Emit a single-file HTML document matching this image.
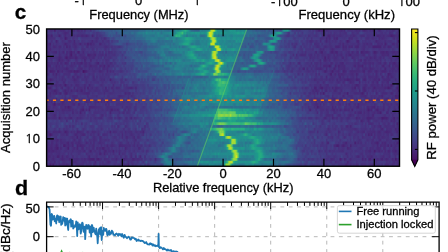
<!DOCTYPE html>
<html><head><meta charset="utf-8"><style>
html,body{margin:0;padding:0;background:#fff;width:448px;height:252px;overflow:hidden}
svg{display:block}
text{font-family:"Liberation Sans",Arial,Helvetica,sans-serif;fill:#000;stroke:#000;stroke-width:0.28px}
</style></head><body>
<svg width="448" height="252" viewBox="0 0 448 252">
<defs><linearGradient id="g0" x1="0" x2="1" y1="0" y2="0"><stop offset=".0021" stop-color="#482475"/><stop offset=".0064" stop-color="#46307e"/><stop offset=".0106" stop-color="#481c6e"/><stop offset=".0149" stop-color="#472c7a"/><stop offset=".0191" stop-color="#481c6e"/><stop offset=".0234" stop-color="#463480"/><stop offset=".0277" stop-color="#472e7c"/><stop offset=".0319" stop-color="#453781"/><stop offset=".0362" stop-color="#482979"/><stop offset=".0404" stop-color="#472f7d"/><stop offset=".0489" stop-color="#482878"/><stop offset=".0532" stop-color="#472e7c"/><stop offset=".0574" stop-color="#482475"/><stop offset=".0660" stop-color="#46337f"/><stop offset=".0745" stop-color="#472a7a"/><stop offset=".0787" stop-color="#433d84"/><stop offset=".0830" stop-color="#472e7c"/><stop offset=".0872" stop-color="#472a7a"/><stop offset=".0915" stop-color="#472f7d"/><stop offset=".1043" stop-color="#472c7a"/><stop offset=".1085" stop-color="#433d84"/><stop offset=".1128" stop-color="#472f7d"/><stop offset=".1213" stop-color="#46337f"/><stop offset=".1255" stop-color="#472d7b"/><stop offset=".1298" stop-color="#424086"/><stop offset=".1340" stop-color="#482576"/><stop offset=".1468" stop-color="#423f85"/><stop offset=".1511" stop-color="#482979"/><stop offset=".1553" stop-color="#463480"/><stop offset=".1596" stop-color="#472c7a"/><stop offset=".1723" stop-color="#46307e"/><stop offset=".1851" stop-color="#443a83"/><stop offset=".1936" stop-color="#472d7b"/><stop offset=".1979" stop-color="#453581"/><stop offset=".2064" stop-color="#472d7b"/><stop offset=".2106" stop-color="#453882"/><stop offset=".2191" stop-color="#472e7c"/><stop offset=".2277" stop-color="#46307e"/><stop offset=".2319" stop-color="#482374"/><stop offset=".2362" stop-color="#433d84"/><stop offset=".2447" stop-color="#472c7a"/><stop offset=".2489" stop-color="#453882"/><stop offset=".2532" stop-color="#46337f"/><stop offset=".2617" stop-color="#424186"/><stop offset=".2660" stop-color="#453882"/><stop offset=".2745" stop-color="#404588"/><stop offset=".2787" stop-color="#46327e"/><stop offset=".2830" stop-color="#423f85"/><stop offset=".2872" stop-color="#472f7d"/><stop offset=".2957" stop-color="#404688"/><stop offset=".3043" stop-color="#414487"/><stop offset=".3085" stop-color="#3c4f8a"/><stop offset=".3128" stop-color="#404588"/><stop offset=".3213" stop-color="#3f4889"/><stop offset=".3255" stop-color="#433e85"/><stop offset=".3298" stop-color="#3f4788"/><stop offset=".3340" stop-color="#30698e"/><stop offset=".3383" stop-color="#31688e"/><stop offset=".3426" stop-color="#2a788e"/><stop offset=".3511" stop-color="#287d8e"/><stop offset=".3553" stop-color="#2c728e"/><stop offset=".3638" stop-color="#3e4a89"/><stop offset=".3681" stop-color="#375b8d"/><stop offset=".3723" stop-color="#375b8d"/><stop offset=".3766" stop-color="#33628d"/><stop offset=".3809" stop-color="#375b8d"/><stop offset=".3851" stop-color="#365d8d"/><stop offset=".3894" stop-color="#3b528b"/><stop offset=".3979" stop-color="#38598c"/><stop offset=".4064" stop-color="#2e6d8e"/><stop offset=".4234" stop-color="#306a8e"/><stop offset=".4277" stop-color="#2c718e"/><stop offset=".4362" stop-color="#2e6d8e"/><stop offset=".4404" stop-color="#2a788e"/><stop offset=".4532" stop-color="#287d8e"/><stop offset=".4574" stop-color="#2c728e"/><stop offset=".4617" stop-color="#228b8d"/><stop offset=".4660" stop-color="#26818e"/><stop offset=".4702" stop-color="#24868e"/><stop offset=".4787" stop-color="#2a788e"/><stop offset=".4830" stop-color="#26828e"/><stop offset=".4872" stop-color="#29798e"/><stop offset=".4915" stop-color="#2a778e"/><stop offset=".4957" stop-color="#277e8e"/><stop offset=".5000" stop-color="#2b758e"/><stop offset=".5043" stop-color="#1f9f88"/><stop offset=".5085" stop-color="#8ed645"/><stop offset=".5170" stop-color="#a5db36"/><stop offset=".5213" stop-color="#48c16e"/><stop offset=".5255" stop-color="#228b8d"/><stop offset=".5298" stop-color="#25848e"/><stop offset=".5340" stop-color="#2b748e"/><stop offset=".5383" stop-color="#26818e"/><stop offset=".5468" stop-color="#2d718e"/><stop offset=".5511" stop-color="#2b748e"/><stop offset=".5596" stop-color="#2c738e"/><stop offset=".5638" stop-color="#25848e"/><stop offset=".5681" stop-color="#228c8d"/><stop offset=".5766" stop-color="#277f8e"/><stop offset=".5809" stop-color="#26828e"/><stop offset=".5851" stop-color="#20928c"/><stop offset=".5894" stop-color="#2b748e"/><stop offset=".5936" stop-color="#27808e"/><stop offset=".6021" stop-color="#2a788e"/><stop offset=".6064" stop-color="#277f8e"/><stop offset=".6106" stop-color="#2e6d8e"/><stop offset=".6149" stop-color="#2a768e"/><stop offset=".6234" stop-color="#2a768e"/><stop offset=".6277" stop-color="#26818e"/><stop offset=".6362" stop-color="#2e6e8e"/><stop offset=".6404" stop-color="#2b758e"/><stop offset=".6447" stop-color="#2d718e"/><stop offset=".6489" stop-color="#33628d"/><stop offset=".6532" stop-color="#2c738e"/><stop offset=".6574" stop-color="#34618d"/><stop offset=".6617" stop-color="#375a8c"/><stop offset=".6660" stop-color="#31678e"/><stop offset=".6702" stop-color="#31688e"/><stop offset=".6787" stop-color="#39568c"/><stop offset=".6872" stop-color="#3e4a89"/><stop offset=".6957" stop-color="#3c508b"/><stop offset=".7000" stop-color="#414487"/><stop offset=".7043" stop-color="#3f4788"/><stop offset=".7213" stop-color="#453882"/><stop offset=".7255" stop-color="#414287"/><stop offset=".7340" stop-color="#463480"/><stop offset=".7426" stop-color="#3f4889"/><stop offset=".7468" stop-color="#433d84"/><stop offset=".7553" stop-color="#453882"/><stop offset=".7638" stop-color="#433e85"/><stop offset=".7681" stop-color="#453882"/><stop offset=".7723" stop-color="#433d84"/><stop offset=".7809" stop-color="#443983"/><stop offset=".7851" stop-color="#46307e"/><stop offset=".7894" stop-color="#453882"/><stop offset=".7936" stop-color="#472f7d"/><stop offset=".8021" stop-color="#414287"/><stop offset=".8106" stop-color="#46337f"/><stop offset=".8149" stop-color="#46327e"/><stop offset=".8191" stop-color="#433d84"/><stop offset=".8234" stop-color="#443b84"/><stop offset=".8277" stop-color="#46327e"/><stop offset=".8447" stop-color="#46307e"/><stop offset=".8489" stop-color="#482374"/><stop offset=".8574" stop-color="#463480"/><stop offset=".8617" stop-color="#472a7a"/><stop offset=".8660" stop-color="#453581"/><stop offset=".8702" stop-color="#472e7c"/><stop offset=".8745" stop-color="#463480"/><stop offset=".8787" stop-color="#482979"/><stop offset=".8830" stop-color="#472c7a"/><stop offset=".8872" stop-color="#424186"/><stop offset=".8915" stop-color="#472c7a"/><stop offset=".9043" stop-color="#472f7d"/><stop offset=".9085" stop-color="#453781"/><stop offset=".9170" stop-color="#472d7b"/><stop offset=".9255" stop-color="#482475"/><stop offset=".9340" stop-color="#463480"/><stop offset=".9383" stop-color="#472f7d"/><stop offset=".9468" stop-color="#453581"/><stop offset=".9511" stop-color="#472d7b"/><stop offset=".9553" stop-color="#433d84"/><stop offset=".9596" stop-color="#472a7a"/><stop offset=".9681" stop-color="#472a7a"/><stop offset=".9723" stop-color="#453581"/><stop offset=".9809" stop-color="#482878"/><stop offset=".9894" stop-color="#463480"/><stop offset=".9936" stop-color="#472c7a"/><stop offset=".9979" stop-color="#472a7a"/></linearGradient>
<linearGradient id="g1" x1="0" x2="1" y1="0" y2="0"><stop offset=".0021" stop-color="#453882"/><stop offset=".0064" stop-color="#453781"/><stop offset=".0106" stop-color="#472c7a"/><stop offset=".0191" stop-color="#46337f"/><stop offset=".0234" stop-color="#482475"/><stop offset=".0277" stop-color="#443983"/><stop offset=".0362" stop-color="#472e7c"/><stop offset=".0404" stop-color="#424186"/><stop offset=".0447" stop-color="#46327e"/><stop offset=".0489" stop-color="#472d7b"/><stop offset=".0617" stop-color="#453882"/><stop offset=".0702" stop-color="#472c7a"/><stop offset=".0830" stop-color="#472a7a"/><stop offset=".0872" stop-color="#46327e"/><stop offset=".0957" stop-color="#46337f"/><stop offset=".1043" stop-color="#472d7b"/><stop offset=".1128" stop-color="#46307e"/><stop offset=".1170" stop-color="#443a83"/><stop offset=".1213" stop-color="#472d7b"/><stop offset=".1298" stop-color="#453882"/><stop offset=".1340" stop-color="#463480"/><stop offset=".1383" stop-color="#482475"/><stop offset=".1426" stop-color="#453882"/><stop offset=".1468" stop-color="#443a83"/><stop offset=".1511" stop-color="#472e7c"/><stop offset=".1553" stop-color="#463480"/><stop offset=".1596" stop-color="#472c7a"/><stop offset=".1638" stop-color="#453882"/><stop offset=".1766" stop-color="#482576"/><stop offset=".1851" stop-color="#443983"/><stop offset=".1979" stop-color="#46307e"/><stop offset=".2021" stop-color="#424186"/><stop offset=".2149" stop-color="#472e7c"/><stop offset=".2191" stop-color="#46337f"/><stop offset=".2234" stop-color="#424186"/><stop offset=".2319" stop-color="#472d7b"/><stop offset=".2362" stop-color="#453781"/><stop offset=".2404" stop-color="#472f7d"/><stop offset=".2532" stop-color="#433d84"/><stop offset=".2574" stop-color="#46337f"/><stop offset=".2617" stop-color="#443983"/><stop offset=".2660" stop-color="#404588"/><stop offset=".2745" stop-color="#46337f"/><stop offset=".2830" stop-color="#39568c"/><stop offset=".2872" stop-color="#433e85"/><stop offset=".3000" stop-color="#3e4989"/><stop offset=".3085" stop-color="#443a83"/><stop offset=".3128" stop-color="#3f4889"/><stop offset=".3213" stop-color="#3e4c8a"/><stop offset=".3255" stop-color="#33638d"/><stop offset=".3340" stop-color="#2d708e"/><stop offset=".3383" stop-color="#27808e"/><stop offset=".3468" stop-color="#27808e"/><stop offset=".3511" stop-color="#287c8e"/><stop offset=".3638" stop-color="#375a8c"/><stop offset=".3723" stop-color="#32658e"/><stop offset=".3851" stop-color="#33638d"/><stop offset=".3894" stop-color="#31668e"/><stop offset=".3936" stop-color="#2d708e"/><stop offset=".3979" stop-color="#2f6b8e"/><stop offset=".4021" stop-color="#2a768e"/><stop offset=".4064" stop-color="#2c728e"/><stop offset=".4106" stop-color="#29798e"/><stop offset=".4149" stop-color="#30698e"/><stop offset=".4191" stop-color="#2a768e"/><stop offset=".4234" stop-color="#2d718e"/><stop offset=".4277" stop-color="#2a778e"/><stop offset=".4362" stop-color="#21908d"/><stop offset=".4404" stop-color="#1f988b"/><stop offset=".4447" stop-color="#228d8d"/><stop offset=".4574" stop-color="#1f968b"/><stop offset=".4617" stop-color="#24878e"/><stop offset=".4660" stop-color="#23898e"/><stop offset=".4702" stop-color="#25838e"/><stop offset=".4745" stop-color="#20928c"/><stop offset=".4872" stop-color="#238a8d"/><stop offset=".4957" stop-color="#20928c"/><stop offset=".5000" stop-color="#228b8d"/><stop offset=".5043" stop-color="#218e8d"/><stop offset=".5085" stop-color="#1f9e89"/><stop offset=".5128" stop-color="#3aba76"/><stop offset=".5170" stop-color="#addc30"/><stop offset=".5255" stop-color="#b8de29"/><stop offset=".5298" stop-color="#2db27d"/><stop offset=".5340" stop-color="#1e9c89"/><stop offset=".5383" stop-color="#1e9c89"/><stop offset=".5426" stop-color="#20928c"/><stop offset=".5468" stop-color="#20938c"/><stop offset=".5596" stop-color="#218f8d"/><stop offset=".5638" stop-color="#1f958b"/><stop offset=".5681" stop-color="#218e8d"/><stop offset=".5766" stop-color="#1f978b"/><stop offset=".5851" stop-color="#27ad81"/><stop offset=".5894" stop-color="#28ae80"/><stop offset=".5936" stop-color="#1fa187"/><stop offset=".5979" stop-color="#1f9f88"/><stop offset=".6021" stop-color="#228b8d"/><stop offset=".6064" stop-color="#26828e"/><stop offset=".6149" stop-color="#25848e"/><stop offset=".6191" stop-color="#238a8d"/><stop offset=".6362" stop-color="#23888e"/><stop offset=".6404" stop-color="#277e8e"/><stop offset=".6447" stop-color="#297a8e"/><stop offset=".6489" stop-color="#2e6d8e"/><stop offset=".6532" stop-color="#2a778e"/><stop offset=".6574" stop-color="#2e6e8e"/><stop offset=".6617" stop-color="#2e6d8e"/><stop offset=".6745" stop-color="#2b758e"/><stop offset=".6787" stop-color="#2d708e"/><stop offset=".6830" stop-color="#2b758e"/><stop offset=".6915" stop-color="#31668e"/><stop offset=".7085" stop-color="#3c508b"/><stop offset=".7170" stop-color="#3c508b"/><stop offset=".7213" stop-color="#424186"/><stop offset=".7255" stop-color="#39558c"/><stop offset=".7298" stop-color="#404688"/><stop offset=".7383" stop-color="#453882"/><stop offset=".7426" stop-color="#3e4c8a"/><stop offset=".7468" stop-color="#3e4a89"/><stop offset=".7511" stop-color="#424186"/><stop offset=".7553" stop-color="#3e4c8a"/><stop offset=".7638" stop-color="#433d84"/><stop offset=".7766" stop-color="#424086"/><stop offset=".7809" stop-color="#472e7c"/><stop offset=".7851" stop-color="#3f4788"/><stop offset=".7894" stop-color="#453882"/><stop offset=".7936" stop-color="#453581"/><stop offset=".7979" stop-color="#443b84"/><stop offset=".8064" stop-color="#472e7c"/><stop offset=".8106" stop-color="#443b84"/><stop offset=".8149" stop-color="#433d84"/><stop offset=".8191" stop-color="#482979"/><stop offset=".8234" stop-color="#46337f"/><stop offset=".8277" stop-color="#46327e"/><stop offset=".8362" stop-color="#453781"/><stop offset=".8404" stop-color="#424186"/><stop offset=".8447" stop-color="#453581"/><stop offset=".8489" stop-color="#453882"/><stop offset=".8532" stop-color="#482374"/><stop offset=".8574" stop-color="#46307e"/><stop offset=".8745" stop-color="#433d84"/><stop offset=".8787" stop-color="#46307e"/><stop offset=".8830" stop-color="#453882"/><stop offset=".9043" stop-color="#463480"/><stop offset=".9085" stop-color="#443b84"/><stop offset=".9128" stop-color="#46337f"/><stop offset=".9298" stop-color="#443a83"/><stop offset=".9340" stop-color="#472c7a"/><stop offset=".9383" stop-color="#453882"/><stop offset=".9596" stop-color="#443a83"/><stop offset=".9638" stop-color="#472d7b"/><stop offset=".9681" stop-color="#463480"/><stop offset=".9723" stop-color="#472e7c"/><stop offset=".9766" stop-color="#443a83"/><stop offset=".9851" stop-color="#482878"/><stop offset=".9894" stop-color="#46327e"/><stop offset=".9936" stop-color="#482979"/><stop offset=".9979" stop-color="#453781"/></linearGradient>
<linearGradient id="g2" x1="0" x2="1" y1="0" y2="0"><stop offset=".0021" stop-color="#482878"/><stop offset=".0064" stop-color="#482878"/><stop offset=".0106" stop-color="#46327e"/><stop offset=".0191" stop-color="#482677"/><stop offset=".0234" stop-color="#472f7d"/><stop offset=".0319" stop-color="#453581"/><stop offset=".0447" stop-color="#482576"/><stop offset=".0532" stop-color="#472e7c"/><stop offset=".0617" stop-color="#472e7c"/><stop offset=".0660" stop-color="#482374"/><stop offset=".0702" stop-color="#472f7d"/><stop offset=".0872" stop-color="#472a7a"/><stop offset=".0957" stop-color="#46327e"/><stop offset=".1000" stop-color="#472a7a"/><stop offset=".1043" stop-color="#472f7d"/><stop offset=".1085" stop-color="#482677"/><stop offset=".1128" stop-color="#472f7d"/><stop offset=".1213" stop-color="#482475"/><stop offset=".1340" stop-color="#482071"/><stop offset=".1383" stop-color="#46327e"/><stop offset=".1426" stop-color="#482374"/><stop offset=".1468" stop-color="#481f70"/><stop offset=".1511" stop-color="#472c7a"/><stop offset=".1553" stop-color="#472c7a"/><stop offset=".1596" stop-color="#443a83"/><stop offset=".1638" stop-color="#472a7a"/><stop offset=".1766" stop-color="#472f7d"/><stop offset=".1809" stop-color="#453882"/><stop offset=".1851" stop-color="#472d7b"/><stop offset=".1936" stop-color="#472f7d"/><stop offset=".1979" stop-color="#482576"/><stop offset=".2021" stop-color="#46307e"/><stop offset=".2149" stop-color="#443983"/><stop offset=".2191" stop-color="#482173"/><stop offset=".2234" stop-color="#472a7a"/><stop offset=".2319" stop-color="#46327e"/><stop offset=".2404" stop-color="#472f7d"/><stop offset=".2447" stop-color="#482374"/><stop offset=".2532" stop-color="#472e7c"/><stop offset=".2574" stop-color="#472a7a"/><stop offset=".2660" stop-color="#472f7d"/><stop offset=".2702" stop-color="#472c7a"/><stop offset=".2745" stop-color="#423f85"/><stop offset=".2787" stop-color="#46307e"/><stop offset=".2872" stop-color="#423f85"/><stop offset=".2915" stop-color="#453781"/><stop offset=".2957" stop-color="#463480"/><stop offset=".3000" stop-color="#424086"/><stop offset=".3043" stop-color="#424086"/><stop offset=".3085" stop-color="#482979"/><stop offset=".3128" stop-color="#443a83"/><stop offset=".3213" stop-color="#404688"/><stop offset=".3255" stop-color="#39568c"/><stop offset=".3298" stop-color="#355f8d"/><stop offset=".3340" stop-color="#297b8e"/><stop offset=".3383" stop-color="#25848e"/><stop offset=".3426" stop-color="#287d8e"/><stop offset=".3468" stop-color="#31678e"/><stop offset=".3511" stop-color="#31688e"/><stop offset=".3553" stop-color="#375b8d"/><stop offset=".3596" stop-color="#3a538b"/><stop offset=".3638" stop-color="#39558c"/><stop offset=".3681" stop-color="#3d4d8a"/><stop offset=".3766" stop-color="#3a548c"/><stop offset=".3809" stop-color="#3b518b"/><stop offset=".3894" stop-color="#34618d"/><stop offset=".3936" stop-color="#39558c"/><stop offset=".3979" stop-color="#365d8d"/><stop offset=".4021" stop-color="#3b528b"/><stop offset=".4106" stop-color="#33628d"/><stop offset=".4149" stop-color="#375a8c"/><stop offset=".4191" stop-color="#32658e"/><stop offset=".4234" stop-color="#33638d"/><stop offset=".4277" stop-color="#2f6b8e"/><stop offset=".4404" stop-color="#2a768e"/><stop offset=".4447" stop-color="#2d718e"/><stop offset=".4532" stop-color="#2f6c8e"/><stop offset=".4574" stop-color="#2e6f8e"/><stop offset=".4660" stop-color="#2e6d8e"/><stop offset=".4702" stop-color="#31668e"/><stop offset=".4830" stop-color="#2c728e"/><stop offset=".4915" stop-color="#2c718e"/><stop offset=".4957" stop-color="#29798e"/><stop offset=".5000" stop-color="#2f6c8e"/><stop offset=".5043" stop-color="#2a768e"/><stop offset=".5085" stop-color="#306a8e"/><stop offset=".5128" stop-color="#24868e"/><stop offset=".5170" stop-color="#29798e"/><stop offset=".5213" stop-color="#23898e"/><stop offset=".5255" stop-color="#3fbc73"/><stop offset=".5298" stop-color="#8bd646"/><stop offset=".5340" stop-color="#a0da39"/><stop offset=".5383" stop-color="#7ad151"/><stop offset=".5426" stop-color="#23898e"/><stop offset=".5468" stop-color="#2b758e"/><stop offset=".5596" stop-color="#2a778e"/><stop offset=".5638" stop-color="#2c728e"/><stop offset=".5723" stop-color="#29798e"/><stop offset=".5766" stop-color="#2a768e"/><stop offset=".5809" stop-color="#27808e"/><stop offset=".5851" stop-color="#277f8e"/><stop offset=".5894" stop-color="#24868e"/><stop offset=".5936" stop-color="#1f978b"/><stop offset=".5979" stop-color="#1e9c89"/><stop offset=".6021" stop-color="#29af7f"/><stop offset=".6064" stop-color="#1f968b"/><stop offset=".6191" stop-color="#32658e"/><stop offset=".6277" stop-color="#2e6f8e"/><stop offset=".6362" stop-color="#33638d"/><stop offset=".6404" stop-color="#2d718e"/><stop offset=".6532" stop-color="#31678e"/><stop offset=".6574" stop-color="#30698e"/><stop offset=".6617" stop-color="#365d8d"/><stop offset=".6660" stop-color="#355e8d"/><stop offset=".6702" stop-color="#3b528b"/><stop offset=".6830" stop-color="#355f8d"/><stop offset=".6957" stop-color="#31688e"/><stop offset=".7043" stop-color="#3b528b"/><stop offset=".7085" stop-color="#3c508b"/><stop offset=".7128" stop-color="#443a83"/><stop offset=".7213" stop-color="#404588"/><stop offset=".7298" stop-color="#453581"/><stop offset=".7340" stop-color="#414287"/><stop offset=".7383" stop-color="#433d84"/><stop offset=".7426" stop-color="#472f7d"/><stop offset=".7468" stop-color="#443a83"/><stop offset=".7553" stop-color="#46327e"/><stop offset=".7596" stop-color="#433d84"/><stop offset=".7638" stop-color="#433d84"/><stop offset=".7681" stop-color="#463480"/><stop offset=".7723" stop-color="#423f85"/><stop offset=".7809" stop-color="#463480"/><stop offset=".7894" stop-color="#463480"/><stop offset=".7936" stop-color="#472e7c"/><stop offset=".8021" stop-color="#453581"/><stop offset=".8064" stop-color="#482878"/><stop offset=".8149" stop-color="#472d7b"/><stop offset=".8191" stop-color="#453882"/><stop offset=".8234" stop-color="#46337f"/><stop offset=".8277" stop-color="#443983"/><stop offset=".8319" stop-color="#482071"/><stop offset=".8362" stop-color="#472a7a"/><stop offset=".8404" stop-color="#443b84"/><stop offset=".8447" stop-color="#482374"/><stop offset=".8532" stop-color="#443a83"/><stop offset=".8617" stop-color="#482878"/><stop offset=".8660" stop-color="#46337f"/><stop offset=".8915" stop-color="#453581"/><stop offset=".8957" stop-color="#482173"/><stop offset=".9000" stop-color="#46327e"/><stop offset=".9043" stop-color="#482475"/><stop offset=".9085" stop-color="#433d84"/><stop offset=".9128" stop-color="#482576"/><stop offset=".9170" stop-color="#482071"/><stop offset=".9213" stop-color="#472f7d"/><stop offset=".9340" stop-color="#472f7d"/><stop offset=".9383" stop-color="#482878"/><stop offset=".9426" stop-color="#46327e"/><stop offset=".9511" stop-color="#482173"/><stop offset=".9553" stop-color="#46327e"/><stop offset=".9638" stop-color="#482576"/><stop offset=".9723" stop-color="#46337f"/><stop offset=".9766" stop-color="#46327e"/><stop offset=".9809" stop-color="#482475"/><stop offset=".9851" stop-color="#46337f"/><stop offset=".9894" stop-color="#48186a"/><stop offset=".9936" stop-color="#472c7a"/><stop offset=".9979" stop-color="#472d7b"/></linearGradient>
<linearGradient id="g3" x1="0" x2="1" y1="0" y2="0"><stop offset=".0021" stop-color="#472e7c"/><stop offset=".0064" stop-color="#482475"/><stop offset=".0149" stop-color="#46327e"/><stop offset=".0191" stop-color="#482979"/><stop offset=".0234" stop-color="#46307e"/><stop offset=".0277" stop-color="#472e7c"/><stop offset=".0319" stop-color="#481f70"/><stop offset=".0404" stop-color="#46337f"/><stop offset=".0447" stop-color="#482475"/><stop offset=".0489" stop-color="#472f7d"/><stop offset=".0532" stop-color="#46327e"/><stop offset=".0574" stop-color="#482677"/><stop offset=".0660" stop-color="#453581"/><stop offset=".0702" stop-color="#453581"/><stop offset=".0745" stop-color="#482979"/><stop offset=".0787" stop-color="#453781"/><stop offset=".0872" stop-color="#46327e"/><stop offset=".0915" stop-color="#443a83"/><stop offset=".1000" stop-color="#46337f"/><stop offset=".1128" stop-color="#443983"/><stop offset=".1213" stop-color="#482576"/><stop offset=".1255" stop-color="#453781"/><stop offset=".1383" stop-color="#46327e"/><stop offset=".1426" stop-color="#472c7a"/><stop offset=".1468" stop-color="#453781"/><stop offset=".1638" stop-color="#46327e"/><stop offset=".1681" stop-color="#453581"/><stop offset=".1723" stop-color="#414487"/><stop offset=".1766" stop-color="#472a7a"/><stop offset=".1809" stop-color="#453781"/><stop offset=".1851" stop-color="#453581"/><stop offset=".1894" stop-color="#433d84"/><stop offset=".1936" stop-color="#472f7d"/><stop offset=".2021" stop-color="#46337f"/><stop offset=".2064" stop-color="#443a83"/><stop offset=".2106" stop-color="#472a7a"/><stop offset=".2149" stop-color="#453781"/><stop offset=".2191" stop-color="#443b84"/><stop offset=".2234" stop-color="#472d7b"/><stop offset=".2277" stop-color="#46327e"/><stop offset=".2319" stop-color="#423f85"/><stop offset=".2404" stop-color="#482878"/><stop offset=".2447" stop-color="#443b84"/><stop offset=".2489" stop-color="#443a83"/><stop offset=".2532" stop-color="#482677"/><stop offset=".2574" stop-color="#404588"/><stop offset=".2660" stop-color="#482677"/><stop offset=".2702" stop-color="#433e85"/><stop offset=".2745" stop-color="#424186"/><stop offset=".2787" stop-color="#482979"/><stop offset=".2830" stop-color="#414287"/><stop offset=".2915" stop-color="#433d84"/><stop offset=".2957" stop-color="#404688"/><stop offset=".3000" stop-color="#424086"/><stop offset=".3043" stop-color="#3f4889"/><stop offset=".3085" stop-color="#404688"/><stop offset=".3255" stop-color="#2a788e"/><stop offset=".3298" stop-color="#23888e"/><stop offset=".3426" stop-color="#2d708e"/><stop offset=".3468" stop-color="#3b518b"/><stop offset=".3553" stop-color="#3a538b"/><stop offset=".3596" stop-color="#31668e"/><stop offset=".3638" stop-color="#365c8d"/><stop offset=".3723" stop-color="#34608d"/><stop offset=".3766" stop-color="#32648e"/><stop offset=".3851" stop-color="#355f8d"/><stop offset=".3894" stop-color="#2e6f8e"/><stop offset=".3979" stop-color="#2d718e"/><stop offset=".4021" stop-color="#2b748e"/><stop offset=".4064" stop-color="#2e6d8e"/><stop offset=".4234" stop-color="#2f6b8e"/><stop offset=".4277" stop-color="#2b758e"/><stop offset=".4319" stop-color="#31668e"/><stop offset=".4404" stop-color="#26828e"/><stop offset=".4447" stop-color="#287c8e"/><stop offset=".4489" stop-color="#25838e"/><stop offset=".4574" stop-color="#297a8e"/><stop offset=".4660" stop-color="#25858e"/><stop offset=".4745" stop-color="#2a768e"/><stop offset=".4787" stop-color="#27808e"/><stop offset=".4830" stop-color="#2b758e"/><stop offset=".4872" stop-color="#25858e"/><stop offset=".4915" stop-color="#26828e"/><stop offset=".4957" stop-color="#25848e"/><stop offset=".5043" stop-color="#27808e"/><stop offset=".5085" stop-color="#26828e"/><stop offset=".5128" stop-color="#228b8d"/><stop offset=".5170" stop-color="#26818e"/><stop offset=".5213" stop-color="#26818e"/><stop offset=".5255" stop-color="#218e8d"/><stop offset=".5298" stop-color="#60ca60"/><stop offset=".5340" stop-color="#a5db36"/><stop offset=".5383" stop-color="#dae319"/><stop offset=".5426" stop-color="#69cd5b"/><stop offset=".5468" stop-color="#20928c"/><stop offset=".5511" stop-color="#24878e"/><stop offset=".5596" stop-color="#287d8e"/><stop offset=".5638" stop-color="#25838e"/><stop offset=".5681" stop-color="#287c8e"/><stop offset=".5766" stop-color="#25858e"/><stop offset=".5851" stop-color="#2a788e"/><stop offset=".5894" stop-color="#218e8d"/><stop offset=".5936" stop-color="#1f968b"/><stop offset=".5979" stop-color="#1f988b"/><stop offset=".6021" stop-color="#23a983"/><stop offset=".6064" stop-color="#25ab82"/><stop offset=".6106" stop-color="#21a685"/><stop offset=".6191" stop-color="#238a8d"/><stop offset=".6277" stop-color="#24878e"/><stop offset=".6362" stop-color="#277e8e"/><stop offset=".6404" stop-color="#26828e"/><stop offset=".6447" stop-color="#297b8e"/><stop offset=".6489" stop-color="#27808e"/><stop offset=".6532" stop-color="#2c728e"/><stop offset=".6574" stop-color="#2d708e"/><stop offset=".6617" stop-color="#2a778e"/><stop offset=".6660" stop-color="#2e6e8e"/><stop offset=".6702" stop-color="#2f6b8e"/><stop offset=".6745" stop-color="#34618d"/><stop offset=".6787" stop-color="#31688e"/><stop offset=".6830" stop-color="#32648e"/><stop offset=".6915" stop-color="#2e6d8e"/><stop offset=".6957" stop-color="#31678e"/><stop offset=".7000" stop-color="#2f6c8e"/><stop offset=".7085" stop-color="#365d8d"/><stop offset=".7128" stop-color="#3e4a89"/><stop offset=".7298" stop-color="#414287"/><stop offset=".7340" stop-color="#443a83"/><stop offset=".7426" stop-color="#404588"/><stop offset=".7468" stop-color="#423f85"/><stop offset=".7511" stop-color="#3e4989"/><stop offset=".7681" stop-color="#423f85"/><stop offset=".7723" stop-color="#414487"/><stop offset=".7766" stop-color="#463480"/><stop offset=".7809" stop-color="#414287"/><stop offset=".7979" stop-color="#46327e"/><stop offset=".8106" stop-color="#453781"/><stop offset=".8149" stop-color="#472e7c"/><stop offset=".8277" stop-color="#443a83"/><stop offset=".8319" stop-color="#463480"/><stop offset=".8362" stop-color="#404688"/><stop offset=".8404" stop-color="#453781"/><stop offset=".8489" stop-color="#453781"/><stop offset=".8532" stop-color="#472c7a"/><stop offset=".8574" stop-color="#443983"/><stop offset=".8660" stop-color="#46307e"/><stop offset=".8702" stop-color="#443a83"/><stop offset=".8830" stop-color="#482576"/><stop offset=".8915" stop-color="#453781"/><stop offset=".8957" stop-color="#472a7a"/><stop offset=".9043" stop-color="#443a83"/><stop offset=".9085" stop-color="#472d7b"/><stop offset=".9170" stop-color="#472c7a"/><stop offset=".9213" stop-color="#482576"/><stop offset=".9255" stop-color="#46307e"/><stop offset=".9298" stop-color="#463480"/><stop offset=".9340" stop-color="#46307e"/><stop offset=".9383" stop-color="#453882"/><stop offset=".9553" stop-color="#482979"/><stop offset=".9596" stop-color="#463480"/><stop offset=".9681" stop-color="#46307e"/><stop offset=".9723" stop-color="#482979"/><stop offset=".9766" stop-color="#453882"/><stop offset=".9851" stop-color="#463480"/><stop offset=".9894" stop-color="#482878"/><stop offset=".9936" stop-color="#424086"/><stop offset=".9979" stop-color="#463480"/></linearGradient>
<linearGradient id="g4" x1="0" x2="1" y1="0" y2="0"><stop offset=".0021" stop-color="#482979"/><stop offset=".0064" stop-color="#472f7d"/><stop offset=".0149" stop-color="#472c7a"/><stop offset=".0191" stop-color="#463480"/><stop offset=".0362" stop-color="#472a7a"/><stop offset=".0404" stop-color="#46337f"/><stop offset=".0489" stop-color="#472f7d"/><stop offset=".0574" stop-color="#433d84"/><stop offset=".0617" stop-color="#472d7b"/><stop offset=".0660" stop-color="#453882"/><stop offset=".0702" stop-color="#472d7b"/><stop offset=".0745" stop-color="#453882"/><stop offset=".0872" stop-color="#463480"/><stop offset=".0915" stop-color="#472d7b"/><stop offset=".1000" stop-color="#443983"/><stop offset=".1043" stop-color="#453882"/><stop offset=".1085" stop-color="#424186"/><stop offset=".1128" stop-color="#472c7a"/><stop offset=".1213" stop-color="#46337f"/><stop offset=".1298" stop-color="#46327e"/><stop offset=".1340" stop-color="#443b84"/><stop offset=".1426" stop-color="#472e7c"/><stop offset=".1468" stop-color="#453581"/><stop offset=".1511" stop-color="#482173"/><stop offset=".1596" stop-color="#453581"/><stop offset=".1638" stop-color="#482475"/><stop offset=".1681" stop-color="#46327e"/><stop offset=".1723" stop-color="#472d7b"/><stop offset=".1766" stop-color="#443a83"/><stop offset=".1809" stop-color="#46307e"/><stop offset=".1851" stop-color="#453882"/><stop offset=".1894" stop-color="#472d7b"/><stop offset=".1936" stop-color="#453581"/><stop offset=".2021" stop-color="#443b84"/><stop offset=".2064" stop-color="#482576"/><stop offset=".2106" stop-color="#443a83"/><stop offset=".2149" stop-color="#472e7c"/><stop offset=".2234" stop-color="#46337f"/><stop offset=".2277" stop-color="#424086"/><stop offset=".2404" stop-color="#472c7a"/><stop offset=".2447" stop-color="#443983"/><stop offset=".2489" stop-color="#443983"/><stop offset=".2532" stop-color="#46327e"/><stop offset=".2574" stop-color="#3f4889"/><stop offset=".2660" stop-color="#443a83"/><stop offset=".2787" stop-color="#424086"/><stop offset=".2830" stop-color="#453581"/><stop offset=".2872" stop-color="#404588"/><stop offset=".3000" stop-color="#3e4989"/><stop offset=".3043" stop-color="#404688"/><stop offset=".3085" stop-color="#3a548c"/><stop offset=".3128" stop-color="#3c508b"/><stop offset=".3213" stop-color="#365c8d"/><stop offset=".3255" stop-color="#375a8c"/><stop offset=".3298" stop-color="#2d708e"/><stop offset=".3340" stop-color="#2c718e"/><stop offset=".3383" stop-color="#23888e"/><stop offset=".3426" stop-color="#297a8e"/><stop offset=".3468" stop-color="#297b8e"/><stop offset=".3511" stop-color="#2b758e"/><stop offset=".3596" stop-color="#365c8d"/><stop offset=".3681" stop-color="#34618d"/><stop offset=".3809" stop-color="#375a8c"/><stop offset=".3894" stop-color="#2f6b8e"/><stop offset=".3936" stop-color="#31668e"/><stop offset=".3979" stop-color="#2e6e8e"/><stop offset=".4021" stop-color="#32648e"/><stop offset=".4064" stop-color="#33638d"/><stop offset=".4106" stop-color="#2e6f8e"/><stop offset=".4191" stop-color="#2c738e"/><stop offset=".4234" stop-color="#2e6f8e"/><stop offset=".4277" stop-color="#2b758e"/><stop offset=".4319" stop-color="#2c718e"/><stop offset=".4362" stop-color="#2c738e"/><stop offset=".4404" stop-color="#26828e"/><stop offset=".4489" stop-color="#228c8d"/><stop offset=".4532" stop-color="#26828e"/><stop offset=".4574" stop-color="#228b8d"/><stop offset=".4617" stop-color="#26828e"/><stop offset=".4702" stop-color="#228b8d"/><stop offset=".4745" stop-color="#228c8d"/><stop offset=".4787" stop-color="#20938c"/><stop offset=".4830" stop-color="#23888e"/><stop offset=".4872" stop-color="#1f968b"/><stop offset=".4915" stop-color="#23898e"/><stop offset=".5085" stop-color="#228d8d"/><stop offset=".5170" stop-color="#238a8d"/><stop offset=".5213" stop-color="#20928c"/><stop offset=".5255" stop-color="#20928c"/><stop offset=".5298" stop-color="#54c568"/><stop offset=".5340" stop-color="#b5de2b"/><stop offset=".5383" stop-color="#a5db36"/><stop offset=".5426" stop-color="#6ccd5a"/><stop offset=".5468" stop-color="#1f9a8a"/><stop offset=".5511" stop-color="#228c8d"/><stop offset=".5553" stop-color="#20938c"/><stop offset=".5681" stop-color="#218f8d"/><stop offset=".5809" stop-color="#20928c"/><stop offset=".5894" stop-color="#21908d"/><stop offset=".5979" stop-color="#1e9b8a"/><stop offset=".6021" stop-color="#23a983"/><stop offset=".6064" stop-color="#25ab82"/><stop offset=".6106" stop-color="#21a585"/><stop offset=".6149" stop-color="#228d8d"/><stop offset=".6234" stop-color="#287c8e"/><stop offset=".6277" stop-color="#297a8e"/><stop offset=".6319" stop-color="#26828e"/><stop offset=".6362" stop-color="#2a768e"/><stop offset=".6404" stop-color="#228b8d"/><stop offset=".6447" stop-color="#238a8d"/><stop offset=".6489" stop-color="#26828e"/><stop offset=".6532" stop-color="#25838e"/><stop offset=".6617" stop-color="#287c8e"/><stop offset=".6702" stop-color="#2e6f8e"/><stop offset=".6745" stop-color="#2d718e"/><stop offset=".6830" stop-color="#31688e"/><stop offset=".6872" stop-color="#2b758e"/><stop offset=".6915" stop-color="#2d718e"/><stop offset=".6957" stop-color="#297a8e"/><stop offset=".7000" stop-color="#31688e"/><stop offset=".7085" stop-color="#38588c"/><stop offset=".7128" stop-color="#3d4e8a"/><stop offset=".7213" stop-color="#3e4c8a"/><stop offset=".7255" stop-color="#433e85"/><stop offset=".7298" stop-color="#3e4a89"/><stop offset=".7383" stop-color="#443a83"/><stop offset=".7426" stop-color="#443983"/><stop offset=".7468" stop-color="#3d4d8a"/><stop offset=".7511" stop-color="#453882"/><stop offset=".7553" stop-color="#414487"/><stop offset=".7596" stop-color="#443a83"/><stop offset=".7638" stop-color="#443a83"/><stop offset=".7681" stop-color="#404688"/><stop offset=".7723" stop-color="#453781"/><stop offset=".7809" stop-color="#433e85"/><stop offset=".7851" stop-color="#443983"/><stop offset=".7894" stop-color="#423f85"/><stop offset=".7936" stop-color="#472f7d"/><stop offset=".7979" stop-color="#433d84"/><stop offset=".8021" stop-color="#424086"/><stop offset=".8106" stop-color="#46337f"/><stop offset=".8149" stop-color="#423f85"/><stop offset=".8191" stop-color="#453581"/><stop offset=".8234" stop-color="#443b84"/><stop offset=".8362" stop-color="#443b84"/><stop offset=".8447" stop-color="#453882"/><stop offset=".8489" stop-color="#482677"/><stop offset=".8574" stop-color="#443983"/><stop offset=".8617" stop-color="#46307e"/><stop offset=".8660" stop-color="#453882"/><stop offset=".8745" stop-color="#453781"/><stop offset=".8787" stop-color="#433e85"/><stop offset=".8915" stop-color="#472d7b"/><stop offset=".8957" stop-color="#472e7c"/><stop offset=".9000" stop-color="#433d84"/><stop offset=".9043" stop-color="#472f7d"/><stop offset=".9128" stop-color="#46337f"/><stop offset=".9170" stop-color="#472d7b"/><stop offset=".9213" stop-color="#453581"/><stop offset=".9255" stop-color="#472f7d"/><stop offset=".9298" stop-color="#472f7d"/><stop offset=".9340" stop-color="#423f85"/><stop offset=".9468" stop-color="#463480"/><stop offset=".9511" stop-color="#433d84"/><stop offset=".9553" stop-color="#472f7d"/><stop offset=".9638" stop-color="#46307e"/><stop offset=".9723" stop-color="#472c7a"/><stop offset=".9766" stop-color="#433e85"/><stop offset=".9851" stop-color="#472c7a"/><stop offset=".9979" stop-color="#472e7c"/></linearGradient>
<linearGradient id="g5" x1="0" x2="1" y1="0" y2="0"><stop offset=".0021" stop-color="#472c7a"/><stop offset=".0064" stop-color="#482071"/><stop offset=".0106" stop-color="#472a7a"/><stop offset=".0191" stop-color="#482475"/><stop offset=".0234" stop-color="#472c7a"/><stop offset=".0277" stop-color="#482979"/><stop offset=".0319" stop-color="#472e7c"/><stop offset=".0362" stop-color="#472c7a"/><stop offset=".0447" stop-color="#453581"/><stop offset=".0532" stop-color="#472d7b"/><stop offset=".0617" stop-color="#46327e"/><stop offset=".0702" stop-color="#46337f"/><stop offset=".0745" stop-color="#472a7a"/><stop offset=".0787" stop-color="#46337f"/><stop offset=".0957" stop-color="#472c7a"/><stop offset=".1000" stop-color="#46327e"/><stop offset=".1085" stop-color="#482677"/><stop offset=".1128" stop-color="#443983"/><stop offset=".1170" stop-color="#453781"/><stop offset=".1255" stop-color="#482071"/><stop offset=".1298" stop-color="#46337f"/><stop offset=".1383" stop-color="#472d7b"/><stop offset=".1426" stop-color="#463480"/><stop offset=".1468" stop-color="#46327e"/><stop offset=".1511" stop-color="#482878"/><stop offset=".1553" stop-color="#453581"/><stop offset=".1596" stop-color="#463480"/><stop offset=".1638" stop-color="#482878"/><stop offset=".1681" stop-color="#482576"/><stop offset=".1723" stop-color="#46327e"/><stop offset=".1766" stop-color="#472a7a"/><stop offset=".1851" stop-color="#46307e"/><stop offset=".1894" stop-color="#482173"/><stop offset=".1936" stop-color="#453581"/><stop offset=".1979" stop-color="#472d7b"/><stop offset=".2021" stop-color="#453581"/><stop offset=".2064" stop-color="#472a7a"/><stop offset=".2149" stop-color="#453781"/><stop offset=".2234" stop-color="#472e7c"/><stop offset=".2277" stop-color="#443983"/><stop offset=".2362" stop-color="#472f7d"/><stop offset=".2404" stop-color="#443983"/><stop offset=".2489" stop-color="#472e7c"/><stop offset=".2532" stop-color="#443a83"/><stop offset=".2574" stop-color="#46337f"/><stop offset=".2660" stop-color="#443983"/><stop offset=".2745" stop-color="#472f7d"/><stop offset=".2787" stop-color="#424086"/><stop offset=".2830" stop-color="#472e7c"/><stop offset=".2872" stop-color="#472f7d"/><stop offset=".2915" stop-color="#433e85"/><stop offset=".2957" stop-color="#414287"/><stop offset=".3000" stop-color="#443983"/><stop offset=".3043" stop-color="#404688"/><stop offset=".3085" stop-color="#3d4d8a"/><stop offset=".3128" stop-color="#433e85"/><stop offset=".3170" stop-color="#3c4f8a"/><stop offset=".3213" stop-color="#39568c"/><stop offset=".3255" stop-color="#404588"/><stop offset=".3298" stop-color="#424186"/><stop offset=".3340" stop-color="#3b518b"/><stop offset=".3383" stop-color="#3b528b"/><stop offset=".3468" stop-color="#365c8d"/><stop offset=".3553" stop-color="#277e8e"/><stop offset=".3596" stop-color="#25848e"/><stop offset=".3638" stop-color="#277f8e"/><stop offset=".3681" stop-color="#2e6e8e"/><stop offset=".3723" stop-color="#32658e"/><stop offset=".3766" stop-color="#31668e"/><stop offset=".3809" stop-color="#3a538b"/><stop offset=".3894" stop-color="#365d8d"/><stop offset=".3936" stop-color="#31678e"/><stop offset=".4021" stop-color="#365d8d"/><stop offset=".4106" stop-color="#365c8d"/><stop offset=".4149" stop-color="#3c508b"/><stop offset=".4191" stop-color="#355e8d"/><stop offset=".4234" stop-color="#34608d"/><stop offset=".4277" stop-color="#375b8d"/><stop offset=".4319" stop-color="#365d8d"/><stop offset=".4362" stop-color="#2c728e"/><stop offset=".4447" stop-color="#26828e"/><stop offset=".4532" stop-color="#287d8e"/><stop offset=".4574" stop-color="#25848e"/><stop offset=".4617" stop-color="#287d8e"/><stop offset=".4660" stop-color="#25858e"/><stop offset=".4702" stop-color="#287c8e"/><stop offset=".4787" stop-color="#26828e"/><stop offset=".4872" stop-color="#27808e"/><stop offset=".4915" stop-color="#23888e"/><stop offset=".4957" stop-color="#29798e"/><stop offset=".5000" stop-color="#277f8e"/><stop offset=".5085" stop-color="#277e8e"/><stop offset=".5170" stop-color="#20928c"/><stop offset=".5213" stop-color="#228c8d"/><stop offset=".5255" stop-color="#54c568"/><stop offset=".5298" stop-color="#9bd93c"/><stop offset=".5340" stop-color="#b0dd2f"/><stop offset=".5383" stop-color="#7ad151"/><stop offset=".5426" stop-color="#1f968b"/><stop offset=".5468" stop-color="#24868e"/><stop offset=".5511" stop-color="#277e8e"/><stop offset=".5553" stop-color="#24868e"/><stop offset=".5638" stop-color="#297b8e"/><stop offset=".5681" stop-color="#26828e"/><stop offset=".5723" stop-color="#287c8e"/><stop offset=".5766" stop-color="#238a8d"/><stop offset=".5809" stop-color="#26828e"/><stop offset=".5851" stop-color="#25838e"/><stop offset=".5936" stop-color="#1f9e89"/><stop offset=".6021" stop-color="#27ad81"/><stop offset=".6149" stop-color="#24868e"/><stop offset=".6234" stop-color="#2a768e"/><stop offset=".6277" stop-color="#297b8e"/><stop offset=".6319" stop-color="#2e6e8e"/><stop offset=".6362" stop-color="#2d708e"/><stop offset=".6404" stop-color="#2f6b8e"/><stop offset=".6447" stop-color="#2e6f8e"/><stop offset=".6489" stop-color="#33628d"/><stop offset=".6532" stop-color="#355f8d"/><stop offset=".6574" stop-color="#31668e"/><stop offset=".6617" stop-color="#365d8d"/><stop offset=".6660" stop-color="#33628d"/><stop offset=".6702" stop-color="#365d8d"/><stop offset=".6745" stop-color="#355f8d"/><stop offset=".6787" stop-color="#31688e"/><stop offset=".6872" stop-color="#2f6b8e"/><stop offset=".7000" stop-color="#355f8d"/><stop offset=".7043" stop-color="#34618d"/><stop offset=".7085" stop-color="#3a538b"/><stop offset=".7128" stop-color="#39568c"/><stop offset=".7255" stop-color="#453781"/><stop offset=".7298" stop-color="#46337f"/><stop offset=".7340" stop-color="#424186"/><stop offset=".7383" stop-color="#453882"/><stop offset=".7426" stop-color="#424086"/><stop offset=".7468" stop-color="#433e85"/><stop offset=".7511" stop-color="#46327e"/><stop offset=".7596" stop-color="#414287"/><stop offset=".7681" stop-color="#423f85"/><stop offset=".7723" stop-color="#472a7a"/><stop offset=".7766" stop-color="#453581"/><stop offset=".7809" stop-color="#463480"/><stop offset=".7851" stop-color="#433e85"/><stop offset=".7894" stop-color="#472d7b"/><stop offset=".7979" stop-color="#443983"/><stop offset=".8021" stop-color="#472a7a"/><stop offset=".8064" stop-color="#463480"/><stop offset=".8149" stop-color="#472f7d"/><stop offset=".8191" stop-color="#453581"/><stop offset=".8404" stop-color="#472c7a"/><stop offset=".8447" stop-color="#453781"/><stop offset=".8532" stop-color="#453581"/><stop offset=".8617" stop-color="#46337f"/><stop offset=".8660" stop-color="#472f7d"/><stop offset=".8702" stop-color="#443983"/><stop offset=".8745" stop-color="#472f7d"/><stop offset=".8915" stop-color="#453581"/><stop offset=".8957" stop-color="#472f7d"/><stop offset=".9000" stop-color="#453882"/><stop offset=".9043" stop-color="#472c7a"/><stop offset=".9085" stop-color="#472f7d"/><stop offset=".9170" stop-color="#482576"/><stop offset=".9213" stop-color="#46307e"/><stop offset=".9255" stop-color="#46307e"/><stop offset=".9298" stop-color="#481c6e"/><stop offset=".9340" stop-color="#472d7b"/><stop offset=".9383" stop-color="#472d7b"/><stop offset=".9426" stop-color="#482475"/><stop offset=".9468" stop-color="#472e7c"/><stop offset=".9511" stop-color="#482979"/><stop offset=".9553" stop-color="#453781"/><stop offset=".9596" stop-color="#482677"/><stop offset=".9638" stop-color="#463480"/><stop offset=".9681" stop-color="#482576"/><stop offset=".9723" stop-color="#482677"/><stop offset=".9766" stop-color="#453781"/><stop offset=".9809" stop-color="#482878"/><stop offset=".9851" stop-color="#482979"/><stop offset=".9894" stop-color="#482173"/><stop offset=".9979" stop-color="#453581"/></linearGradient>
<linearGradient id="g6" x1="0" x2="1" y1="0" y2="0"><stop offset=".0021" stop-color="#472c7a"/><stop offset=".0106" stop-color="#482979"/><stop offset=".0149" stop-color="#482576"/><stop offset=".0191" stop-color="#472f7d"/><stop offset=".0319" stop-color="#481d6f"/><stop offset=".0362" stop-color="#46327e"/><stop offset=".0404" stop-color="#482677"/><stop offset=".0447" stop-color="#46327e"/><stop offset=".0489" stop-color="#453581"/><stop offset=".0574" stop-color="#472c7a"/><stop offset=".0617" stop-color="#481d6f"/><stop offset=".0660" stop-color="#443983"/><stop offset=".0787" stop-color="#482979"/><stop offset=".0830" stop-color="#46337f"/><stop offset=".0872" stop-color="#482374"/><stop offset=".0915" stop-color="#463480"/><stop offset=".0957" stop-color="#453781"/><stop offset=".1000" stop-color="#482878"/><stop offset=".1043" stop-color="#482979"/><stop offset=".1085" stop-color="#433d84"/><stop offset=".1128" stop-color="#472d7b"/><stop offset=".1170" stop-color="#46327e"/><stop offset=".1213" stop-color="#472e7c"/><stop offset=".1255" stop-color="#453882"/><stop offset=".1298" stop-color="#472d7b"/><stop offset=".1340" stop-color="#472a7a"/><stop offset=".1383" stop-color="#443b84"/><stop offset=".1426" stop-color="#482677"/><stop offset=".1468" stop-color="#472f7d"/><stop offset=".1511" stop-color="#482878"/><stop offset=".1553" stop-color="#472d7b"/><stop offset=".1596" stop-color="#481f70"/><stop offset=".1681" stop-color="#46327e"/><stop offset=".1766" stop-color="#472a7a"/><stop offset=".1809" stop-color="#453781"/><stop offset=".1851" stop-color="#472e7c"/><stop offset=".1894" stop-color="#443983"/><stop offset=".1979" stop-color="#46337f"/><stop offset=".2021" stop-color="#453882"/><stop offset=".2064" stop-color="#472e7c"/><stop offset=".2106" stop-color="#433e85"/><stop offset=".2149" stop-color="#46337f"/><stop offset=".2191" stop-color="#433d84"/><stop offset=".2234" stop-color="#482576"/><stop offset=".2319" stop-color="#46337f"/><stop offset=".2362" stop-color="#46327e"/><stop offset=".2404" stop-color="#443983"/><stop offset=".2489" stop-color="#46337f"/><stop offset=".2574" stop-color="#453581"/><stop offset=".2617" stop-color="#482475"/><stop offset=".2702" stop-color="#443b84"/><stop offset=".2745" stop-color="#453781"/><stop offset=".2787" stop-color="#414487"/><stop offset=".2872" stop-color="#453882"/><stop offset=".3000" stop-color="#3e4a89"/><stop offset=".3085" stop-color="#3f4788"/><stop offset=".3128" stop-color="#424086"/><stop offset=".3170" stop-color="#3d4e8a"/><stop offset=".3213" stop-color="#3f4788"/><stop offset=".3255" stop-color="#3d4e8a"/><stop offset=".3340" stop-color="#3d4d8a"/><stop offset=".3383" stop-color="#375a8c"/><stop offset=".3426" stop-color="#365c8d"/><stop offset=".3468" stop-color="#2d708e"/><stop offset=".3511" stop-color="#2c728e"/><stop offset=".3596" stop-color="#25858e"/><stop offset=".3638" stop-color="#287d8e"/><stop offset=".3681" stop-color="#31668e"/><stop offset=".3723" stop-color="#30698e"/><stop offset=".3809" stop-color="#38598c"/><stop offset=".3851" stop-color="#33628d"/><stop offset=".3936" stop-color="#31678e"/><stop offset=".3979" stop-color="#34608d"/><stop offset=".4021" stop-color="#2f6b8e"/><stop offset=".4064" stop-color="#32648e"/><stop offset=".4106" stop-color="#2e6d8e"/><stop offset=".4149" stop-color="#31668e"/><stop offset=".4191" stop-color="#31668e"/><stop offset=".4234" stop-color="#2c738e"/><stop offset=".4277" stop-color="#2f6c8e"/><stop offset=".4319" stop-color="#2c728e"/><stop offset=".4362" stop-color="#2c728e"/><stop offset=".4404" stop-color="#2a788e"/><stop offset=".4489" stop-color="#297b8e"/><stop offset=".4532" stop-color="#26828e"/><stop offset=".4617" stop-color="#29798e"/><stop offset=".4702" stop-color="#277f8e"/><stop offset=".4872" stop-color="#287c8e"/><stop offset=".4957" stop-color="#25858e"/><stop offset=".5000" stop-color="#277f8e"/><stop offset=".5085" stop-color="#218e8d"/><stop offset=".5128" stop-color="#29af7f"/><stop offset=".5170" stop-color="#a2da37"/><stop offset=".5213" stop-color="#bddf26"/><stop offset=".5255" stop-color="#8ed645"/><stop offset=".5298" stop-color="#21a685"/><stop offset=".5340" stop-color="#21918c"/><stop offset=".5426" stop-color="#1f988b"/><stop offset=".5468" stop-color="#218e8d"/><stop offset=".5511" stop-color="#1f968b"/><stop offset=".5596" stop-color="#1f958b"/><stop offset=".5638" stop-color="#26828e"/><stop offset=".5766" stop-color="#21908d"/><stop offset=".5851" stop-color="#24aa83"/><stop offset=".5936" stop-color="#1f9f88"/><stop offset=".6021" stop-color="#1e9d89"/><stop offset=".6106" stop-color="#218f8d"/><stop offset=".6149" stop-color="#27808e"/><stop offset=".6191" stop-color="#29798e"/><stop offset=".6234" stop-color="#27808e"/><stop offset=".6277" stop-color="#297a8e"/><stop offset=".6319" stop-color="#26828e"/><stop offset=".6362" stop-color="#2c728e"/><stop offset=".6447" stop-color="#27808e"/><stop offset=".6489" stop-color="#297b8e"/><stop offset=".6574" stop-color="#306a8e"/><stop offset=".6617" stop-color="#2d718e"/><stop offset=".6660" stop-color="#30698e"/><stop offset=".6702" stop-color="#2c718e"/><stop offset=".6787" stop-color="#2c738e"/><stop offset=".6830" stop-color="#30698e"/><stop offset=".6915" stop-color="#31688e"/><stop offset=".6957" stop-color="#33628d"/><stop offset=".7000" stop-color="#3b518b"/><stop offset=".7043" stop-color="#3c4f8a"/><stop offset=".7085" stop-color="#433d84"/><stop offset=".7128" stop-color="#39558c"/><stop offset=".7170" stop-color="#3e4989"/><stop offset=".7255" stop-color="#414487"/><stop offset=".7298" stop-color="#443983"/><stop offset=".7383" stop-color="#433d84"/><stop offset=".7426" stop-color="#443983"/><stop offset=".7511" stop-color="#414487"/><stop offset=".7596" stop-color="#423f85"/><stop offset=".7638" stop-color="#3e4c8a"/><stop offset=".7681" stop-color="#453882"/><stop offset=".7723" stop-color="#424086"/><stop offset=".7766" stop-color="#453882"/><stop offset=".7809" stop-color="#404588"/><stop offset=".7851" stop-color="#463480"/><stop offset=".7894" stop-color="#453882"/><stop offset=".7936" stop-color="#472e7c"/><stop offset=".7979" stop-color="#423f85"/><stop offset=".8064" stop-color="#453882"/><stop offset=".8106" stop-color="#424086"/><stop offset=".8149" stop-color="#46337f"/><stop offset=".8191" stop-color="#46337f"/><stop offset=".8234" stop-color="#433e85"/><stop offset=".8277" stop-color="#472d7b"/><stop offset=".8319" stop-color="#463480"/><stop offset=".8404" stop-color="#472e7c"/><stop offset=".8489" stop-color="#453882"/><stop offset=".8532" stop-color="#482475"/><stop offset=".8574" stop-color="#472d7b"/><stop offset=".8617" stop-color="#472d7b"/><stop offset=".8660" stop-color="#453781"/><stop offset=".8745" stop-color="#443983"/><stop offset=".8915" stop-color="#472d7b"/><stop offset=".9000" stop-color="#433d84"/><stop offset=".9085" stop-color="#472d7b"/><stop offset=".9128" stop-color="#453882"/><stop offset=".9170" stop-color="#472a7a"/><stop offset=".9213" stop-color="#472f7d"/><stop offset=".9255" stop-color="#472d7b"/><stop offset=".9298" stop-color="#453581"/><stop offset=".9383" stop-color="#482878"/><stop offset=".9468" stop-color="#472d7b"/><stop offset=".9511" stop-color="#433e85"/><stop offset=".9553" stop-color="#482878"/><stop offset=".9596" stop-color="#482979"/><stop offset=".9638" stop-color="#453882"/><stop offset=".9681" stop-color="#443983"/><stop offset=".9723" stop-color="#472d7b"/><stop offset=".9766" stop-color="#453882"/><stop offset=".9851" stop-color="#482979"/><stop offset=".9979" stop-color="#453882"/></linearGradient>
<linearGradient id="g7" x1="0" x2="1" y1="0" y2="0"><stop offset=".0021" stop-color="#472a7a"/><stop offset=".0064" stop-color="#472e7c"/><stop offset=".0149" stop-color="#482878"/><stop offset=".0191" stop-color="#472f7d"/><stop offset=".0234" stop-color="#472e7c"/><stop offset=".0277" stop-color="#482475"/><stop offset=".0319" stop-color="#482878"/><stop offset=".0362" stop-color="#453781"/><stop offset=".0404" stop-color="#472c7a"/><stop offset=".0447" stop-color="#443983"/><stop offset=".0489" stop-color="#481c6e"/><stop offset=".0574" stop-color="#472d7b"/><stop offset=".0617" stop-color="#482677"/><stop offset=".0660" stop-color="#472e7c"/><stop offset=".0702" stop-color="#472e7c"/><stop offset=".0745" stop-color="#482475"/><stop offset=".0787" stop-color="#443a83"/><stop offset=".0830" stop-color="#443a83"/><stop offset=".0872" stop-color="#482374"/><stop offset=".0915" stop-color="#472c7a"/><stop offset=".0957" stop-color="#482576"/><stop offset=".1085" stop-color="#472d7b"/><stop offset=".1128" stop-color="#453581"/><stop offset=".1170" stop-color="#453781"/><stop offset=".1213" stop-color="#472d7b"/><stop offset=".1255" stop-color="#46337f"/><stop offset=".1340" stop-color="#482878"/><stop offset=".1383" stop-color="#453781"/><stop offset=".1468" stop-color="#46327e"/><stop offset=".1511" stop-color="#443983"/><stop offset=".1553" stop-color="#472a7a"/><stop offset=".1596" stop-color="#453882"/><stop offset=".1638" stop-color="#472f7d"/><stop offset=".1681" stop-color="#46327e"/><stop offset=".1723" stop-color="#482677"/><stop offset=".1766" stop-color="#463480"/><stop offset=".1851" stop-color="#482878"/><stop offset=".2021" stop-color="#443983"/><stop offset=".2064" stop-color="#482677"/><stop offset=".2319" stop-color="#472e7c"/><stop offset=".2362" stop-color="#472a7a"/><stop offset=".2404" stop-color="#453581"/><stop offset=".2489" stop-color="#472a7a"/><stop offset=".2532" stop-color="#443983"/><stop offset=".2574" stop-color="#472a7a"/><stop offset=".2617" stop-color="#463480"/><stop offset=".2702" stop-color="#472e7c"/><stop offset=".2745" stop-color="#423f85"/><stop offset=".2787" stop-color="#463480"/><stop offset=".2872" stop-color="#443983"/><stop offset=".2915" stop-color="#472e7c"/><stop offset=".3000" stop-color="#424186"/><stop offset=".3085" stop-color="#443b84"/><stop offset=".3128" stop-color="#3e4989"/><stop offset=".3255" stop-color="#424086"/><stop offset=".3298" stop-color="#3c4f8a"/><stop offset=".3340" stop-color="#3f4788"/><stop offset=".3383" stop-color="#3d4e8a"/><stop offset=".3468" stop-color="#3d4e8a"/><stop offset=".3553" stop-color="#365c8d"/><stop offset=".3596" stop-color="#29798e"/><stop offset=".3638" stop-color="#2d708e"/><stop offset=".3681" stop-color="#26818e"/><stop offset=".3766" stop-color="#297b8e"/><stop offset=".3809" stop-color="#33638d"/><stop offset=".3851" stop-color="#2f6c8e"/><stop offset=".3894" stop-color="#2e6f8e"/><stop offset=".3979" stop-color="#355e8d"/><stop offset=".4064" stop-color="#2e6f8e"/><stop offset=".4106" stop-color="#355f8d"/><stop offset=".4191" stop-color="#2e6e8e"/><stop offset=".4234" stop-color="#2e6f8e"/><stop offset=".4277" stop-color="#31678e"/><stop offset=".4319" stop-color="#2f6c8e"/><stop offset=".4404" stop-color="#30698e"/><stop offset=".4574" stop-color="#26828e"/><stop offset=".4745" stop-color="#297a8e"/><stop offset=".4830" stop-color="#26828e"/><stop offset=".4872" stop-color="#2d708e"/><stop offset=".4915" stop-color="#2d708e"/><stop offset=".4957" stop-color="#2a778e"/><stop offset=".5000" stop-color="#2a778e"/><stop offset=".5085" stop-color="#1f998a"/><stop offset=".5128" stop-color="#7ad151"/><stop offset=".5170" stop-color="#bade28"/><stop offset=".5213" stop-color="#98d83e"/><stop offset=".5255" stop-color="#4cc26c"/><stop offset=".5298" stop-color="#25838e"/><stop offset=".5383" stop-color="#26828e"/><stop offset=".5426" stop-color="#2a788e"/><stop offset=".5511" stop-color="#26818e"/><stop offset=".5553" stop-color="#2a788e"/><stop offset=".5596" stop-color="#238a8d"/><stop offset=".5638" stop-color="#287d8e"/><stop offset=".5681" stop-color="#228d8d"/><stop offset=".5723" stop-color="#25838e"/><stop offset=".5809" stop-color="#1fa187"/><stop offset=".5851" stop-color="#22a785"/><stop offset=".5894" stop-color="#1e9c89"/><stop offset=".5936" stop-color="#1f988b"/><stop offset=".5979" stop-color="#24868e"/><stop offset=".6021" stop-color="#25848e"/><stop offset=".6064" stop-color="#2a788e"/><stop offset=".6106" stop-color="#29798e"/><stop offset=".6149" stop-color="#2c728e"/><stop offset=".6191" stop-color="#2b758e"/><stop offset=".6234" stop-color="#2d718e"/><stop offset=".6277" stop-color="#2b758e"/><stop offset=".6362" stop-color="#2e6f8e"/><stop offset=".6404" stop-color="#2e6e8e"/><stop offset=".6447" stop-color="#277f8e"/><stop offset=".6489" stop-color="#31688e"/><stop offset=".6532" stop-color="#2c738e"/><stop offset=".6574" stop-color="#2c728e"/><stop offset=".6617" stop-color="#30698e"/><stop offset=".6660" stop-color="#2d718e"/><stop offset=".6745" stop-color="#2c728e"/><stop offset=".6787" stop-color="#2e6d8e"/><stop offset=".6830" stop-color="#2e6d8e"/><stop offset=".6915" stop-color="#38588c"/><stop offset=".7043" stop-color="#3e4a89"/><stop offset=".7085" stop-color="#414287"/><stop offset=".7213" stop-color="#424086"/><stop offset=".7255" stop-color="#443a83"/><stop offset=".7298" stop-color="#3f4889"/><stop offset=".7340" stop-color="#46327e"/><stop offset=".7383" stop-color="#424186"/><stop offset=".7426" stop-color="#414487"/><stop offset=".7468" stop-color="#443983"/><stop offset=".7511" stop-color="#424186"/><stop offset=".7553" stop-color="#453781"/><stop offset=".7638" stop-color="#443983"/><stop offset=".7681" stop-color="#46337f"/><stop offset=".7723" stop-color="#424086"/><stop offset=".7766" stop-color="#46307e"/><stop offset=".7894" stop-color="#453581"/><stop offset=".7936" stop-color="#472f7d"/><stop offset=".7979" stop-color="#443b84"/><stop offset=".8021" stop-color="#443b84"/><stop offset=".8064" stop-color="#463480"/><stop offset=".8106" stop-color="#424086"/><stop offset=".8149" stop-color="#482979"/><stop offset=".8191" stop-color="#482979"/><stop offset=".8234" stop-color="#481d6f"/><stop offset=".8277" stop-color="#482374"/><stop offset=".8319" stop-color="#463480"/><stop offset=".8404" stop-color="#482173"/><stop offset=".8489" stop-color="#472f7d"/><stop offset=".8532" stop-color="#472e7c"/><stop offset=".8574" stop-color="#443b84"/><stop offset=".8617" stop-color="#482071"/><stop offset=".8660" stop-color="#46337f"/><stop offset=".8787" stop-color="#46307e"/><stop offset=".8830" stop-color="#453781"/><stop offset=".8957" stop-color="#472f7d"/><stop offset=".9170" stop-color="#453882"/><stop offset=".9255" stop-color="#472d7b"/><stop offset=".9340" stop-color="#463480"/><stop offset=".9383" stop-color="#482576"/><stop offset=".9426" stop-color="#453781"/><stop offset=".9468" stop-color="#482677"/><stop offset=".9511" stop-color="#472d7b"/><stop offset=".9596" stop-color="#482878"/><stop offset=".9638" stop-color="#46307e"/><stop offset=".9681" stop-color="#482173"/><stop offset=".9723" stop-color="#453781"/><stop offset=".9766" stop-color="#482173"/><stop offset=".9809" stop-color="#46327e"/><stop offset=".9894" stop-color="#472a7a"/><stop offset=".9979" stop-color="#453581"/></linearGradient>
<linearGradient id="g8" x1="0" x2="1" y1="0" y2="0"><stop offset=".0021" stop-color="#472e7c"/><stop offset=".0064" stop-color="#472d7b"/><stop offset=".0106" stop-color="#463480"/><stop offset=".0149" stop-color="#482677"/><stop offset=".0234" stop-color="#453581"/><stop offset=".0277" stop-color="#482979"/><stop offset=".0362" stop-color="#463480"/><stop offset=".0404" stop-color="#472a7a"/><stop offset=".0532" stop-color="#472f7d"/><stop offset=".0617" stop-color="#482374"/><stop offset=".0660" stop-color="#453581"/><stop offset=".0702" stop-color="#482979"/><stop offset=".0745" stop-color="#482878"/><stop offset=".0787" stop-color="#463480"/><stop offset=".0830" stop-color="#472a7a"/><stop offset=".0872" stop-color="#472d7b"/><stop offset=".0915" stop-color="#482677"/><stop offset=".1043" stop-color="#453781"/><stop offset=".1085" stop-color="#463480"/><stop offset=".1128" stop-color="#482677"/><stop offset=".1213" stop-color="#463480"/><stop offset=".1255" stop-color="#482979"/><stop offset=".1298" stop-color="#453781"/><stop offset=".1340" stop-color="#482878"/><stop offset=".1383" stop-color="#453581"/><stop offset=".1426" stop-color="#453581"/><stop offset=".1511" stop-color="#482878"/><stop offset=".1553" stop-color="#472e7c"/><stop offset=".1638" stop-color="#46307e"/><stop offset=".1681" stop-color="#424086"/><stop offset=".1723" stop-color="#453781"/><stop offset=".1809" stop-color="#443983"/><stop offset=".1851" stop-color="#472c7a"/><stop offset=".1979" stop-color="#424086"/><stop offset=".2021" stop-color="#453581"/><stop offset=".2106" stop-color="#472a7a"/><stop offset=".2191" stop-color="#433d84"/><stop offset=".2319" stop-color="#472c7a"/><stop offset=".2362" stop-color="#443b84"/><stop offset=".2404" stop-color="#46327e"/><stop offset=".2447" stop-color="#443a83"/><stop offset=".2489" stop-color="#472c7a"/><stop offset=".2532" stop-color="#453781"/><stop offset=".2617" stop-color="#472f7d"/><stop offset=".2660" stop-color="#404688"/><stop offset=".2745" stop-color="#424186"/><stop offset=".2787" stop-color="#453581"/><stop offset=".2872" stop-color="#3e4989"/><stop offset=".2915" stop-color="#423f85"/><stop offset=".3043" stop-color="#443a83"/><stop offset=".3128" stop-color="#414287"/><stop offset=".3213" stop-color="#3b518b"/><stop offset=".3298" stop-color="#443983"/><stop offset=".3340" stop-color="#3c4f8a"/><stop offset=".3426" stop-color="#3e4989"/><stop offset=".3638" stop-color="#33638d"/><stop offset=".3723" stop-color="#277f8e"/><stop offset=".3809" stop-color="#297a8e"/><stop offset=".3936" stop-color="#38598c"/><stop offset=".4021" stop-color="#3d4e8a"/><stop offset=".4064" stop-color="#3b528b"/><stop offset=".4106" stop-color="#306a8e"/><stop offset=".4277" stop-color="#31678e"/><stop offset=".4319" stop-color="#2d708e"/><stop offset=".4362" stop-color="#31678e"/><stop offset=".4404" stop-color="#2d718e"/><stop offset=".4447" stop-color="#2e6d8e"/><stop offset=".4574" stop-color="#25858e"/><stop offset=".4660" stop-color="#25838e"/><stop offset=".4702" stop-color="#228b8d"/><stop offset=".4830" stop-color="#29798e"/><stop offset=".4872" stop-color="#26828e"/><stop offset=".4915" stop-color="#2a778e"/><stop offset=".4957" stop-color="#297b8e"/><stop offset=".5000" stop-color="#2e6f8e"/><stop offset=".5043" stop-color="#297a8e"/><stop offset=".5170" stop-color="#27808e"/><stop offset=".5213" stop-color="#22a785"/><stop offset=".5255" stop-color="#addc30"/><stop offset=".5298" stop-color="#9bd93c"/><stop offset=".5340" stop-color="#aadc32"/><stop offset=".5383" stop-color="#25ac82"/><stop offset=".5426" stop-color="#26828e"/><stop offset=".5468" stop-color="#26828e"/><stop offset=".5511" stop-color="#297b8e"/><stop offset=".5553" stop-color="#277e8e"/><stop offset=".5596" stop-color="#24878e"/><stop offset=".5638" stop-color="#2c728e"/><stop offset=".5723" stop-color="#277e8e"/><stop offset=".5766" stop-color="#2d718e"/><stop offset=".5936" stop-color="#21a585"/><stop offset=".5979" stop-color="#27ad81"/><stop offset=".6064" stop-color="#1f968b"/><stop offset=".6106" stop-color="#25838e"/><stop offset=".6149" stop-color="#228b8d"/><stop offset=".6191" stop-color="#2b748e"/><stop offset=".6319" stop-color="#2a788e"/><stop offset=".6362" stop-color="#2d718e"/><stop offset=".6447" stop-color="#2c728e"/><stop offset=".6489" stop-color="#2f6b8e"/><stop offset=".6532" stop-color="#2e6e8e"/><stop offset=".6574" stop-color="#32658e"/><stop offset=".6617" stop-color="#30698e"/><stop offset=".6660" stop-color="#355e8d"/><stop offset=".6702" stop-color="#2d718e"/><stop offset=".6787" stop-color="#2f6b8e"/><stop offset=".6830" stop-color="#306a8e"/><stop offset=".6872" stop-color="#2c738e"/><stop offset=".6915" stop-color="#30698e"/><stop offset=".7000" stop-color="#355f8d"/><stop offset=".7043" stop-color="#3c508b"/><stop offset=".7085" stop-color="#39568c"/><stop offset=".7128" stop-color="#424086"/><stop offset=".7298" stop-color="#414487"/><stop offset=".7340" stop-color="#3e4c8a"/><stop offset=".7383" stop-color="#433e85"/><stop offset=".7468" stop-color="#424186"/><stop offset=".7511" stop-color="#453781"/><stop offset=".7553" stop-color="#433e85"/><stop offset=".7596" stop-color="#46327e"/><stop offset=".7638" stop-color="#414487"/><stop offset=".7681" stop-color="#433e85"/><stop offset=".7766" stop-color="#443a83"/><stop offset=".7809" stop-color="#472d7b"/><stop offset=".7894" stop-color="#433e85"/><stop offset=".7979" stop-color="#482173"/><stop offset=".8021" stop-color="#433d84"/><stop offset=".8149" stop-color="#404688"/><stop offset=".8191" stop-color="#463480"/><stop offset=".8234" stop-color="#453882"/><stop offset=".8277" stop-color="#472f7d"/><stop offset=".8362" stop-color="#443a83"/><stop offset=".8404" stop-color="#472e7c"/><stop offset=".8447" stop-color="#472d7b"/><stop offset=".8489" stop-color="#482173"/><stop offset=".8532" stop-color="#46337f"/><stop offset=".8702" stop-color="#453781"/><stop offset=".8745" stop-color="#481b6d"/><stop offset=".8787" stop-color="#46337f"/><stop offset=".8830" stop-color="#482878"/><stop offset=".8872" stop-color="#46327e"/><stop offset=".8915" stop-color="#482979"/><stop offset=".8957" stop-color="#453882"/><stop offset=".9000" stop-color="#443983"/><stop offset=".9043" stop-color="#472d7b"/><stop offset=".9085" stop-color="#443a83"/><stop offset=".9128" stop-color="#46337f"/><stop offset=".9170" stop-color="#443a83"/><stop offset=".9213" stop-color="#482979"/><stop offset=".9255" stop-color="#46307e"/><stop offset=".9383" stop-color="#482071"/><stop offset=".9426" stop-color="#46307e"/><stop offset=".9468" stop-color="#453882"/><stop offset=".9511" stop-color="#482677"/><stop offset=".9553" stop-color="#472d7b"/><stop offset=".9596" stop-color="#482475"/><stop offset=".9638" stop-color="#46327e"/><stop offset=".9681" stop-color="#453581"/><stop offset=".9723" stop-color="#472e7c"/><stop offset=".9809" stop-color="#46337f"/><stop offset=".9851" stop-color="#472c7a"/><stop offset=".9894" stop-color="#46337f"/><stop offset=".9936" stop-color="#482173"/><stop offset=".9979" stop-color="#472c7a"/></linearGradient>
<linearGradient id="g9" x1="0" x2="1" y1="0" y2="0"><stop offset=".0021" stop-color="#46307e"/><stop offset=".0064" stop-color="#443983"/><stop offset=".0149" stop-color="#482979"/><stop offset=".0234" stop-color="#472e7c"/><stop offset=".0319" stop-color="#482677"/><stop offset=".0362" stop-color="#46327e"/><stop offset=".0404" stop-color="#482878"/><stop offset=".0447" stop-color="#46307e"/><stop offset=".0532" stop-color="#46307e"/><stop offset=".0574" stop-color="#453882"/><stop offset=".0660" stop-color="#46327e"/><stop offset=".0702" stop-color="#443b84"/><stop offset=".0787" stop-color="#482878"/><stop offset=".0872" stop-color="#453882"/><stop offset=".0915" stop-color="#472a7a"/><stop offset=".0957" stop-color="#472c7a"/><stop offset=".1043" stop-color="#414287"/><stop offset=".1085" stop-color="#472f7d"/><stop offset=".1170" stop-color="#433d84"/><stop offset=".1213" stop-color="#472e7c"/><stop offset=".1298" stop-color="#46327e"/><stop offset=".1340" stop-color="#482979"/><stop offset=".1426" stop-color="#46327e"/><stop offset=".1468" stop-color="#424086"/><stop offset=".1511" stop-color="#482979"/><stop offset=".1596" stop-color="#46337f"/><stop offset=".1681" stop-color="#472d7b"/><stop offset=".1723" stop-color="#46327e"/><stop offset=".1766" stop-color="#472e7c"/><stop offset=".1809" stop-color="#443a83"/><stop offset=".1894" stop-color="#463480"/><stop offset=".1936" stop-color="#453882"/><stop offset=".1979" stop-color="#46327e"/><stop offset=".2064" stop-color="#453781"/><stop offset=".2106" stop-color="#424186"/><stop offset=".2191" stop-color="#46327e"/><stop offset=".2234" stop-color="#453781"/><stop offset=".2277" stop-color="#472d7b"/><stop offset=".2319" stop-color="#433d84"/><stop offset=".2362" stop-color="#453882"/><stop offset=".2404" stop-color="#443a83"/><stop offset=".2532" stop-color="#482878"/><stop offset=".2574" stop-color="#443b84"/><stop offset=".2660" stop-color="#453781"/><stop offset=".2787" stop-color="#424186"/><stop offset=".2872" stop-color="#46327e"/><stop offset=".2915" stop-color="#433e85"/><stop offset=".3000" stop-color="#423f85"/><stop offset=".3085" stop-color="#3f4788"/><stop offset=".3128" stop-color="#3b518b"/><stop offset=".3213" stop-color="#423f85"/><stop offset=".3255" stop-color="#3e4c8a"/><stop offset=".3298" stop-color="#3e4989"/><stop offset=".3426" stop-color="#39558c"/><stop offset=".3468" stop-color="#375b8d"/><stop offset=".3511" stop-color="#39558c"/><stop offset=".3553" stop-color="#375a8c"/><stop offset=".3596" stop-color="#32658e"/><stop offset=".3638" stop-color="#365d8d"/><stop offset=".3681" stop-color="#2e6d8e"/><stop offset=".3723" stop-color="#2c718e"/><stop offset=".3766" stop-color="#25848e"/><stop offset=".3894" stop-color="#2b748e"/><stop offset=".3979" stop-color="#32648e"/><stop offset=".4149" stop-color="#33628d"/><stop offset=".4234" stop-color="#2e6e8e"/><stop offset=".4277" stop-color="#2e6d8e"/><stop offset=".4319" stop-color="#32658e"/><stop offset=".4362" stop-color="#2b758e"/><stop offset=".4404" stop-color="#306a8e"/><stop offset=".4447" stop-color="#29798e"/><stop offset=".4489" stop-color="#30698e"/><stop offset=".4532" stop-color="#277f8e"/><stop offset=".4617" stop-color="#20938c"/><stop offset=".4660" stop-color="#218f8d"/><stop offset=".4787" stop-color="#1f968b"/><stop offset=".4872" stop-color="#25858e"/><stop offset=".4915" stop-color="#24878e"/><stop offset=".4957" stop-color="#20938c"/><stop offset=".5043" stop-color="#24878e"/><stop offset=".5085" stop-color="#218e8d"/><stop offset=".5128" stop-color="#25848e"/><stop offset=".5170" stop-color="#218f8d"/><stop offset=".5213" stop-color="#21a685"/><stop offset=".5255" stop-color="#a0da39"/><stop offset=".5298" stop-color="#b5de2b"/><stop offset=".5340" stop-color="#9bd93c"/><stop offset=".5383" stop-color="#25ab82"/><stop offset=".5426" stop-color="#218e8d"/><stop offset=".5468" stop-color="#21908d"/><stop offset=".5511" stop-color="#25848e"/><stop offset=".5553" stop-color="#228d8d"/><stop offset=".5596" stop-color="#25858e"/><stop offset=".5638" stop-color="#21908d"/><stop offset=".5681" stop-color="#24868e"/><stop offset=".5723" stop-color="#24868e"/><stop offset=".5766" stop-color="#218f8d"/><stop offset=".5809" stop-color="#23888e"/><stop offset=".5851" stop-color="#21908d"/><stop offset=".5894" stop-color="#1fa187"/><stop offset=".5936" stop-color="#20a386"/><stop offset=".5979" stop-color="#25ac82"/><stop offset=".6021" stop-color="#1e9d89"/><stop offset=".6149" stop-color="#23888e"/><stop offset=".6191" stop-color="#24878e"/><stop offset=".6234" stop-color="#2a778e"/><stop offset=".6277" stop-color="#26828e"/><stop offset=".6404" stop-color="#297a8e"/><stop offset=".6447" stop-color="#277e8e"/><stop offset=".6489" stop-color="#29798e"/><stop offset=".6532" stop-color="#277f8e"/><stop offset=".6574" stop-color="#31688e"/><stop offset=".6617" stop-color="#306a8e"/><stop offset=".6660" stop-color="#2c738e"/><stop offset=".6702" stop-color="#32658e"/><stop offset=".6787" stop-color="#2f6b8e"/><stop offset=".6830" stop-color="#2c718e"/><stop offset=".6872" stop-color="#2f6c8e"/><stop offset=".6915" stop-color="#2a778e"/><stop offset=".6957" stop-color="#30698e"/><stop offset=".7000" stop-color="#30698e"/><stop offset=".7043" stop-color="#3b518b"/><stop offset=".7085" stop-color="#3d4d8a"/><stop offset=".7128" stop-color="#3b528b"/><stop offset=".7170" stop-color="#424186"/><stop offset=".7255" stop-color="#3e4a89"/><stop offset=".7340" stop-color="#424086"/><stop offset=".7383" stop-color="#404588"/><stop offset=".7468" stop-color="#443a83"/><stop offset=".7511" stop-color="#3e4a89"/><stop offset=".7596" stop-color="#46337f"/><stop offset=".7638" stop-color="#424186"/><stop offset=".7723" stop-color="#404588"/><stop offset=".7766" stop-color="#433d84"/><stop offset=".7851" stop-color="#423f85"/><stop offset=".7894" stop-color="#404688"/><stop offset=".7936" stop-color="#472f7d"/><stop offset=".7979" stop-color="#423f85"/><stop offset=".8106" stop-color="#453581"/><stop offset=".8149" stop-color="#433d84"/><stop offset=".8234" stop-color="#453781"/><stop offset=".8277" stop-color="#433d84"/><stop offset=".8319" stop-color="#472e7c"/><stop offset=".8362" stop-color="#443983"/><stop offset=".8489" stop-color="#424186"/><stop offset=".8532" stop-color="#463480"/><stop offset=".8574" stop-color="#433e85"/><stop offset=".8617" stop-color="#46307e"/><stop offset=".8660" stop-color="#414287"/><stop offset=".8702" stop-color="#46327e"/><stop offset=".8745" stop-color="#443a83"/><stop offset=".8872" stop-color="#472c7a"/><stop offset=".8957" stop-color="#443a83"/><stop offset=".9043" stop-color="#453781"/><stop offset=".9085" stop-color="#472d7b"/><stop offset=".9170" stop-color="#463480"/><stop offset=".9255" stop-color="#482979"/><stop offset=".9298" stop-color="#443a83"/><stop offset=".9340" stop-color="#46327e"/><stop offset=".9383" stop-color="#453581"/><stop offset=".9426" stop-color="#472a7a"/><stop offset=".9468" stop-color="#482979"/><stop offset=".9511" stop-color="#453882"/><stop offset=".9553" stop-color="#46337f"/><stop offset=".9596" stop-color="#453882"/><stop offset=".9638" stop-color="#472c7a"/><stop offset=".9723" stop-color="#46337f"/><stop offset=".9766" stop-color="#472e7c"/><stop offset=".9809" stop-color="#443983"/><stop offset=".9851" stop-color="#443983"/><stop offset=".9894" stop-color="#472a7a"/><stop offset=".9936" stop-color="#453781"/><stop offset=".9979" stop-color="#472e7c"/></linearGradient>
<linearGradient id="g10" x1="0" x2="1" y1="0" y2="0"><stop offset=".0021" stop-color="#453581"/><stop offset=".0064" stop-color="#472e7c"/><stop offset=".0106" stop-color="#46307e"/><stop offset=".0149" stop-color="#433d84"/><stop offset=".0277" stop-color="#472d7b"/><stop offset=".0319" stop-color="#424086"/><stop offset=".0404" stop-color="#46337f"/><stop offset=".0532" stop-color="#453581"/><stop offset=".0574" stop-color="#453882"/><stop offset=".0745" stop-color="#472d7b"/><stop offset=".0830" stop-color="#463480"/><stop offset=".0872" stop-color="#482173"/><stop offset=".0915" stop-color="#453781"/><stop offset=".0957" stop-color="#472c7a"/><stop offset=".1000" stop-color="#453882"/><stop offset=".1085" stop-color="#433d84"/><stop offset=".1170" stop-color="#472d7b"/><stop offset=".1213" stop-color="#423f85"/><stop offset=".1255" stop-color="#433d84"/><stop offset=".1340" stop-color="#472a7a"/><stop offset=".1468" stop-color="#443983"/><stop offset=".1511" stop-color="#482878"/><stop offset=".1553" stop-color="#472d7b"/><stop offset=".1596" stop-color="#443a83"/><stop offset=".1638" stop-color="#453581"/><stop offset=".1681" stop-color="#443a83"/><stop offset=".1723" stop-color="#46337f"/><stop offset=".1766" stop-color="#423f85"/><stop offset=".1936" stop-color="#472e7c"/><stop offset=".1979" stop-color="#46327e"/><stop offset=".2021" stop-color="#433e85"/><stop offset=".2064" stop-color="#46327e"/><stop offset=".2106" stop-color="#453882"/><stop offset=".2149" stop-color="#482979"/><stop offset=".2191" stop-color="#443b84"/><stop offset=".2277" stop-color="#482576"/><stop offset=".2319" stop-color="#46327e"/><stop offset=".2404" stop-color="#463480"/><stop offset=".2489" stop-color="#482878"/><stop offset=".2532" stop-color="#423f85"/><stop offset=".2574" stop-color="#472d7b"/><stop offset=".2617" stop-color="#472c7a"/><stop offset=".2702" stop-color="#424186"/><stop offset=".2787" stop-color="#3f4889"/><stop offset=".2830" stop-color="#433d84"/><stop offset=".2872" stop-color="#3f4889"/><stop offset=".2915" stop-color="#424086"/><stop offset=".3000" stop-color="#3c508b"/><stop offset=".3043" stop-color="#423f85"/><stop offset=".3085" stop-color="#3e4a89"/><stop offset=".3128" stop-color="#414487"/><stop offset=".3170" stop-color="#3f4788"/><stop offset=".3213" stop-color="#3b528b"/><stop offset=".3255" stop-color="#3c4f8a"/><stop offset=".3298" stop-color="#39568c"/><stop offset=".3340" stop-color="#3c508b"/><stop offset=".3426" stop-color="#3a548c"/><stop offset=".3468" stop-color="#3f4788"/><stop offset=".3553" stop-color="#375a8c"/><stop offset=".3596" stop-color="#3c4f8a"/><stop offset=".3681" stop-color="#306a8e"/><stop offset=".3723" stop-color="#287d8e"/><stop offset=".3766" stop-color="#25848e"/><stop offset=".3851" stop-color="#2a788e"/><stop offset=".3894" stop-color="#29798e"/><stop offset=".3936" stop-color="#2e6d8e"/><stop offset=".3979" stop-color="#30698e"/><stop offset=".4021" stop-color="#38588c"/><stop offset=".4064" stop-color="#38598c"/><stop offset=".4106" stop-color="#2a768e"/><stop offset=".4234" stop-color="#32658e"/><stop offset=".4277" stop-color="#30698e"/><stop offset=".4319" stop-color="#2c738e"/><stop offset=".4362" stop-color="#2f6c8e"/><stop offset=".4447" stop-color="#297a8e"/><stop offset=".4532" stop-color="#2c718e"/><stop offset=".4617" stop-color="#277f8e"/><stop offset=".4660" stop-color="#228d8d"/><stop offset=".4702" stop-color="#26828e"/><stop offset=".4745" stop-color="#228d8d"/><stop offset=".4787" stop-color="#26828e"/><stop offset=".5000" stop-color="#218e8d"/><stop offset=".5043" stop-color="#1f968b"/><stop offset=".5085" stop-color="#69cd5b"/><stop offset=".5128" stop-color="#addc30"/><stop offset=".5170" stop-color="#c8e020"/><stop offset=".5213" stop-color="#81d34d"/><stop offset=".5255" stop-color="#20a386"/><stop offset=".5383" stop-color="#218f8d"/><stop offset=".5468" stop-color="#20928c"/><stop offset=".5553" stop-color="#228d8d"/><stop offset=".5596" stop-color="#20938c"/><stop offset=".5681" stop-color="#21918c"/><stop offset=".5809" stop-color="#24aa83"/><stop offset=".5851" stop-color="#25ac82"/><stop offset=".5936" stop-color="#1f9a8a"/><stop offset=".6021" stop-color="#228d8d"/><stop offset=".6064" stop-color="#1f978b"/><stop offset=".6149" stop-color="#287c8e"/><stop offset=".6191" stop-color="#26828e"/><stop offset=".6319" stop-color="#287c8e"/><stop offset=".6362" stop-color="#27808e"/><stop offset=".6404" stop-color="#23898e"/><stop offset=".6447" stop-color="#29798e"/><stop offset=".6489" stop-color="#26828e"/><stop offset=".6532" stop-color="#26828e"/><stop offset=".6617" stop-color="#2f6b8e"/><stop offset=".6660" stop-color="#29798e"/><stop offset=".6745" stop-color="#2b758e"/><stop offset=".6787" stop-color="#2e6d8e"/><stop offset=".6830" stop-color="#2d718e"/><stop offset=".6872" stop-color="#31688e"/><stop offset=".6915" stop-color="#3a548c"/><stop offset=".6957" stop-color="#365d8d"/><stop offset=".7043" stop-color="#39558c"/><stop offset=".7085" stop-color="#3e4c8a"/><stop offset=".7128" stop-color="#39558c"/><stop offset=".7213" stop-color="#424186"/><stop offset=".7255" stop-color="#414487"/><stop offset=".7298" stop-color="#443b84"/><stop offset=".7340" stop-color="#3f4889"/><stop offset=".7426" stop-color="#46337f"/><stop offset=".7468" stop-color="#414487"/><stop offset=".7553" stop-color="#46327e"/><stop offset=".7596" stop-color="#3e4a89"/><stop offset=".7638" stop-color="#3e4a89"/><stop offset=".7681" stop-color="#472f7d"/><stop offset=".7723" stop-color="#433d84"/><stop offset=".7766" stop-color="#424186"/><stop offset=".7809" stop-color="#453581"/><stop offset=".7851" stop-color="#424186"/><stop offset=".7936" stop-color="#433e85"/><stop offset=".7979" stop-color="#46327e"/><stop offset=".8021" stop-color="#463480"/><stop offset=".8106" stop-color="#472d7b"/><stop offset=".8149" stop-color="#433d84"/><stop offset=".8234" stop-color="#463480"/><stop offset=".8277" stop-color="#472f7d"/><stop offset=".8319" stop-color="#423f85"/><stop offset=".8362" stop-color="#433e85"/><stop offset=".8447" stop-color="#482979"/><stop offset=".8532" stop-color="#433e85"/><stop offset=".8617" stop-color="#463480"/><stop offset=".8660" stop-color="#423f85"/><stop offset=".8702" stop-color="#472e7c"/><stop offset=".8787" stop-color="#453781"/><stop offset=".8830" stop-color="#472d7b"/><stop offset=".8872" stop-color="#453882"/><stop offset=".8915" stop-color="#443983"/><stop offset=".8957" stop-color="#482979"/><stop offset=".9000" stop-color="#46327e"/><stop offset=".9128" stop-color="#46337f"/><stop offset=".9170" stop-color="#46307e"/><stop offset=".9213" stop-color="#433d84"/><stop offset=".9255" stop-color="#472e7c"/><stop offset=".9298" stop-color="#482979"/><stop offset=".9340" stop-color="#443983"/><stop offset=".9383" stop-color="#472d7b"/><stop offset=".9426" stop-color="#482979"/><stop offset=".9468" stop-color="#46337f"/><stop offset=".9511" stop-color="#482979"/><stop offset=".9638" stop-color="#46327e"/><stop offset=".9681" stop-color="#472d7b"/><stop offset=".9723" stop-color="#453882"/><stop offset=".9766" stop-color="#453581"/><stop offset=".9809" stop-color="#433e85"/><stop offset=".9851" stop-color="#463480"/><stop offset=".9936" stop-color="#453781"/><stop offset=".9979" stop-color="#472f7d"/></linearGradient>
<linearGradient id="g11" x1="0" x2="1" y1="0" y2="0"><stop offset=".0021" stop-color="#453581"/><stop offset=".0106" stop-color="#481b6d"/><stop offset=".0191" stop-color="#46307e"/><stop offset=".0319" stop-color="#46327e"/><stop offset=".0362" stop-color="#423f85"/><stop offset=".0404" stop-color="#472f7d"/><stop offset=".0489" stop-color="#472e7c"/><stop offset=".0532" stop-color="#46337f"/><stop offset=".0574" stop-color="#482677"/><stop offset=".0660" stop-color="#433d84"/><stop offset=".0745" stop-color="#453581"/><stop offset=".0830" stop-color="#482576"/><stop offset=".0915" stop-color="#46337f"/><stop offset=".1043" stop-color="#482677"/><stop offset=".1085" stop-color="#482979"/><stop offset=".1128" stop-color="#443a83"/><stop offset=".1170" stop-color="#46327e"/><stop offset=".1213" stop-color="#453781"/><stop offset=".1255" stop-color="#472a7a"/><stop offset=".1298" stop-color="#463480"/><stop offset=".1340" stop-color="#472d7b"/><stop offset=".1383" stop-color="#453781"/><stop offset=".1426" stop-color="#453581"/><stop offset=".1468" stop-color="#482878"/><stop offset=".1553" stop-color="#424086"/><stop offset=".1596" stop-color="#472a7a"/><stop offset=".1723" stop-color="#472f7d"/><stop offset=".1766" stop-color="#433d84"/><stop offset=".1809" stop-color="#46307e"/><stop offset=".1894" stop-color="#433d84"/><stop offset=".1936" stop-color="#463480"/><stop offset=".1979" stop-color="#443a83"/><stop offset=".2021" stop-color="#46307e"/><stop offset=".2064" stop-color="#46307e"/><stop offset=".2106" stop-color="#443a83"/><stop offset=".2149" stop-color="#482878"/><stop offset=".2191" stop-color="#443983"/><stop offset=".2234" stop-color="#472f7d"/><stop offset=".2319" stop-color="#453581"/><stop offset=".2404" stop-color="#472a7a"/><stop offset=".2532" stop-color="#453882"/><stop offset=".2617" stop-color="#472e7c"/><stop offset=".2660" stop-color="#443983"/><stop offset=".2745" stop-color="#472e7c"/><stop offset=".2787" stop-color="#3f4788"/><stop offset=".2830" stop-color="#443a83"/><stop offset=".2872" stop-color="#404688"/><stop offset=".2957" stop-color="#463480"/><stop offset=".3000" stop-color="#404588"/><stop offset=".3043" stop-color="#3f4788"/><stop offset=".3085" stop-color="#424086"/><stop offset=".3128" stop-color="#3e4a89"/><stop offset=".3170" stop-color="#414287"/><stop offset=".3255" stop-color="#3f4788"/><stop offset=".3298" stop-color="#38588c"/><stop offset=".3383" stop-color="#3e4989"/><stop offset=".3426" stop-color="#3a548c"/><stop offset=".3468" stop-color="#433d84"/><stop offset=".3511" stop-color="#3c508b"/><stop offset=".3553" stop-color="#3c508b"/><stop offset=".3596" stop-color="#424086"/><stop offset=".3638" stop-color="#365d8d"/><stop offset=".3723" stop-color="#3b528b"/><stop offset=".3766" stop-color="#39568c"/><stop offset=".3809" stop-color="#30698e"/><stop offset=".3851" stop-color="#2d718e"/><stop offset=".3936" stop-color="#228b8d"/><stop offset=".3979" stop-color="#287d8e"/><stop offset=".4021" stop-color="#277f8e"/><stop offset=".4064" stop-color="#29798e"/><stop offset=".4106" stop-color="#365d8d"/><stop offset=".4149" stop-color="#2f6c8e"/><stop offset=".4191" stop-color="#365d8d"/><stop offset=".4234" stop-color="#32658e"/><stop offset=".4277" stop-color="#33628d"/><stop offset=".4319" stop-color="#31668e"/><stop offset=".4362" stop-color="#2a768e"/><stop offset=".4404" stop-color="#2c738e"/><stop offset=".4447" stop-color="#306a8e"/><stop offset=".4489" stop-color="#2f6c8e"/><stop offset=".4532" stop-color="#287d8e"/><stop offset=".4574" stop-color="#2c728e"/><stop offset=".4702" stop-color="#287d8e"/><stop offset=".4745" stop-color="#25838e"/><stop offset=".4872" stop-color="#24868e"/><stop offset=".4915" stop-color="#8bd646"/><stop offset=".5000" stop-color="#d2e21b"/><stop offset=".5043" stop-color="#40bd72"/><stop offset=".5085" stop-color="#277f8e"/><stop offset=".5128" stop-color="#218f8d"/><stop offset=".5170" stop-color="#277e8e"/><stop offset=".5213" stop-color="#25858e"/><stop offset=".5340" stop-color="#25838e"/><stop offset=".5383" stop-color="#218e8d"/><stop offset=".5426" stop-color="#23888e"/><stop offset=".5553" stop-color="#1f988b"/><stop offset=".5638" stop-color="#2eb37c"/><stop offset=".5723" stop-color="#1f988b"/><stop offset=".5766" stop-color="#1f948c"/><stop offset=".5809" stop-color="#238a8d"/><stop offset=".5851" stop-color="#2a778e"/><stop offset=".5894" stop-color="#26818e"/><stop offset=".5979" stop-color="#24878e"/><stop offset=".6021" stop-color="#26828e"/><stop offset=".6064" stop-color="#25858e"/><stop offset=".6106" stop-color="#277f8e"/><stop offset=".6149" stop-color="#25848e"/><stop offset=".6191" stop-color="#2a788e"/><stop offset=".6234" stop-color="#26818e"/><stop offset=".6277" stop-color="#2b748e"/><stop offset=".6362" stop-color="#277f8e"/><stop offset=".6404" stop-color="#2b758e"/><stop offset=".6489" stop-color="#2a768e"/><stop offset=".6532" stop-color="#2c728e"/><stop offset=".6574" stop-color="#277f8e"/><stop offset=".6617" stop-color="#297a8e"/><stop offset=".6660" stop-color="#2f6c8e"/><stop offset=".6830" stop-color="#3a538b"/><stop offset=".6915" stop-color="#39558c"/><stop offset=".6957" stop-color="#375b8d"/><stop offset=".7000" stop-color="#404588"/><stop offset=".7128" stop-color="#3c508b"/><stop offset=".7170" stop-color="#3f4788"/><stop offset=".7340" stop-color="#414287"/><stop offset=".7383" stop-color="#3f4788"/><stop offset=".7468" stop-color="#453882"/><stop offset=".7596" stop-color="#424186"/><stop offset=".7681" stop-color="#443a83"/><stop offset=".7723" stop-color="#433e85"/><stop offset=".7766" stop-color="#443983"/><stop offset=".7809" stop-color="#414487"/><stop offset=".7936" stop-color="#482677"/><stop offset=".7979" stop-color="#443b84"/><stop offset=".8021" stop-color="#404688"/><stop offset=".8064" stop-color="#46337f"/><stop offset=".8149" stop-color="#443b84"/><stop offset=".8191" stop-color="#46307e"/><stop offset=".8234" stop-color="#433d84"/><stop offset=".8277" stop-color="#472d7b"/><stop offset=".8319" stop-color="#453882"/><stop offset=".8362" stop-color="#453882"/><stop offset=".8404" stop-color="#472e7c"/><stop offset=".8447" stop-color="#443983"/><stop offset=".8489" stop-color="#46337f"/><stop offset=".8532" stop-color="#453882"/><stop offset=".8574" stop-color="#472a7a"/><stop offset=".8660" stop-color="#453781"/><stop offset=".8745" stop-color="#472f7d"/><stop offset=".8872" stop-color="#453882"/><stop offset=".8957" stop-color="#46307e"/><stop offset=".9000" stop-color="#414487"/><stop offset=".9043" stop-color="#482979"/><stop offset=".9085" stop-color="#453581"/><stop offset=".9128" stop-color="#482071"/><stop offset=".9170" stop-color="#472d7b"/><stop offset=".9213" stop-color="#482374"/><stop offset=".9255" stop-color="#453882"/><stop offset=".9298" stop-color="#482878"/><stop offset=".9340" stop-color="#463480"/><stop offset=".9383" stop-color="#472c7a"/><stop offset=".9468" stop-color="#472c7a"/><stop offset=".9511" stop-color="#463480"/><stop offset=".9553" stop-color="#472d7b"/><stop offset=".9596" stop-color="#463480"/><stop offset=".9681" stop-color="#482979"/><stop offset=".9723" stop-color="#453882"/><stop offset=".9766" stop-color="#472a7a"/><stop offset=".9809" stop-color="#472d7b"/><stop offset=".9851" stop-color="#453882"/><stop offset=".9894" stop-color="#453882"/><stop offset=".9936" stop-color="#46307e"/><stop offset=".9979" stop-color="#453581"/></linearGradient>
<linearGradient id="g12" x1="0" x2="1" y1="0" y2="0"><stop offset=".0021" stop-color="#46307e"/><stop offset=".0064" stop-color="#482979"/><stop offset=".0149" stop-color="#453581"/><stop offset=".0191" stop-color="#482979"/><stop offset=".0319" stop-color="#472c7a"/><stop offset=".0362" stop-color="#482677"/><stop offset=".0447" stop-color="#46337f"/><stop offset=".0489" stop-color="#472e7c"/><stop offset=".0532" stop-color="#481f70"/><stop offset=".0617" stop-color="#472d7b"/><stop offset=".0660" stop-color="#453781"/><stop offset=".0702" stop-color="#472a7a"/><stop offset=".0745" stop-color="#46337f"/><stop offset=".0787" stop-color="#472d7b"/><stop offset=".0830" stop-color="#453781"/><stop offset=".0872" stop-color="#482576"/><stop offset=".1043" stop-color="#472f7d"/><stop offset=".1085" stop-color="#433d84"/><stop offset=".1170" stop-color="#482878"/><stop offset=".1213" stop-color="#463480"/><stop offset=".1255" stop-color="#463480"/><stop offset=".1298" stop-color="#482979"/><stop offset=".1383" stop-color="#472c7a"/><stop offset=".1426" stop-color="#46337f"/><stop offset=".1468" stop-color="#472e7c"/><stop offset=".1596" stop-color="#423f85"/><stop offset=".1638" stop-color="#46337f"/><stop offset=".1681" stop-color="#443a83"/><stop offset=".1723" stop-color="#472f7d"/><stop offset=".1766" stop-color="#463480"/><stop offset=".1809" stop-color="#482173"/><stop offset=".1851" stop-color="#453882"/><stop offset=".1894" stop-color="#472a7a"/><stop offset=".1979" stop-color="#472d7b"/><stop offset=".2021" stop-color="#453781"/><stop offset=".2106" stop-color="#472f7d"/><stop offset=".2149" stop-color="#472e7c"/><stop offset=".2191" stop-color="#443983"/><stop offset=".2234" stop-color="#472a7a"/><stop offset=".2277" stop-color="#46327e"/><stop offset=".2404" stop-color="#472c7a"/><stop offset=".2447" stop-color="#453781"/><stop offset=".2489" stop-color="#453581"/><stop offset=".2532" stop-color="#472c7a"/><stop offset=".2617" stop-color="#463480"/><stop offset=".2660" stop-color="#472d7b"/><stop offset=".2702" stop-color="#472e7c"/><stop offset=".2745" stop-color="#482475"/><stop offset=".2787" stop-color="#443983"/><stop offset=".2872" stop-color="#433e85"/><stop offset=".3043" stop-color="#424186"/><stop offset=".3085" stop-color="#3e4a89"/><stop offset=".3128" stop-color="#424086"/><stop offset=".3170" stop-color="#433e85"/><stop offset=".3213" stop-color="#3f4889"/><stop offset=".3255" stop-color="#3f4788"/><stop offset=".3298" stop-color="#39568c"/><stop offset=".3340" stop-color="#404588"/><stop offset=".3383" stop-color="#3d4d8a"/><stop offset=".3426" stop-color="#3d4d8a"/><stop offset=".3468" stop-color="#38588c"/><stop offset=".3511" stop-color="#3b518b"/><stop offset=".3553" stop-color="#39568c"/><stop offset=".3596" stop-color="#3e4c8a"/><stop offset=".3638" stop-color="#3b528b"/><stop offset=".3681" stop-color="#3c508b"/><stop offset=".3723" stop-color="#33638d"/><stop offset=".3766" stop-color="#34608d"/><stop offset=".3851" stop-color="#3d4e8a"/><stop offset=".3936" stop-color="#3c508b"/><stop offset=".4191" stop-color="#23888e"/><stop offset=".4234" stop-color="#26828e"/><stop offset=".4277" stop-color="#2e6d8e"/><stop offset=".4319" stop-color="#2c728e"/><stop offset=".4362" stop-color="#31688e"/><stop offset=".4404" stop-color="#2e6d8e"/><stop offset=".4447" stop-color="#2a778e"/><stop offset=".4489" stop-color="#2e6d8e"/><stop offset=".4532" stop-color="#2a768e"/><stop offset=".4574" stop-color="#2e6d8e"/><stop offset=".4617" stop-color="#2e6d8e"/><stop offset=".4660" stop-color="#29798e"/><stop offset=".4745" stop-color="#287d8e"/><stop offset=".4830" stop-color="#1f9a8a"/><stop offset=".4872" stop-color="#46c06f"/><stop offset=".4915" stop-color="#93d741"/><stop offset=".4957" stop-color="#7ad151"/><stop offset=".5000" stop-color="#89d548"/><stop offset=".5043" stop-color="#3bbb75"/><stop offset=".5085" stop-color="#20938c"/><stop offset=".5128" stop-color="#228c8d"/><stop offset=".5255" stop-color="#25858e"/><stop offset=".5340" stop-color="#23898e"/><stop offset=".5426" stop-color="#29798e"/><stop offset=".5511" stop-color="#26818e"/><stop offset=".5553" stop-color="#2b758e"/><stop offset=".5638" stop-color="#23888e"/><stop offset=".5681" stop-color="#23888e"/><stop offset=".5723" stop-color="#277f8e"/><stop offset=".5766" stop-color="#277e8e"/><stop offset=".5851" stop-color="#218e8d"/><stop offset=".5894" stop-color="#26818e"/><stop offset=".5936" stop-color="#24868e"/><stop offset=".6234" stop-color="#2b748e"/><stop offset=".6319" stop-color="#29798e"/><stop offset=".6362" stop-color="#30698e"/><stop offset=".6404" stop-color="#2c738e"/><stop offset=".6447" stop-color="#2e6d8e"/><stop offset=".6532" stop-color="#31688e"/><stop offset=".6574" stop-color="#2b748e"/><stop offset=".6617" stop-color="#32648e"/><stop offset=".6702" stop-color="#38588c"/><stop offset=".6745" stop-color="#31688e"/><stop offset=".6872" stop-color="#39558c"/><stop offset=".6915" stop-color="#38588c"/><stop offset=".6957" stop-color="#3d4d8a"/><stop offset=".7000" stop-color="#39568c"/><stop offset=".7043" stop-color="#39558c"/><stop offset=".7128" stop-color="#46337f"/><stop offset=".7170" stop-color="#3e4c8a"/><stop offset=".7255" stop-color="#443b84"/><stop offset=".7340" stop-color="#3e4989"/><stop offset=".7383" stop-color="#3f4788"/><stop offset=".7426" stop-color="#453781"/><stop offset=".7468" stop-color="#46307e"/><stop offset=".7596" stop-color="#463480"/><stop offset=".7638" stop-color="#414287"/><stop offset=".7681" stop-color="#482979"/><stop offset=".7723" stop-color="#433d84"/><stop offset=".7809" stop-color="#453781"/><stop offset=".7851" stop-color="#443a83"/><stop offset=".7936" stop-color="#472f7d"/><stop offset=".7979" stop-color="#453781"/><stop offset=".8021" stop-color="#472e7c"/><stop offset=".8106" stop-color="#453882"/><stop offset=".8191" stop-color="#443a83"/><stop offset=".8234" stop-color="#423f85"/><stop offset=".8277" stop-color="#482576"/><stop offset=".8362" stop-color="#443a83"/><stop offset=".8404" stop-color="#46327e"/><stop offset=".8447" stop-color="#424086"/><stop offset=".8617" stop-color="#472f7d"/><stop offset=".8660" stop-color="#46307e"/><stop offset=".8702" stop-color="#433d84"/><stop offset=".8830" stop-color="#482979"/><stop offset=".8872" stop-color="#46327e"/><stop offset=".9000" stop-color="#482677"/><stop offset=".9043" stop-color="#443983"/><stop offset=".9085" stop-color="#472e7c"/><stop offset=".9298" stop-color="#482979"/><stop offset=".9340" stop-color="#46337f"/><stop offset=".9426" stop-color="#482576"/><stop offset=".9511" stop-color="#46337f"/><stop offset=".9638" stop-color="#482475"/><stop offset=".9766" stop-color="#472d7b"/><stop offset=".9809" stop-color="#453581"/><stop offset=".9894" stop-color="#472f7d"/><stop offset=".9936" stop-color="#482374"/><stop offset=".9979" stop-color="#453882"/></linearGradient>
<linearGradient id="g13" x1="0" x2="1" y1="0" y2="0"><stop offset=".0021" stop-color="#423f85"/><stop offset=".0064" stop-color="#453882"/><stop offset=".0106" stop-color="#443a83"/><stop offset=".0191" stop-color="#443983"/><stop offset=".0234" stop-color="#472f7d"/><stop offset=".0319" stop-color="#424186"/><stop offset=".0362" stop-color="#472e7c"/><stop offset=".0404" stop-color="#443a83"/><stop offset=".0447" stop-color="#443b84"/><stop offset=".0489" stop-color="#472d7b"/><stop offset=".0532" stop-color="#453581"/><stop offset=".0574" stop-color="#472f7d"/><stop offset=".0702" stop-color="#423f85"/><stop offset=".0745" stop-color="#46337f"/><stop offset=".0787" stop-color="#433e85"/><stop offset=".0830" stop-color="#443b84"/><stop offset=".0872" stop-color="#472e7c"/><stop offset=".0915" stop-color="#423f85"/><stop offset=".0957" stop-color="#404688"/><stop offset=".1043" stop-color="#472e7c"/><stop offset=".1128" stop-color="#443983"/><stop offset=".1170" stop-color="#404588"/><stop offset=".1213" stop-color="#443b84"/><stop offset=".1255" stop-color="#433d84"/><stop offset=".1298" stop-color="#453581"/><stop offset=".1340" stop-color="#453781"/><stop offset=".1383" stop-color="#423f85"/><stop offset=".1426" stop-color="#453581"/><stop offset=".1468" stop-color="#463480"/><stop offset=".1511" stop-color="#443983"/><stop offset=".1553" stop-color="#472d7b"/><stop offset=".1638" stop-color="#433e85"/><stop offset=".1681" stop-color="#453882"/><stop offset=".1723" stop-color="#414487"/><stop offset=".1766" stop-color="#46307e"/><stop offset=".1809" stop-color="#424086"/><stop offset=".1851" stop-color="#443983"/><stop offset=".2021" stop-color="#46337f"/><stop offset=".2064" stop-color="#433d84"/><stop offset=".2149" stop-color="#453882"/><stop offset=".2191" stop-color="#472c7a"/><stop offset=".2234" stop-color="#443b84"/><stop offset=".2277" stop-color="#443a83"/><stop offset=".2319" stop-color="#46327e"/><stop offset=".2362" stop-color="#46337f"/><stop offset=".2404" stop-color="#404588"/><stop offset=".2447" stop-color="#443b84"/><stop offset=".2489" stop-color="#443a83"/><stop offset=".2532" stop-color="#472f7d"/><stop offset=".2574" stop-color="#3f4889"/><stop offset=".2617" stop-color="#433e85"/><stop offset=".2660" stop-color="#3b518b"/><stop offset=".2702" stop-color="#472a7a"/><stop offset=".2745" stop-color="#463480"/><stop offset=".2787" stop-color="#46327e"/><stop offset=".2830" stop-color="#414287"/><stop offset=".2915" stop-color="#453882"/><stop offset=".2957" stop-color="#3c508b"/><stop offset=".3000" stop-color="#404688"/><stop offset=".3085" stop-color="#423f85"/><stop offset=".3213" stop-color="#39568c"/><stop offset=".3255" stop-color="#3b528b"/><stop offset=".3298" stop-color="#375a8c"/><stop offset=".3340" stop-color="#39558c"/><stop offset=".3383" stop-color="#424086"/><stop offset=".3426" stop-color="#365d8d"/><stop offset=".3596" stop-color="#375b8d"/><stop offset=".3638" stop-color="#355e8d"/><stop offset=".3681" stop-color="#3c508b"/><stop offset=".3809" stop-color="#2e6e8e"/><stop offset=".3851" stop-color="#2e6e8e"/><stop offset=".3894" stop-color="#31668e"/><stop offset=".3979" stop-color="#2f6b8e"/><stop offset=".4021" stop-color="#2c728e"/><stop offset=".4064" stop-color="#31688e"/><stop offset=".4106" stop-color="#287d8e"/><stop offset=".4149" stop-color="#2a788e"/><stop offset=".4191" stop-color="#26818e"/><stop offset=".4277" stop-color="#277e8e"/><stop offset=".4319" stop-color="#2b748e"/><stop offset=".4362" stop-color="#2a788e"/><stop offset=".4404" stop-color="#2d718e"/><stop offset=".4447" stop-color="#26828e"/><stop offset=".4489" stop-color="#2a778e"/><stop offset=".4574" stop-color="#24868e"/><stop offset=".4617" stop-color="#29798e"/><stop offset=".4660" stop-color="#2db27d"/><stop offset=".4702" stop-color="#23a983"/><stop offset=".4787" stop-color="#37b878"/><stop offset=".4830" stop-color="#56c667"/><stop offset=".4915" stop-color="#69cd5b"/><stop offset=".4957" stop-color="#7cd250"/><stop offset=".5043" stop-color="#32b67a"/><stop offset=".5085" stop-color="#25ac82"/><stop offset=".5128" stop-color="#28ae80"/><stop offset=".5213" stop-color="#21a685"/><stop offset=".5255" stop-color="#2fb47c"/><stop offset=".5340" stop-color="#24aa83"/><stop offset=".5426" stop-color="#26ad81"/><stop offset=".5468" stop-color="#23a983"/><stop offset=".5511" stop-color="#28ae80"/><stop offset=".5553" stop-color="#25ac82"/><stop offset=".5596" stop-color="#28ae80"/><stop offset=".5638" stop-color="#1f968b"/><stop offset=".5723" stop-color="#1f978b"/><stop offset=".5766" stop-color="#23898e"/><stop offset=".5809" stop-color="#218e8d"/><stop offset=".5851" stop-color="#24868e"/><stop offset=".5894" stop-color="#20a386"/><stop offset=".5936" stop-color="#1e9c89"/><stop offset=".5979" stop-color="#228c8d"/><stop offset=".6021" stop-color="#1e9c89"/><stop offset=".6064" stop-color="#1e9c89"/><stop offset=".6191" stop-color="#27808e"/><stop offset=".6234" stop-color="#297a8e"/><stop offset=".6277" stop-color="#26828e"/><stop offset=".6319" stop-color="#277e8e"/><stop offset=".6404" stop-color="#277f8e"/><stop offset=".6447" stop-color="#2c738e"/><stop offset=".6532" stop-color="#306a8e"/><stop offset=".6574" stop-color="#2e6f8e"/><stop offset=".6617" stop-color="#32648e"/><stop offset=".6660" stop-color="#355f8d"/><stop offset=".6745" stop-color="#2e6e8e"/><stop offset=".6787" stop-color="#375a8c"/><stop offset=".6915" stop-color="#39568c"/><stop offset=".6957" stop-color="#34608d"/><stop offset=".7000" stop-color="#3b518b"/><stop offset=".7043" stop-color="#3a538b"/><stop offset=".7085" stop-color="#404588"/><stop offset=".7170" stop-color="#3e4989"/><stop offset=".7298" stop-color="#424186"/><stop offset=".7340" stop-color="#414487"/><stop offset=".7383" stop-color="#3b528b"/><stop offset=".7426" stop-color="#443b84"/><stop offset=".7468" stop-color="#404588"/><stop offset=".7553" stop-color="#424186"/><stop offset=".7596" stop-color="#472f7d"/><stop offset=".7638" stop-color="#433d84"/><stop offset=".7723" stop-color="#453882"/><stop offset=".7809" stop-color="#433d84"/><stop offset=".7894" stop-color="#453882"/><stop offset=".7936" stop-color="#453781"/><stop offset=".7979" stop-color="#482979"/><stop offset=".8064" stop-color="#453882"/><stop offset=".8191" stop-color="#472f7d"/><stop offset=".8234" stop-color="#443a83"/><stop offset=".8277" stop-color="#46327e"/><stop offset=".8319" stop-color="#433e85"/><stop offset=".8362" stop-color="#472c7a"/><stop offset=".8404" stop-color="#46337f"/><stop offset=".8702" stop-color="#472e7c"/><stop offset=".8745" stop-color="#482979"/><stop offset=".8872" stop-color="#453882"/><stop offset=".8915" stop-color="#46307e"/><stop offset=".9000" stop-color="#46307e"/><stop offset=".9043" stop-color="#472d7b"/><stop offset=".9128" stop-color="#453882"/><stop offset=".9170" stop-color="#472c7a"/><stop offset=".9213" stop-color="#453581"/><stop offset=".9255" stop-color="#472c7a"/><stop offset=".9340" stop-color="#443a83"/><stop offset=".9383" stop-color="#46327e"/><stop offset=".9426" stop-color="#453581"/><stop offset=".9511" stop-color="#482374"/><stop offset=".9596" stop-color="#424086"/><stop offset=".9638" stop-color="#472a7a"/><stop offset=".9681" stop-color="#472f7d"/><stop offset=".9766" stop-color="#472c7a"/><stop offset=".9809" stop-color="#463480"/><stop offset=".9851" stop-color="#46337f"/><stop offset=".9894" stop-color="#482374"/><stop offset=".9936" stop-color="#46307e"/><stop offset=".9979" stop-color="#472a7a"/></linearGradient>
<linearGradient id="g14" x1="0" x2="1" y1="0" y2="0"><stop offset=".0021" stop-color="#453781"/><stop offset=".0064" stop-color="#414487"/><stop offset=".0106" stop-color="#46327e"/><stop offset=".0191" stop-color="#3f4889"/><stop offset=".0277" stop-color="#453581"/><stop offset=".0319" stop-color="#463480"/><stop offset=".0362" stop-color="#414487"/><stop offset=".0404" stop-color="#433e85"/><stop offset=".0447" stop-color="#404688"/><stop offset=".0574" stop-color="#472f7d"/><stop offset=".0617" stop-color="#443b84"/><stop offset=".0660" stop-color="#472a7a"/><stop offset=".0702" stop-color="#443a83"/><stop offset=".0745" stop-color="#472a7a"/><stop offset=".0872" stop-color="#3f4889"/><stop offset=".1000" stop-color="#443983"/><stop offset=".1043" stop-color="#424186"/><stop offset=".1085" stop-color="#46337f"/><stop offset=".1170" stop-color="#424086"/><stop offset=".1255" stop-color="#46327e"/><stop offset=".1340" stop-color="#463480"/><stop offset=".1383" stop-color="#404588"/><stop offset=".1426" stop-color="#404688"/><stop offset=".1468" stop-color="#453781"/><stop offset=".1553" stop-color="#46337f"/><stop offset=".1596" stop-color="#443a83"/><stop offset=".1723" stop-color="#443983"/><stop offset=".1809" stop-color="#423f85"/><stop offset=".1851" stop-color="#472f7d"/><stop offset=".1894" stop-color="#453882"/><stop offset=".1936" stop-color="#46307e"/><stop offset=".1979" stop-color="#404588"/><stop offset=".2021" stop-color="#482979"/><stop offset=".2106" stop-color="#423f85"/><stop offset=".2191" stop-color="#414487"/><stop offset=".2234" stop-color="#472c7a"/><stop offset=".2404" stop-color="#404688"/><stop offset=".2447" stop-color="#433d84"/><stop offset=".2532" stop-color="#443b84"/><stop offset=".2574" stop-color="#3d4e8a"/><stop offset=".2617" stop-color="#463480"/><stop offset=".2660" stop-color="#424086"/><stop offset=".2745" stop-color="#423f85"/><stop offset=".2787" stop-color="#472a7a"/><stop offset=".2830" stop-color="#443983"/><stop offset=".2872" stop-color="#463480"/><stop offset=".2915" stop-color="#414487"/><stop offset=".2957" stop-color="#3e4989"/><stop offset=".3043" stop-color="#404688"/><stop offset=".3128" stop-color="#3d4d8a"/><stop offset=".3170" stop-color="#3e4989"/><stop offset=".3213" stop-color="#3c508b"/><stop offset=".3340" stop-color="#3b518b"/><stop offset=".3383" stop-color="#3d4d8a"/><stop offset=".3426" stop-color="#375a8c"/><stop offset=".3511" stop-color="#3b518b"/><stop offset=".3638" stop-color="#365d8d"/><stop offset=".3723" stop-color="#306a8e"/><stop offset=".3851" stop-color="#32658e"/><stop offset=".3894" stop-color="#2c718e"/><stop offset=".3936" stop-color="#2c728e"/><stop offset=".3979" stop-color="#297a8e"/><stop offset=".4021" stop-color="#2e6f8e"/><stop offset=".4064" stop-color="#2f6b8e"/><stop offset=".4106" stop-color="#2b748e"/><stop offset=".4149" stop-color="#2e6d8e"/><stop offset=".4191" stop-color="#2c728e"/><stop offset=".4234" stop-color="#2f6b8e"/><stop offset=".4277" stop-color="#2c738e"/><stop offset=".4319" stop-color="#2e6d8e"/><stop offset=".4362" stop-color="#25838e"/><stop offset=".4404" stop-color="#218f8d"/><stop offset=".4447" stop-color="#277e8e"/><stop offset=".4489" stop-color="#24868e"/><stop offset=".4532" stop-color="#2a778e"/><stop offset=".4574" stop-color="#29798e"/><stop offset=".4660" stop-color="#31678e"/><stop offset=".4702" stop-color="#2a778e"/><stop offset=".4745" stop-color="#30698e"/><stop offset=".4787" stop-color="#2c738e"/><stop offset=".4872" stop-color="#365c8d"/><stop offset=".4915" stop-color="#32658e"/><stop offset=".4957" stop-color="#355f8d"/><stop offset=".5043" stop-color="#2c738e"/><stop offset=".5128" stop-color="#31688e"/><stop offset=".5170" stop-color="#2c738e"/><stop offset=".5213" stop-color="#2f6b8e"/><stop offset=".5426" stop-color="#2c718e"/><stop offset=".5468" stop-color="#306a8e"/><stop offset=".5511" stop-color="#2a768e"/><stop offset=".5553" stop-color="#2a778e"/><stop offset=".5681" stop-color="#306a8e"/><stop offset=".5723" stop-color="#2a788e"/><stop offset=".5766" stop-color="#31678e"/><stop offset=".5851" stop-color="#32658e"/><stop offset=".5894" stop-color="#2b748e"/><stop offset=".5979" stop-color="#34618d"/><stop offset=".6064" stop-color="#31688e"/><stop offset=".6234" stop-color="#375b8d"/><stop offset=".6319" stop-color="#355e8d"/><stop offset=".6362" stop-color="#31668e"/><stop offset=".6404" stop-color="#39558c"/><stop offset=".6447" stop-color="#355e8d"/><stop offset=".6489" stop-color="#355f8d"/><stop offset=".6532" stop-color="#38588c"/><stop offset=".6574" stop-color="#365d8d"/><stop offset=".6617" stop-color="#3a548c"/><stop offset=".6702" stop-color="#34618d"/><stop offset=".6745" stop-color="#404688"/><stop offset=".6915" stop-color="#39558c"/><stop offset=".7043" stop-color="#404688"/><stop offset=".7085" stop-color="#404688"/><stop offset=".7128" stop-color="#3d4e8a"/><stop offset=".7170" stop-color="#414287"/><stop offset=".7255" stop-color="#414287"/><stop offset=".7298" stop-color="#3e4989"/><stop offset=".7340" stop-color="#453781"/><stop offset=".7383" stop-color="#414487"/><stop offset=".7426" stop-color="#443b84"/><stop offset=".7468" stop-color="#424186"/><stop offset=".7511" stop-color="#423f85"/><stop offset=".7553" stop-color="#3e4989"/><stop offset=".7596" stop-color="#404688"/><stop offset=".7638" stop-color="#453781"/><stop offset=".7681" stop-color="#424186"/><stop offset=".7766" stop-color="#46307e"/><stop offset=".7809" stop-color="#433e85"/><stop offset=".7894" stop-color="#453882"/><stop offset=".7936" stop-color="#404688"/><stop offset=".7979" stop-color="#46337f"/><stop offset=".8021" stop-color="#46337f"/><stop offset=".8064" stop-color="#433e85"/><stop offset=".8106" stop-color="#46327e"/><stop offset=".8149" stop-color="#443b84"/><stop offset=".8191" stop-color="#46327e"/><stop offset=".8234" stop-color="#46327e"/><stop offset=".8277" stop-color="#424086"/><stop offset=".8362" stop-color="#472f7d"/><stop offset=".8447" stop-color="#433d84"/><stop offset=".8489" stop-color="#482979"/><stop offset=".8532" stop-color="#482878"/><stop offset=".8574" stop-color="#46337f"/><stop offset=".8617" stop-color="#482475"/><stop offset=".8660" stop-color="#463480"/><stop offset=".8745" stop-color="#423f85"/><stop offset=".8830" stop-color="#443b84"/><stop offset=".8872" stop-color="#424086"/><stop offset=".8915" stop-color="#46337f"/><stop offset=".9000" stop-color="#453581"/><stop offset=".9043" stop-color="#472f7d"/><stop offset=".9085" stop-color="#443a83"/><stop offset=".9128" stop-color="#46337f"/><stop offset=".9170" stop-color="#404688"/><stop offset=".9213" stop-color="#46307e"/><stop offset=".9255" stop-color="#46327e"/><stop offset=".9298" stop-color="#472a7a"/><stop offset=".9340" stop-color="#463480"/><stop offset=".9468" stop-color="#482677"/><stop offset=".9511" stop-color="#443983"/><stop offset=".9596" stop-color="#472c7a"/><stop offset=".9766" stop-color="#46307e"/><stop offset=".9851" stop-color="#472a7a"/><stop offset=".9894" stop-color="#453781"/><stop offset=".9936" stop-color="#472c7a"/><stop offset=".9979" stop-color="#453581"/></linearGradient>
<linearGradient id="g15" x1="0" x2="1" y1="0" y2="0"><stop offset=".0021" stop-color="#424186"/><stop offset=".0106" stop-color="#453581"/><stop offset=".0234" stop-color="#443b84"/><stop offset=".0277" stop-color="#453581"/><stop offset=".0404" stop-color="#414287"/><stop offset=".0447" stop-color="#3d4d8a"/><stop offset=".0489" stop-color="#433e85"/><stop offset=".0532" stop-color="#443983"/><stop offset=".0574" stop-color="#3f4788"/><stop offset=".0660" stop-color="#453882"/><stop offset=".0702" stop-color="#433d84"/><stop offset=".0745" stop-color="#443983"/><stop offset=".0787" stop-color="#433e85"/><stop offset=".0830" stop-color="#463480"/><stop offset=".0872" stop-color="#423f85"/><stop offset=".0915" stop-color="#453882"/><stop offset=".0957" stop-color="#424086"/><stop offset=".1000" stop-color="#482979"/><stop offset=".1043" stop-color="#433e85"/><stop offset=".1128" stop-color="#463480"/><stop offset=".1170" stop-color="#433e85"/><stop offset=".1213" stop-color="#433e85"/><stop offset=".1255" stop-color="#3c4f8a"/><stop offset=".1298" stop-color="#433e85"/><stop offset=".1383" stop-color="#443b84"/><stop offset=".1426" stop-color="#463480"/><stop offset=".1511" stop-color="#424086"/><stop offset=".1553" stop-color="#453581"/><stop offset=".1681" stop-color="#414487"/><stop offset=".1766" stop-color="#443b84"/><stop offset=".1809" stop-color="#3e4989"/><stop offset=".1851" stop-color="#443983"/><stop offset=".1894" stop-color="#414287"/><stop offset=".1979" stop-color="#46327e"/><stop offset=".2021" stop-color="#443b84"/><stop offset=".2106" stop-color="#453581"/><stop offset=".2149" stop-color="#443a83"/><stop offset=".2191" stop-color="#463480"/><stop offset=".2234" stop-color="#433d84"/><stop offset=".2277" stop-color="#46337f"/><stop offset=".2404" stop-color="#3f4788"/><stop offset=".2447" stop-color="#433d84"/><stop offset=".2489" stop-color="#443a83"/><stop offset=".2532" stop-color="#3f4889"/><stop offset=".2574" stop-color="#453781"/><stop offset=".2702" stop-color="#424186"/><stop offset=".2745" stop-color="#433e85"/><stop offset=".2787" stop-color="#3d4e8a"/><stop offset=".2830" stop-color="#46337f"/><stop offset=".2872" stop-color="#463480"/><stop offset=".2915" stop-color="#3e4a89"/><stop offset=".2957" stop-color="#3f4788"/><stop offset=".3000" stop-color="#3e4a89"/><stop offset=".3043" stop-color="#3f4788"/><stop offset=".3085" stop-color="#3c508b"/><stop offset=".3128" stop-color="#404588"/><stop offset=".3170" stop-color="#3f4889"/><stop offset=".3213" stop-color="#355e8d"/><stop offset=".3255" stop-color="#365c8d"/><stop offset=".3298" stop-color="#3d4d8a"/><stop offset=".3383" stop-color="#39568c"/><stop offset=".3468" stop-color="#39558c"/><stop offset=".3596" stop-color="#2f6b8e"/><stop offset=".3681" stop-color="#30698e"/><stop offset=".3766" stop-color="#29798e"/><stop offset=".3809" stop-color="#2c728e"/><stop offset=".3894" stop-color="#26818e"/><stop offset=".3936" stop-color="#2a778e"/><stop offset=".4021" stop-color="#297a8e"/><stop offset=".4064" stop-color="#24878e"/><stop offset=".4149" stop-color="#277e8e"/><stop offset=".4277" stop-color="#25838e"/><stop offset=".4319" stop-color="#27808e"/><stop offset=".4362" stop-color="#218f8d"/><stop offset=".4404" stop-color="#23888e"/><stop offset=".4447" stop-color="#228b8d"/><stop offset=".4489" stop-color="#26828e"/><stop offset=".4532" stop-color="#21918c"/><stop offset=".4574" stop-color="#228d8d"/><stop offset=".4617" stop-color="#2a788e"/><stop offset=".4660" stop-color="#25838e"/><stop offset=".4702" stop-color="#25838e"/><stop offset=".4745" stop-color="#35b779"/><stop offset=".4787" stop-color="#29af7f"/><stop offset=".4915" stop-color="#7fd34e"/><stop offset=".4957" stop-color="#6ece58"/><stop offset=".5000" stop-color="#75d054"/><stop offset=".5043" stop-color="#65cb5e"/><stop offset=".5128" stop-color="#37b878"/><stop offset=".5170" stop-color="#2db27d"/><stop offset=".5298" stop-color="#3aba76"/><stop offset=".5426" stop-color="#3aba76"/><stop offset=".5511" stop-color="#2cb17e"/><stop offset=".5596" stop-color="#38b977"/><stop offset=".5638" stop-color="#63cb5f"/><stop offset=".5809" stop-color="#34b679"/><stop offset=".5851" stop-color="#3fbc73"/><stop offset=".5936" stop-color="#35b779"/><stop offset=".5979" stop-color="#1fa287"/><stop offset=".6021" stop-color="#2ab07f"/><stop offset=".6064" stop-color="#1f9f88"/><stop offset=".6106" stop-color="#21a585"/><stop offset=".6149" stop-color="#218f8d"/><stop offset=".6191" stop-color="#228b8d"/><stop offset=".6234" stop-color="#218f8d"/><stop offset=".6277" stop-color="#23898e"/><stop offset=".6404" stop-color="#20928c"/><stop offset=".6447" stop-color="#238a8d"/><stop offset=".6489" stop-color="#228d8d"/><stop offset=".6617" stop-color="#2a788e"/><stop offset=".6660" stop-color="#2d708e"/><stop offset=".6702" stop-color="#2c728e"/><stop offset=".6787" stop-color="#31668e"/><stop offset=".6830" stop-color="#2d708e"/><stop offset=".6872" stop-color="#365d8d"/><stop offset=".6915" stop-color="#33628d"/><stop offset=".6957" stop-color="#3a538b"/><stop offset=".7043" stop-color="#3d4d8a"/><stop offset=".7085" stop-color="#3c508b"/><stop offset=".7170" stop-color="#404688"/><stop offset=".7213" stop-color="#3d4d8a"/><stop offset=".7255" stop-color="#424086"/><stop offset=".7340" stop-color="#375a8c"/><stop offset=".7383" stop-color="#404688"/><stop offset=".7426" stop-color="#414287"/><stop offset=".7511" stop-color="#3b528b"/><stop offset=".7553" stop-color="#46327e"/><stop offset=".7596" stop-color="#423f85"/><stop offset=".7638" stop-color="#433d84"/><stop offset=".7681" stop-color="#3f4889"/><stop offset=".7766" stop-color="#423f85"/><stop offset=".7809" stop-color="#46307e"/><stop offset=".7936" stop-color="#423f85"/><stop offset=".7979" stop-color="#3f4788"/><stop offset=".8021" stop-color="#443a83"/><stop offset=".8064" stop-color="#433e85"/><stop offset=".8149" stop-color="#463480"/><stop offset=".8234" stop-color="#414287"/><stop offset=".8277" stop-color="#433d84"/><stop offset=".8447" stop-color="#443b84"/><stop offset=".8489" stop-color="#404588"/><stop offset=".8574" stop-color="#46337f"/><stop offset=".8617" stop-color="#453781"/><stop offset=".8660" stop-color="#46327e"/><stop offset=".8702" stop-color="#453882"/><stop offset=".8745" stop-color="#472d7b"/><stop offset=".8872" stop-color="#443983"/><stop offset=".8957" stop-color="#472f7d"/><stop offset=".9000" stop-color="#423f85"/><stop offset=".9043" stop-color="#472e7c"/><stop offset=".9085" stop-color="#433e85"/><stop offset=".9128" stop-color="#472c7a"/><stop offset=".9213" stop-color="#472a7a"/><stop offset=".9255" stop-color="#472e7c"/><stop offset=".9298" stop-color="#443a83"/><stop offset=".9340" stop-color="#453581"/><stop offset=".9383" stop-color="#453882"/><stop offset=".9426" stop-color="#472c7a"/><stop offset=".9468" stop-color="#433e85"/><stop offset=".9553" stop-color="#472e7c"/><stop offset=".9596" stop-color="#472f7d"/><stop offset=".9638" stop-color="#453882"/><stop offset=".9681" stop-color="#472c7a"/><stop offset=".9723" stop-color="#472f7d"/><stop offset=".9766" stop-color="#433d84"/><stop offset=".9851" stop-color="#472c7a"/><stop offset=".9894" stop-color="#443983"/><stop offset=".9936" stop-color="#482071"/><stop offset=".9979" stop-color="#453581"/></linearGradient>
<linearGradient id="g16" x1="0" x2="1" y1="0" y2="0"><stop offset=".0021" stop-color="#443a83"/><stop offset=".0064" stop-color="#414287"/><stop offset=".0191" stop-color="#443983"/><stop offset=".0234" stop-color="#424086"/><stop offset=".0277" stop-color="#453882"/><stop offset=".0319" stop-color="#453882"/><stop offset=".0362" stop-color="#414287"/><stop offset=".0404" stop-color="#46327e"/><stop offset=".0532" stop-color="#433e85"/><stop offset=".0574" stop-color="#482677"/><stop offset=".0617" stop-color="#433d84"/><stop offset=".0660" stop-color="#433e85"/><stop offset=".0702" stop-color="#3e4c8a"/><stop offset=".0745" stop-color="#472a7a"/><stop offset=".0787" stop-color="#414487"/><stop offset=".0830" stop-color="#472d7b"/><stop offset=".0915" stop-color="#443b84"/><stop offset=".1000" stop-color="#433e85"/><stop offset=".1043" stop-color="#414487"/><stop offset=".1213" stop-color="#443a83"/><stop offset=".1255" stop-color="#472f7d"/><stop offset=".1298" stop-color="#443983"/><stop offset=".1426" stop-color="#463480"/><stop offset=".1468" stop-color="#424186"/><stop offset=".1511" stop-color="#443b84"/><stop offset=".1553" stop-color="#414487"/><stop offset=".1596" stop-color="#453781"/><stop offset=".1681" stop-color="#424086"/><stop offset=".1723" stop-color="#453581"/><stop offset=".1809" stop-color="#443b84"/><stop offset=".1851" stop-color="#453581"/><stop offset=".1936" stop-color="#3e4989"/><stop offset=".1979" stop-color="#3f4788"/><stop offset=".2064" stop-color="#443983"/><stop offset=".2106" stop-color="#414487"/><stop offset=".2191" stop-color="#463480"/><stop offset=".2277" stop-color="#46337f"/><stop offset=".2404" stop-color="#423f85"/><stop offset=".2447" stop-color="#453781"/><stop offset=".2489" stop-color="#424186"/><stop offset=".2532" stop-color="#453781"/><stop offset=".2574" stop-color="#3d4e8a"/><stop offset=".2660" stop-color="#46327e"/><stop offset=".2702" stop-color="#404688"/><stop offset=".2787" stop-color="#443b84"/><stop offset=".2872" stop-color="#404588"/><stop offset=".2957" stop-color="#433d84"/><stop offset=".3000" stop-color="#423f85"/><stop offset=".3043" stop-color="#3e4a89"/><stop offset=".3085" stop-color="#414487"/><stop offset=".3170" stop-color="#3e4989"/><stop offset=".3213" stop-color="#404688"/><stop offset=".3255" stop-color="#3a538b"/><stop offset=".3298" stop-color="#3a548c"/><stop offset=".3340" stop-color="#3e4a89"/><stop offset=".3383" stop-color="#3b518b"/><stop offset=".3426" stop-color="#3d4d8a"/><stop offset=".3468" stop-color="#375a8c"/><stop offset=".3511" stop-color="#3b518b"/><stop offset=".3553" stop-color="#3b528b"/><stop offset=".3596" stop-color="#34608d"/><stop offset=".3638" stop-color="#34608d"/><stop offset=".3681" stop-color="#306a8e"/><stop offset=".3723" stop-color="#32658e"/><stop offset=".3766" stop-color="#31688e"/><stop offset=".3809" stop-color="#2b748e"/><stop offset=".3851" stop-color="#2e6f8e"/><stop offset=".3936" stop-color="#2b758e"/><stop offset=".4021" stop-color="#2c728e"/><stop offset=".4106" stop-color="#2b748e"/><stop offset=".4149" stop-color="#27808e"/><stop offset=".4319" stop-color="#25838e"/><stop offset=".4362" stop-color="#297a8e"/><stop offset=".4404" stop-color="#2a768e"/><stop offset=".4447" stop-color="#25838e"/><stop offset=".4489" stop-color="#297b8e"/><stop offset=".4532" stop-color="#26828e"/><stop offset=".4574" stop-color="#26818e"/><stop offset=".4617" stop-color="#29798e"/><stop offset=".4660" stop-color="#25848e"/><stop offset=".4702" stop-color="#29798e"/><stop offset=".4745" stop-color="#28ae80"/><stop offset=".4787" stop-color="#1f9a8a"/><stop offset=".4830" stop-color="#1f948c"/><stop offset=".4872" stop-color="#1f968b"/><stop offset=".4915" stop-color="#21908d"/><stop offset=".4957" stop-color="#1f998a"/><stop offset=".5085" stop-color="#20938c"/><stop offset=".5170" stop-color="#20a386"/><stop offset=".5213" stop-color="#22a785"/><stop offset=".5255" stop-color="#1f9e89"/><stop offset=".5340" stop-color="#1fa287"/><stop offset=".5383" stop-color="#21918c"/><stop offset=".5468" stop-color="#1f958b"/><stop offset=".5511" stop-color="#218f8d"/><stop offset=".5596" stop-color="#21908d"/><stop offset=".5681" stop-color="#1f998a"/><stop offset=".5723" stop-color="#20928c"/><stop offset=".5766" stop-color="#1f9a8a"/><stop offset=".5851" stop-color="#24868e"/><stop offset=".5936" stop-color="#23898e"/><stop offset=".6021" stop-color="#27808e"/><stop offset=".6106" stop-color="#25838e"/><stop offset=".6149" stop-color="#2d708e"/><stop offset=".6234" stop-color="#2a788e"/><stop offset=".6277" stop-color="#26828e"/><stop offset=".6319" stop-color="#31678e"/><stop offset=".6404" stop-color="#297a8e"/><stop offset=".6489" stop-color="#2c718e"/><stop offset=".6532" stop-color="#2a778e"/><stop offset=".6660" stop-color="#31688e"/><stop offset=".6745" stop-color="#30698e"/><stop offset=".6787" stop-color="#38598c"/><stop offset=".6872" stop-color="#39568c"/><stop offset=".6915" stop-color="#34618d"/><stop offset=".6957" stop-color="#3a548c"/><stop offset=".7128" stop-color="#3e4989"/><stop offset=".7213" stop-color="#443a83"/><stop offset=".7255" stop-color="#3e4c8a"/><stop offset=".7298" stop-color="#424186"/><stop offset=".7340" stop-color="#3f4889"/><stop offset=".7383" stop-color="#414287"/><stop offset=".7426" stop-color="#404688"/><stop offset=".7468" stop-color="#424086"/><stop offset=".7511" stop-color="#414287"/><stop offset=".7553" stop-color="#443b84"/><stop offset=".7596" stop-color="#3f4788"/><stop offset=".7638" stop-color="#423f85"/><stop offset=".7681" stop-color="#3f4788"/><stop offset=".7723" stop-color="#443983"/><stop offset=".7766" stop-color="#443b84"/><stop offset=".7809" stop-color="#472f7d"/><stop offset=".7851" stop-color="#463480"/><stop offset=".7894" stop-color="#414287"/><stop offset=".8021" stop-color="#472e7c"/><stop offset=".8064" stop-color="#424186"/><stop offset=".8149" stop-color="#443983"/><stop offset=".8191" stop-color="#433e85"/><stop offset=".8234" stop-color="#453581"/><stop offset=".8277" stop-color="#433d84"/><stop offset=".8362" stop-color="#472d7b"/><stop offset=".8404" stop-color="#443983"/><stop offset=".8447" stop-color="#443b84"/><stop offset=".8532" stop-color="#46307e"/><stop offset=".8574" stop-color="#443b84"/><stop offset=".8617" stop-color="#453781"/><stop offset=".8660" stop-color="#433e85"/><stop offset=".8745" stop-color="#443b84"/><stop offset=".8787" stop-color="#46327e"/><stop offset=".8830" stop-color="#46327e"/><stop offset=".8872" stop-color="#433d84"/><stop offset=".8915" stop-color="#482374"/><stop offset=".9043" stop-color="#453781"/><stop offset=".9128" stop-color="#482677"/><stop offset=".9213" stop-color="#424186"/><stop offset=".9255" stop-color="#46337f"/><stop offset=".9340" stop-color="#472e7c"/><stop offset=".9426" stop-color="#453581"/><stop offset=".9468" stop-color="#463480"/><stop offset=".9511" stop-color="#482979"/><stop offset=".9553" stop-color="#453581"/><stop offset=".9638" stop-color="#472e7c"/><stop offset=".9723" stop-color="#453882"/><stop offset=".9766" stop-color="#482677"/><stop offset=".9809" stop-color="#472f7d"/><stop offset=".9851" stop-color="#482878"/><stop offset=".9936" stop-color="#453781"/><stop offset=".9979" stop-color="#453882"/></linearGradient>
<linearGradient id="g17" x1="0" x2="1" y1="0" y2="0"><stop offset=".0021" stop-color="#463480"/><stop offset=".0064" stop-color="#482878"/><stop offset=".0106" stop-color="#472f7d"/><stop offset=".0234" stop-color="#472a7a"/><stop offset=".0277" stop-color="#472d7b"/><stop offset=".0319" stop-color="#453882"/><stop offset=".0362" stop-color="#481f70"/><stop offset=".0404" stop-color="#472d7b"/><stop offset=".0489" stop-color="#463480"/><stop offset=".0532" stop-color="#482979"/><stop offset=".0574" stop-color="#46327e"/><stop offset=".0702" stop-color="#482475"/><stop offset=".0745" stop-color="#453581"/><stop offset=".0830" stop-color="#46337f"/><stop offset=".0872" stop-color="#482878"/><stop offset=".0915" stop-color="#472f7d"/><stop offset=".0957" stop-color="#472a7a"/><stop offset=".1085" stop-color="#453781"/><stop offset=".1170" stop-color="#46327e"/><stop offset=".1213" stop-color="#443983"/><stop offset=".1255" stop-color="#472d7b"/><stop offset=".1298" stop-color="#453781"/><stop offset=".1383" stop-color="#472c7a"/><stop offset=".1426" stop-color="#46327e"/><stop offset=".1553" stop-color="#482979"/><stop offset=".1638" stop-color="#433e85"/><stop offset=".1809" stop-color="#472d7b"/><stop offset=".1851" stop-color="#472c7a"/><stop offset=".1894" stop-color="#423f85"/><stop offset=".1936" stop-color="#472c7a"/><stop offset=".1979" stop-color="#453581"/><stop offset=".2064" stop-color="#482878"/><stop offset=".2191" stop-color="#424186"/><stop offset=".2234" stop-color="#472f7d"/><stop offset=".2277" stop-color="#472a7a"/><stop offset=".2319" stop-color="#443b84"/><stop offset=".2404" stop-color="#482576"/><stop offset=".2447" stop-color="#443b84"/><stop offset=".2489" stop-color="#472d7b"/><stop offset=".2660" stop-color="#443b84"/><stop offset=".2702" stop-color="#453882"/><stop offset=".2745" stop-color="#3d4d8a"/><stop offset=".2787" stop-color="#443b84"/><stop offset=".2872" stop-color="#443983"/><stop offset=".2915" stop-color="#443983"/><stop offset=".3000" stop-color="#3e4a89"/><stop offset=".3043" stop-color="#433d84"/><stop offset=".3085" stop-color="#3e4989"/><stop offset=".3128" stop-color="#3d4d8a"/><stop offset=".3170" stop-color="#404688"/><stop offset=".3255" stop-color="#3d4e8a"/><stop offset=".3340" stop-color="#404588"/><stop offset=".3383" stop-color="#3d4e8a"/><stop offset=".3426" stop-color="#3e4c8a"/><stop offset=".3468" stop-color="#38598c"/><stop offset=".3511" stop-color="#3b528b"/><stop offset=".3596" stop-color="#365c8d"/><stop offset=".3681" stop-color="#2d718e"/><stop offset=".3766" stop-color="#306a8e"/><stop offset=".3851" stop-color="#297b8e"/><stop offset=".3894" stop-color="#2e6e8e"/><stop offset=".4021" stop-color="#287d8e"/><stop offset=".4064" stop-color="#29798e"/><stop offset=".4106" stop-color="#25838e"/><stop offset=".4149" stop-color="#287d8e"/><stop offset=".4191" stop-color="#25848e"/><stop offset=".4234" stop-color="#27808e"/><stop offset=".4277" stop-color="#25848e"/><stop offset=".4404" stop-color="#277f8e"/><stop offset=".4447" stop-color="#26828e"/><stop offset=".4489" stop-color="#2a778e"/><stop offset=".4574" stop-color="#27808e"/><stop offset=".4617" stop-color="#287c8e"/><stop offset=".4660" stop-color="#2c718e"/><stop offset=".4745" stop-color="#23888e"/><stop offset=".4787" stop-color="#40bd72"/><stop offset=".4830" stop-color="#2fb47c"/><stop offset=".4872" stop-color="#54c568"/><stop offset=".5000" stop-color="#2fb47c"/><stop offset=".5043" stop-color="#35b779"/><stop offset=".5085" stop-color="#26ad81"/><stop offset=".5128" stop-color="#27ad81"/><stop offset=".5170" stop-color="#3fbc73"/><stop offset=".5255" stop-color="#25ab82"/><stop offset=".5340" stop-color="#22a884"/><stop offset=".5383" stop-color="#28ae80"/><stop offset=".5426" stop-color="#1f998a"/><stop offset=".5468" stop-color="#1fa187"/><stop offset=".5553" stop-color="#22a884"/><stop offset=".5596" stop-color="#20a486"/><stop offset=".5638" stop-color="#218f8d"/><stop offset=".5681" stop-color="#23898e"/><stop offset=".5723" stop-color="#21908d"/><stop offset=".5766" stop-color="#26828e"/><stop offset=".5894" stop-color="#26828e"/><stop offset=".5936" stop-color="#2c718e"/><stop offset=".6021" stop-color="#306a8e"/><stop offset=".6064" stop-color="#30698e"/><stop offset=".6106" stop-color="#2e6e8e"/><stop offset=".6149" stop-color="#2f6b8e"/><stop offset=".6191" stop-color="#2e6f8e"/><stop offset=".6234" stop-color="#31688e"/><stop offset=".6277" stop-color="#2e6f8e"/><stop offset=".6362" stop-color="#2d718e"/><stop offset=".6404" stop-color="#33638d"/><stop offset=".6447" stop-color="#2a768e"/><stop offset=".6489" stop-color="#2f6b8e"/><stop offset=".6574" stop-color="#34608d"/><stop offset=".6617" stop-color="#32648e"/><stop offset=".6660" stop-color="#39558c"/><stop offset=".6787" stop-color="#34608d"/><stop offset=".6915" stop-color="#3c508b"/><stop offset=".6957" stop-color="#433e85"/><stop offset=".7043" stop-color="#3b528b"/><stop offset=".7085" stop-color="#404688"/><stop offset=".7255" stop-color="#453581"/><stop offset=".7298" stop-color="#443a83"/><stop offset=".7340" stop-color="#463480"/><stop offset=".7383" stop-color="#423f85"/><stop offset=".7426" stop-color="#46307e"/><stop offset=".7511" stop-color="#46307e"/><stop offset=".7553" stop-color="#443b84"/><stop offset=".7596" stop-color="#443a83"/><stop offset=".7638" stop-color="#472d7b"/><stop offset=".7723" stop-color="#453781"/><stop offset=".7809" stop-color="#453882"/><stop offset=".7894" stop-color="#482576"/><stop offset=".7979" stop-color="#453781"/><stop offset=".8021" stop-color="#472f7d"/><stop offset=".8064" stop-color="#453882"/><stop offset=".8106" stop-color="#482374"/><stop offset=".8149" stop-color="#472e7c"/><stop offset=".8191" stop-color="#472f7d"/><stop offset=".8234" stop-color="#482878"/><stop offset=".8277" stop-color="#453882"/><stop offset=".8362" stop-color="#472c7a"/><stop offset=".8447" stop-color="#453581"/><stop offset=".8532" stop-color="#472a7a"/><stop offset=".8574" stop-color="#472a7a"/><stop offset=".8617" stop-color="#463480"/><stop offset=".8745" stop-color="#46327e"/><stop offset=".8787" stop-color="#482374"/><stop offset=".8830" stop-color="#472e7c"/><stop offset=".8872" stop-color="#482878"/><stop offset=".8915" stop-color="#453781"/><stop offset=".8957" stop-color="#472d7b"/><stop offset=".9043" stop-color="#46307e"/><stop offset=".9085" stop-color="#482475"/><stop offset=".9170" stop-color="#482475"/><stop offset=".9340" stop-color="#463480"/><stop offset=".9426" stop-color="#472c7a"/><stop offset=".9468" stop-color="#472c7a"/><stop offset=".9511" stop-color="#481d6f"/><stop offset=".9596" stop-color="#482475"/><stop offset=".9638" stop-color="#482173"/><stop offset=".9723" stop-color="#453581"/><stop offset=".9809" stop-color="#472d7b"/><stop offset=".9851" stop-color="#482071"/><stop offset=".9894" stop-color="#46337f"/><stop offset=".9936" stop-color="#482979"/><stop offset=".9979" stop-color="#453882"/></linearGradient>
<linearGradient id="g18" x1="0" x2="1" y1="0" y2="0"><stop offset=".0021" stop-color="#453781"/><stop offset=".0191" stop-color="#472d7b"/><stop offset=".0234" stop-color="#482576"/><stop offset=".0319" stop-color="#433d84"/><stop offset=".0362" stop-color="#472e7c"/><stop offset=".0447" stop-color="#453781"/><stop offset=".0489" stop-color="#46337f"/><stop offset=".0574" stop-color="#433e85"/><stop offset=".0660" stop-color="#472d7b"/><stop offset=".0702" stop-color="#453882"/><stop offset=".0745" stop-color="#46327e"/><stop offset=".0872" stop-color="#453882"/><stop offset=".0957" stop-color="#472f7d"/><stop offset=".1085" stop-color="#463480"/><stop offset=".1128" stop-color="#433e85"/><stop offset=".1170" stop-color="#472f7d"/><stop offset=".1213" stop-color="#453882"/><stop offset=".1340" stop-color="#472f7d"/><stop offset=".1468" stop-color="#424186"/><stop offset=".1553" stop-color="#472c7a"/><stop offset=".1596" stop-color="#482979"/><stop offset=".1638" stop-color="#443983"/><stop offset=".1681" stop-color="#472f7d"/><stop offset=".1723" stop-color="#443b84"/><stop offset=".1809" stop-color="#46307e"/><stop offset=".1851" stop-color="#443983"/><stop offset=".1894" stop-color="#3f4788"/><stop offset=".1936" stop-color="#433e85"/><stop offset=".1979" stop-color="#433e85"/><stop offset=".2021" stop-color="#472e7c"/><stop offset=".2106" stop-color="#414287"/><stop offset=".2149" stop-color="#414287"/><stop offset=".2191" stop-color="#453882"/><stop offset=".2319" stop-color="#443a83"/><stop offset=".2362" stop-color="#453581"/><stop offset=".2447" stop-color="#443983"/><stop offset=".2489" stop-color="#414487"/><stop offset=".2532" stop-color="#404588"/><stop offset=".2574" stop-color="#453882"/><stop offset=".2617" stop-color="#404688"/><stop offset=".2702" stop-color="#3e4989"/><stop offset=".2745" stop-color="#443a83"/><stop offset=".2787" stop-color="#3e4c8a"/><stop offset=".2830" stop-color="#3e4989"/><stop offset=".2872" stop-color="#424086"/><stop offset=".2915" stop-color="#424086"/><stop offset=".2957" stop-color="#3e4c8a"/><stop offset=".3043" stop-color="#3e4989"/><stop offset=".3085" stop-color="#375b8d"/><stop offset=".3128" stop-color="#3b518b"/><stop offset=".3213" stop-color="#38588c"/><stop offset=".3255" stop-color="#404588"/><stop offset=".3298" stop-color="#375a8c"/><stop offset=".3340" stop-color="#3a548c"/><stop offset=".3383" stop-color="#355f8d"/><stop offset=".3468" stop-color="#355f8d"/><stop offset=".3681" stop-color="#287c8e"/><stop offset=".3809" stop-color="#297a8e"/><stop offset=".3851" stop-color="#26828e"/><stop offset=".3979" stop-color="#23888e"/><stop offset=".4021" stop-color="#27808e"/><stop offset=".4064" stop-color="#218f8d"/><stop offset=".4191" stop-color="#228c8d"/><stop offset=".4234" stop-color="#20928c"/><stop offset=".4362" stop-color="#228d8d"/><stop offset=".4447" stop-color="#1e9b8a"/><stop offset=".4532" stop-color="#1f948c"/><stop offset=".4617" stop-color="#1fa188"/><stop offset=".4702" stop-color="#1f9a8a"/><stop offset=".4745" stop-color="#1f9f88"/><stop offset=".4787" stop-color="#3dbc74"/><stop offset=".4830" stop-color="#48c16e"/><stop offset=".4872" stop-color="#81d34d"/><stop offset=".4957" stop-color="#98d83e"/><stop offset=".5043" stop-color="#7cd250"/><stop offset=".5085" stop-color="#98d83e"/><stop offset=".5170" stop-color="#77d153"/><stop offset=".5213" stop-color="#a8db34"/><stop offset=".5255" stop-color="#73d056"/><stop offset=".5340" stop-color="#77d153"/><stop offset=".5383" stop-color="#60ca60"/><stop offset=".5426" stop-color="#3dbc74"/><stop offset=".5468" stop-color="#60ca60"/><stop offset=".5511" stop-color="#44bf70"/><stop offset=".5553" stop-color="#58c765"/><stop offset=".5596" stop-color="#4ac16d"/><stop offset=".5681" stop-color="#4ec36b"/><stop offset=".5723" stop-color="#2fb47c"/><stop offset=".5766" stop-color="#37b878"/><stop offset=".5809" stop-color="#2fb47c"/><stop offset=".5894" stop-color="#1f9a8a"/><stop offset=".6021" stop-color="#26828e"/><stop offset=".6064" stop-color="#25858e"/><stop offset=".6149" stop-color="#2b758e"/><stop offset=".6234" stop-color="#287d8e"/><stop offset=".6277" stop-color="#2b748e"/><stop offset=".6362" stop-color="#2c738e"/><stop offset=".6447" stop-color="#2d708e"/><stop offset=".6489" stop-color="#31678e"/><stop offset=".6532" stop-color="#297a8e"/><stop offset=".6617" stop-color="#30698e"/><stop offset=".6745" stop-color="#2f6b8e"/><stop offset=".6787" stop-color="#355e8d"/><stop offset=".6830" stop-color="#32658e"/><stop offset=".6872" stop-color="#33628d"/><stop offset=".6915" stop-color="#39558c"/><stop offset=".7000" stop-color="#375b8d"/><stop offset=".7085" stop-color="#3b518b"/><stop offset=".7128" stop-color="#414487"/><stop offset=".7170" stop-color="#3a548c"/><stop offset=".7213" stop-color="#3a548c"/><stop offset=".7255" stop-color="#424186"/><stop offset=".7298" stop-color="#3e4989"/><stop offset=".7340" stop-color="#424186"/><stop offset=".7383" stop-color="#404588"/><stop offset=".7511" stop-color="#414487"/><stop offset=".7553" stop-color="#3f4889"/><stop offset=".7638" stop-color="#443a83"/><stop offset=".7723" stop-color="#433d84"/><stop offset=".7766" stop-color="#46307e"/><stop offset=".7809" stop-color="#46337f"/><stop offset=".7851" stop-color="#423f85"/><stop offset=".7936" stop-color="#472c7a"/><stop offset=".8021" stop-color="#472c7a"/><stop offset=".8064" stop-color="#46327e"/><stop offset=".8106" stop-color="#482979"/><stop offset=".8149" stop-color="#443b84"/><stop offset=".8191" stop-color="#433d84"/><stop offset=".8277" stop-color="#472a7a"/><stop offset=".8319" stop-color="#472c7a"/><stop offset=".8362" stop-color="#443983"/><stop offset=".8404" stop-color="#443983"/><stop offset=".8447" stop-color="#46307e"/><stop offset=".8489" stop-color="#433d84"/><stop offset=".8574" stop-color="#472c7a"/><stop offset=".8617" stop-color="#482979"/><stop offset=".8660" stop-color="#46307e"/><stop offset=".8702" stop-color="#472e7c"/><stop offset=".8745" stop-color="#433d84"/><stop offset=".8830" stop-color="#472d7b"/><stop offset=".8872" stop-color="#463480"/><stop offset=".9000" stop-color="#472d7b"/><stop offset=".9043" stop-color="#46337f"/><stop offset=".9128" stop-color="#472a7a"/><stop offset=".9170" stop-color="#46337f"/><stop offset=".9213" stop-color="#472f7d"/><stop offset=".9255" stop-color="#482374"/><stop offset=".9298" stop-color="#453882"/><stop offset=".9511" stop-color="#463480"/><stop offset=".9596" stop-color="#472c7a"/><stop offset=".9638" stop-color="#453781"/><stop offset=".9723" stop-color="#46307e"/><stop offset=".9766" stop-color="#453882"/><stop offset=".9809" stop-color="#472a7a"/><stop offset=".9851" stop-color="#463480"/><stop offset=".9936" stop-color="#463480"/><stop offset=".9979" stop-color="#423f85"/></linearGradient>
<linearGradient id="g19" x1="0" x2="1" y1="0" y2="0"><stop offset=".0021" stop-color="#453581"/><stop offset=".0064" stop-color="#423f85"/><stop offset=".0106" stop-color="#472d7b"/><stop offset=".0149" stop-color="#46327e"/><stop offset=".0234" stop-color="#472f7d"/><stop offset=".0277" stop-color="#46307e"/><stop offset=".0319" stop-color="#443a83"/><stop offset=".0362" stop-color="#472f7d"/><stop offset=".0404" stop-color="#46337f"/><stop offset=".0489" stop-color="#472d7b"/><stop offset=".0532" stop-color="#453581"/><stop offset=".0574" stop-color="#46307e"/><stop offset=".0702" stop-color="#453781"/><stop offset=".0745" stop-color="#482475"/><stop offset=".0787" stop-color="#463480"/><stop offset=".0872" stop-color="#472c7a"/><stop offset=".0915" stop-color="#453781"/><stop offset=".0957" stop-color="#482173"/><stop offset=".1000" stop-color="#472f7d"/><stop offset=".1043" stop-color="#463480"/><stop offset=".1085" stop-color="#472a7a"/><stop offset=".1128" stop-color="#404588"/><stop offset=".1170" stop-color="#423f85"/><stop offset=".1213" stop-color="#46327e"/><stop offset=".1255" stop-color="#46337f"/><stop offset=".1298" stop-color="#433e85"/><stop offset=".1340" stop-color="#472f7d"/><stop offset=".1426" stop-color="#472f7d"/><stop offset=".1596" stop-color="#453581"/><stop offset=".1681" stop-color="#46327e"/><stop offset=".1723" stop-color="#423f85"/><stop offset=".1766" stop-color="#453781"/><stop offset=".1809" stop-color="#482475"/><stop offset=".1851" stop-color="#453581"/><stop offset=".2021" stop-color="#453581"/><stop offset=".2064" stop-color="#472c7a"/><stop offset=".2106" stop-color="#443983"/><stop offset=".2191" stop-color="#482979"/><stop offset=".2234" stop-color="#443b84"/><stop offset=".2277" stop-color="#472d7b"/><stop offset=".2362" stop-color="#463480"/><stop offset=".2404" stop-color="#423f85"/><stop offset=".2489" stop-color="#46307e"/><stop offset=".2532" stop-color="#3e4c8a"/><stop offset=".2574" stop-color="#423f85"/><stop offset=".2660" stop-color="#443983"/><stop offset=".2745" stop-color="#443b84"/><stop offset=".2787" stop-color="#414487"/><stop offset=".2830" stop-color="#443b84"/><stop offset=".3043" stop-color="#3d4d8a"/><stop offset=".3085" stop-color="#3f4788"/><stop offset=".3298" stop-color="#38598c"/><stop offset=".3340" stop-color="#3b528b"/><stop offset=".3383" stop-color="#38598c"/><stop offset=".3426" stop-color="#3e4a89"/><stop offset=".3468" stop-color="#33628d"/><stop offset=".3511" stop-color="#355f8d"/><stop offset=".3596" stop-color="#32658e"/><stop offset=".3638" stop-color="#33638d"/><stop offset=".3723" stop-color="#2d708e"/><stop offset=".3766" stop-color="#2e6e8e"/><stop offset=".3809" stop-color="#27808e"/><stop offset=".3851" stop-color="#2f6c8e"/><stop offset=".3936" stop-color="#2b748e"/><stop offset=".4021" stop-color="#2e6f8e"/><stop offset=".4106" stop-color="#297a8e"/><stop offset=".4149" stop-color="#26828e"/><stop offset=".4191" stop-color="#29798e"/><stop offset=".4234" stop-color="#25858e"/><stop offset=".4277" stop-color="#26828e"/><stop offset=".4319" stop-color="#21918c"/><stop offset=".4362" stop-color="#23888e"/><stop offset=".4617" stop-color="#228d8d"/><stop offset=".4660" stop-color="#24878e"/><stop offset=".4745" stop-color="#1f958b"/><stop offset=".4787" stop-color="#228b8d"/><stop offset=".4830" stop-color="#35b779"/><stop offset=".4872" stop-color="#63cb5f"/><stop offset=".4915" stop-color="#5ec962"/><stop offset=".4957" stop-color="#4cc26c"/><stop offset=".5043" stop-color="#63cb5f"/><stop offset=".5128" stop-color="#4ec36b"/><stop offset=".5213" stop-color="#6ece58"/><stop offset=".5340" stop-color="#60ca60"/><stop offset=".5383" stop-color="#21a585"/><stop offset=".5426" stop-color="#20a386"/><stop offset=".5511" stop-color="#21a585"/><stop offset=".5596" stop-color="#1e9b8a"/><stop offset=".5638" stop-color="#23a983"/><stop offset=".5681" stop-color="#1f948c"/><stop offset=".5723" stop-color="#20938c"/><stop offset=".5766" stop-color="#1e9d89"/><stop offset=".5851" stop-color="#20938c"/><stop offset=".5894" stop-color="#21a585"/><stop offset=".5936" stop-color="#1f998a"/><stop offset=".5979" stop-color="#1fa188"/><stop offset=".6021" stop-color="#24868e"/><stop offset=".6064" stop-color="#25858e"/><stop offset=".6106" stop-color="#228b8d"/><stop offset=".6149" stop-color="#2d708e"/><stop offset=".6191" stop-color="#2a788e"/><stop offset=".6234" stop-color="#2c728e"/><stop offset=".6277" stop-color="#2c738e"/><stop offset=".6319" stop-color="#31668e"/><stop offset=".6362" stop-color="#2a768e"/><stop offset=".6404" stop-color="#2f6b8e"/><stop offset=".6447" stop-color="#2e6f8e"/><stop offset=".6532" stop-color="#2e6e8e"/><stop offset=".6574" stop-color="#355f8d"/><stop offset=".6617" stop-color="#31678e"/><stop offset=".6745" stop-color="#34618d"/><stop offset=".6787" stop-color="#30698e"/><stop offset=".6830" stop-color="#38588c"/><stop offset=".6872" stop-color="#38588c"/><stop offset=".6915" stop-color="#355f8d"/><stop offset=".6957" stop-color="#38588c"/><stop offset=".7043" stop-color="#375a8c"/><stop offset=".7085" stop-color="#404688"/><stop offset=".7170" stop-color="#3e4989"/><stop offset=".7340" stop-color="#404688"/><stop offset=".7383" stop-color="#443983"/><stop offset=".7426" stop-color="#453882"/><stop offset=".7468" stop-color="#424186"/><stop offset=".7553" stop-color="#433d84"/><stop offset=".7638" stop-color="#453781"/><stop offset=".7681" stop-color="#482979"/><stop offset=".7723" stop-color="#404688"/><stop offset=".7766" stop-color="#46307e"/><stop offset=".7809" stop-color="#46307e"/><stop offset=".7851" stop-color="#453882"/><stop offset=".7979" stop-color="#472c7a"/><stop offset=".8021" stop-color="#433d84"/><stop offset=".8064" stop-color="#453581"/><stop offset=".8106" stop-color="#453882"/><stop offset=".8149" stop-color="#472a7a"/><stop offset=".8277" stop-color="#453781"/><stop offset=".8319" stop-color="#463480"/><stop offset=".8362" stop-color="#423f85"/><stop offset=".8404" stop-color="#46307e"/><stop offset=".8489" stop-color="#433e85"/><stop offset=".8617" stop-color="#472f7d"/><stop offset=".8702" stop-color="#453781"/><stop offset=".8745" stop-color="#482677"/><stop offset=".8787" stop-color="#46337f"/><stop offset=".8830" stop-color="#482878"/><stop offset=".8915" stop-color="#482576"/><stop offset=".8957" stop-color="#453581"/><stop offset=".9000" stop-color="#482878"/><stop offset=".9043" stop-color="#46327e"/><stop offset=".9128" stop-color="#482979"/><stop offset=".9170" stop-color="#463480"/><stop offset=".9298" stop-color="#482979"/><stop offset=".9340" stop-color="#46337f"/><stop offset=".9383" stop-color="#482878"/><stop offset=".9426" stop-color="#482878"/><stop offset=".9468" stop-color="#481f70"/><stop offset=".9511" stop-color="#463480"/><stop offset=".9596" stop-color="#433d84"/><stop offset=".9638" stop-color="#482677"/><stop offset=".9681" stop-color="#472a7a"/><stop offset=".9723" stop-color="#443b84"/><stop offset=".9766" stop-color="#482979"/><stop offset=".9809" stop-color="#453581"/><stop offset=".9851" stop-color="#472a7a"/><stop offset=".9936" stop-color="#453781"/><stop offset=".9979" stop-color="#482878"/></linearGradient>
<linearGradient id="g20" x1="0" x2="1" y1="0" y2="0"><stop offset=".0021" stop-color="#472e7c"/><stop offset=".0064" stop-color="#481d6f"/><stop offset=".0106" stop-color="#46307e"/><stop offset=".0191" stop-color="#472e7c"/><stop offset=".0234" stop-color="#463480"/><stop offset=".0277" stop-color="#472d7b"/><stop offset=".0404" stop-color="#46327e"/><stop offset=".0447" stop-color="#482878"/><stop offset=".0574" stop-color="#472d7b"/><stop offset=".0660" stop-color="#482878"/><stop offset=".0702" stop-color="#472f7d"/><stop offset=".0745" stop-color="#482979"/><stop offset=".0787" stop-color="#46337f"/><stop offset=".0830" stop-color="#472d7b"/><stop offset=".0915" stop-color="#443a83"/><stop offset=".0957" stop-color="#472a7a"/><stop offset=".1043" stop-color="#482071"/><stop offset=".1085" stop-color="#463480"/><stop offset=".1128" stop-color="#482878"/><stop offset=".1170" stop-color="#463480"/><stop offset=".1213" stop-color="#482071"/><stop offset=".1255" stop-color="#453781"/><stop offset=".1340" stop-color="#453882"/><stop offset=".1383" stop-color="#472f7d"/><stop offset=".1426" stop-color="#453781"/><stop offset=".1468" stop-color="#472f7d"/><stop offset=".1511" stop-color="#463480"/><stop offset=".1596" stop-color="#472d7b"/><stop offset=".1638" stop-color="#463480"/><stop offset=".1723" stop-color="#472c7a"/><stop offset=".1766" stop-color="#46327e"/><stop offset=".1851" stop-color="#482071"/><stop offset=".1894" stop-color="#472e7c"/><stop offset=".1936" stop-color="#482979"/><stop offset=".1979" stop-color="#472e7c"/><stop offset=".2021" stop-color="#482576"/><stop offset=".2106" stop-color="#414287"/><stop offset=".2149" stop-color="#3f4889"/><stop offset=".2191" stop-color="#472f7d"/><stop offset=".2234" stop-color="#472c7a"/><stop offset=".2277" stop-color="#433e85"/><stop offset=".2319" stop-color="#472c7a"/><stop offset=".2447" stop-color="#424186"/><stop offset=".2489" stop-color="#46327e"/><stop offset=".2532" stop-color="#472c7a"/><stop offset=".2574" stop-color="#414287"/><stop offset=".2617" stop-color="#404588"/><stop offset=".2660" stop-color="#453581"/><stop offset=".2787" stop-color="#443b84"/><stop offset=".2830" stop-color="#453882"/><stop offset=".2915" stop-color="#3e4989"/><stop offset=".2957" stop-color="#433d84"/><stop offset=".3000" stop-color="#3f4889"/><stop offset=".3043" stop-color="#3f4889"/><stop offset=".3085" stop-color="#424086"/><stop offset=".3213" stop-color="#404688"/><stop offset=".3255" stop-color="#424086"/><stop offset=".3298" stop-color="#39568c"/><stop offset=".3340" stop-color="#3e4a89"/><stop offset=".3383" stop-color="#3c4f8a"/><stop offset=".3468" stop-color="#3e4989"/><stop offset=".3511" stop-color="#3a538b"/><stop offset=".3553" stop-color="#3c508b"/><stop offset=".3596" stop-color="#365c8d"/><stop offset=".3638" stop-color="#3a548c"/><stop offset=".3681" stop-color="#38588c"/><stop offset=".3723" stop-color="#306a8e"/><stop offset=".3766" stop-color="#2f6c8e"/><stop offset=".3809" stop-color="#33638d"/><stop offset=".3851" stop-color="#297a8e"/><stop offset=".3894" stop-color="#2c738e"/><stop offset=".3979" stop-color="#297b8e"/><stop offset=".4021" stop-color="#2c738e"/><stop offset=".4064" stop-color="#297a8e"/><stop offset=".4106" stop-color="#297a8e"/><stop offset=".4149" stop-color="#2b748e"/><stop offset=".4191" stop-color="#277e8e"/><stop offset=".4234" stop-color="#2b758e"/><stop offset=".4319" stop-color="#297b8e"/><stop offset=".4404" stop-color="#2d708e"/><stop offset=".4489" stop-color="#2b748e"/><stop offset=".4532" stop-color="#25848e"/><stop offset=".4574" stop-color="#2c718e"/><stop offset=".4617" stop-color="#24878e"/><stop offset=".4660" stop-color="#27808e"/><stop offset=".4830" stop-color="#20928c"/><stop offset=".4872" stop-color="#48c16e"/><stop offset=".4957" stop-color="#3fbc73"/><stop offset=".5043" stop-color="#38b977"/><stop offset=".5085" stop-color="#3dbc74"/><stop offset=".5170" stop-color="#25ac82"/><stop offset=".5213" stop-color="#29af7f"/><stop offset=".5255" stop-color="#1fa287"/><stop offset=".5298" stop-color="#22a884"/><stop offset=".5383" stop-color="#1f988b"/><stop offset=".5426" stop-color="#1e9c89"/><stop offset=".5468" stop-color="#21918c"/><stop offset=".5511" stop-color="#1f958b"/><stop offset=".5553" stop-color="#228b8d"/><stop offset=".5596" stop-color="#1f9e89"/><stop offset=".5638" stop-color="#20928c"/><stop offset=".5681" stop-color="#1e9c89"/><stop offset=".5723" stop-color="#1f9a8a"/><stop offset=".5766" stop-color="#228d8d"/><stop offset=".5851" stop-color="#24868e"/><stop offset=".5894" stop-color="#228c8d"/><stop offset=".5936" stop-color="#23898e"/><stop offset=".5979" stop-color="#20928c"/><stop offset=".6064" stop-color="#2e6e8e"/><stop offset=".6106" stop-color="#297a8e"/><stop offset=".6149" stop-color="#2a788e"/><stop offset=".6191" stop-color="#2e6d8e"/><stop offset=".6234" stop-color="#306a8e"/><stop offset=".6277" stop-color="#2e6f8e"/><stop offset=".6319" stop-color="#30698e"/><stop offset=".6404" stop-color="#2f6b8e"/><stop offset=".6574" stop-color="#355f8d"/><stop offset=".6617" stop-color="#33638d"/><stop offset=".6660" stop-color="#38588c"/><stop offset=".6702" stop-color="#365d8d"/><stop offset=".6745" stop-color="#39558c"/><stop offset=".6787" stop-color="#355e8d"/><stop offset=".6830" stop-color="#3a538b"/><stop offset=".6915" stop-color="#375b8d"/><stop offset=".6957" stop-color="#3e4c8a"/><stop offset=".7043" stop-color="#3d4d8a"/><stop offset=".7128" stop-color="#443b84"/><stop offset=".7170" stop-color="#3f4788"/><stop offset=".7213" stop-color="#414487"/><stop offset=".7255" stop-color="#453781"/><stop offset=".7298" stop-color="#3f4788"/><stop offset=".7340" stop-color="#443a83"/><stop offset=".7383" stop-color="#423f85"/><stop offset=".7426" stop-color="#453581"/><stop offset=".7468" stop-color="#482071"/><stop offset=".7511" stop-color="#453781"/><stop offset=".7596" stop-color="#443b84"/><stop offset=".7638" stop-color="#472a7a"/><stop offset=".7681" stop-color="#443983"/><stop offset=".7723" stop-color="#443983"/><stop offset=".7766" stop-color="#472e7c"/><stop offset=".7851" stop-color="#472e7c"/><stop offset=".7894" stop-color="#453581"/><stop offset=".7936" stop-color="#482979"/><stop offset=".8021" stop-color="#453581"/><stop offset=".8149" stop-color="#482475"/><stop offset=".8191" stop-color="#46327e"/><stop offset=".8234" stop-color="#482878"/><stop offset=".8277" stop-color="#463480"/><stop offset=".8319" stop-color="#482576"/><stop offset=".8404" stop-color="#453581"/><stop offset=".8447" stop-color="#482677"/><stop offset=".8532" stop-color="#472c7a"/><stop offset=".8574" stop-color="#482878"/><stop offset=".8617" stop-color="#453581"/><stop offset=".8660" stop-color="#482173"/><stop offset=".8702" stop-color="#463480"/><stop offset=".8745" stop-color="#443983"/><stop offset=".8787" stop-color="#46327e"/><stop offset=".8830" stop-color="#463480"/><stop offset=".8915" stop-color="#472d7b"/><stop offset=".8957" stop-color="#46337f"/><stop offset=".9000" stop-color="#472d7b"/><stop offset=".9043" stop-color="#46337f"/><stop offset=".9128" stop-color="#481d6f"/><stop offset=".9170" stop-color="#472a7a"/><stop offset=".9213" stop-color="#482475"/><stop offset=".9255" stop-color="#443b84"/><stop offset=".9340" stop-color="#482576"/><stop offset=".9383" stop-color="#482071"/><stop offset=".9426" stop-color="#472f7d"/><stop offset=".9511" stop-color="#472f7d"/><stop offset=".9553" stop-color="#482677"/><stop offset=".9596" stop-color="#453581"/><stop offset=".9638" stop-color="#453781"/><stop offset=".9681" stop-color="#482878"/><stop offset=".9723" stop-color="#453581"/><stop offset=".9809" stop-color="#443983"/><stop offset=".9851" stop-color="#472c7a"/><stop offset=".9894" stop-color="#482979"/><stop offset=".9936" stop-color="#453882"/><stop offset=".9979" stop-color="#46337f"/></linearGradient>
<linearGradient id="g21" x1="0" x2="1" y1="0" y2="0"><stop offset=".0021" stop-color="#463480"/><stop offset=".0064" stop-color="#482576"/><stop offset=".0149" stop-color="#453781"/><stop offset=".0191" stop-color="#482979"/><stop offset=".0319" stop-color="#46337f"/><stop offset=".0362" stop-color="#433e85"/><stop offset=".0404" stop-color="#472a7a"/><stop offset=".0489" stop-color="#46327e"/><stop offset=".0532" stop-color="#482374"/><stop offset=".0574" stop-color="#472c7a"/><stop offset=".0617" stop-color="#481d6f"/><stop offset=".0745" stop-color="#453581"/><stop offset=".0830" stop-color="#443a83"/><stop offset=".0872" stop-color="#46307e"/><stop offset=".0957" stop-color="#463480"/><stop offset=".1043" stop-color="#482979"/><stop offset=".1085" stop-color="#433d84"/><stop offset=".1128" stop-color="#453581"/><stop offset=".1170" stop-color="#443b84"/><stop offset=".1213" stop-color="#482677"/><stop offset=".1340" stop-color="#482979"/><stop offset=".1426" stop-color="#472e7c"/><stop offset=".1553" stop-color="#472f7d"/><stop offset=".1638" stop-color="#443983"/><stop offset=".1723" stop-color="#472c7a"/><stop offset=".1894" stop-color="#46327e"/><stop offset=".2106" stop-color="#453781"/><stop offset=".2149" stop-color="#472c7a"/><stop offset=".2191" stop-color="#443a83"/><stop offset=".2277" stop-color="#472a7a"/><stop offset=".2319" stop-color="#46327e"/><stop offset=".2362" stop-color="#472e7c"/><stop offset=".2447" stop-color="#423f85"/><stop offset=".2489" stop-color="#46327e"/><stop offset=".2532" stop-color="#46307e"/><stop offset=".2574" stop-color="#433d84"/><stop offset=".2660" stop-color="#433d84"/><stop offset=".2745" stop-color="#46327e"/><stop offset=".2787" stop-color="#463480"/><stop offset=".2872" stop-color="#3f4889"/><stop offset=".2915" stop-color="#424086"/><stop offset=".2957" stop-color="#423f85"/><stop offset=".3000" stop-color="#3e4a89"/><stop offset=".3085" stop-color="#3e4c8a"/><stop offset=".3128" stop-color="#3a538b"/><stop offset=".3213" stop-color="#404688"/><stop offset=".3255" stop-color="#3f4788"/><stop offset=".3340" stop-color="#38588c"/><stop offset=".3383" stop-color="#3c508b"/><stop offset=".3426" stop-color="#3a538b"/><stop offset=".3468" stop-color="#355e8d"/><stop offset=".3511" stop-color="#3d4e8a"/><stop offset=".3553" stop-color="#38598c"/><stop offset=".3596" stop-color="#375a8c"/><stop offset=".3638" stop-color="#31668e"/><stop offset=".3766" stop-color="#32648e"/><stop offset=".3809" stop-color="#2d708e"/><stop offset=".3851" stop-color="#2c718e"/><stop offset=".3936" stop-color="#26828e"/><stop offset=".3979" stop-color="#277e8e"/><stop offset=".4021" stop-color="#27808e"/><stop offset=".4064" stop-color="#2b758e"/><stop offset=".4106" stop-color="#2c728e"/><stop offset=".4191" stop-color="#25848e"/><stop offset=".4234" stop-color="#25858e"/><stop offset=".4277" stop-color="#2b758e"/><stop offset=".4319" stop-color="#2c718e"/><stop offset=".4362" stop-color="#24868e"/><stop offset=".4404" stop-color="#287d8e"/><stop offset=".4447" stop-color="#277e8e"/><stop offset=".4532" stop-color="#30698e"/><stop offset=".4574" stop-color="#2b748e"/><stop offset=".4660" stop-color="#2a768e"/><stop offset=".4702" stop-color="#2e6e8e"/><stop offset=".4745" stop-color="#2f6b8e"/><stop offset=".4787" stop-color="#2a778e"/><stop offset=".4830" stop-color="#2e6e8e"/><stop offset=".4915" stop-color="#2c718e"/><stop offset=".4957" stop-color="#2a768e"/><stop offset=".5043" stop-color="#2e6e8e"/><stop offset=".5128" stop-color="#2e6e8e"/><stop offset=".5170" stop-color="#2c738e"/><stop offset=".5255" stop-color="#31688e"/><stop offset=".5298" stop-color="#2a788e"/><stop offset=".5340" stop-color="#2e6d8e"/><stop offset=".5426" stop-color="#2c728e"/><stop offset=".5511" stop-color="#31688e"/><stop offset=".5596" stop-color="#2d708e"/><stop offset=".5681" stop-color="#306a8e"/><stop offset=".5723" stop-color="#2e6d8e"/><stop offset=".5766" stop-color="#2a778e"/><stop offset=".5809" stop-color="#2c718e"/><stop offset=".5851" stop-color="#32658e"/><stop offset=".5979" stop-color="#2e6f8e"/><stop offset=".6064" stop-color="#306a8e"/><stop offset=".6106" stop-color="#33628d"/><stop offset=".6149" stop-color="#31678e"/><stop offset=".6234" stop-color="#365c8d"/><stop offset=".6277" stop-color="#3c508b"/><stop offset=".6319" stop-color="#33628d"/><stop offset=".6362" stop-color="#3c508b"/><stop offset=".6404" stop-color="#375b8d"/><stop offset=".6447" stop-color="#39568c"/><stop offset=".6489" stop-color="#355e8d"/><stop offset=".6532" stop-color="#38588c"/><stop offset=".6617" stop-color="#32648e"/><stop offset=".6702" stop-color="#3d4e8a"/><stop offset=".6787" stop-color="#404588"/><stop offset=".6830" stop-color="#3d4e8a"/><stop offset=".6957" stop-color="#3d4d8a"/><stop offset=".7000" stop-color="#3b528b"/><stop offset=".7043" stop-color="#3e4c8a"/><stop offset=".7085" stop-color="#39568c"/><stop offset=".7128" stop-color="#3f4889"/><stop offset=".7170" stop-color="#3b518b"/><stop offset=".7255" stop-color="#46337f"/><stop offset=".7298" stop-color="#433e85"/><stop offset=".7340" stop-color="#453781"/><stop offset=".7383" stop-color="#443b84"/><stop offset=".7426" stop-color="#472d7b"/><stop offset=".7468" stop-color="#453781"/><stop offset=".7553" stop-color="#453781"/><stop offset=".7596" stop-color="#472c7a"/><stop offset=".7638" stop-color="#46337f"/><stop offset=".7681" stop-color="#481d6f"/><stop offset=".7723" stop-color="#472c7a"/><stop offset=".7894" stop-color="#463480"/><stop offset=".7979" stop-color="#46307e"/><stop offset=".8064" stop-color="#453781"/><stop offset=".8106" stop-color="#482475"/><stop offset=".8149" stop-color="#453581"/><stop offset=".8191" stop-color="#482878"/><stop offset=".8234" stop-color="#424086"/><stop offset=".8277" stop-color="#472e7c"/><stop offset=".8362" stop-color="#453781"/><stop offset=".8404" stop-color="#414487"/><stop offset=".8447" stop-color="#472d7b"/><stop offset=".8489" stop-color="#472d7b"/><stop offset=".8532" stop-color="#463480"/><stop offset=".8617" stop-color="#472d7b"/><stop offset=".8660" stop-color="#463480"/><stop offset=".8702" stop-color="#472f7d"/><stop offset=".8745" stop-color="#46327e"/><stop offset=".8830" stop-color="#482173"/><stop offset=".8872" stop-color="#46327e"/><stop offset=".8915" stop-color="#472f7d"/><stop offset=".8957" stop-color="#443a83"/><stop offset=".9000" stop-color="#46307e"/><stop offset=".9043" stop-color="#443a83"/><stop offset=".9085" stop-color="#482878"/><stop offset=".9128" stop-color="#482878"/><stop offset=".9170" stop-color="#46307e"/><stop offset=".9213" stop-color="#482878"/><stop offset=".9298" stop-color="#482475"/><stop offset=".9340" stop-color="#453781"/><stop offset=".9383" stop-color="#482979"/><stop offset=".9426" stop-color="#453581"/><stop offset=".9468" stop-color="#46327e"/><stop offset=".9511" stop-color="#453781"/><stop offset=".9553" stop-color="#482878"/><stop offset=".9596" stop-color="#463480"/><stop offset=".9638" stop-color="#443983"/><stop offset=".9723" stop-color="#472a7a"/><stop offset=".9766" stop-color="#463480"/><stop offset=".9809" stop-color="#453581"/><stop offset=".9851" stop-color="#472e7c"/><stop offset=".9936" stop-color="#453882"/><stop offset=".9979" stop-color="#482173"/></linearGradient>
<linearGradient id="g22" x1="0" x2="1" y1="0" y2="0"><stop offset=".0021" stop-color="#46337f"/><stop offset=".0149" stop-color="#472f7d"/><stop offset=".0234" stop-color="#481b6d"/><stop offset=".0277" stop-color="#472e7c"/><stop offset=".0362" stop-color="#482878"/><stop offset=".0404" stop-color="#472e7c"/><stop offset=".0447" stop-color="#482878"/><stop offset=".0574" stop-color="#46327e"/><stop offset=".0617" stop-color="#472f7d"/><stop offset=".0660" stop-color="#463480"/><stop offset=".0787" stop-color="#482576"/><stop offset=".0830" stop-color="#463480"/><stop offset=".0872" stop-color="#463480"/><stop offset=".0915" stop-color="#482071"/><stop offset=".0957" stop-color="#472f7d"/><stop offset=".1043" stop-color="#463480"/><stop offset=".1085" stop-color="#472e7c"/><stop offset=".1128" stop-color="#423f85"/><stop offset=".1170" stop-color="#472c7a"/><stop offset=".1213" stop-color="#443a83"/><stop offset=".1255" stop-color="#46337f"/><stop offset=".1340" stop-color="#463480"/><stop offset=".1383" stop-color="#472d7b"/><stop offset=".1426" stop-color="#453781"/><stop offset=".1511" stop-color="#46337f"/><stop offset=".1553" stop-color="#443a83"/><stop offset=".1596" stop-color="#46327e"/><stop offset=".1638" stop-color="#453781"/><stop offset=".1681" stop-color="#482677"/><stop offset=".1723" stop-color="#46337f"/><stop offset=".1766" stop-color="#482878"/><stop offset=".1809" stop-color="#433e85"/><stop offset=".1894" stop-color="#453581"/><stop offset=".1936" stop-color="#433e85"/><stop offset=".1979" stop-color="#472e7c"/><stop offset=".2106" stop-color="#46307e"/><stop offset=".2191" stop-color="#46327e"/><stop offset=".2234" stop-color="#453581"/><stop offset=".2404" stop-color="#46327e"/><stop offset=".2489" stop-color="#424186"/><stop offset=".2532" stop-color="#46307e"/><stop offset=".2574" stop-color="#443b84"/><stop offset=".2702" stop-color="#443983"/><stop offset=".2745" stop-color="#424086"/><stop offset=".2830" stop-color="#453882"/><stop offset=".2872" stop-color="#3e4a89"/><stop offset=".2957" stop-color="#433d84"/><stop offset=".3000" stop-color="#3e4a89"/><stop offset=".3085" stop-color="#3e4c8a"/><stop offset=".3128" stop-color="#414487"/><stop offset=".3170" stop-color="#414287"/><stop offset=".3213" stop-color="#3b518b"/><stop offset=".3255" stop-color="#3e4a89"/><stop offset=".3383" stop-color="#39558c"/><stop offset=".3511" stop-color="#3b528b"/><stop offset=".3553" stop-color="#355e8d"/><stop offset=".3766" stop-color="#33628d"/><stop offset=".3809" stop-color="#2c718e"/><stop offset=".3851" stop-color="#31668e"/><stop offset=".3894" stop-color="#2d718e"/><stop offset=".3936" stop-color="#2f6c8e"/><stop offset=".3979" stop-color="#2a788e"/><stop offset=".4021" stop-color="#32648e"/><stop offset=".4064" stop-color="#2b758e"/><stop offset=".4149" stop-color="#2c728e"/><stop offset=".4191" stop-color="#297b8e"/><stop offset=".4234" stop-color="#2c728e"/><stop offset=".4362" stop-color="#277f8e"/><stop offset=".4404" stop-color="#23888e"/><stop offset=".4447" stop-color="#23898e"/><stop offset=".4532" stop-color="#26828e"/><stop offset=".4574" stop-color="#25838e"/><stop offset=".4617" stop-color="#2a788e"/><stop offset=".4660" stop-color="#2b758e"/><stop offset=".4702" stop-color="#297a8e"/><stop offset=".4745" stop-color="#2a778e"/><stop offset=".4915" stop-color="#228c8d"/><stop offset=".4957" stop-color="#238a8d"/><stop offset=".5000" stop-color="#20928c"/><stop offset=".5043" stop-color="#25858e"/><stop offset=".5085" stop-color="#228c8d"/><stop offset=".5213" stop-color="#25858e"/><stop offset=".5255" stop-color="#23898e"/><stop offset=".5298" stop-color="#297a8e"/><stop offset=".5340" stop-color="#2a768e"/><stop offset=".5383" stop-color="#23888e"/><stop offset=".5426" stop-color="#23898e"/><stop offset=".5468" stop-color="#27808e"/><stop offset=".5511" stop-color="#26818e"/><stop offset=".5553" stop-color="#238a8d"/><stop offset=".5596" stop-color="#2a778e"/><stop offset=".5681" stop-color="#23888e"/><stop offset=".5723" stop-color="#238a8d"/><stop offset=".5766" stop-color="#277f8e"/><stop offset=".5851" stop-color="#287c8e"/><stop offset=".5894" stop-color="#25848e"/><stop offset=".5936" stop-color="#277e8e"/><stop offset=".5979" stop-color="#23888e"/><stop offset=".6021" stop-color="#277e8e"/><stop offset=".6064" stop-color="#26818e"/><stop offset=".6106" stop-color="#31678e"/><stop offset=".6234" stop-color="#2f6c8e"/><stop offset=".6319" stop-color="#365d8d"/><stop offset=".6362" stop-color="#355f8d"/><stop offset=".6404" stop-color="#39558c"/><stop offset=".6447" stop-color="#3a548c"/><stop offset=".6532" stop-color="#34608d"/><stop offset=".6574" stop-color="#3d4e8a"/><stop offset=".6617" stop-color="#3b528b"/><stop offset=".6660" stop-color="#355e8d"/><stop offset=".6702" stop-color="#3e4c8a"/><stop offset=".6787" stop-color="#3e4a89"/><stop offset=".6830" stop-color="#3f4889"/><stop offset=".6872" stop-color="#3a538b"/><stop offset=".6915" stop-color="#404688"/><stop offset=".7000" stop-color="#404688"/><stop offset=".7043" stop-color="#453882"/><stop offset=".7128" stop-color="#443a83"/><stop offset=".7170" stop-color="#414487"/><stop offset=".7213" stop-color="#433e85"/><stop offset=".7255" stop-color="#3e4989"/><stop offset=".7298" stop-color="#453781"/><stop offset=".7340" stop-color="#46327e"/><stop offset=".7383" stop-color="#453781"/><stop offset=".7426" stop-color="#453581"/><stop offset=".7468" stop-color="#414287"/><stop offset=".7511" stop-color="#453581"/><stop offset=".7638" stop-color="#482878"/><stop offset=".7681" stop-color="#482979"/><stop offset=".7723" stop-color="#46337f"/><stop offset=".7766" stop-color="#482979"/><stop offset=".7809" stop-color="#433d84"/><stop offset=".7851" stop-color="#482979"/><stop offset=".7894" stop-color="#46337f"/><stop offset=".7936" stop-color="#46337f"/><stop offset=".7979" stop-color="#424186"/><stop offset=".8064" stop-color="#472e7c"/><stop offset=".8106" stop-color="#472d7b"/><stop offset=".8191" stop-color="#463480"/><stop offset=".8319" stop-color="#482979"/><stop offset=".8362" stop-color="#463480"/><stop offset=".8404" stop-color="#472d7b"/><stop offset=".8447" stop-color="#433d84"/><stop offset=".8489" stop-color="#482878"/><stop offset=".8532" stop-color="#46337f"/><stop offset=".8574" stop-color="#482677"/><stop offset=".8660" stop-color="#453882"/><stop offset=".8745" stop-color="#482979"/><stop offset=".8787" stop-color="#453581"/><stop offset=".8830" stop-color="#482374"/><stop offset=".8872" stop-color="#472e7c"/><stop offset=".9000" stop-color="#472e7c"/><stop offset=".9170" stop-color="#453581"/><stop offset=".9213" stop-color="#46307e"/><stop offset=".9255" stop-color="#453581"/><stop offset=".9298" stop-color="#472a7a"/><stop offset=".9426" stop-color="#424086"/><stop offset=".9468" stop-color="#453781"/><stop offset=".9511" stop-color="#423f85"/><stop offset=".9553" stop-color="#482677"/><stop offset=".9596" stop-color="#46337f"/><stop offset=".9681" stop-color="#472c7a"/><stop offset=".9723" stop-color="#463480"/><stop offset=".9766" stop-color="#472a7a"/><stop offset=".9809" stop-color="#46337f"/><stop offset=".9894" stop-color="#46307e"/><stop offset=".9936" stop-color="#482878"/><stop offset=".9979" stop-color="#453781"/></linearGradient>
<linearGradient id="g23" x1="0" x2="1" y1="0" y2="0"><stop offset=".0021" stop-color="#482576"/><stop offset=".0106" stop-color="#472f7d"/><stop offset=".0149" stop-color="#482475"/><stop offset=".0191" stop-color="#433d84"/><stop offset=".0234" stop-color="#482475"/><stop offset=".0277" stop-color="#424186"/><stop offset=".0319" stop-color="#453581"/><stop offset=".0362" stop-color="#453882"/><stop offset=".0447" stop-color="#482878"/><stop offset=".0489" stop-color="#482677"/><stop offset=".0532" stop-color="#46327e"/><stop offset=".0574" stop-color="#472e7c"/><stop offset=".0617" stop-color="#463480"/><stop offset=".0660" stop-color="#472d7b"/><stop offset=".0702" stop-color="#46307e"/><stop offset=".0745" stop-color="#472c7a"/><stop offset=".0787" stop-color="#453581"/><stop offset=".0830" stop-color="#472d7b"/><stop offset=".0872" stop-color="#453882"/><stop offset=".0957" stop-color="#46307e"/><stop offset=".1000" stop-color="#453581"/><stop offset=".1043" stop-color="#414487"/><stop offset=".1085" stop-color="#472f7d"/><stop offset=".1128" stop-color="#482878"/><stop offset=".1213" stop-color="#472e7c"/><stop offset=".1255" stop-color="#472e7c"/><stop offset=".1298" stop-color="#423f85"/><stop offset=".1383" stop-color="#472a7a"/><stop offset=".1426" stop-color="#472f7d"/><stop offset=".1468" stop-color="#482878"/><stop offset=".1511" stop-color="#453882"/><stop offset=".1553" stop-color="#482979"/><stop offset=".1596" stop-color="#463480"/><stop offset=".1638" stop-color="#482878"/><stop offset=".1681" stop-color="#443b84"/><stop offset=".1723" stop-color="#482677"/><stop offset=".1809" stop-color="#453581"/><stop offset=".1851" stop-color="#472e7c"/><stop offset=".1894" stop-color="#453781"/><stop offset=".2064" stop-color="#46327e"/><stop offset=".2106" stop-color="#443b84"/><stop offset=".2191" stop-color="#472e7c"/><stop offset=".2234" stop-color="#453581"/><stop offset=".2319" stop-color="#46307e"/><stop offset=".2404" stop-color="#424086"/><stop offset=".2489" stop-color="#404588"/><stop offset=".2532" stop-color="#433d84"/><stop offset=".2574" stop-color="#433e85"/><stop offset=".2617" stop-color="#472f7d"/><stop offset=".2660" stop-color="#423f85"/><stop offset=".2745" stop-color="#424186"/><stop offset=".2787" stop-color="#443a83"/><stop offset=".2830" stop-color="#3f4788"/><stop offset=".2957" stop-color="#3f4788"/><stop offset=".3000" stop-color="#433e85"/><stop offset=".3043" stop-color="#3c4f8a"/><stop offset=".3085" stop-color="#414287"/><stop offset=".3128" stop-color="#414287"/><stop offset=".3170" stop-color="#3b518b"/><stop offset=".3213" stop-color="#404688"/><stop offset=".3255" stop-color="#3e4989"/><stop offset=".3298" stop-color="#39568c"/><stop offset=".3340" stop-color="#3c508b"/><stop offset=".3383" stop-color="#38598c"/><stop offset=".3426" stop-color="#3e4c8a"/><stop offset=".3468" stop-color="#34618d"/><stop offset=".3511" stop-color="#38598c"/><stop offset=".3596" stop-color="#34608d"/><stop offset=".3638" stop-color="#2f6c8e"/><stop offset=".3681" stop-color="#33628d"/><stop offset=".3723" stop-color="#2e6d8e"/><stop offset=".3766" stop-color="#2f6b8e"/><stop offset=".3809" stop-color="#297b8e"/><stop offset=".3894" stop-color="#2a768e"/><stop offset=".3979" stop-color="#277e8e"/><stop offset=".4021" stop-color="#2c738e"/><stop offset=".4234" stop-color="#2b758e"/><stop offset=".4277" stop-color="#297b8e"/><stop offset=".4319" stop-color="#2e6d8e"/><stop offset=".4362" stop-color="#26828e"/><stop offset=".4404" stop-color="#29798e"/><stop offset=".4447" stop-color="#24878e"/><stop offset=".4574" stop-color="#297b8e"/><stop offset=".4617" stop-color="#228d8d"/><stop offset=".4660" stop-color="#24878e"/><stop offset=".4702" stop-color="#228c8d"/><stop offset=".4745" stop-color="#1e9b8a"/><stop offset=".4787" stop-color="#228d8d"/><stop offset=".4830" stop-color="#20928c"/><stop offset=".4915" stop-color="#25838e"/><stop offset=".4957" stop-color="#228d8d"/><stop offset=".5000" stop-color="#21908d"/><stop offset=".5043" stop-color="#25858e"/><stop offset=".5085" stop-color="#24868e"/><stop offset=".5128" stop-color="#1f958b"/><stop offset=".5213" stop-color="#24878e"/><stop offset=".5255" stop-color="#21908d"/><stop offset=".5340" stop-color="#21918c"/><stop offset=".5383" stop-color="#238a8d"/><stop offset=".5426" stop-color="#21908d"/><stop offset=".5468" stop-color="#218f8d"/><stop offset=".5511" stop-color="#20938c"/><stop offset=".5553" stop-color="#24878e"/><stop offset=".5638" stop-color="#26828e"/><stop offset=".5681" stop-color="#297b8e"/><stop offset=".5723" stop-color="#25848e"/><stop offset=".5766" stop-color="#277f8e"/><stop offset=".5851" stop-color="#27808e"/><stop offset=".5894" stop-color="#24868e"/><stop offset=".5936" stop-color="#287c8e"/><stop offset=".6021" stop-color="#277f8e"/><stop offset=".6106" stop-color="#297a8e"/><stop offset=".6149" stop-color="#2d718e"/><stop offset=".6234" stop-color="#2e6d8e"/><stop offset=".6319" stop-color="#355f8d"/><stop offset=".6404" stop-color="#2f6b8e"/><stop offset=".6489" stop-color="#31668e"/><stop offset=".6574" stop-color="#3a548c"/><stop offset=".6660" stop-color="#365c8d"/><stop offset=".6702" stop-color="#3c508b"/><stop offset=".6745" stop-color="#3a538b"/><stop offset=".6787" stop-color="#3f4889"/><stop offset=".6830" stop-color="#3b518b"/><stop offset=".6872" stop-color="#3f4788"/><stop offset=".6915" stop-color="#3b528b"/><stop offset=".6957" stop-color="#404688"/><stop offset=".7000" stop-color="#3e4c8a"/><stop offset=".7043" stop-color="#443983"/><stop offset=".7085" stop-color="#3e4c8a"/><stop offset=".7128" stop-color="#433d84"/><stop offset=".7213" stop-color="#404588"/><stop offset=".7298" stop-color="#404588"/><stop offset=".7383" stop-color="#433d84"/><stop offset=".7468" stop-color="#433d84"/><stop offset=".7511" stop-color="#46307e"/><stop offset=".7596" stop-color="#453882"/><stop offset=".7638" stop-color="#482677"/><stop offset=".7681" stop-color="#453781"/><stop offset=".7723" stop-color="#472c7a"/><stop offset=".7766" stop-color="#453781"/><stop offset=".7809" stop-color="#482576"/><stop offset=".7851" stop-color="#443a83"/><stop offset=".7894" stop-color="#472d7b"/><stop offset=".7979" stop-color="#443983"/><stop offset=".8021" stop-color="#472d7b"/><stop offset=".8106" stop-color="#46327e"/><stop offset=".8149" stop-color="#472d7b"/><stop offset=".8191" stop-color="#453882"/><stop offset=".8234" stop-color="#443983"/><stop offset=".8277" stop-color="#482878"/><stop offset=".8319" stop-color="#453581"/><stop offset=".8404" stop-color="#46307e"/><stop offset=".8447" stop-color="#453882"/><stop offset=".8489" stop-color="#46307e"/><stop offset=".8532" stop-color="#423f85"/><stop offset=".8617" stop-color="#472e7c"/><stop offset=".8702" stop-color="#453581"/><stop offset=".8787" stop-color="#463480"/><stop offset=".8830" stop-color="#423f85"/><stop offset=".8915" stop-color="#472a7a"/><stop offset=".9000" stop-color="#433e85"/><stop offset=".9043" stop-color="#482576"/><stop offset=".9085" stop-color="#46307e"/><stop offset=".9128" stop-color="#482979"/><stop offset=".9213" stop-color="#46327e"/><stop offset=".9255" stop-color="#482677"/><stop offset=".9298" stop-color="#424086"/><stop offset=".9340" stop-color="#424186"/><stop offset=".9383" stop-color="#453781"/><stop offset=".9426" stop-color="#463480"/><stop offset=".9468" stop-color="#443b84"/><stop offset=".9511" stop-color="#482576"/><stop offset=".9553" stop-color="#433d84"/><stop offset=".9596" stop-color="#472a7a"/><stop offset=".9638" stop-color="#453781"/><stop offset=".9809" stop-color="#443983"/><stop offset=".9851" stop-color="#472e7c"/><stop offset=".9894" stop-color="#472f7d"/><stop offset=".9936" stop-color="#443b84"/><stop offset=".9979" stop-color="#443983"/></linearGradient>
<linearGradient id="g24" x1="0" x2="1" y1="0" y2="0"><stop offset=".0021" stop-color="#472a7a"/><stop offset=".0064" stop-color="#46337f"/><stop offset=".0149" stop-color="#46337f"/><stop offset=".0191" stop-color="#472d7b"/><stop offset=".0234" stop-color="#453781"/><stop offset=".0277" stop-color="#482475"/><stop offset=".0319" stop-color="#453781"/><stop offset=".0447" stop-color="#46307e"/><stop offset=".0489" stop-color="#463480"/><stop offset=".0532" stop-color="#482979"/><stop offset=".0574" stop-color="#46337f"/><stop offset=".0660" stop-color="#482979"/><stop offset=".0702" stop-color="#443a83"/><stop offset=".0787" stop-color="#482979"/><stop offset=".0830" stop-color="#472a7a"/><stop offset=".0872" stop-color="#463480"/><stop offset=".0915" stop-color="#472c7a"/><stop offset=".0957" stop-color="#463480"/><stop offset=".1000" stop-color="#472d7b"/><stop offset=".1085" stop-color="#46307e"/><stop offset=".1128" stop-color="#443983"/><stop offset=".1213" stop-color="#482979"/><stop offset=".1340" stop-color="#453581"/><stop offset=".1468" stop-color="#453581"/><stop offset=".1596" stop-color="#472c7a"/><stop offset=".1638" stop-color="#443983"/><stop offset=".1681" stop-color="#46307e"/><stop offset=".1766" stop-color="#46337f"/><stop offset=".1809" stop-color="#472d7b"/><stop offset=".1936" stop-color="#46307e"/><stop offset=".2064" stop-color="#472e7c"/><stop offset=".2106" stop-color="#433d84"/><stop offset=".2149" stop-color="#46327e"/><stop offset=".2234" stop-color="#433d84"/><stop offset=".2319" stop-color="#482979"/><stop offset=".2362" stop-color="#443a83"/><stop offset=".2404" stop-color="#414287"/><stop offset=".2489" stop-color="#472e7c"/><stop offset=".2532" stop-color="#46327e"/><stop offset=".2574" stop-color="#423f85"/><stop offset=".2617" stop-color="#443983"/><stop offset=".2660" stop-color="#404688"/><stop offset=".2702" stop-color="#443b84"/><stop offset=".2745" stop-color="#443a83"/><stop offset=".2787" stop-color="#424186"/><stop offset=".2830" stop-color="#463480"/><stop offset=".2915" stop-color="#424186"/><stop offset=".2957" stop-color="#443a83"/><stop offset=".3000" stop-color="#3f4788"/><stop offset=".3043" stop-color="#3e4c8a"/><stop offset=".3085" stop-color="#433e85"/><stop offset=".3170" stop-color="#3f4889"/><stop offset=".3213" stop-color="#424186"/><stop offset=".3255" stop-color="#3d4d8a"/><stop offset=".3298" stop-color="#3d4d8a"/><stop offset=".3340" stop-color="#38588c"/><stop offset=".3383" stop-color="#404588"/><stop offset=".3426" stop-color="#3f4889"/><stop offset=".3468" stop-color="#38598c"/><stop offset=".3511" stop-color="#3a538b"/><stop offset=".3553" stop-color="#365c8d"/><stop offset=".3596" stop-color="#375b8d"/><stop offset=".3638" stop-color="#3c4f8a"/><stop offset=".3681" stop-color="#3d4e8a"/><stop offset=".3766" stop-color="#355f8d"/><stop offset=".3809" stop-color="#365d8d"/><stop offset=".3851" stop-color="#2c718e"/><stop offset=".3936" stop-color="#2a778e"/><stop offset=".3979" stop-color="#2c728e"/><stop offset=".4021" stop-color="#26818e"/><stop offset=".4064" stop-color="#2e6e8e"/><stop offset=".4106" stop-color="#25848e"/><stop offset=".4191" stop-color="#2a788e"/><stop offset=".4234" stop-color="#27808e"/><stop offset=".4362" stop-color="#287d8e"/><stop offset=".4404" stop-color="#2b758e"/><stop offset=".4489" stop-color="#25858e"/><stop offset=".4532" stop-color="#25858e"/><stop offset=".4574" stop-color="#287d8e"/><stop offset=".4660" stop-color="#26828e"/><stop offset=".4745" stop-color="#287d8e"/><stop offset=".4787" stop-color="#277e8e"/><stop offset=".4830" stop-color="#25858e"/><stop offset=".4872" stop-color="#1f948c"/><stop offset=".4957" stop-color="#21908d"/><stop offset=".5000" stop-color="#25838e"/><stop offset=".5043" stop-color="#24868e"/><stop offset=".5085" stop-color="#20928c"/><stop offset=".5128" stop-color="#25858e"/><stop offset=".5170" stop-color="#277f8e"/><stop offset=".5213" stop-color="#24868e"/><stop offset=".5255" stop-color="#277f8e"/><stop offset=".5298" stop-color="#228c8d"/><stop offset=".5340" stop-color="#26828e"/><stop offset=".5383" stop-color="#23898e"/><stop offset=".5511" stop-color="#27808e"/><stop offset=".5553" stop-color="#27808e"/><stop offset=".5596" stop-color="#2a778e"/><stop offset=".5681" stop-color="#297a8e"/><stop offset=".5766" stop-color="#2d708e"/><stop offset=".5851" stop-color="#2c718e"/><stop offset=".5894" stop-color="#26828e"/><stop offset=".5936" stop-color="#25848e"/><stop offset=".5979" stop-color="#277e8e"/><stop offset=".6021" stop-color="#26828e"/><stop offset=".6064" stop-color="#287c8e"/><stop offset=".6106" stop-color="#27808e"/><stop offset=".6149" stop-color="#30698e"/><stop offset=".6234" stop-color="#31678e"/><stop offset=".6277" stop-color="#375b8d"/><stop offset=".6404" stop-color="#375b8d"/><stop offset=".6489" stop-color="#365c8d"/><stop offset=".6532" stop-color="#38588c"/><stop offset=".6574" stop-color="#375a8c"/><stop offset=".6617" stop-color="#3c508b"/><stop offset=".6787" stop-color="#3b518b"/><stop offset=".6830" stop-color="#3d4d8a"/><stop offset=".6872" stop-color="#424086"/><stop offset=".6957" stop-color="#3d4e8a"/><stop offset=".7000" stop-color="#414487"/><stop offset=".7128" stop-color="#3e4c8a"/><stop offset=".7170" stop-color="#46337f"/><stop offset=".7255" stop-color="#433d84"/><stop offset=".7468" stop-color="#453581"/><stop offset=".7511" stop-color="#472e7c"/><stop offset=".7553" stop-color="#463480"/><stop offset=".7596" stop-color="#482979"/><stop offset=".7723" stop-color="#46307e"/><stop offset=".7851" stop-color="#472f7d"/><stop offset=".7894" stop-color="#443b84"/><stop offset=".7936" stop-color="#423f85"/><stop offset=".7979" stop-color="#46327e"/><stop offset=".8021" stop-color="#453781"/><stop offset=".8064" stop-color="#472c7a"/><stop offset=".8149" stop-color="#482677"/><stop offset=".8277" stop-color="#453781"/><stop offset=".8319" stop-color="#482677"/><stop offset=".8362" stop-color="#482576"/><stop offset=".8404" stop-color="#424186"/><stop offset=".8447" stop-color="#472f7d"/><stop offset=".8489" stop-color="#472d7b"/><stop offset=".8574" stop-color="#443b84"/><stop offset=".8617" stop-color="#472e7c"/><stop offset=".8660" stop-color="#482979"/><stop offset=".8745" stop-color="#453781"/><stop offset=".8787" stop-color="#472d7b"/><stop offset=".8830" stop-color="#453781"/><stop offset=".8872" stop-color="#46307e"/><stop offset=".8957" stop-color="#443983"/><stop offset=".9043" stop-color="#472c7a"/><stop offset=".9128" stop-color="#472c7a"/><stop offset=".9170" stop-color="#46327e"/><stop offset=".9213" stop-color="#482979"/><stop offset=".9255" stop-color="#443983"/><stop offset=".9298" stop-color="#482677"/><stop offset=".9340" stop-color="#453882"/><stop offset=".9383" stop-color="#482475"/><stop offset=".9468" stop-color="#453781"/><stop offset=".9511" stop-color="#472e7c"/><stop offset=".9553" stop-color="#46337f"/><stop offset=".9681" stop-color="#482475"/><stop offset=".9723" stop-color="#443983"/><stop offset=".9809" stop-color="#482677"/><stop offset=".9851" stop-color="#46337f"/><stop offset=".9894" stop-color="#482677"/><stop offset=".9936" stop-color="#482475"/><stop offset=".9979" stop-color="#453581"/></linearGradient>
<linearGradient id="g25" x1="0" x2="1" y1="0" y2="0"><stop offset=".0021" stop-color="#46337f"/><stop offset=".0106" stop-color="#472a7a"/><stop offset=".0149" stop-color="#46337f"/><stop offset=".0234" stop-color="#463480"/><stop offset=".0277" stop-color="#404588"/><stop offset=".0362" stop-color="#453781"/><stop offset=".0404" stop-color="#443b84"/><stop offset=".0447" stop-color="#46337f"/><stop offset=".0489" stop-color="#443a83"/><stop offset=".0532" stop-color="#472e7c"/><stop offset=".0574" stop-color="#433d84"/><stop offset=".0617" stop-color="#423f85"/><stop offset=".0660" stop-color="#46327e"/><stop offset=".0702" stop-color="#46337f"/><stop offset=".0745" stop-color="#472a7a"/><stop offset=".0872" stop-color="#472d7b"/><stop offset=".0915" stop-color="#423f85"/><stop offset=".0957" stop-color="#463480"/><stop offset=".1000" stop-color="#443a83"/><stop offset=".1128" stop-color="#443983"/><stop offset=".1170" stop-color="#482878"/><stop offset=".1213" stop-color="#453882"/><stop offset=".1298" stop-color="#46327e"/><stop offset=".1383" stop-color="#46337f"/><stop offset=".1426" stop-color="#472d7b"/><stop offset=".1468" stop-color="#453882"/><stop offset=".1596" stop-color="#443a83"/><stop offset=".1638" stop-color="#46327e"/><stop offset=".1681" stop-color="#424086"/><stop offset=".1723" stop-color="#46327e"/><stop offset=".1766" stop-color="#46307e"/><stop offset=".1809" stop-color="#453882"/><stop offset=".1936" stop-color="#453581"/><stop offset=".1979" stop-color="#443a83"/><stop offset=".2064" stop-color="#482979"/><stop offset=".2277" stop-color="#453882"/><stop offset=".2319" stop-color="#46307e"/><stop offset=".2362" stop-color="#443983"/><stop offset=".2404" stop-color="#472c7a"/><stop offset=".2574" stop-color="#424186"/><stop offset=".2617" stop-color="#443b84"/><stop offset=".2745" stop-color="#404588"/><stop offset=".2872" stop-color="#433e85"/><stop offset=".2915" stop-color="#3e4c8a"/><stop offset=".2957" stop-color="#3d4d8a"/><stop offset=".3000" stop-color="#424186"/><stop offset=".3043" stop-color="#3e4c8a"/><stop offset=".3213" stop-color="#3e4c8a"/><stop offset=".3255" stop-color="#414487"/><stop offset=".3298" stop-color="#3b518b"/><stop offset=".3383" stop-color="#3b518b"/><stop offset=".3468" stop-color="#39558c"/><stop offset=".3553" stop-color="#39568c"/><stop offset=".3596" stop-color="#33628d"/><stop offset=".3681" stop-color="#38598c"/><stop offset=".3766" stop-color="#33638d"/><stop offset=".3851" stop-color="#2e6e8e"/><stop offset=".3894" stop-color="#287c8e"/><stop offset=".4064" stop-color="#277f8e"/><stop offset=".4106" stop-color="#2b748e"/><stop offset=".4191" stop-color="#2e6f8e"/><stop offset=".4234" stop-color="#277e8e"/><stop offset=".4277" stop-color="#29798e"/><stop offset=".4319" stop-color="#25838e"/><stop offset=".4447" stop-color="#25848e"/><stop offset=".4574" stop-color="#228b8d"/><stop offset=".4660" stop-color="#1f998a"/><stop offset=".4702" stop-color="#228d8d"/><stop offset=".4745" stop-color="#20928c"/><stop offset=".4787" stop-color="#24878e"/><stop offset=".4830" stop-color="#20938c"/><stop offset=".4957" stop-color="#1fa187"/><stop offset=".5043" stop-color="#1f978b"/><stop offset=".5085" stop-color="#1e9b8a"/><stop offset=".5128" stop-color="#228c8d"/><stop offset=".5213" stop-color="#1f998a"/><stop offset=".5255" stop-color="#23888e"/><stop offset=".5298" stop-color="#24878e"/><stop offset=".5383" stop-color="#1f998a"/><stop offset=".5468" stop-color="#21908d"/><stop offset=".5596" stop-color="#1f998a"/><stop offset=".5681" stop-color="#26828e"/><stop offset=".5979" stop-color="#228b8d"/><stop offset=".6021" stop-color="#26828e"/><stop offset=".6149" stop-color="#238a8d"/><stop offset=".6191" stop-color="#26828e"/><stop offset=".6234" stop-color="#2e6f8e"/><stop offset=".6277" stop-color="#29798e"/><stop offset=".6319" stop-color="#32648e"/><stop offset=".6404" stop-color="#31678e"/><stop offset=".6447" stop-color="#32648e"/><stop offset=".6489" stop-color="#38588c"/><stop offset=".6532" stop-color="#34608d"/><stop offset=".6660" stop-color="#34608d"/><stop offset=".6702" stop-color="#3a538b"/><stop offset=".6787" stop-color="#39558c"/><stop offset=".6830" stop-color="#3e4989"/><stop offset=".6872" stop-color="#3d4d8a"/><stop offset=".6915" stop-color="#3f4788"/><stop offset=".7043" stop-color="#3b528b"/><stop offset=".7128" stop-color="#424186"/><stop offset=".7170" stop-color="#3c4f8a"/><stop offset=".7213" stop-color="#463480"/><stop offset=".7298" stop-color="#3f4889"/><stop offset=".7340" stop-color="#443b84"/><stop offset=".7426" stop-color="#46327e"/><stop offset=".7553" stop-color="#423f85"/><stop offset=".7596" stop-color="#472f7d"/><stop offset=".7638" stop-color="#433e85"/><stop offset=".7681" stop-color="#443a83"/><stop offset=".7723" stop-color="#424086"/><stop offset=".7766" stop-color="#453581"/><stop offset=".7851" stop-color="#414287"/><stop offset=".7894" stop-color="#463480"/><stop offset=".7979" stop-color="#472f7d"/><stop offset=".8064" stop-color="#424186"/><stop offset=".8106" stop-color="#482979"/><stop offset=".8149" stop-color="#453882"/><stop offset=".8234" stop-color="#46337f"/><stop offset=".8277" stop-color="#443b84"/><stop offset=".8319" stop-color="#463480"/><stop offset=".8362" stop-color="#453882"/><stop offset=".8404" stop-color="#482576"/><stop offset=".8489" stop-color="#443b84"/><stop offset=".8532" stop-color="#46307e"/><stop offset=".8660" stop-color="#472c7a"/><stop offset=".8702" stop-color="#453781"/><stop offset=".8787" stop-color="#453781"/><stop offset=".8830" stop-color="#443b84"/><stop offset=".8915" stop-color="#472c7a"/><stop offset=".9000" stop-color="#472c7a"/><stop offset=".9043" stop-color="#482878"/><stop offset=".9128" stop-color="#443b84"/><stop offset=".9213" stop-color="#472d7b"/><stop offset=".9255" stop-color="#46337f"/><stop offset=".9298" stop-color="#472e7c"/><stop offset=".9383" stop-color="#453781"/><stop offset=".9426" stop-color="#472c7a"/><stop offset=".9468" stop-color="#472e7c"/><stop offset=".9511" stop-color="#482475"/><stop offset=".9553" stop-color="#46337f"/><stop offset=".9638" stop-color="#443983"/><stop offset=".9723" stop-color="#46327e"/><stop offset=".9766" stop-color="#453581"/><stop offset=".9809" stop-color="#472e7c"/><stop offset=".9851" stop-color="#46337f"/><stop offset=".9894" stop-color="#481f70"/><stop offset=".9936" stop-color="#482878"/><stop offset=".9979" stop-color="#482677"/></linearGradient>
<linearGradient id="g26" x1="0" x2="1" y1="0" y2="0"><stop offset=".0021" stop-color="#443983"/><stop offset=".0064" stop-color="#463480"/><stop offset=".0106" stop-color="#482475"/><stop offset=".0149" stop-color="#46327e"/><stop offset=".0191" stop-color="#482979"/><stop offset=".0234" stop-color="#472d7b"/><stop offset=".0277" stop-color="#482475"/><stop offset=".0319" stop-color="#46307e"/><stop offset=".0404" stop-color="#482475"/><stop offset=".0447" stop-color="#443a83"/><stop offset=".0532" stop-color="#482475"/><stop offset=".0574" stop-color="#482173"/><stop offset=".0617" stop-color="#46327e"/><stop offset=".0660" stop-color="#472d7b"/><stop offset=".0787" stop-color="#453781"/><stop offset=".0830" stop-color="#424086"/><stop offset=".0872" stop-color="#46337f"/><stop offset=".1170" stop-color="#482677"/><stop offset=".1213" stop-color="#472a7a"/><stop offset=".1255" stop-color="#443a83"/><stop offset=".1298" stop-color="#46307e"/><stop offset=".1426" stop-color="#443a83"/><stop offset=".1468" stop-color="#472f7d"/><stop offset=".1553" stop-color="#46307e"/><stop offset=".1596" stop-color="#453581"/><stop offset=".1638" stop-color="#472a7a"/><stop offset=".1681" stop-color="#453781"/><stop offset=".1809" stop-color="#472d7b"/><stop offset=".1979" stop-color="#453581"/><stop offset=".2106" stop-color="#463480"/><stop offset=".2149" stop-color="#443b84"/><stop offset=".2191" stop-color="#453581"/><stop offset=".2234" stop-color="#482677"/><stop offset=".2277" stop-color="#472f7d"/><stop offset=".2362" stop-color="#482878"/><stop offset=".2404" stop-color="#453882"/><stop offset=".2447" stop-color="#472d7b"/><stop offset=".2489" stop-color="#443983"/><stop offset=".2574" stop-color="#453781"/><stop offset=".2617" stop-color="#433e85"/><stop offset=".2660" stop-color="#453781"/><stop offset=".2702" stop-color="#433e85"/><stop offset=".2745" stop-color="#443983"/><stop offset=".2787" stop-color="#433d84"/><stop offset=".2830" stop-color="#3e4c8a"/><stop offset=".2915" stop-color="#433e85"/><stop offset=".2957" stop-color="#424086"/><stop offset=".3000" stop-color="#3e4c8a"/><stop offset=".3043" stop-color="#3e4c8a"/><stop offset=".3085" stop-color="#433e85"/><stop offset=".3128" stop-color="#38598c"/><stop offset=".3170" stop-color="#404688"/><stop offset=".3255" stop-color="#3b518b"/><stop offset=".3340" stop-color="#3e4989"/><stop offset=".3383" stop-color="#3a538b"/><stop offset=".3426" stop-color="#3b518b"/><stop offset=".3468" stop-color="#32648e"/><stop offset=".3511" stop-color="#3b528b"/><stop offset=".3553" stop-color="#3c4f8a"/><stop offset=".3596" stop-color="#32648e"/><stop offset=".3638" stop-color="#32658e"/><stop offset=".3681" stop-color="#375b8d"/><stop offset=".3723" stop-color="#31678e"/><stop offset=".3809" stop-color="#30698e"/><stop offset=".3851" stop-color="#365d8d"/><stop offset=".3894" stop-color="#2e6e8e"/><stop offset=".3936" stop-color="#31688e"/><stop offset=".3979" stop-color="#297b8e"/><stop offset=".4021" stop-color="#2f6b8e"/><stop offset=".4106" stop-color="#2e6d8e"/><stop offset=".4149" stop-color="#2b748e"/><stop offset=".4234" stop-color="#2f6c8e"/><stop offset=".4277" stop-color="#2c738e"/><stop offset=".4404" stop-color="#2e6f8e"/><stop offset=".4447" stop-color="#2b748e"/><stop offset=".4489" stop-color="#2e6d8e"/><stop offset=".4532" stop-color="#2a768e"/><stop offset=".4574" stop-color="#2b758e"/><stop offset=".4617" stop-color="#26828e"/><stop offset=".4745" stop-color="#228b8d"/><stop offset=".4787" stop-color="#1f988b"/><stop offset=".4830" stop-color="#1e9b8a"/><stop offset=".4872" stop-color="#20a486"/><stop offset=".4915" stop-color="#3fbc73"/><stop offset=".4957" stop-color="#2db27d"/><stop offset=".5000" stop-color="#32b67a"/><stop offset=".5043" stop-color="#23a983"/><stop offset=".5085" stop-color="#22a785"/><stop offset=".5128" stop-color="#1f978b"/><stop offset=".5255" stop-color="#23898e"/><stop offset=".5298" stop-color="#27808e"/><stop offset=".5340" stop-color="#24878e"/><stop offset=".5426" stop-color="#26818e"/><stop offset=".5553" stop-color="#2a768e"/><stop offset=".5596" stop-color="#2a778e"/><stop offset=".5638" stop-color="#23888e"/><stop offset=".5766" stop-color="#24868e"/><stop offset=".5809" stop-color="#2a788e"/><stop offset=".5851" stop-color="#277f8e"/><stop offset=".5936" stop-color="#2c728e"/><stop offset=".6021" stop-color="#287c8e"/><stop offset=".6064" stop-color="#2d718e"/><stop offset=".6106" stop-color="#287d8e"/><stop offset=".6191" stop-color="#29798e"/><stop offset=".6277" stop-color="#31688e"/><stop offset=".6319" stop-color="#33628d"/><stop offset=".6362" stop-color="#31668e"/><stop offset=".6447" stop-color="#365c8d"/><stop offset=".6532" stop-color="#365d8d"/><stop offset=".6574" stop-color="#39558c"/><stop offset=".6617" stop-color="#38588c"/><stop offset=".6660" stop-color="#3f4889"/><stop offset=".6702" stop-color="#3b518b"/><stop offset=".6745" stop-color="#3b528b"/><stop offset=".6787" stop-color="#365c8d"/><stop offset=".6830" stop-color="#3e4c8a"/><stop offset=".6872" stop-color="#404588"/><stop offset=".6915" stop-color="#453581"/><stop offset=".6957" stop-color="#3c4f8a"/><stop offset=".7000" stop-color="#423f85"/><stop offset=".7128" stop-color="#433e85"/><stop offset=".7170" stop-color="#414287"/><stop offset=".7213" stop-color="#443a83"/><stop offset=".7255" stop-color="#433d84"/><stop offset=".7298" stop-color="#46307e"/><stop offset=".7340" stop-color="#46327e"/><stop offset=".7383" stop-color="#433e85"/><stop offset=".7468" stop-color="#472a7a"/><stop offset=".7511" stop-color="#463480"/><stop offset=".7596" stop-color="#472c7a"/><stop offset=".7638" stop-color="#443a83"/><stop offset=".7681" stop-color="#482677"/><stop offset=".7723" stop-color="#433e85"/><stop offset=".7766" stop-color="#482677"/><stop offset=".7809" stop-color="#46337f"/><stop offset=".7851" stop-color="#481d6f"/><stop offset=".7894" stop-color="#463480"/><stop offset=".7936" stop-color="#433d84"/><stop offset=".7979" stop-color="#453581"/><stop offset=".8064" stop-color="#433e85"/><stop offset=".8106" stop-color="#46307e"/><stop offset=".8234" stop-color="#46327e"/><stop offset=".8319" stop-color="#482878"/><stop offset=".8362" stop-color="#453781"/><stop offset=".8447" stop-color="#472c7a"/><stop offset=".8489" stop-color="#46307e"/><stop offset=".8532" stop-color="#481d6f"/><stop offset=".8574" stop-color="#443983"/><stop offset=".8617" stop-color="#46307e"/><stop offset=".8660" stop-color="#46337f"/><stop offset=".8745" stop-color="#472a7a"/><stop offset=".8872" stop-color="#472d7b"/><stop offset=".8957" stop-color="#481f70"/><stop offset=".9043" stop-color="#443b84"/><stop offset=".9085" stop-color="#482677"/><stop offset=".9128" stop-color="#433e85"/><stop offset=".9170" stop-color="#472f7d"/><stop offset=".9213" stop-color="#443983"/><stop offset=".9255" stop-color="#46337f"/><stop offset=".9298" stop-color="#414287"/><stop offset=".9340" stop-color="#482677"/><stop offset=".9383" stop-color="#472d7b"/><stop offset=".9426" stop-color="#433e85"/><stop offset=".9511" stop-color="#472a7a"/><stop offset=".9638" stop-color="#472a7a"/><stop offset=".9681" stop-color="#46337f"/><stop offset=".9723" stop-color="#46327e"/><stop offset=".9766" stop-color="#482475"/><stop offset=".9809" stop-color="#482878"/><stop offset=".9851" stop-color="#453781"/><stop offset=".9936" stop-color="#482979"/><stop offset=".9979" stop-color="#463480"/></linearGradient>
<linearGradient id="g27" x1="0" x2="1" y1="0" y2="0"><stop offset=".0021" stop-color="#443b84"/><stop offset=".0149" stop-color="#472a7a"/><stop offset=".0191" stop-color="#472a7a"/><stop offset=".0234" stop-color="#482071"/><stop offset=".0362" stop-color="#463480"/><stop offset=".0404" stop-color="#424086"/><stop offset=".0489" stop-color="#472a7a"/><stop offset=".0532" stop-color="#482374"/><stop offset=".0574" stop-color="#472d7b"/><stop offset=".0617" stop-color="#472a7a"/><stop offset=".0660" stop-color="#46337f"/><stop offset=".0702" stop-color="#482475"/><stop offset=".0745" stop-color="#472f7d"/><stop offset=".0830" stop-color="#472d7b"/><stop offset=".0872" stop-color="#482475"/><stop offset=".0915" stop-color="#46327e"/><stop offset=".1000" stop-color="#482173"/><stop offset=".1043" stop-color="#472f7d"/><stop offset=".1085" stop-color="#472a7a"/><stop offset=".1128" stop-color="#443983"/><stop offset=".1213" stop-color="#472c7a"/><stop offset=".1298" stop-color="#46337f"/><stop offset=".1383" stop-color="#472d7b"/><stop offset=".1468" stop-color="#46307e"/><stop offset=".1511" stop-color="#46307e"/><stop offset=".1553" stop-color="#443983"/><stop offset=".1596" stop-color="#46307e"/><stop offset=".1723" stop-color="#472a7a"/><stop offset=".1809" stop-color="#443a83"/><stop offset=".1851" stop-color="#453882"/><stop offset=".1894" stop-color="#472d7b"/><stop offset=".1936" stop-color="#453781"/><stop offset=".2149" stop-color="#46327e"/><stop offset=".2319" stop-color="#453581"/><stop offset=".2362" stop-color="#424186"/><stop offset=".2447" stop-color="#433d84"/><stop offset=".2489" stop-color="#414287"/><stop offset=".2532" stop-color="#46307e"/><stop offset=".2574" stop-color="#433e85"/><stop offset=".2617" stop-color="#443b84"/><stop offset=".2660" stop-color="#3f4788"/><stop offset=".2702" stop-color="#404588"/><stop offset=".2745" stop-color="#443a83"/><stop offset=".2872" stop-color="#3e4989"/><stop offset=".2915" stop-color="#433e85"/><stop offset=".2957" stop-color="#424086"/><stop offset=".3043" stop-color="#38588c"/><stop offset=".3085" stop-color="#424186"/><stop offset=".3128" stop-color="#3d4d8a"/><stop offset=".3170" stop-color="#424186"/><stop offset=".3255" stop-color="#3d4d8a"/><stop offset=".3340" stop-color="#3d4e8a"/><stop offset=".3383" stop-color="#3b528b"/><stop offset=".3426" stop-color="#3d4d8a"/><stop offset=".3511" stop-color="#365c8d"/><stop offset=".3553" stop-color="#3e4a89"/><stop offset=".3596" stop-color="#32648e"/><stop offset=".3638" stop-color="#38598c"/><stop offset=".3681" stop-color="#2e6d8e"/><stop offset=".3809" stop-color="#2f6c8e"/><stop offset=".3851" stop-color="#2c718e"/><stop offset=".3894" stop-color="#2f6c8e"/><stop offset=".3936" stop-color="#2e6f8e"/><stop offset=".3979" stop-color="#297a8e"/><stop offset=".4021" stop-color="#2c738e"/><stop offset=".4064" stop-color="#2c728e"/><stop offset=".4106" stop-color="#287c8e"/><stop offset=".4149" stop-color="#277f8e"/><stop offset=".4191" stop-color="#297b8e"/><stop offset=".4234" stop-color="#277f8e"/><stop offset=".4277" stop-color="#228b8d"/><stop offset=".4319" stop-color="#29798e"/><stop offset=".4404" stop-color="#26818e"/><stop offset=".4447" stop-color="#2b758e"/><stop offset=".4574" stop-color="#23898e"/><stop offset=".4617" stop-color="#277e8e"/><stop offset=".4660" stop-color="#277f8e"/><stop offset=".4702" stop-color="#218f8d"/><stop offset=".4745" stop-color="#20928c"/><stop offset=".4787" stop-color="#1f9f88"/><stop offset=".4872" stop-color="#23a983"/><stop offset=".4915" stop-color="#32b67a"/><stop offset=".5170" stop-color="#1f9a8a"/><stop offset=".5255" stop-color="#26818e"/><stop offset=".5340" stop-color="#238a8d"/><stop offset=".5383" stop-color="#26828e"/><stop offset=".5468" stop-color="#25858e"/><stop offset=".5511" stop-color="#277f8e"/><stop offset=".5553" stop-color="#26828e"/><stop offset=".5596" stop-color="#287d8e"/><stop offset=".5638" stop-color="#218e8d"/><stop offset=".5766" stop-color="#26828e"/><stop offset=".5851" stop-color="#26818e"/><stop offset=".5894" stop-color="#20928c"/><stop offset=".5936" stop-color="#27808e"/><stop offset=".5979" stop-color="#24868e"/><stop offset=".6021" stop-color="#20938c"/><stop offset=".6064" stop-color="#25848e"/><stop offset=".6106" stop-color="#228b8d"/><stop offset=".6149" stop-color="#23888e"/><stop offset=".6191" stop-color="#277e8e"/><stop offset=".6234" stop-color="#29798e"/><stop offset=".6277" stop-color="#2f6b8e"/><stop offset=".6319" stop-color="#31678e"/><stop offset=".6362" stop-color="#2e6d8e"/><stop offset=".6404" stop-color="#365c8d"/><stop offset=".6489" stop-color="#33628d"/><stop offset=".6532" stop-color="#30698e"/><stop offset=".6574" stop-color="#375a8c"/><stop offset=".6617" stop-color="#355e8d"/><stop offset=".6660" stop-color="#375a8c"/><stop offset=".6702" stop-color="#3e4a89"/><stop offset=".6787" stop-color="#3b528b"/><stop offset=".6957" stop-color="#414487"/><stop offset=".7000" stop-color="#3c4f8a"/><stop offset=".7085" stop-color="#424186"/><stop offset=".7128" stop-color="#3b518b"/><stop offset=".7170" stop-color="#443a83"/><stop offset=".7213" stop-color="#404688"/><stop offset=".7255" stop-color="#433d84"/><stop offset=".7383" stop-color="#453882"/><stop offset=".7426" stop-color="#433d84"/><stop offset=".7511" stop-color="#46337f"/><stop offset=".7553" stop-color="#482878"/><stop offset=".7596" stop-color="#46307e"/><stop offset=".7638" stop-color="#482677"/><stop offset=".7723" stop-color="#472f7d"/><stop offset=".7766" stop-color="#423f85"/><stop offset=".7809" stop-color="#472c7a"/><stop offset=".7851" stop-color="#433d84"/><stop offset=".7894" stop-color="#472a7a"/><stop offset=".7936" stop-color="#482878"/><stop offset=".7979" stop-color="#443983"/><stop offset=".8021" stop-color="#472e7c"/><stop offset=".8106" stop-color="#453781"/><stop offset=".8149" stop-color="#482979"/><stop offset=".8191" stop-color="#482878"/><stop offset=".8277" stop-color="#453882"/><stop offset=".8362" stop-color="#482979"/><stop offset=".8404" stop-color="#443a83"/><stop offset=".8447" stop-color="#463480"/><stop offset=".8489" stop-color="#443a83"/><stop offset=".8574" stop-color="#453882"/><stop offset=".8660" stop-color="#472d7b"/><stop offset=".8787" stop-color="#46337f"/><stop offset=".8830" stop-color="#423f85"/><stop offset=".8872" stop-color="#482374"/><stop offset=".8915" stop-color="#433d84"/><stop offset=".8957" stop-color="#472d7b"/><stop offset=".9000" stop-color="#482475"/><stop offset=".9043" stop-color="#482677"/><stop offset=".9085" stop-color="#453581"/><stop offset=".9128" stop-color="#46307e"/><stop offset=".9170" stop-color="#443a83"/><stop offset=".9255" stop-color="#482878"/><stop offset=".9298" stop-color="#453581"/><stop offset=".9340" stop-color="#472c7a"/><stop offset=".9383" stop-color="#453781"/><stop offset=".9426" stop-color="#472e7c"/><stop offset=".9511" stop-color="#46327e"/><stop offset=".9553" stop-color="#472d7b"/><stop offset=".9638" stop-color="#443b84"/><stop offset=".9723" stop-color="#453581"/><stop offset=".9766" stop-color="#453882"/><stop offset=".9809" stop-color="#472e7c"/><stop offset=".9936" stop-color="#472e7c"/><stop offset=".9979" stop-color="#482071"/></linearGradient>
<linearGradient id="g28" x1="0" x2="1" y1="0" y2="0"><stop offset=".0021" stop-color="#472c7a"/><stop offset=".0064" stop-color="#482173"/><stop offset=".0106" stop-color="#482173"/><stop offset=".0191" stop-color="#443a83"/><stop offset=".0234" stop-color="#443983"/><stop offset=".0277" stop-color="#472c7a"/><stop offset=".0362" stop-color="#453882"/><stop offset=".0447" stop-color="#482576"/><stop offset=".0489" stop-color="#443b84"/><stop offset=".0617" stop-color="#482878"/><stop offset=".0745" stop-color="#443b84"/><stop offset=".0787" stop-color="#482475"/><stop offset=".0830" stop-color="#443a83"/><stop offset=".0872" stop-color="#472d7b"/><stop offset=".1000" stop-color="#472c7a"/><stop offset=".1043" stop-color="#46327e"/><stop offset=".1085" stop-color="#482374"/><stop offset=".1128" stop-color="#453882"/><stop offset=".1170" stop-color="#481d6f"/><stop offset=".1213" stop-color="#46337f"/><stop offset=".1298" stop-color="#472a7a"/><stop offset=".1340" stop-color="#463480"/><stop offset=".1426" stop-color="#472a7a"/><stop offset=".1511" stop-color="#453781"/><stop offset=".1553" stop-color="#453781"/><stop offset=".1596" stop-color="#472e7c"/><stop offset=".1638" stop-color="#453781"/><stop offset=".1681" stop-color="#482071"/><stop offset=".1723" stop-color="#443983"/><stop offset=".1766" stop-color="#472d7b"/><stop offset=".1809" stop-color="#453781"/><stop offset=".1851" stop-color="#482677"/><stop offset=".1936" stop-color="#453781"/><stop offset=".1979" stop-color="#472a7a"/><stop offset=".2064" stop-color="#472d7b"/><stop offset=".2149" stop-color="#423f85"/><stop offset=".2191" stop-color="#463480"/><stop offset=".2404" stop-color="#482677"/><stop offset=".2489" stop-color="#453581"/><stop offset=".2532" stop-color="#482576"/><stop offset=".2574" stop-color="#443983"/><stop offset=".2660" stop-color="#423f85"/><stop offset=".2787" stop-color="#443a83"/><stop offset=".2830" stop-color="#414487"/><stop offset=".2915" stop-color="#433d84"/><stop offset=".3000" stop-color="#423f85"/><stop offset=".3085" stop-color="#3a538b"/><stop offset=".3128" stop-color="#433e85"/><stop offset=".3170" stop-color="#3d4e8a"/><stop offset=".3298" stop-color="#3b518b"/><stop offset=".3340" stop-color="#3f4788"/><stop offset=".3383" stop-color="#3e4989"/><stop offset=".3426" stop-color="#375b8d"/><stop offset=".3468" stop-color="#414487"/><stop offset=".3511" stop-color="#375a8c"/><stop offset=".3596" stop-color="#3c4f8a"/><stop offset=".3681" stop-color="#34618d"/><stop offset=".3723" stop-color="#3a548c"/><stop offset=".3766" stop-color="#34618d"/><stop offset=".3809" stop-color="#32648e"/><stop offset=".3851" stop-color="#3c4f8a"/><stop offset=".3894" stop-color="#38598c"/><stop offset=".3936" stop-color="#2e6d8e"/><stop offset=".3979" stop-color="#2e6f8e"/><stop offset=".4021" stop-color="#297a8e"/><stop offset=".4064" stop-color="#31668e"/><stop offset=".4191" stop-color="#277f8e"/><stop offset=".4234" stop-color="#238a8d"/><stop offset=".4277" stop-color="#2a788e"/><stop offset=".4319" stop-color="#287c8e"/><stop offset=".4362" stop-color="#2b748e"/><stop offset=".4404" stop-color="#2a788e"/><stop offset=".4447" stop-color="#2f6b8e"/><stop offset=".4532" stop-color="#287c8e"/><stop offset=".4660" stop-color="#287c8e"/><stop offset=".4787" stop-color="#21918c"/><stop offset=".4830" stop-color="#21a685"/><stop offset=".4872" stop-color="#20a386"/><stop offset=".4957" stop-color="#2cb17e"/><stop offset=".5000" stop-color="#2cb17e"/><stop offset=".5085" stop-color="#1fa287"/><stop offset=".5128" stop-color="#21a585"/><stop offset=".5170" stop-color="#20928c"/><stop offset=".5213" stop-color="#1f948c"/><stop offset=".5255" stop-color="#26818e"/><stop offset=".5298" stop-color="#228c8d"/><stop offset=".5383" stop-color="#228d8d"/><stop offset=".5426" stop-color="#287c8e"/><stop offset=".5468" stop-color="#24878e"/><stop offset=".5511" stop-color="#287d8e"/><stop offset=".5553" stop-color="#29798e"/><stop offset=".5596" stop-color="#26828e"/><stop offset=".5638" stop-color="#297a8e"/><stop offset=".5681" stop-color="#287d8e"/><stop offset=".5723" stop-color="#2a788e"/><stop offset=".5766" stop-color="#277f8e"/><stop offset=".5809" stop-color="#2c718e"/><stop offset=".5851" stop-color="#2c728e"/><stop offset=".5894" stop-color="#26828e"/><stop offset=".5936" stop-color="#287d8e"/><stop offset=".5979" stop-color="#2d718e"/><stop offset=".6021" stop-color="#277e8e"/><stop offset=".6064" stop-color="#2a768e"/><stop offset=".6149" stop-color="#25838e"/><stop offset=".6234" stop-color="#2b758e"/><stop offset=".6277" stop-color="#33638d"/><stop offset=".6362" stop-color="#33638d"/><stop offset=".6447" stop-color="#39558c"/><stop offset=".6489" stop-color="#355f8d"/><stop offset=".6532" stop-color="#39558c"/><stop offset=".6660" stop-color="#3e4989"/><stop offset=".6702" stop-color="#3b518b"/><stop offset=".6745" stop-color="#3f4788"/><stop offset=".6787" stop-color="#3d4d8a"/><stop offset=".6830" stop-color="#423f85"/><stop offset=".6872" stop-color="#3d4e8a"/><stop offset=".6915" stop-color="#443b84"/><stop offset=".6957" stop-color="#423f85"/><stop offset=".7043" stop-color="#463480"/><stop offset=".7128" stop-color="#414287"/><stop offset=".7213" stop-color="#443b84"/><stop offset=".7255" stop-color="#472f7d"/><stop offset=".7298" stop-color="#443b84"/><stop offset=".7340" stop-color="#472d7b"/><stop offset=".7426" stop-color="#463480"/><stop offset=".7468" stop-color="#424186"/><stop offset=".7511" stop-color="#472f7d"/><stop offset=".7553" stop-color="#443b84"/><stop offset=".7596" stop-color="#482173"/><stop offset=".7638" stop-color="#482475"/><stop offset=".7681" stop-color="#453581"/><stop offset=".7809" stop-color="#481d6f"/><stop offset=".7851" stop-color="#472f7d"/><stop offset=".7936" stop-color="#472a7a"/><stop offset=".7979" stop-color="#46307e"/><stop offset=".8021" stop-color="#472c7a"/><stop offset=".8064" stop-color="#453781"/><stop offset=".8106" stop-color="#482475"/><stop offset=".8149" stop-color="#46337f"/><stop offset=".8191" stop-color="#482576"/><stop offset=".8447" stop-color="#463480"/><stop offset=".8617" stop-color="#46327e"/><stop offset=".8660" stop-color="#482878"/><stop offset=".8702" stop-color="#472c7a"/><stop offset=".8745" stop-color="#481d6f"/><stop offset=".8787" stop-color="#453882"/><stop offset=".8830" stop-color="#482979"/><stop offset=".8872" stop-color="#472d7b"/><stop offset=".8915" stop-color="#433d84"/><stop offset=".8957" stop-color="#472a7a"/><stop offset=".9000" stop-color="#482374"/><stop offset=".9085" stop-color="#46327e"/><stop offset=".9128" stop-color="#472c7a"/><stop offset=".9213" stop-color="#46327e"/><stop offset=".9298" stop-color="#482173"/><stop offset=".9340" stop-color="#472d7b"/><stop offset=".9553" stop-color="#472c7a"/><stop offset=".9596" stop-color="#482576"/><stop offset=".9638" stop-color="#482979"/><stop offset=".9681" stop-color="#481d6f"/><stop offset=".9851" stop-color="#443983"/><stop offset=".9894" stop-color="#46307e"/><stop offset=".9936" stop-color="#481f70"/><stop offset=".9979" stop-color="#472e7c"/></linearGradient>
<linearGradient id="g29" x1="0" x2="1" y1="0" y2="0"><stop offset=".0021" stop-color="#482979"/><stop offset=".0064" stop-color="#453781"/><stop offset=".0149" stop-color="#482878"/><stop offset=".0191" stop-color="#472f7d"/><stop offset=".0277" stop-color="#482979"/><stop offset=".0319" stop-color="#46307e"/><stop offset=".0404" stop-color="#482979"/><stop offset=".0447" stop-color="#46337f"/><stop offset=".0489" stop-color="#472d7b"/><stop offset=".0532" stop-color="#481c6e"/><stop offset=".0574" stop-color="#472c7a"/><stop offset=".0660" stop-color="#453581"/><stop offset=".0702" stop-color="#472a7a"/><stop offset=".0745" stop-color="#463480"/><stop offset=".0787" stop-color="#453581"/><stop offset=".0830" stop-color="#482878"/><stop offset=".0915" stop-color="#472c7a"/><stop offset=".0957" stop-color="#453581"/><stop offset=".1043" stop-color="#46327e"/><stop offset=".1085" stop-color="#482979"/><stop offset=".1170" stop-color="#443983"/><stop offset=".1213" stop-color="#482576"/><stop offset=".1255" stop-color="#46307e"/><stop offset=".1340" stop-color="#463480"/><stop offset=".1383" stop-color="#423f85"/><stop offset=".1468" stop-color="#453882"/><stop offset=".1553" stop-color="#472c7a"/><stop offset=".1681" stop-color="#433d84"/><stop offset=".1766" stop-color="#463480"/><stop offset=".1851" stop-color="#433d84"/><stop offset=".1894" stop-color="#482979"/><stop offset=".1936" stop-color="#443983"/><stop offset=".2064" stop-color="#443983"/><stop offset=".2106" stop-color="#472d7b"/><stop offset=".2149" stop-color="#414487"/><stop offset=".2191" stop-color="#472e7c"/><stop offset=".2234" stop-color="#453882"/><stop offset=".2277" stop-color="#472f7d"/><stop offset=".2319" stop-color="#433d84"/><stop offset=".2362" stop-color="#424086"/><stop offset=".2489" stop-color="#453781"/><stop offset=".2574" stop-color="#453781"/><stop offset=".2617" stop-color="#433e85"/><stop offset=".2745" stop-color="#443a83"/><stop offset=".2830" stop-color="#404688"/><stop offset=".2872" stop-color="#453882"/><stop offset=".2915" stop-color="#3e4989"/><stop offset=".3128" stop-color="#3f4889"/><stop offset=".3213" stop-color="#3b518b"/><stop offset=".3255" stop-color="#365c8d"/><stop offset=".3298" stop-color="#3c4f8a"/><stop offset=".3340" stop-color="#3f4889"/><stop offset=".3426" stop-color="#3a538b"/><stop offset=".3468" stop-color="#3e4989"/><stop offset=".3511" stop-color="#365d8d"/><stop offset=".3553" stop-color="#3a538b"/><stop offset=".3681" stop-color="#34618d"/><stop offset=".3723" stop-color="#38588c"/><stop offset=".3766" stop-color="#34608d"/><stop offset=".3809" stop-color="#355e8d"/><stop offset=".3851" stop-color="#31678e"/><stop offset=".3894" stop-color="#365d8d"/><stop offset=".3979" stop-color="#2c738e"/><stop offset=".4064" stop-color="#287c8e"/><stop offset=".4106" stop-color="#2b758e"/><stop offset=".4149" stop-color="#2b758e"/><stop offset=".4191" stop-color="#27808e"/><stop offset=".4234" stop-color="#287c8e"/><stop offset=".4277" stop-color="#25858e"/><stop offset=".4362" stop-color="#2b758e"/><stop offset=".4447" stop-color="#297a8e"/><stop offset=".4489" stop-color="#26828e"/><stop offset=".4532" stop-color="#2a788e"/><stop offset=".4574" stop-color="#27808e"/><stop offset=".4617" stop-color="#287d8e"/><stop offset=".4660" stop-color="#228c8d"/><stop offset=".4702" stop-color="#238a8d"/><stop offset=".4745" stop-color="#1f968b"/><stop offset=".4830" stop-color="#22a785"/><stop offset=".4872" stop-color="#37b878"/><stop offset=".4915" stop-color="#3dbc74"/><stop offset=".4957" stop-color="#34b679"/><stop offset=".5043" stop-color="#32b67a"/><stop offset=".5085" stop-color="#21a685"/><stop offset=".5128" stop-color="#20a486"/><stop offset=".5170" stop-color="#1f968b"/><stop offset=".5255" stop-color="#20928c"/><stop offset=".5298" stop-color="#27808e"/><stop offset=".5340" stop-color="#21918c"/><stop offset=".5383" stop-color="#20928c"/><stop offset=".5426" stop-color="#1f998a"/><stop offset=".5468" stop-color="#238a8d"/><stop offset=".5511" stop-color="#228c8d"/><stop offset=".5553" stop-color="#24868e"/><stop offset=".5596" stop-color="#228c8d"/><stop offset=".5681" stop-color="#25838e"/><stop offset=".5723" stop-color="#238a8d"/><stop offset=".5766" stop-color="#23898e"/><stop offset=".5809" stop-color="#26818e"/><stop offset=".5851" stop-color="#218f8d"/><stop offset=".5894" stop-color="#26828e"/><stop offset=".5979" stop-color="#277e8e"/><stop offset=".6064" stop-color="#27808e"/><stop offset=".6149" stop-color="#2d718e"/><stop offset=".6234" stop-color="#287d8e"/><stop offset=".6277" stop-color="#31668e"/><stop offset=".6319" stop-color="#34608d"/><stop offset=".6404" stop-color="#33638d"/><stop offset=".6447" stop-color="#375a8c"/><stop offset=".6489" stop-color="#32648e"/><stop offset=".6532" stop-color="#365d8d"/><stop offset=".6574" stop-color="#32658e"/><stop offset=".6702" stop-color="#375a8c"/><stop offset=".6745" stop-color="#34608d"/><stop offset=".6787" stop-color="#375b8d"/><stop offset=".6830" stop-color="#355e8d"/><stop offset=".6872" stop-color="#3f4788"/><stop offset=".6915" stop-color="#3c4f8a"/><stop offset=".7043" stop-color="#424186"/><stop offset=".7085" stop-color="#3e4a89"/><stop offset=".7213" stop-color="#404688"/><stop offset=".7298" stop-color="#433d84"/><stop offset=".7340" stop-color="#404688"/><stop offset=".7426" stop-color="#433d84"/><stop offset=".7468" stop-color="#46307e"/><stop offset=".7553" stop-color="#443983"/><stop offset=".7596" stop-color="#46307e"/><stop offset=".7723" stop-color="#46337f"/><stop offset=".7766" stop-color="#482878"/><stop offset=".7809" stop-color="#453781"/><stop offset=".7979" stop-color="#472a7a"/><stop offset=".8021" stop-color="#443a83"/><stop offset=".8064" stop-color="#453581"/><stop offset=".8106" stop-color="#443983"/><stop offset=".8191" stop-color="#46327e"/><stop offset=".8234" stop-color="#46337f"/><stop offset=".8277" stop-color="#424186"/><stop offset=".8362" stop-color="#472e7c"/><stop offset=".8404" stop-color="#443983"/><stop offset=".8447" stop-color="#472e7c"/><stop offset=".8489" stop-color="#46337f"/><stop offset=".8574" stop-color="#46307e"/><stop offset=".8617" stop-color="#453781"/><stop offset=".8660" stop-color="#472e7c"/><stop offset=".8702" stop-color="#46327e"/><stop offset=".8787" stop-color="#482374"/><stop offset=".8830" stop-color="#482677"/><stop offset=".8915" stop-color="#453781"/><stop offset=".9043" stop-color="#482979"/><stop offset=".9085" stop-color="#472e7c"/><stop offset=".9128" stop-color="#443a83"/><stop offset=".9213" stop-color="#482979"/><stop offset=".9340" stop-color="#46307e"/><stop offset=".9383" stop-color="#472a7a"/><stop offset=".9468" stop-color="#463480"/><stop offset=".9511" stop-color="#482475"/><stop offset=".9553" stop-color="#453581"/><stop offset=".9596" stop-color="#472d7b"/><stop offset=".9638" stop-color="#46327e"/><stop offset=".9681" stop-color="#472a7a"/><stop offset=".9723" stop-color="#46307e"/><stop offset=".9766" stop-color="#481d6f"/><stop offset=".9894" stop-color="#423f85"/><stop offset=".9936" stop-color="#472f7d"/><stop offset=".9979" stop-color="#472d7b"/></linearGradient>
<linearGradient id="g30" x1="0" x2="1" y1="0" y2="0"><stop offset=".0021" stop-color="#453882"/><stop offset=".0064" stop-color="#472a7a"/><stop offset=".0149" stop-color="#453781"/><stop offset=".0234" stop-color="#443983"/><stop offset=".0277" stop-color="#472d7b"/><stop offset=".0319" stop-color="#472d7b"/><stop offset=".0362" stop-color="#453781"/><stop offset=".0447" stop-color="#463480"/><stop offset=".0489" stop-color="#482576"/><stop offset=".0574" stop-color="#423f85"/><stop offset=".0617" stop-color="#46327e"/><stop offset=".0745" stop-color="#453581"/><stop offset=".0787" stop-color="#472d7b"/><stop offset=".0915" stop-color="#46307e"/><stop offset=".1043" stop-color="#424086"/><stop offset=".1128" stop-color="#472d7b"/><stop offset=".1213" stop-color="#453781"/><stop offset=".1255" stop-color="#472f7d"/><stop offset=".1298" stop-color="#453581"/><stop offset=".1468" stop-color="#472f7d"/><stop offset=".1511" stop-color="#443983"/><stop offset=".1596" stop-color="#472e7c"/><stop offset=".1638" stop-color="#453882"/><stop offset=".1681" stop-color="#46337f"/><stop offset=".1766" stop-color="#423f85"/><stop offset=".1851" stop-color="#472f7d"/><stop offset=".1894" stop-color="#463480"/><stop offset=".1936" stop-color="#472e7c"/><stop offset=".1979" stop-color="#453882"/><stop offset=".2021" stop-color="#463480"/><stop offset=".2064" stop-color="#414487"/><stop offset=".2106" stop-color="#472f7d"/><stop offset=".2191" stop-color="#463480"/><stop offset=".2234" stop-color="#433e85"/><stop offset=".2319" stop-color="#443a83"/><stop offset=".2362" stop-color="#3f4889"/><stop offset=".2404" stop-color="#404588"/><stop offset=".2447" stop-color="#472f7d"/><stop offset=".2489" stop-color="#443a83"/><stop offset=".2574" stop-color="#424186"/><stop offset=".2617" stop-color="#3c4f8a"/><stop offset=".2660" stop-color="#424086"/><stop offset=".2745" stop-color="#423f85"/><stop offset=".3000" stop-color="#3b518b"/><stop offset=".3043" stop-color="#38598c"/><stop offset=".3170" stop-color="#3d4d8a"/><stop offset=".3213" stop-color="#375a8c"/><stop offset=".3298" stop-color="#3a538b"/><stop offset=".3340" stop-color="#365c8d"/><stop offset=".3383" stop-color="#375a8c"/><stop offset=".3426" stop-color="#355e8d"/><stop offset=".3468" stop-color="#39558c"/><stop offset=".3511" stop-color="#38598c"/><stop offset=".3553" stop-color="#2e6d8e"/><stop offset=".3638" stop-color="#33628d"/><stop offset=".3723" stop-color="#2e6e8e"/><stop offset=".3766" stop-color="#306a8e"/><stop offset=".3809" stop-color="#2c718e"/><stop offset=".3851" stop-color="#32648e"/><stop offset=".3979" stop-color="#2c728e"/><stop offset=".4021" stop-color="#2d718e"/><stop offset=".4064" stop-color="#29798e"/><stop offset=".4106" stop-color="#30698e"/><stop offset=".4149" stop-color="#29798e"/><stop offset=".4191" stop-color="#2c728e"/><stop offset=".4319" stop-color="#287d8e"/><stop offset=".4362" stop-color="#2a778e"/><stop offset=".4404" stop-color="#297a8e"/><stop offset=".4447" stop-color="#26828e"/><stop offset=".4489" stop-color="#25838e"/><stop offset=".4532" stop-color="#2d708e"/><stop offset=".4574" stop-color="#277f8e"/><stop offset=".4617" stop-color="#287d8e"/><stop offset=".4660" stop-color="#24878e"/><stop offset=".4702" stop-color="#1f988b"/><stop offset=".4745" stop-color="#1f9a8a"/><stop offset=".4787" stop-color="#21918c"/><stop offset=".4830" stop-color="#20a386"/><stop offset=".4915" stop-color="#42be71"/><stop offset=".4957" stop-color="#3bbb75"/><stop offset=".5000" stop-color="#52c569"/><stop offset=".5170" stop-color="#1f9e89"/><stop offset=".5213" stop-color="#23898e"/><stop offset=".5340" stop-color="#26828e"/><stop offset=".5383" stop-color="#297a8e"/><stop offset=".5426" stop-color="#25838e"/><stop offset=".5468" stop-color="#26818e"/><stop offset=".5511" stop-color="#25858e"/><stop offset=".5553" stop-color="#297b8e"/><stop offset=".5596" stop-color="#26828e"/><stop offset=".5638" stop-color="#287d8e"/><stop offset=".5723" stop-color="#24878e"/><stop offset=".5766" stop-color="#287d8e"/><stop offset=".5851" stop-color="#27808e"/><stop offset=".5936" stop-color="#27808e"/><stop offset=".6021" stop-color="#2e6e8e"/><stop offset=".6064" stop-color="#297a8e"/><stop offset=".6106" stop-color="#277f8e"/><stop offset=".6149" stop-color="#2c728e"/><stop offset=".6191" stop-color="#287c8e"/><stop offset=".6234" stop-color="#31688e"/><stop offset=".6277" stop-color="#29798e"/><stop offset=".6319" stop-color="#31668e"/><stop offset=".6489" stop-color="#365c8d"/><stop offset=".6532" stop-color="#355e8d"/><stop offset=".6617" stop-color="#3d4e8a"/><stop offset=".6702" stop-color="#38598c"/><stop offset=".6745" stop-color="#3e4c8a"/><stop offset=".6787" stop-color="#404688"/><stop offset=".6872" stop-color="#3e4c8a"/><stop offset=".6957" stop-color="#3e4c8a"/><stop offset=".7000" stop-color="#424186"/><stop offset=".7085" stop-color="#404688"/><stop offset=".7128" stop-color="#443b84"/><stop offset=".7170" stop-color="#3e4a89"/><stop offset=".7255" stop-color="#453581"/><stop offset=".7298" stop-color="#443b84"/><stop offset=".7340" stop-color="#463480"/><stop offset=".7426" stop-color="#414487"/><stop offset=".7468" stop-color="#453781"/><stop offset=".7638" stop-color="#453781"/><stop offset=".7681" stop-color="#472c7a"/><stop offset=".7766" stop-color="#443983"/><stop offset=".7809" stop-color="#453581"/><stop offset=".7851" stop-color="#482979"/><stop offset=".7936" stop-color="#423f85"/><stop offset=".8021" stop-color="#46327e"/><stop offset=".8106" stop-color="#46307e"/><stop offset=".8149" stop-color="#453882"/><stop offset=".8277" stop-color="#472a7a"/><stop offset=".8362" stop-color="#453781"/><stop offset=".8404" stop-color="#482979"/><stop offset=".8447" stop-color="#472f7d"/><stop offset=".8489" stop-color="#424186"/><stop offset=".8617" stop-color="#482677"/><stop offset=".8660" stop-color="#472d7b"/><stop offset=".8702" stop-color="#472c7a"/><stop offset=".8745" stop-color="#453882"/><stop offset=".8830" stop-color="#443b84"/><stop offset=".8872" stop-color="#482475"/><stop offset=".8915" stop-color="#443a83"/><stop offset=".8957" stop-color="#46307e"/><stop offset=".9000" stop-color="#453581"/><stop offset=".9043" stop-color="#472e7c"/><stop offset=".9085" stop-color="#453781"/><stop offset=".9128" stop-color="#472c7a"/><stop offset=".9170" stop-color="#443a83"/><stop offset=".9255" stop-color="#482677"/><stop offset=".9298" stop-color="#463480"/><stop offset=".9383" stop-color="#482576"/><stop offset=".9426" stop-color="#423f85"/><stop offset=".9468" stop-color="#443b84"/><stop offset=".9511" stop-color="#472a7a"/><stop offset=".9596" stop-color="#46337f"/><stop offset=".9681" stop-color="#482576"/><stop offset=".9723" stop-color="#433d84"/><stop offset=".9809" stop-color="#472f7d"/><stop offset=".9851" stop-color="#453882"/><stop offset=".9936" stop-color="#46307e"/><stop offset=".9979" stop-color="#443983"/></linearGradient>
<linearGradient id="g31" x1="0" x2="1" y1="0" y2="0"><stop offset=".0021" stop-color="#472e7c"/><stop offset=".0064" stop-color="#46327e"/><stop offset=".0106" stop-color="#482071"/><stop offset=".0234" stop-color="#463480"/><stop offset=".0277" stop-color="#472f7d"/><stop offset=".0319" stop-color="#453781"/><stop offset=".0362" stop-color="#46307e"/><stop offset=".0404" stop-color="#46337f"/><stop offset=".0447" stop-color="#472a7a"/><stop offset=".0489" stop-color="#46327e"/><stop offset=".0532" stop-color="#472c7a"/><stop offset=".0574" stop-color="#443983"/><stop offset=".0745" stop-color="#472f7d"/><stop offset=".0787" stop-color="#482576"/><stop offset=".0915" stop-color="#46327e"/><stop offset=".0957" stop-color="#433d84"/><stop offset=".1000" stop-color="#46307e"/><stop offset=".1085" stop-color="#46327e"/><stop offset=".1128" stop-color="#472c7a"/><stop offset=".1170" stop-color="#463480"/><stop offset=".1255" stop-color="#443a83"/><stop offset=".1340" stop-color="#472a7a"/><stop offset=".1468" stop-color="#453882"/><stop offset=".1553" stop-color="#472c7a"/><stop offset=".1596" stop-color="#46307e"/><stop offset=".1638" stop-color="#472a7a"/><stop offset=".1681" stop-color="#443a83"/><stop offset=".1723" stop-color="#46337f"/><stop offset=".1766" stop-color="#443983"/><stop offset=".1809" stop-color="#482071"/><stop offset=".1851" stop-color="#46307e"/><stop offset=".2021" stop-color="#423f85"/><stop offset=".2064" stop-color="#433d84"/><stop offset=".2106" stop-color="#472f7d"/><stop offset=".2149" stop-color="#46327e"/><stop offset=".2191" stop-color="#414287"/><stop offset=".2234" stop-color="#472d7b"/><stop offset=".2319" stop-color="#433e85"/><stop offset=".2447" stop-color="#424186"/><stop offset=".2532" stop-color="#424086"/><stop offset=".2574" stop-color="#414287"/><stop offset=".2617" stop-color="#463480"/><stop offset=".2660" stop-color="#3e4989"/><stop offset=".2702" stop-color="#433d84"/><stop offset=".2745" stop-color="#3e4c8a"/><stop offset=".2787" stop-color="#433e85"/><stop offset=".2830" stop-color="#3c4f8a"/><stop offset=".2872" stop-color="#433d84"/><stop offset=".2915" stop-color="#3d4d8a"/><stop offset=".2957" stop-color="#39558c"/><stop offset=".3000" stop-color="#433e85"/><stop offset=".3043" stop-color="#443983"/><stop offset=".3085" stop-color="#3e4a89"/><stop offset=".3128" stop-color="#3c508b"/><stop offset=".3170" stop-color="#404688"/><stop offset=".3213" stop-color="#365c8d"/><stop offset=".3255" stop-color="#3d4e8a"/><stop offset=".3340" stop-color="#355e8d"/><stop offset=".3383" stop-color="#375b8d"/><stop offset=".3426" stop-color="#3c4f8a"/><stop offset=".3468" stop-color="#355f8d"/><stop offset=".3681" stop-color="#33638d"/><stop offset=".3723" stop-color="#365d8d"/><stop offset=".3766" stop-color="#2f6b8e"/><stop offset=".3851" stop-color="#32648e"/><stop offset=".3894" stop-color="#2e6f8e"/><stop offset=".3936" stop-color="#2f6b8e"/><stop offset=".4064" stop-color="#2c718e"/><stop offset=".4106" stop-color="#31678e"/><stop offset=".4149" stop-color="#33628d"/><stop offset=".4191" stop-color="#2d708e"/><stop offset=".4234" stop-color="#2e6d8e"/><stop offset=".4319" stop-color="#2b748e"/><stop offset=".4362" stop-color="#2c718e"/><stop offset=".4404" stop-color="#297a8e"/><stop offset=".4447" stop-color="#2d708e"/><stop offset=".4489" stop-color="#2e6f8e"/><stop offset=".4532" stop-color="#297b8e"/><stop offset=".4574" stop-color="#287d8e"/><stop offset=".4617" stop-color="#2c738e"/><stop offset=".4660" stop-color="#287d8e"/><stop offset=".4702" stop-color="#228d8d"/><stop offset=".4745" stop-color="#218f8d"/><stop offset=".4787" stop-color="#28ae80"/><stop offset=".4830" stop-color="#48c16e"/><stop offset=".4872" stop-color="#38b977"/><stop offset=".4915" stop-color="#58c765"/><stop offset=".4957" stop-color="#22a785"/><stop offset=".5043" stop-color="#23a983"/><stop offset=".5085" stop-color="#1f9f88"/><stop offset=".5128" stop-color="#22a785"/><stop offset=".5170" stop-color="#218e8d"/><stop offset=".5255" stop-color="#26828e"/><stop offset=".5298" stop-color="#26818e"/><stop offset=".5383" stop-color="#2e6e8e"/><stop offset=".5426" stop-color="#2a788e"/><stop offset=".5468" stop-color="#31688e"/><stop offset=".5511" stop-color="#2f6b8e"/><stop offset=".5553" stop-color="#2b758e"/><stop offset=".5596" stop-color="#2f6c8e"/><stop offset=".5638" stop-color="#2e6d8e"/><stop offset=".5681" stop-color="#2b758e"/><stop offset=".5766" stop-color="#31668e"/><stop offset=".5851" stop-color="#30698e"/><stop offset=".5894" stop-color="#2b748e"/><stop offset=".5936" stop-color="#2f6c8e"/><stop offset=".6021" stop-color="#2e6e8e"/><stop offset=".6064" stop-color="#355f8d"/><stop offset=".6106" stop-color="#2c728e"/><stop offset=".6149" stop-color="#33638d"/><stop offset=".6191" stop-color="#2e6d8e"/><stop offset=".6234" stop-color="#34608d"/><stop offset=".6277" stop-color="#306a8e"/><stop offset=".6404" stop-color="#375a8c"/><stop offset=".6489" stop-color="#3a548c"/><stop offset=".6574" stop-color="#39568c"/><stop offset=".6660" stop-color="#3e4989"/><stop offset=".6702" stop-color="#3d4e8a"/><stop offset=".6745" stop-color="#414487"/><stop offset=".6872" stop-color="#3e4a89"/><stop offset=".6915" stop-color="#3e4989"/><stop offset=".6957" stop-color="#453882"/><stop offset=".7085" stop-color="#3e4989"/><stop offset=".7128" stop-color="#443983"/><stop offset=".7170" stop-color="#423f85"/><stop offset=".7213" stop-color="#463480"/><stop offset=".7298" stop-color="#423f85"/><stop offset=".7340" stop-color="#453581"/><stop offset=".7383" stop-color="#423f85"/><stop offset=".7426" stop-color="#46337f"/><stop offset=".7468" stop-color="#443983"/><stop offset=".7511" stop-color="#46327e"/><stop offset=".7553" stop-color="#453581"/><stop offset=".7596" stop-color="#482878"/><stop offset=".7681" stop-color="#46327e"/><stop offset=".7809" stop-color="#472e7c"/><stop offset=".7851" stop-color="#46337f"/><stop offset=".7936" stop-color="#472d7b"/><stop offset=".7979" stop-color="#46337f"/><stop offset=".8021" stop-color="#472a7a"/><stop offset=".8064" stop-color="#46307e"/><stop offset=".8106" stop-color="#472c7a"/><stop offset=".8191" stop-color="#453581"/><stop offset=".8234" stop-color="#482576"/><stop offset=".8277" stop-color="#463480"/><stop offset=".8319" stop-color="#472a7a"/><stop offset=".8404" stop-color="#46307e"/><stop offset=".8447" stop-color="#482677"/><stop offset=".8489" stop-color="#482979"/><stop offset=".8532" stop-color="#482173"/><stop offset=".8617" stop-color="#482878"/><stop offset=".8702" stop-color="#472c7a"/><stop offset=".8745" stop-color="#46307e"/><stop offset=".8787" stop-color="#482173"/><stop offset=".8872" stop-color="#482979"/><stop offset=".8915" stop-color="#414287"/><stop offset=".8957" stop-color="#472d7b"/><stop offset=".9000" stop-color="#482475"/><stop offset=".9043" stop-color="#482677"/><stop offset=".9085" stop-color="#453882"/><stop offset=".9170" stop-color="#472e7c"/><stop offset=".9213" stop-color="#46337f"/><stop offset=".9298" stop-color="#482878"/><stop offset=".9383" stop-color="#472e7c"/><stop offset=".9426" stop-color="#482173"/><stop offset=".9468" stop-color="#443983"/><stop offset=".9553" stop-color="#472a7a"/><stop offset=".9723" stop-color="#482979"/><stop offset=".9766" stop-color="#453581"/><stop offset=".9851" stop-color="#46337f"/><stop offset=".9894" stop-color="#482878"/><stop offset=".9936" stop-color="#453781"/><stop offset=".9979" stop-color="#463480"/></linearGradient>
<linearGradient id="g32" x1="0" x2="1" y1="0" y2="0"><stop offset=".0021" stop-color="#453781"/><stop offset=".0149" stop-color="#453781"/><stop offset=".0277" stop-color="#472c7a"/><stop offset=".0319" stop-color="#443a83"/><stop offset=".0362" stop-color="#472f7d"/><stop offset=".0404" stop-color="#453581"/><stop offset=".0447" stop-color="#472d7b"/><stop offset=".0489" stop-color="#472e7c"/><stop offset=".0532" stop-color="#433d84"/><stop offset=".0617" stop-color="#472e7c"/><stop offset=".0702" stop-color="#443983"/><stop offset=".0745" stop-color="#482475"/><stop offset=".0830" stop-color="#453781"/><stop offset=".0872" stop-color="#482677"/><stop offset=".1000" stop-color="#453581"/><stop offset=".1043" stop-color="#453882"/><stop offset=".1085" stop-color="#472a7a"/><stop offset=".1128" stop-color="#46307e"/><stop offset=".1170" stop-color="#472d7b"/><stop offset=".1255" stop-color="#433e85"/><stop offset=".1340" stop-color="#482677"/><stop offset=".1383" stop-color="#433d84"/><stop offset=".1426" stop-color="#472a7a"/><stop offset=".1468" stop-color="#443a83"/><stop offset=".1511" stop-color="#472f7d"/><stop offset=".1723" stop-color="#453581"/><stop offset=".1766" stop-color="#472f7d"/><stop offset=".1809" stop-color="#424186"/><stop offset=".1851" stop-color="#414287"/><stop offset=".1894" stop-color="#453882"/><stop offset=".1936" stop-color="#3f4889"/><stop offset=".1979" stop-color="#3c508b"/><stop offset=".2021" stop-color="#414487"/><stop offset=".2106" stop-color="#414287"/><stop offset=".2149" stop-color="#453581"/><stop offset=".2191" stop-color="#414487"/><stop offset=".2277" stop-color="#3b518b"/><stop offset=".2319" stop-color="#414487"/><stop offset=".2362" stop-color="#3e4a89"/><stop offset=".2404" stop-color="#423f85"/><stop offset=".2447" stop-color="#3e4c8a"/><stop offset=".2489" stop-color="#424086"/><stop offset=".2532" stop-color="#414487"/><stop offset=".2574" stop-color="#38588c"/><stop offset=".2660" stop-color="#3b528b"/><stop offset=".2702" stop-color="#3e4989"/><stop offset=".2787" stop-color="#39558c"/><stop offset=".2830" stop-color="#3a538b"/><stop offset=".2872" stop-color="#3f4788"/><stop offset=".2957" stop-color="#3b518b"/><stop offset=".3000" stop-color="#3e4989"/><stop offset=".3085" stop-color="#3f4889"/><stop offset=".3128" stop-color="#38598c"/><stop offset=".3170" stop-color="#365d8d"/><stop offset=".3213" stop-color="#3a548c"/><stop offset=".3340" stop-color="#355e8d"/><stop offset=".3383" stop-color="#3b528b"/><stop offset=".3426" stop-color="#375b8d"/><stop offset=".3468" stop-color="#38598c"/><stop offset=".3511" stop-color="#355f8d"/><stop offset=".3596" stop-color="#355e8d"/><stop offset=".3681" stop-color="#30698e"/><stop offset=".3723" stop-color="#375b8d"/><stop offset=".3809" stop-color="#365c8d"/><stop offset=".3851" stop-color="#30698e"/><stop offset=".3894" stop-color="#375b8d"/><stop offset=".3936" stop-color="#32648e"/><stop offset=".4064" stop-color="#355f8d"/><stop offset=".4106" stop-color="#2c738e"/><stop offset=".4149" stop-color="#32648e"/><stop offset=".4277" stop-color="#355e8d"/><stop offset=".4319" stop-color="#34618d"/><stop offset=".4362" stop-color="#375b8d"/><stop offset=".4404" stop-color="#365c8d"/><stop offset=".4447" stop-color="#31678e"/><stop offset=".4489" stop-color="#34618d"/><stop offset=".4574" stop-color="#306a8e"/><stop offset=".4617" stop-color="#27808e"/><stop offset=".4660" stop-color="#2a778e"/><stop offset=".4745" stop-color="#287d8e"/><stop offset=".4787" stop-color="#2a778e"/><stop offset=".4830" stop-color="#2a778e"/><stop offset=".4872" stop-color="#25838e"/><stop offset=".4915" stop-color="#24878e"/><stop offset=".5000" stop-color="#27808e"/><stop offset=".5043" stop-color="#2c738e"/><stop offset=".5128" stop-color="#297a8e"/><stop offset=".5170" stop-color="#1e9d89"/><stop offset=".5213" stop-color="#25838e"/><stop offset=".5340" stop-color="#297a8e"/><stop offset=".5383" stop-color="#2c718e"/><stop offset=".5468" stop-color="#2d708e"/><stop offset=".5511" stop-color="#30698e"/><stop offset=".5553" stop-color="#2c738e"/><stop offset=".5596" stop-color="#2f6b8e"/><stop offset=".5638" stop-color="#2b758e"/><stop offset=".5681" stop-color="#2c728e"/><stop offset=".5766" stop-color="#297b8e"/><stop offset=".5851" stop-color="#2c718e"/><stop offset=".5936" stop-color="#33638d"/><stop offset=".5979" stop-color="#2c718e"/><stop offset=".6021" stop-color="#30698e"/><stop offset=".6064" stop-color="#31678e"/><stop offset=".6106" stop-color="#2d718e"/><stop offset=".6149" stop-color="#34618d"/><stop offset=".6191" stop-color="#306a8e"/><stop offset=".6234" stop-color="#306a8e"/><stop offset=".6277" stop-color="#375b8d"/><stop offset=".6319" stop-color="#31668e"/><stop offset=".6404" stop-color="#31688e"/><stop offset=".6447" stop-color="#355e8d"/><stop offset=".6489" stop-color="#34618d"/><stop offset=".6532" stop-color="#365c8d"/><stop offset=".6574" stop-color="#34618d"/><stop offset=".6660" stop-color="#3e4989"/><stop offset=".6702" stop-color="#3c508b"/><stop offset=".6745" stop-color="#3d4e8a"/><stop offset=".6787" stop-color="#3a538b"/><stop offset=".6872" stop-color="#443a83"/><stop offset=".6957" stop-color="#443b84"/><stop offset=".7000" stop-color="#3d4e8a"/><stop offset=".7043" stop-color="#46327e"/><stop offset=".7128" stop-color="#404588"/><stop offset=".7255" stop-color="#433d84"/><stop offset=".7298" stop-color="#414287"/><stop offset=".7340" stop-color="#453882"/><stop offset=".7426" stop-color="#443a83"/><stop offset=".7468" stop-color="#3e4c8a"/><stop offset=".7511" stop-color="#453581"/><stop offset=".7553" stop-color="#433e85"/><stop offset=".7638" stop-color="#46307e"/><stop offset=".7723" stop-color="#433d84"/><stop offset=".7766" stop-color="#46327e"/><stop offset=".7809" stop-color="#472e7c"/><stop offset=".7851" stop-color="#443b84"/><stop offset=".7894" stop-color="#443983"/><stop offset=".7936" stop-color="#482576"/><stop offset=".7979" stop-color="#433d84"/><stop offset=".8064" stop-color="#472d7b"/><stop offset=".8191" stop-color="#46327e"/><stop offset=".8234" stop-color="#443983"/><stop offset=".8319" stop-color="#482374"/><stop offset=".8362" stop-color="#453781"/><stop offset=".8404" stop-color="#472a7a"/><stop offset=".8447" stop-color="#453581"/><stop offset=".8489" stop-color="#453781"/><stop offset=".8532" stop-color="#472c7a"/><stop offset=".8574" stop-color="#443a83"/><stop offset=".8617" stop-color="#46307e"/><stop offset=".8702" stop-color="#472c7a"/><stop offset=".8745" stop-color="#453882"/><stop offset=".8787" stop-color="#482878"/><stop offset=".8830" stop-color="#453882"/><stop offset=".9043" stop-color="#472c7a"/><stop offset=".9085" stop-color="#443b84"/><stop offset=".9128" stop-color="#472a7a"/><stop offset=".9298" stop-color="#472f7d"/><stop offset=".9340" stop-color="#482878"/><stop offset=".9468" stop-color="#443a83"/><stop offset=".9511" stop-color="#482576"/><stop offset=".9596" stop-color="#453882"/><stop offset=".9681" stop-color="#482475"/><stop offset=".9723" stop-color="#46337f"/><stop offset=".9766" stop-color="#482677"/><stop offset=".9936" stop-color="#443a83"/><stop offset=".9979" stop-color="#46327e"/></linearGradient>
<linearGradient id="g33" x1="0" x2="1" y1="0" y2="0"><stop offset=".0021" stop-color="#482576"/><stop offset=".0106" stop-color="#443a83"/><stop offset=".0149" stop-color="#453781"/><stop offset=".0191" stop-color="#482677"/><stop offset=".0234" stop-color="#46337f"/><stop offset=".0277" stop-color="#482374"/><stop offset=".0319" stop-color="#46327e"/><stop offset=".0362" stop-color="#472e7c"/><stop offset=".0404" stop-color="#443983"/><stop offset=".0447" stop-color="#443983"/><stop offset=".0489" stop-color="#472d7b"/><stop offset=".0574" stop-color="#472e7c"/><stop offset=".0660" stop-color="#472c7a"/><stop offset=".0702" stop-color="#433d84"/><stop offset=".0745" stop-color="#423f85"/><stop offset=".0787" stop-color="#46307e"/><stop offset=".0830" stop-color="#482979"/><stop offset=".0915" stop-color="#443a83"/><stop offset=".0957" stop-color="#472e7c"/><stop offset=".1043" stop-color="#453781"/><stop offset=".1085" stop-color="#472e7c"/><stop offset=".1128" stop-color="#443b84"/><stop offset=".1213" stop-color="#472d7b"/><stop offset=".1255" stop-color="#463480"/><stop offset=".1340" stop-color="#472e7c"/><stop offset=".1383" stop-color="#433d84"/><stop offset=".1426" stop-color="#463480"/><stop offset=".1468" stop-color="#453781"/><stop offset=".1511" stop-color="#46327e"/><stop offset=".1553" stop-color="#453781"/><stop offset=".1596" stop-color="#472d7b"/><stop offset=".1638" stop-color="#443983"/><stop offset=".1681" stop-color="#472e7c"/><stop offset=".1851" stop-color="#443983"/><stop offset=".1894" stop-color="#453882"/><stop offset=".1936" stop-color="#472f7d"/><stop offset=".1979" stop-color="#453882"/><stop offset=".2021" stop-color="#463480"/><stop offset=".2064" stop-color="#424186"/><stop offset=".2234" stop-color="#443b84"/><stop offset=".2319" stop-color="#404688"/><stop offset=".2362" stop-color="#433e85"/><stop offset=".2404" stop-color="#404688"/><stop offset=".2489" stop-color="#424086"/><stop offset=".2574" stop-color="#3d4d8a"/><stop offset=".2617" stop-color="#38598c"/><stop offset=".2660" stop-color="#375b8d"/><stop offset=".2702" stop-color="#3b518b"/><stop offset=".2787" stop-color="#39568c"/><stop offset=".2830" stop-color="#33628d"/><stop offset=".2872" stop-color="#39558c"/><stop offset=".2915" stop-color="#375a8c"/><stop offset=".2957" stop-color="#3d4d8a"/><stop offset=".3000" stop-color="#34618d"/><stop offset=".3043" stop-color="#355f8d"/><stop offset=".3085" stop-color="#2d718e"/><stop offset=".3128" stop-color="#375b8d"/><stop offset=".3213" stop-color="#2f6c8e"/><stop offset=".3255" stop-color="#2f6b8e"/><stop offset=".3298" stop-color="#33628d"/><stop offset=".3426" stop-color="#2b748e"/><stop offset=".3468" stop-color="#2b748e"/><stop offset=".3511" stop-color="#297b8e"/><stop offset=".3553" stop-color="#2c718e"/><stop offset=".3596" stop-color="#2d708e"/><stop offset=".3723" stop-color="#26828e"/><stop offset=".3809" stop-color="#277f8e"/><stop offset=".3851" stop-color="#218e8d"/><stop offset=".3936" stop-color="#277e8e"/><stop offset=".3979" stop-color="#27808e"/><stop offset=".4064" stop-color="#2a778e"/><stop offset=".4149" stop-color="#23888e"/><stop offset=".4191" stop-color="#26828e"/><stop offset=".4234" stop-color="#20928c"/><stop offset=".4319" stop-color="#1f9e89"/><stop offset=".4362" stop-color="#1fa088"/><stop offset=".4404" stop-color="#26ad81"/><stop offset=".4447" stop-color="#27ad81"/><stop offset=".4532" stop-color="#21908d"/><stop offset=".4574" stop-color="#25858e"/><stop offset=".4617" stop-color="#23888e"/><stop offset=".4702" stop-color="#20a386"/><stop offset=".4745" stop-color="#81d34d"/><stop offset=".4830" stop-color="#6ece58"/><stop offset=".4872" stop-color="#34b679"/><stop offset=".4915" stop-color="#35b779"/><stop offset=".4957" stop-color="#27ad81"/><stop offset=".5000" stop-color="#35b779"/><stop offset=".5043" stop-color="#24aa83"/><stop offset=".5085" stop-color="#24aa83"/><stop offset=".5128" stop-color="#1e9d89"/><stop offset=".5170" stop-color="#1f968b"/><stop offset=".5255" stop-color="#2a768e"/><stop offset=".5340" stop-color="#31688e"/><stop offset=".5426" stop-color="#2e6e8e"/><stop offset=".5511" stop-color="#2f6b8e"/><stop offset=".5553" stop-color="#33638d"/><stop offset=".5638" stop-color="#31678e"/><stop offset=".5681" stop-color="#2d708e"/><stop offset=".5723" stop-color="#2f6c8e"/><stop offset=".5766" stop-color="#2c718e"/><stop offset=".5809" stop-color="#31688e"/><stop offset=".5851" stop-color="#306a8e"/><stop offset=".5894" stop-color="#365c8d"/><stop offset=".5936" stop-color="#34618d"/><stop offset=".5979" stop-color="#355e8d"/><stop offset=".6064" stop-color="#31678e"/><stop offset=".6106" stop-color="#355e8d"/><stop offset=".6149" stop-color="#2f6b8e"/><stop offset=".6191" stop-color="#33628d"/><stop offset=".6234" stop-color="#33628d"/><stop offset=".6277" stop-color="#375b8d"/><stop offset=".6319" stop-color="#31668e"/><stop offset=".6489" stop-color="#38588c"/><stop offset=".6532" stop-color="#3d4e8a"/><stop offset=".6574" stop-color="#38598c"/><stop offset=".6660" stop-color="#3b518b"/><stop offset=".6702" stop-color="#3a548c"/><stop offset=".6787" stop-color="#423f85"/><stop offset=".6830" stop-color="#433e85"/><stop offset=".6872" stop-color="#3c508b"/><stop offset=".6915" stop-color="#404688"/><stop offset=".7043" stop-color="#443a83"/><stop offset=".7085" stop-color="#414287"/><stop offset=".7128" stop-color="#472d7b"/><stop offset=".7213" stop-color="#423f85"/><stop offset=".7255" stop-color="#472d7b"/><stop offset=".7298" stop-color="#414487"/><stop offset=".7383" stop-color="#46337f"/><stop offset=".7426" stop-color="#433d84"/><stop offset=".7511" stop-color="#46337f"/><stop offset=".7596" stop-color="#443a83"/><stop offset=".7638" stop-color="#482979"/><stop offset=".7681" stop-color="#443b84"/><stop offset=".7723" stop-color="#482878"/><stop offset=".7766" stop-color="#433d84"/><stop offset=".7936" stop-color="#453781"/><stop offset=".8021" stop-color="#472d7b"/><stop offset=".8064" stop-color="#481d6f"/><stop offset=".8106" stop-color="#453781"/><stop offset=".8191" stop-color="#482878"/><stop offset=".8234" stop-color="#453882"/><stop offset=".8277" stop-color="#482576"/><stop offset=".8319" stop-color="#472e7c"/><stop offset=".8362" stop-color="#482878"/><stop offset=".8532" stop-color="#463480"/><stop offset=".8660" stop-color="#482878"/><stop offset=".8745" stop-color="#46337f"/><stop offset=".8787" stop-color="#482374"/><stop offset=".8872" stop-color="#443983"/><stop offset=".8915" stop-color="#453581"/><stop offset=".8957" stop-color="#443a83"/><stop offset=".9000" stop-color="#472d7b"/><stop offset=".9043" stop-color="#463480"/><stop offset=".9128" stop-color="#472e7c"/><stop offset=".9213" stop-color="#453781"/><stop offset=".9255" stop-color="#472d7b"/><stop offset=".9298" stop-color="#443b84"/><stop offset=".9340" stop-color="#482677"/><stop offset=".9426" stop-color="#443a83"/><stop offset=".9468" stop-color="#482878"/><stop offset=".9553" stop-color="#424086"/><stop offset=".9596" stop-color="#46307e"/><stop offset=".9638" stop-color="#453882"/><stop offset=".9681" stop-color="#482071"/><stop offset=".9809" stop-color="#46307e"/><stop offset=".9894" stop-color="#46337f"/><stop offset=".9936" stop-color="#443983"/><stop offset=".9979" stop-color="#46307e"/></linearGradient>
<linearGradient id="g34" x1="0" x2="1" y1="0" y2="0"><stop offset=".0021" stop-color="#472a7a"/><stop offset=".0064" stop-color="#463480"/><stop offset=".0106" stop-color="#481f70"/><stop offset=".0234" stop-color="#482878"/><stop offset=".0277" stop-color="#453781"/><stop offset=".0319" stop-color="#481c6e"/><stop offset=".0362" stop-color="#472a7a"/><stop offset=".0404" stop-color="#472f7d"/><stop offset=".0447" stop-color="#482677"/><stop offset=".0489" stop-color="#46337f"/><stop offset=".0702" stop-color="#482374"/><stop offset=".0745" stop-color="#472c7a"/><stop offset=".0787" stop-color="#481f70"/><stop offset=".0830" stop-color="#482576"/><stop offset=".0872" stop-color="#482071"/><stop offset=".1000" stop-color="#46337f"/><stop offset=".1043" stop-color="#471365"/><stop offset=".1085" stop-color="#481f70"/><stop offset=".1128" stop-color="#482374"/><stop offset=".1170" stop-color="#472e7c"/><stop offset=".1255" stop-color="#463480"/><stop offset=".1340" stop-color="#472c7a"/><stop offset=".1426" stop-color="#463480"/><stop offset=".1468" stop-color="#46307e"/><stop offset=".1511" stop-color="#482576"/><stop offset=".1681" stop-color="#453882"/><stop offset=".1723" stop-color="#482677"/><stop offset=".1766" stop-color="#453581"/><stop offset=".1809" stop-color="#482878"/><stop offset=".1851" stop-color="#46327e"/><stop offset=".1894" stop-color="#472a7a"/><stop offset=".1936" stop-color="#443983"/><stop offset=".2064" stop-color="#46337f"/><stop offset=".2106" stop-color="#472c7a"/><stop offset=".2234" stop-color="#423f85"/><stop offset=".2277" stop-color="#463480"/><stop offset=".2319" stop-color="#433e85"/><stop offset=".2362" stop-color="#433e85"/><stop offset=".2404" stop-color="#3f4788"/><stop offset=".2447" stop-color="#404588"/><stop offset=".2489" stop-color="#39568c"/><stop offset=".2532" stop-color="#404588"/><stop offset=".2574" stop-color="#3e4989"/><stop offset=".2617" stop-color="#423f85"/><stop offset=".2660" stop-color="#3e4a89"/><stop offset=".2787" stop-color="#3e4989"/><stop offset=".2830" stop-color="#3f4889"/><stop offset=".2915" stop-color="#375b8d"/><stop offset=".3000" stop-color="#38598c"/><stop offset=".3043" stop-color="#355e8d"/><stop offset=".3085" stop-color="#375a8c"/><stop offset=".3128" stop-color="#365d8d"/><stop offset=".3170" stop-color="#38588c"/><stop offset=".3255" stop-color="#34618d"/><stop offset=".3298" stop-color="#2c718e"/><stop offset=".3340" stop-color="#2f6c8e"/><stop offset=".3383" stop-color="#2b758e"/><stop offset=".3426" stop-color="#2f6b8e"/><stop offset=".3468" stop-color="#2f6c8e"/><stop offset=".3511" stop-color="#2b758e"/><stop offset=".3553" stop-color="#2f6c8e"/><stop offset=".3596" stop-color="#2d718e"/><stop offset=".3638" stop-color="#2d718e"/><stop offset=".3681" stop-color="#2a778e"/><stop offset=".3723" stop-color="#2c738e"/><stop offset=".3809" stop-color="#277f8e"/><stop offset=".3894" stop-color="#2d718e"/><stop offset=".3979" stop-color="#2a778e"/><stop offset=".4021" stop-color="#2e6f8e"/><stop offset=".4149" stop-color="#2d718e"/><stop offset=".4191" stop-color="#287d8e"/><stop offset=".4234" stop-color="#2b758e"/><stop offset=".4319" stop-color="#27808e"/><stop offset=".4362" stop-color="#20928c"/><stop offset=".4404" stop-color="#218e8d"/><stop offset=".4489" stop-color="#21a685"/><stop offset=".4574" stop-color="#1f978b"/><stop offset=".4617" stop-color="#24878e"/><stop offset=".4745" stop-color="#277f8e"/><stop offset=".4787" stop-color="#40bd72"/><stop offset=".4830" stop-color="#a2da37"/><stop offset=".4872" stop-color="#addc30"/><stop offset=".4915" stop-color="#63cb5f"/><stop offset=".4957" stop-color="#277f8e"/><stop offset=".5128" stop-color="#2c738e"/><stop offset=".5170" stop-color="#2f6b8e"/><stop offset=".5213" stop-color="#2c728e"/><stop offset=".5298" stop-color="#38588c"/><stop offset=".5383" stop-color="#375a8c"/><stop offset=".5426" stop-color="#404588"/><stop offset=".5511" stop-color="#3a548c"/><stop offset=".5596" stop-color="#3b528b"/><stop offset=".5638" stop-color="#3d4d8a"/><stop offset=".5681" stop-color="#375b8d"/><stop offset=".5723" stop-color="#3c508b"/><stop offset=".5766" stop-color="#39568c"/><stop offset=".5851" stop-color="#3a548c"/><stop offset=".5894" stop-color="#3e4a89"/><stop offset=".5979" stop-color="#3c508b"/><stop offset=".6021" stop-color="#3f4889"/><stop offset=".6191" stop-color="#3a548c"/><stop offset=".6277" stop-color="#3c508b"/><stop offset=".6319" stop-color="#3a548c"/><stop offset=".6404" stop-color="#404588"/><stop offset=".6447" stop-color="#3d4e8a"/><stop offset=".6489" stop-color="#424186"/><stop offset=".6574" stop-color="#433d84"/><stop offset=".6617" stop-color="#414487"/><stop offset=".6702" stop-color="#443b84"/><stop offset=".6745" stop-color="#46327e"/><stop offset=".6787" stop-color="#443a83"/><stop offset=".6830" stop-color="#453581"/><stop offset=".6872" stop-color="#423f85"/><stop offset=".6957" stop-color="#472c7a"/><stop offset=".7000" stop-color="#443b84"/><stop offset=".7043" stop-color="#433d84"/><stop offset=".7128" stop-color="#46337f"/><stop offset=".7213" stop-color="#46337f"/><stop offset=".7255" stop-color="#443b84"/><stop offset=".7426" stop-color="#472d7b"/><stop offset=".7511" stop-color="#453581"/><stop offset=".7553" stop-color="#472d7b"/><stop offset=".7596" stop-color="#453581"/><stop offset=".7638" stop-color="#472f7d"/><stop offset=".7681" stop-color="#424186"/><stop offset=".7723" stop-color="#46307e"/><stop offset=".7766" stop-color="#443a83"/><stop offset=".7851" stop-color="#472e7c"/><stop offset=".7894" stop-color="#482071"/><stop offset=".7979" stop-color="#463480"/><stop offset=".8064" stop-color="#472a7a"/><stop offset=".8106" stop-color="#481f70"/><stop offset=".8149" stop-color="#46307e"/><stop offset=".8277" stop-color="#482878"/><stop offset=".8362" stop-color="#443b84"/><stop offset=".8404" stop-color="#482374"/><stop offset=".8489" stop-color="#472a7a"/><stop offset=".8532" stop-color="#443983"/><stop offset=".8617" stop-color="#482878"/><stop offset=".8872" stop-color="#472c7a"/><stop offset=".8915" stop-color="#46327e"/><stop offset=".9000" stop-color="#482173"/><stop offset=".9043" stop-color="#453581"/><stop offset=".9085" stop-color="#46337f"/><stop offset=".9128" stop-color="#482677"/><stop offset=".9213" stop-color="#472c7a"/><stop offset=".9255" stop-color="#453581"/><stop offset=".9340" stop-color="#482475"/><stop offset=".9426" stop-color="#46337f"/><stop offset=".9511" stop-color="#482677"/><stop offset=".9596" stop-color="#482677"/><stop offset=".9681" stop-color="#453581"/><stop offset=".9723" stop-color="#482979"/><stop offset=".9766" stop-color="#46307e"/><stop offset=".9809" stop-color="#472a7a"/><stop offset=".9851" stop-color="#46327e"/><stop offset=".9894" stop-color="#472c7a"/><stop offset=".9936" stop-color="#46307e"/><stop offset=".9979" stop-color="#472e7c"/></linearGradient>
<linearGradient id="g35" x1="0" x2="1" y1="0" y2="0"><stop offset=".0021" stop-color="#482071"/><stop offset=".0064" stop-color="#443983"/><stop offset=".0106" stop-color="#472d7b"/><stop offset=".0191" stop-color="#472c7a"/><stop offset=".0234" stop-color="#463480"/><stop offset=".0277" stop-color="#472a7a"/><stop offset=".0319" stop-color="#472f7d"/><stop offset=".0362" stop-color="#472c7a"/><stop offset=".0404" stop-color="#46307e"/><stop offset=".0532" stop-color="#472a7a"/><stop offset=".0574" stop-color="#482374"/><stop offset=".0660" stop-color="#46337f"/><stop offset=".0745" stop-color="#472f7d"/><stop offset=".0830" stop-color="#423f85"/><stop offset=".0872" stop-color="#472f7d"/><stop offset=".1000" stop-color="#482677"/><stop offset=".1043" stop-color="#463480"/><stop offset=".1085" stop-color="#472f7d"/><stop offset=".1170" stop-color="#453781"/><stop offset=".1213" stop-color="#472a7a"/><stop offset=".1255" stop-color="#46337f"/><stop offset=".1298" stop-color="#472d7b"/><stop offset=".1340" stop-color="#463480"/><stop offset=".1383" stop-color="#472d7b"/><stop offset=".1468" stop-color="#46307e"/><stop offset=".1511" stop-color="#472c7a"/><stop offset=".1553" stop-color="#433d84"/><stop offset=".1596" stop-color="#482878"/><stop offset=".1681" stop-color="#46307e"/><stop offset=".1723" stop-color="#482979"/><stop offset=".1766" stop-color="#453581"/><stop offset=".1851" stop-color="#453781"/><stop offset=".1894" stop-color="#404588"/><stop offset=".1936" stop-color="#46327e"/><stop offset=".1979" stop-color="#414487"/><stop offset=".2021" stop-color="#404688"/><stop offset=".2106" stop-color="#463480"/><stop offset=".2191" stop-color="#414487"/><stop offset=".2234" stop-color="#453581"/><stop offset=".2277" stop-color="#404588"/><stop offset=".2319" stop-color="#423f85"/><stop offset=".2362" stop-color="#404688"/><stop offset=".2404" stop-color="#443b84"/><stop offset=".2489" stop-color="#3d4e8a"/><stop offset=".2532" stop-color="#414287"/><stop offset=".2574" stop-color="#3f4788"/><stop offset=".2617" stop-color="#38598c"/><stop offset=".2660" stop-color="#3d4d8a"/><stop offset=".2702" stop-color="#3d4e8a"/><stop offset=".2745" stop-color="#39568c"/><stop offset=".2872" stop-color="#3d4d8a"/><stop offset=".3000" stop-color="#355f8d"/><stop offset=".3043" stop-color="#365d8d"/><stop offset=".3128" stop-color="#31688e"/><stop offset=".3298" stop-color="#2f6b8e"/><stop offset=".3383" stop-color="#34608d"/><stop offset=".3468" stop-color="#32648e"/><stop offset=".3511" stop-color="#2c738e"/><stop offset=".3596" stop-color="#29798e"/><stop offset=".3638" stop-color="#25858e"/><stop offset=".3766" stop-color="#26828e"/><stop offset=".3936" stop-color="#2d718e"/><stop offset=".3979" stop-color="#26818e"/><stop offset=".4021" stop-color="#2b758e"/><stop offset=".4064" stop-color="#277e8e"/><stop offset=".4106" stop-color="#27808e"/><stop offset=".4149" stop-color="#2c738e"/><stop offset=".4191" stop-color="#24878e"/><stop offset=".4277" stop-color="#218f8d"/><stop offset=".4319" stop-color="#1fa187"/><stop offset=".4404" stop-color="#1e9d89"/><stop offset=".4489" stop-color="#23888e"/><stop offset=".4532" stop-color="#23888e"/><stop offset=".4574" stop-color="#297b8e"/><stop offset=".4617" stop-color="#24878e"/><stop offset=".4660" stop-color="#26828e"/><stop offset=".4702" stop-color="#228d8d"/><stop offset=".4745" stop-color="#25ac82"/><stop offset=".4787" stop-color="#aadc32"/><stop offset=".4830" stop-color="#dfe318"/><stop offset=".4872" stop-color="#8bd646"/><stop offset=".4915" stop-color="#1f948c"/><stop offset=".5000" stop-color="#24868e"/><stop offset=".5170" stop-color="#277f8e"/><stop offset=".5213" stop-color="#228d8d"/><stop offset=".5255" stop-color="#26818e"/><stop offset=".5298" stop-color="#33628d"/><stop offset=".5340" stop-color="#375b8d"/><stop offset=".5383" stop-color="#33638d"/><stop offset=".5468" stop-color="#38598c"/><stop offset=".5511" stop-color="#287c8e"/><stop offset=".5596" stop-color="#1fa287"/><stop offset=".5638" stop-color="#1e9c89"/><stop offset=".5681" stop-color="#1e9b8a"/><stop offset=".5766" stop-color="#38598c"/><stop offset=".5809" stop-color="#3b518b"/><stop offset=".5851" stop-color="#375a8c"/><stop offset=".5894" stop-color="#365c8d"/><stop offset=".5936" stop-color="#39558c"/><stop offset=".6064" stop-color="#38588c"/><stop offset=".6149" stop-color="#39558c"/><stop offset=".6191" stop-color="#3e4c8a"/><stop offset=".6319" stop-color="#375a8c"/><stop offset=".6362" stop-color="#39558c"/><stop offset=".6404" stop-color="#375b8d"/><stop offset=".6532" stop-color="#404588"/><stop offset=".6574" stop-color="#3a538b"/><stop offset=".6617" stop-color="#414487"/><stop offset=".6660" stop-color="#3f4788"/><stop offset=".6702" stop-color="#46327e"/><stop offset=".6745" stop-color="#3f4889"/><stop offset=".6830" stop-color="#463480"/><stop offset=".6872" stop-color="#463480"/><stop offset=".6915" stop-color="#423f85"/><stop offset=".6957" stop-color="#46327e"/><stop offset=".7085" stop-color="#433e85"/><stop offset=".7128" stop-color="#443983"/><stop offset=".7170" stop-color="#472d7b"/><stop offset=".7213" stop-color="#453882"/><stop offset=".7298" stop-color="#482173"/><stop offset=".7340" stop-color="#433d84"/><stop offset=".7383" stop-color="#482878"/><stop offset=".7426" stop-color="#453581"/><stop offset=".7468" stop-color="#443a83"/><stop offset=".7511" stop-color="#472c7a"/><stop offset=".7553" stop-color="#443983"/><stop offset=".7638" stop-color="#472c7a"/><stop offset=".7723" stop-color="#472a7a"/><stop offset=".7766" stop-color="#482677"/><stop offset=".7894" stop-color="#443983"/><stop offset=".7936" stop-color="#482576"/><stop offset=".7979" stop-color="#443b84"/><stop offset=".8021" stop-color="#46307e"/><stop offset=".8106" stop-color="#463480"/><stop offset=".8149" stop-color="#482374"/><stop offset=".8234" stop-color="#443983"/><stop offset=".8277" stop-color="#482878"/><stop offset=".8319" stop-color="#472e7c"/><stop offset=".8447" stop-color="#482979"/><stop offset=".8489" stop-color="#46327e"/><stop offset=".8532" stop-color="#472f7d"/><stop offset=".8617" stop-color="#443983"/><stop offset=".8660" stop-color="#472c7a"/><stop offset=".8702" stop-color="#443a83"/><stop offset=".8830" stop-color="#482979"/><stop offset=".8915" stop-color="#453882"/><stop offset=".8957" stop-color="#472c7a"/><stop offset=".9043" stop-color="#482979"/><stop offset=".9128" stop-color="#46307e"/><stop offset=".9170" stop-color="#482677"/><stop offset=".9340" stop-color="#46337f"/><stop offset=".9383" stop-color="#472e7c"/><stop offset=".9426" stop-color="#463480"/><stop offset=".9468" stop-color="#472d7b"/><stop offset=".9511" stop-color="#453581"/><stop offset=".9553" stop-color="#463480"/><stop offset=".9596" stop-color="#482173"/><stop offset=".9638" stop-color="#46307e"/><stop offset=".9681" stop-color="#463480"/><stop offset=".9809" stop-color="#482979"/><stop offset=".9851" stop-color="#482979"/><stop offset=".9894" stop-color="#46327e"/><stop offset=".9936" stop-color="#472f7d"/><stop offset=".9979" stop-color="#482173"/></linearGradient>
<linearGradient id="g36" x1="0" x2="1" y1="0" y2="0"><stop offset=".0021" stop-color="#482677"/><stop offset=".0064" stop-color="#472a7a"/><stop offset=".0106" stop-color="#482677"/><stop offset=".0149" stop-color="#443b84"/><stop offset=".0191" stop-color="#46307e"/><stop offset=".0234" stop-color="#46327e"/><stop offset=".0277" stop-color="#482677"/><stop offset=".0319" stop-color="#46307e"/><stop offset=".0362" stop-color="#482979"/><stop offset=".0404" stop-color="#453581"/><stop offset=".0447" stop-color="#472c7a"/><stop offset=".0532" stop-color="#443a83"/><stop offset=".0574" stop-color="#472d7b"/><stop offset=".0617" stop-color="#46337f"/><stop offset=".0702" stop-color="#472a7a"/><stop offset=".0787" stop-color="#46307e"/><stop offset=".0830" stop-color="#46307e"/><stop offset=".0872" stop-color="#423f85"/><stop offset=".0915" stop-color="#472a7a"/><stop offset=".0957" stop-color="#472c7a"/><stop offset=".1000" stop-color="#443983"/><stop offset=".1085" stop-color="#472a7a"/><stop offset=".1128" stop-color="#472a7a"/><stop offset=".1170" stop-color="#46337f"/><stop offset=".1255" stop-color="#482475"/><stop offset=".1298" stop-color="#472d7b"/><stop offset=".1426" stop-color="#472c7a"/><stop offset=".1468" stop-color="#443a83"/><stop offset=".1511" stop-color="#482677"/><stop offset=".1596" stop-color="#472e7c"/><stop offset=".1638" stop-color="#482173"/><stop offset=".1681" stop-color="#463480"/><stop offset=".1766" stop-color="#482475"/><stop offset=".1809" stop-color="#46337f"/><stop offset=".1894" stop-color="#46307e"/><stop offset=".1936" stop-color="#433e85"/><stop offset=".2021" stop-color="#463480"/><stop offset=".2064" stop-color="#433e85"/><stop offset=".2106" stop-color="#443b84"/><stop offset=".2149" stop-color="#404688"/><stop offset=".2191" stop-color="#453882"/><stop offset=".2234" stop-color="#414487"/><stop offset=".2447" stop-color="#423f85"/><stop offset=".2532" stop-color="#39558c"/><stop offset=".2617" stop-color="#3c508b"/><stop offset=".2660" stop-color="#39568c"/><stop offset=".2702" stop-color="#404688"/><stop offset=".2745" stop-color="#33638d"/><stop offset=".2830" stop-color="#3a548c"/><stop offset=".2915" stop-color="#355e8d"/><stop offset=".2957" stop-color="#3a548c"/><stop offset=".3043" stop-color="#3a538b"/><stop offset=".3128" stop-color="#365c8d"/><stop offset=".3170" stop-color="#375b8d"/><stop offset=".3213" stop-color="#33638d"/><stop offset=".3255" stop-color="#33638d"/><stop offset=".3298" stop-color="#38598c"/><stop offset=".3340" stop-color="#2d708e"/><stop offset=".3383" stop-color="#2b758e"/><stop offset=".3468" stop-color="#2a768e"/><stop offset=".3511" stop-color="#27808e"/><stop offset=".3553" stop-color="#287d8e"/><stop offset=".3596" stop-color="#2e6d8e"/><stop offset=".3638" stop-color="#287d8e"/><stop offset=".3723" stop-color="#26828e"/><stop offset=".3809" stop-color="#297a8e"/><stop offset=".3851" stop-color="#26828e"/><stop offset=".3979" stop-color="#2a768e"/><stop offset=".4021" stop-color="#297b8e"/><stop offset=".4106" stop-color="#31668e"/><stop offset=".4149" stop-color="#297a8e"/><stop offset=".4191" stop-color="#2e6d8e"/><stop offset=".4319" stop-color="#297b8e"/><stop offset=".4362" stop-color="#1f958b"/><stop offset=".4447" stop-color="#2db27d"/><stop offset=".4489" stop-color="#23a983"/><stop offset=".4532" stop-color="#1f998a"/><stop offset=".4617" stop-color="#25858e"/><stop offset=".4702" stop-color="#27808e"/><stop offset=".4745" stop-color="#23898e"/><stop offset=".4830" stop-color="#cae11f"/><stop offset=".4872" stop-color="#bddf26"/><stop offset=".4915" stop-color="#6ccd5a"/><stop offset=".4957" stop-color="#1f998a"/><stop offset=".5043" stop-color="#23888e"/><stop offset=".5085" stop-color="#228b8d"/><stop offset=".5128" stop-color="#2b748e"/><stop offset=".5170" stop-color="#25858e"/><stop offset=".5255" stop-color="#29798e"/><stop offset=".5340" stop-color="#375b8d"/><stop offset=".5426" stop-color="#32658e"/><stop offset=".5511" stop-color="#355f8d"/><stop offset=".5553" stop-color="#33638d"/><stop offset=".5596" stop-color="#375a8c"/><stop offset=".5638" stop-color="#33628d"/><stop offset=".5681" stop-color="#355f8d"/><stop offset=".5723" stop-color="#2c728e"/><stop offset=".5766" stop-color="#1f968b"/><stop offset=".5809" stop-color="#21a685"/><stop offset=".5851" stop-color="#21a685"/><stop offset=".5894" stop-color="#1fa088"/><stop offset=".5979" stop-color="#34618d"/><stop offset=".6021" stop-color="#375b8d"/><stop offset=".6064" stop-color="#375b8d"/><stop offset=".6106" stop-color="#33628d"/><stop offset=".6191" stop-color="#3c4f8a"/><stop offset=".6277" stop-color="#3b528b"/><stop offset=".6319" stop-color="#3e4989"/><stop offset=".6404" stop-color="#3b518b"/><stop offset=".6447" stop-color="#3f4788"/><stop offset=".6489" stop-color="#3c508b"/><stop offset=".6574" stop-color="#3b528b"/><stop offset=".6617" stop-color="#3e4c8a"/><stop offset=".6660" stop-color="#443a83"/><stop offset=".6702" stop-color="#3d4e8a"/><stop offset=".6745" stop-color="#3e4c8a"/><stop offset=".6787" stop-color="#443b84"/><stop offset=".6872" stop-color="#46337f"/><stop offset=".7000" stop-color="#423f85"/><stop offset=".7085" stop-color="#46337f"/><stop offset=".7128" stop-color="#424086"/><stop offset=".7170" stop-color="#443b84"/><stop offset=".7213" stop-color="#472f7d"/><stop offset=".7255" stop-color="#443b84"/><stop offset=".7340" stop-color="#463480"/><stop offset=".7383" stop-color="#453882"/><stop offset=".7468" stop-color="#472d7b"/><stop offset=".7511" stop-color="#443983"/><stop offset=".7553" stop-color="#472d7b"/><stop offset=".7596" stop-color="#453781"/><stop offset=".7638" stop-color="#472c7a"/><stop offset=".7723" stop-color="#443983"/><stop offset=".7766" stop-color="#472c7a"/><stop offset=".7809" stop-color="#443a83"/><stop offset=".7851" stop-color="#482677"/><stop offset=".7979" stop-color="#482979"/><stop offset=".8021" stop-color="#481f70"/><stop offset=".8106" stop-color="#443b84"/><stop offset=".8149" stop-color="#453781"/><stop offset=".8191" stop-color="#482374"/><stop offset=".8234" stop-color="#463480"/><stop offset=".8277" stop-color="#482374"/><stop offset=".8319" stop-color="#472c7a"/><stop offset=".8447" stop-color="#472a7a"/><stop offset=".8489" stop-color="#453781"/><stop offset=".8617" stop-color="#463480"/><stop offset=".8660" stop-color="#453581"/><stop offset=".8745" stop-color="#482475"/><stop offset=".8787" stop-color="#463480"/><stop offset=".8830" stop-color="#482878"/><stop offset=".8915" stop-color="#482979"/><stop offset=".8957" stop-color="#482173"/><stop offset=".9000" stop-color="#453781"/><stop offset=".9043" stop-color="#472d7b"/><stop offset=".9085" stop-color="#453882"/><stop offset=".9170" stop-color="#482878"/><stop offset=".9213" stop-color="#443b84"/><stop offset=".9255" stop-color="#472d7b"/><stop offset=".9298" stop-color="#443a83"/><stop offset=".9340" stop-color="#472e7c"/><stop offset=".9468" stop-color="#453781"/><stop offset=".9511" stop-color="#482878"/><stop offset=".9553" stop-color="#482475"/><stop offset=".9596" stop-color="#463480"/><stop offset=".9681" stop-color="#472f7d"/><stop offset=".9723" stop-color="#482576"/><stop offset=".9766" stop-color="#433d84"/><stop offset=".9809" stop-color="#482677"/><stop offset=".9851" stop-color="#472f7d"/><stop offset=".9894" stop-color="#482878"/><stop offset=".9979" stop-color="#472c7a"/></linearGradient>
<linearGradient id="g37" x1="0" x2="1" y1="0" y2="0"><stop offset=".0021" stop-color="#482979"/><stop offset=".0106" stop-color="#46307e"/><stop offset=".0149" stop-color="#472c7a"/><stop offset=".0191" stop-color="#46327e"/><stop offset=".0234" stop-color="#472d7b"/><stop offset=".0277" stop-color="#46327e"/><stop offset=".0319" stop-color="#482374"/><stop offset=".0362" stop-color="#453781"/><stop offset=".0404" stop-color="#482677"/><stop offset=".0489" stop-color="#463480"/><stop offset=".0532" stop-color="#482374"/><stop offset=".0617" stop-color="#472c7a"/><stop offset=".0660" stop-color="#424186"/><stop offset=".0702" stop-color="#472a7a"/><stop offset=".0745" stop-color="#463480"/><stop offset=".0787" stop-color="#482878"/><stop offset=".0830" stop-color="#46337f"/><stop offset=".0872" stop-color="#472a7a"/><stop offset=".0915" stop-color="#472d7b"/><stop offset=".1000" stop-color="#482173"/><stop offset=".1043" stop-color="#46327e"/><stop offset=".1085" stop-color="#482878"/><stop offset=".1128" stop-color="#482979"/><stop offset=".1170" stop-color="#46337f"/><stop offset=".1213" stop-color="#472a7a"/><stop offset=".1298" stop-color="#453882"/><stop offset=".1340" stop-color="#453781"/><stop offset=".1468" stop-color="#482173"/><stop offset=".1511" stop-color="#443a83"/><stop offset=".1596" stop-color="#472c7a"/><stop offset=".1638" stop-color="#443a83"/><stop offset=".1681" stop-color="#472e7c"/><stop offset=".1723" stop-color="#472d7b"/><stop offset=".1766" stop-color="#463480"/><stop offset=".1809" stop-color="#472a7a"/><stop offset=".1851" stop-color="#472d7b"/><stop offset=".1894" stop-color="#443983"/><stop offset=".1936" stop-color="#46307e"/><stop offset=".2021" stop-color="#404588"/><stop offset=".2064" stop-color="#433d84"/><stop offset=".2106" stop-color="#414287"/><stop offset=".2149" stop-color="#453781"/><stop offset=".2191" stop-color="#443a83"/><stop offset=".2234" stop-color="#46327e"/><stop offset=".2277" stop-color="#3e4989"/><stop offset=".2447" stop-color="#414287"/><stop offset=".2489" stop-color="#3c4f8a"/><stop offset=".2574" stop-color="#3e4a89"/><stop offset=".2617" stop-color="#3a548c"/><stop offset=".2660" stop-color="#3e4c8a"/><stop offset=".2702" stop-color="#38588c"/><stop offset=".2872" stop-color="#3a538b"/><stop offset=".2957" stop-color="#365d8d"/><stop offset=".3000" stop-color="#365c8d"/><stop offset=".3085" stop-color="#2f6b8e"/><stop offset=".3128" stop-color="#2e6f8e"/><stop offset=".3170" stop-color="#33638d"/><stop offset=".3213" stop-color="#2d718e"/><stop offset=".3255" stop-color="#2a788e"/><stop offset=".3298" stop-color="#306a8e"/><stop offset=".3340" stop-color="#2d708e"/><stop offset=".3383" stop-color="#375b8d"/><stop offset=".3426" stop-color="#2e6d8e"/><stop offset=".3468" stop-color="#2d718e"/><stop offset=".3511" stop-color="#34618d"/><stop offset=".3596" stop-color="#27808e"/><stop offset=".3638" stop-color="#306a8e"/><stop offset=".3723" stop-color="#25858e"/><stop offset=".3851" stop-color="#26818e"/><stop offset=".3894" stop-color="#24878e"/><stop offset=".3936" stop-color="#26828e"/><stop offset=".4021" stop-color="#25858e"/><stop offset=".4149" stop-color="#287c8e"/><stop offset=".4191" stop-color="#25848e"/><stop offset=".4234" stop-color="#297b8e"/><stop offset=".4277" stop-color="#26828e"/><stop offset=".4362" stop-color="#2b748e"/><stop offset=".4404" stop-color="#277f8e"/><stop offset=".4447" stop-color="#29798e"/><stop offset=".4532" stop-color="#1f958b"/><stop offset=".4660" stop-color="#25ac82"/><stop offset=".4702" stop-color="#1f9f88"/><stop offset=".4745" stop-color="#1f9a8a"/><stop offset=".4787" stop-color="#218e8d"/><stop offset=".4830" stop-color="#1f948c"/><stop offset=".4872" stop-color="#73d056"/><stop offset=".4915" stop-color="#bddf26"/><stop offset=".4957" stop-color="#d5e21a"/><stop offset=".5000" stop-color="#67cc5c"/><stop offset=".5043" stop-color="#1e9c89"/><stop offset=".5085" stop-color="#20928c"/><stop offset=".5128" stop-color="#27808e"/><stop offset=".5213" stop-color="#27808e"/><stop offset=".5298" stop-color="#297a8e"/><stop offset=".5340" stop-color="#31668e"/><stop offset=".5383" stop-color="#355f8d"/><stop offset=".5468" stop-color="#34618d"/><stop offset=".5553" stop-color="#3b528b"/><stop offset=".5596" stop-color="#355e8d"/><stop offset=".5638" stop-color="#34608d"/><stop offset=".5681" stop-color="#39568c"/><stop offset=".5723" stop-color="#365c8d"/><stop offset=".5851" stop-color="#3a548c"/><stop offset=".5894" stop-color="#355f8d"/><stop offset=".5936" stop-color="#3a538b"/><stop offset=".6021" stop-color="#1f9f88"/><stop offset=".6064" stop-color="#23a983"/><stop offset=".6106" stop-color="#23a983"/><stop offset=".6149" stop-color="#1f9a8a"/><stop offset=".6234" stop-color="#355f8d"/><stop offset=".6277" stop-color="#3c508b"/><stop offset=".6319" stop-color="#39568c"/><stop offset=".6404" stop-color="#3b518b"/><stop offset=".6447" stop-color="#33628d"/><stop offset=".6532" stop-color="#404688"/><stop offset=".6574" stop-color="#3d4e8a"/><stop offset=".6617" stop-color="#424086"/><stop offset=".6660" stop-color="#3e4a89"/><stop offset=".6702" stop-color="#443a83"/><stop offset=".6830" stop-color="#414287"/><stop offset=".6915" stop-color="#472f7d"/><stop offset=".6957" stop-color="#433d84"/><stop offset=".7000" stop-color="#463480"/><stop offset=".7085" stop-color="#414487"/><stop offset=".7128" stop-color="#472d7b"/><stop offset=".7170" stop-color="#482979"/><stop offset=".7213" stop-color="#443b84"/><stop offset=".7255" stop-color="#423f85"/><stop offset=".7383" stop-color="#46307e"/><stop offset=".7468" stop-color="#453781"/><stop offset=".7511" stop-color="#472a7a"/><stop offset=".7553" stop-color="#424086"/><stop offset=".7596" stop-color="#472f7d"/><stop offset=".7681" stop-color="#472d7b"/><stop offset=".7723" stop-color="#453781"/><stop offset=".7766" stop-color="#482979"/><stop offset=".7809" stop-color="#453581"/><stop offset=".7936" stop-color="#472e7c"/><stop offset=".8021" stop-color="#453581"/><stop offset=".8064" stop-color="#482878"/><stop offset=".8106" stop-color="#472d7b"/><stop offset=".8149" stop-color="#443a83"/><stop offset=".8191" stop-color="#472e7c"/><stop offset=".8234" stop-color="#472e7c"/><stop offset=".8277" stop-color="#453581"/><stop offset=".8319" stop-color="#472a7a"/><stop offset=".8404" stop-color="#482677"/><stop offset=".8447" stop-color="#453882"/><stop offset=".8489" stop-color="#472f7d"/><stop offset=".8660" stop-color="#463480"/><stop offset=".8745" stop-color="#472d7b"/><stop offset=".8787" stop-color="#46307e"/><stop offset=".8830" stop-color="#482979"/><stop offset=".8915" stop-color="#453781"/><stop offset=".9000" stop-color="#472a7a"/><stop offset=".9043" stop-color="#482979"/><stop offset=".9085" stop-color="#472f7d"/><stop offset=".9170" stop-color="#482878"/><stop offset=".9213" stop-color="#472e7c"/><stop offset=".9255" stop-color="#482878"/><stop offset=".9298" stop-color="#453581"/><stop offset=".9468" stop-color="#482878"/><stop offset=".9511" stop-color="#453882"/><stop offset=".9596" stop-color="#482576"/><stop offset=".9681" stop-color="#433e85"/><stop offset=".9723" stop-color="#482878"/><stop offset=".9766" stop-color="#472f7d"/><stop offset=".9851" stop-color="#482374"/><stop offset=".9936" stop-color="#46307e"/><stop offset=".9979" stop-color="#472e7c"/></linearGradient>
<linearGradient id="g38" x1="0" x2="1" y1="0" y2="0"><stop offset=".0021" stop-color="#472f7d"/><stop offset=".0064" stop-color="#443983"/><stop offset=".0149" stop-color="#472d7b"/><stop offset=".0191" stop-color="#433d84"/><stop offset=".0319" stop-color="#472c7a"/><stop offset=".0362" stop-color="#482173"/><stop offset=".0404" stop-color="#472d7b"/><stop offset=".0447" stop-color="#482878"/><stop offset=".0532" stop-color="#463480"/><stop offset=".0617" stop-color="#482677"/><stop offset=".0702" stop-color="#433d84"/><stop offset=".0787" stop-color="#443983"/><stop offset=".0830" stop-color="#472c7a"/><stop offset=".0872" stop-color="#472f7d"/><stop offset=".0915" stop-color="#443b84"/><stop offset=".0957" stop-color="#443b84"/><stop offset=".1000" stop-color="#472e7c"/><stop offset=".1043" stop-color="#453781"/><stop offset=".1085" stop-color="#482071"/><stop offset=".1128" stop-color="#46327e"/><stop offset=".1170" stop-color="#453882"/><stop offset=".1213" stop-color="#453781"/><stop offset=".1255" stop-color="#482374"/><stop offset=".1298" stop-color="#453781"/><stop offset=".1383" stop-color="#453781"/><stop offset=".1426" stop-color="#472e7c"/><stop offset=".1468" stop-color="#443983"/><stop offset=".1511" stop-color="#463480"/><stop offset=".1553" stop-color="#433d84"/><stop offset=".1596" stop-color="#472f7d"/><stop offset=".1638" stop-color="#453882"/><stop offset=".1681" stop-color="#472c7a"/><stop offset=".1766" stop-color="#46307e"/><stop offset=".1809" stop-color="#414287"/><stop offset=".1851" stop-color="#404588"/><stop offset=".1894" stop-color="#46327e"/><stop offset=".1979" stop-color="#424186"/><stop offset=".2021" stop-color="#433d84"/><stop offset=".2064" stop-color="#3e4a89"/><stop offset=".2106" stop-color="#433e85"/><stop offset=".2191" stop-color="#424086"/><stop offset=".2234" stop-color="#3e4c8a"/><stop offset=".2362" stop-color="#3f4889"/><stop offset=".2404" stop-color="#3a548c"/><stop offset=".2447" stop-color="#414287"/><stop offset=".2532" stop-color="#375a8c"/><stop offset=".2574" stop-color="#375b8d"/><stop offset=".2617" stop-color="#3a538b"/><stop offset=".2702" stop-color="#34618d"/><stop offset=".2745" stop-color="#375a8c"/><stop offset=".2787" stop-color="#31668e"/><stop offset=".2830" stop-color="#375a8c"/><stop offset=".2872" stop-color="#31688e"/><stop offset=".2915" stop-color="#31668e"/><stop offset=".2957" stop-color="#2e6f8e"/><stop offset=".3000" stop-color="#30698e"/><stop offset=".3043" stop-color="#2c738e"/><stop offset=".3128" stop-color="#2d718e"/><stop offset=".3170" stop-color="#31688e"/><stop offset=".3213" stop-color="#287d8e"/><stop offset=".3255" stop-color="#27808e"/><stop offset=".3298" stop-color="#2c718e"/><stop offset=".3340" stop-color="#2a788e"/><stop offset=".3426" stop-color="#297a8e"/><stop offset=".3468" stop-color="#218e8d"/><stop offset=".3511" stop-color="#25848e"/><stop offset=".3553" stop-color="#24868e"/><stop offset=".3596" stop-color="#277e8e"/><stop offset=".3638" stop-color="#27808e"/><stop offset=".3681" stop-color="#228c8d"/><stop offset=".3723" stop-color="#26828e"/><stop offset=".3766" stop-color="#218e8d"/><stop offset=".3894" stop-color="#2c718e"/><stop offset=".3936" stop-color="#287c8e"/><stop offset=".4064" stop-color="#287c8e"/><stop offset=".4106" stop-color="#238a8d"/><stop offset=".4149" stop-color="#24868e"/><stop offset=".4277" stop-color="#1fa088"/><stop offset=".4362" stop-color="#20928c"/><stop offset=".4447" stop-color="#21a585"/><stop offset=".4489" stop-color="#1f958b"/><stop offset=".4574" stop-color="#23888e"/><stop offset=".4617" stop-color="#1f978b"/><stop offset=".4702" stop-color="#1fa188"/><stop offset=".4745" stop-color="#1e9d89"/><stop offset=".4787" stop-color="#93d741"/><stop offset=".4830" stop-color="#c8e020"/><stop offset=".4872" stop-color="#d5e21a"/><stop offset=".4957" stop-color="#1f998a"/><stop offset=".5000" stop-color="#24878e"/><stop offset=".5043" stop-color="#26828e"/><stop offset=".5085" stop-color="#21908d"/><stop offset=".5170" stop-color="#1e9b8a"/><stop offset=".5213" stop-color="#21908d"/><stop offset=".5255" stop-color="#1f978b"/><stop offset=".5298" stop-color="#1f978b"/><stop offset=".5426" stop-color="#355f8d"/><stop offset=".5511" stop-color="#2c728e"/><stop offset=".5553" stop-color="#2d708e"/><stop offset=".5638" stop-color="#365c8d"/><stop offset=".5681" stop-color="#38598c"/><stop offset=".5723" stop-color="#33628d"/><stop offset=".5766" stop-color="#3a548c"/><stop offset=".5851" stop-color="#31678e"/><stop offset=".5894" stop-color="#24868e"/><stop offset=".5979" stop-color="#21a585"/><stop offset=".6021" stop-color="#21a685"/><stop offset=".6064" stop-color="#20938c"/><stop offset=".6106" stop-color="#2d718e"/><stop offset=".6149" stop-color="#375a8c"/><stop offset=".6191" stop-color="#34618d"/><stop offset=".6234" stop-color="#3b528b"/><stop offset=".6277" stop-color="#31678e"/><stop offset=".6319" stop-color="#375a8c"/><stop offset=".6362" stop-color="#38598c"/><stop offset=".6404" stop-color="#3c4f8a"/><stop offset=".6489" stop-color="#38588c"/><stop offset=".6660" stop-color="#3f4889"/><stop offset=".6702" stop-color="#365d8d"/><stop offset=".6745" stop-color="#433d84"/><stop offset=".6830" stop-color="#3f4889"/><stop offset=".6872" stop-color="#443b84"/><stop offset=".6957" stop-color="#3f4788"/><stop offset=".7043" stop-color="#414487"/><stop offset=".7085" stop-color="#443b84"/><stop offset=".7128" stop-color="#424086"/><stop offset=".7170" stop-color="#453882"/><stop offset=".7255" stop-color="#443a83"/><stop offset=".7298" stop-color="#463480"/><stop offset=".7340" stop-color="#424186"/><stop offset=".7468" stop-color="#46327e"/><stop offset=".7511" stop-color="#443983"/><stop offset=".7553" stop-color="#472d7b"/><stop offset=".7596" stop-color="#453882"/><stop offset=".7638" stop-color="#443a83"/><stop offset=".7723" stop-color="#46327e"/><stop offset=".7766" stop-color="#482878"/><stop offset=".7809" stop-color="#424186"/><stop offset=".7851" stop-color="#472c7a"/><stop offset=".7894" stop-color="#482576"/><stop offset=".7979" stop-color="#46337f"/><stop offset=".8021" stop-color="#482979"/><stop offset=".8064" stop-color="#453882"/><stop offset=".8106" stop-color="#443a83"/><stop offset=".8149" stop-color="#472e7c"/><stop offset=".8277" stop-color="#46327e"/><stop offset=".8362" stop-color="#46337f"/><stop offset=".8404" stop-color="#453882"/><stop offset=".8447" stop-color="#472e7c"/><stop offset=".8617" stop-color="#443a83"/><stop offset=".8660" stop-color="#424186"/><stop offset=".8702" stop-color="#46307e"/><stop offset=".8745" stop-color="#472d7b"/><stop offset=".8787" stop-color="#423f85"/><stop offset=".8830" stop-color="#46307e"/><stop offset=".8872" stop-color="#472e7c"/><stop offset=".8915" stop-color="#482374"/><stop offset=".8957" stop-color="#443b84"/><stop offset=".9000" stop-color="#472a7a"/><stop offset=".9043" stop-color="#482878"/><stop offset=".9085" stop-color="#46337f"/><stop offset=".9128" stop-color="#472c7a"/><stop offset=".9255" stop-color="#46337f"/><stop offset=".9383" stop-color="#472c7a"/><stop offset=".9426" stop-color="#463480"/><stop offset=".9468" stop-color="#472a7a"/><stop offset=".9511" stop-color="#443983"/><stop offset=".9553" stop-color="#453882"/><stop offset=".9596" stop-color="#472e7c"/><stop offset=".9638" stop-color="#433d84"/><stop offset=".9681" stop-color="#453781"/><stop offset=".9723" stop-color="#443983"/><stop offset=".9766" stop-color="#482979"/><stop offset=".9809" stop-color="#453581"/><stop offset=".9894" stop-color="#472e7c"/><stop offset=".9979" stop-color="#443a83"/></linearGradient>
<linearGradient id="g39" x1="0" x2="1" y1="0" y2="0"><stop offset=".0021" stop-color="#472e7c"/><stop offset=".0064" stop-color="#46327e"/><stop offset=".0106" stop-color="#482979"/><stop offset=".0234" stop-color="#46307e"/><stop offset=".0319" stop-color="#472d7b"/><stop offset=".0362" stop-color="#482475"/><stop offset=".0489" stop-color="#453581"/><stop offset=".0532" stop-color="#482475"/><stop offset=".0574" stop-color="#481b6d"/><stop offset=".0617" stop-color="#472c7a"/><stop offset=".0660" stop-color="#482576"/><stop offset=".0787" stop-color="#472d7b"/><stop offset=".0830" stop-color="#482173"/><stop offset=".0915" stop-color="#46337f"/><stop offset=".1043" stop-color="#482878"/><stop offset=".1128" stop-color="#472a7a"/><stop offset=".1170" stop-color="#453581"/><stop offset=".1213" stop-color="#472c7a"/><stop offset=".1255" stop-color="#472f7d"/><stop offset=".1340" stop-color="#482878"/><stop offset=".1383" stop-color="#463480"/><stop offset=".1426" stop-color="#453882"/><stop offset=".1468" stop-color="#472e7c"/><stop offset=".1511" stop-color="#453581"/><stop offset=".1553" stop-color="#472e7c"/><stop offset=".1596" stop-color="#404588"/><stop offset=".1638" stop-color="#472d7b"/><stop offset=".1681" stop-color="#463480"/><stop offset=".1809" stop-color="#472f7d"/><stop offset=".1894" stop-color="#443b84"/><stop offset=".1979" stop-color="#453882"/><stop offset=".2021" stop-color="#404688"/><stop offset=".2064" stop-color="#3e4989"/><stop offset=".2149" stop-color="#433d84"/><stop offset=".2191" stop-color="#3f4889"/><stop offset=".2234" stop-color="#46337f"/><stop offset=".2277" stop-color="#404688"/><stop offset=".2404" stop-color="#3d4e8a"/><stop offset=".2447" stop-color="#375b8d"/><stop offset=".2617" stop-color="#3a538b"/><stop offset=".2702" stop-color="#365d8d"/><stop offset=".2787" stop-color="#39558c"/><stop offset=".2830" stop-color="#38588c"/><stop offset=".2915" stop-color="#31688e"/><stop offset=".2957" stop-color="#31668e"/><stop offset=".3000" stop-color="#2e6f8e"/><stop offset=".3085" stop-color="#355f8d"/><stop offset=".3128" stop-color="#32648e"/><stop offset=".3170" stop-color="#365c8d"/><stop offset=".3213" stop-color="#31678e"/><stop offset=".3255" stop-color="#306a8e"/><stop offset=".3298" stop-color="#2b758e"/><stop offset=".3340" stop-color="#2b758e"/><stop offset=".3383" stop-color="#26828e"/><stop offset=".3426" stop-color="#2a788e"/><stop offset=".3468" stop-color="#26818e"/><stop offset=".3511" stop-color="#2c738e"/><stop offset=".3553" stop-color="#26828e"/><stop offset=".3596" stop-color="#2c738e"/><stop offset=".3638" stop-color="#29798e"/><stop offset=".3681" stop-color="#2b748e"/><stop offset=".3723" stop-color="#287d8e"/><stop offset=".3809" stop-color="#297b8e"/><stop offset=".3894" stop-color="#26828e"/><stop offset=".3936" stop-color="#297b8e"/><stop offset=".4064" stop-color="#1f978b"/><stop offset=".4149" stop-color="#1f9e89"/><stop offset=".4191" stop-color="#21a685"/><stop offset=".4234" stop-color="#1f9f88"/><stop offset=".4277" stop-color="#23888e"/><stop offset=".4362" stop-color="#23898e"/><stop offset=".4404" stop-color="#26828e"/><stop offset=".4489" stop-color="#26828e"/><stop offset=".4532" stop-color="#297b8e"/><stop offset=".4617" stop-color="#24878e"/><stop offset=".4660" stop-color="#1e9d89"/><stop offset=".4702" stop-color="#77d153"/><stop offset=".4745" stop-color="#d0e11c"/><stop offset=".4787" stop-color="#c8e020"/><stop offset=".4872" stop-color="#24878e"/><stop offset=".4915" stop-color="#21908d"/><stop offset=".4957" stop-color="#25838e"/><stop offset=".5000" stop-color="#238a8d"/><stop offset=".5085" stop-color="#26828e"/><stop offset=".5128" stop-color="#228c8d"/><stop offset=".5170" stop-color="#228c8d"/><stop offset=".5213" stop-color="#1f958b"/><stop offset=".5298" stop-color="#23898e"/><stop offset=".5340" stop-color="#21908d"/><stop offset=".5383" stop-color="#2e6f8e"/><stop offset=".5426" stop-color="#32648e"/><stop offset=".5468" stop-color="#31668e"/><stop offset=".5511" stop-color="#2d718e"/><stop offset=".5553" stop-color="#355e8d"/><stop offset=".5596" stop-color="#39558c"/><stop offset=".5681" stop-color="#355f8d"/><stop offset=".5723" stop-color="#3a548c"/><stop offset=".5766" stop-color="#306a8e"/><stop offset=".5809" stop-color="#24868e"/><stop offset=".5851" stop-color="#1f958b"/><stop offset=".5894" stop-color="#1f9e89"/><stop offset=".5936" stop-color="#1f948c"/><stop offset=".5979" stop-color="#21918c"/><stop offset=".6064" stop-color="#39568c"/><stop offset=".6234" stop-color="#3a548c"/><stop offset=".6277" stop-color="#38598c"/><stop offset=".6319" stop-color="#3c508b"/><stop offset=".6362" stop-color="#3d4e8a"/><stop offset=".6447" stop-color="#375a8c"/><stop offset=".6489" stop-color="#404688"/><stop offset=".6617" stop-color="#3f4889"/><stop offset=".6660" stop-color="#414287"/><stop offset=".6702" stop-color="#3e4989"/><stop offset=".6745" stop-color="#423f85"/><stop offset=".6830" stop-color="#3e4989"/><stop offset=".6872" stop-color="#404588"/><stop offset=".6915" stop-color="#46307e"/><stop offset=".7000" stop-color="#414487"/><stop offset=".7043" stop-color="#463480"/><stop offset=".7128" stop-color="#463480"/><stop offset=".7170" stop-color="#423f85"/><stop offset=".7383" stop-color="#453581"/><stop offset=".7426" stop-color="#423f85"/><stop offset=".7468" stop-color="#482979"/><stop offset=".7511" stop-color="#46307e"/><stop offset=".7596" stop-color="#472f7d"/><stop offset=".7638" stop-color="#453581"/><stop offset=".7681" stop-color="#472e7c"/><stop offset=".7766" stop-color="#453882"/><stop offset=".7809" stop-color="#46307e"/><stop offset=".7851" stop-color="#46327e"/><stop offset=".7894" stop-color="#481c6e"/><stop offset=".7936" stop-color="#46337f"/><stop offset=".7979" stop-color="#482677"/><stop offset=".8064" stop-color="#463480"/><stop offset=".8191" stop-color="#472a7a"/><stop offset=".8319" stop-color="#453882"/><stop offset=".8404" stop-color="#482475"/><stop offset=".8447" stop-color="#453781"/><stop offset=".8489" stop-color="#472d7b"/><stop offset=".8574" stop-color="#443b84"/><stop offset=".8617" stop-color="#443b84"/><stop offset=".8660" stop-color="#482878"/><stop offset=".8787" stop-color="#463480"/><stop offset=".8830" stop-color="#472f7d"/><stop offset=".8872" stop-color="#443a83"/><stop offset=".8915" stop-color="#463480"/><stop offset=".8957" stop-color="#443a83"/><stop offset=".9085" stop-color="#482979"/><stop offset=".9128" stop-color="#46337f"/><stop offset=".9170" stop-color="#482677"/><stop offset=".9255" stop-color="#46307e"/><stop offset=".9298" stop-color="#482677"/><stop offset=".9383" stop-color="#463480"/><stop offset=".9468" stop-color="#482878"/><stop offset=".9511" stop-color="#453581"/><stop offset=".9553" stop-color="#472a7a"/><stop offset=".9596" stop-color="#453882"/><stop offset=".9638" stop-color="#443a83"/><stop offset=".9723" stop-color="#472f7d"/><stop offset=".9766" stop-color="#472c7a"/><stop offset=".9851" stop-color="#453581"/><stop offset=".9979" stop-color="#482677"/></linearGradient>
<linearGradient id="g40" x1="0" x2="1" y1="0" y2="0"><stop offset=".0021" stop-color="#463480"/><stop offset=".0064" stop-color="#482576"/><stop offset=".0106" stop-color="#453781"/><stop offset=".0149" stop-color="#433d84"/><stop offset=".0191" stop-color="#46327e"/><stop offset=".0319" stop-color="#453781"/><stop offset=".0362" stop-color="#482979"/><stop offset=".0447" stop-color="#453581"/><stop offset=".0532" stop-color="#46307e"/><stop offset=".0574" stop-color="#482677"/><stop offset=".0617" stop-color="#463480"/><stop offset=".0702" stop-color="#481a6c"/><stop offset=".0745" stop-color="#46337f"/><stop offset=".0830" stop-color="#482878"/><stop offset=".0872" stop-color="#453882"/><stop offset=".0957" stop-color="#472a7a"/><stop offset=".1085" stop-color="#472f7d"/><stop offset=".1128" stop-color="#433d84"/><stop offset=".1170" stop-color="#482173"/><stop offset=".1298" stop-color="#472d7b"/><stop offset=".1383" stop-color="#482475"/><stop offset=".1426" stop-color="#453882"/><stop offset=".1468" stop-color="#46307e"/><stop offset=".1596" stop-color="#472a7a"/><stop offset=".1638" stop-color="#453581"/><stop offset=".1681" stop-color="#482576"/><stop offset=".1723" stop-color="#453581"/><stop offset=".1766" stop-color="#46307e"/><stop offset=".1809" stop-color="#463480"/><stop offset=".1936" stop-color="#472f7d"/><stop offset=".1979" stop-color="#443983"/><stop offset=".2021" stop-color="#453882"/><stop offset=".2064" stop-color="#424186"/><stop offset=".2106" stop-color="#424086"/><stop offset=".2149" stop-color="#453581"/><stop offset=".2234" stop-color="#3e4c8a"/><stop offset=".2447" stop-color="#39558c"/><stop offset=".2489" stop-color="#3d4e8a"/><stop offset=".2532" stop-color="#39568c"/><stop offset=".2574" stop-color="#3c508b"/><stop offset=".2617" stop-color="#34608d"/><stop offset=".2702" stop-color="#3e4c8a"/><stop offset=".2745" stop-color="#39568c"/><stop offset=".2787" stop-color="#3d4d8a"/><stop offset=".2830" stop-color="#3a548c"/><stop offset=".2957" stop-color="#375b8d"/><stop offset=".3085" stop-color="#375b8d"/><stop offset=".3128" stop-color="#31668e"/><stop offset=".3170" stop-color="#33628d"/><stop offset=".3255" stop-color="#27808e"/><stop offset=".3298" stop-color="#287d8e"/><stop offset=".3340" stop-color="#25848e"/><stop offset=".3383" stop-color="#2e6e8e"/><stop offset=".3553" stop-color="#31678e"/><stop offset=".3723" stop-color="#2d718e"/><stop offset=".3809" stop-color="#2e6f8e"/><stop offset=".3851" stop-color="#277f8e"/><stop offset=".3894" stop-color="#277f8e"/><stop offset=".4064" stop-color="#1fa187"/><stop offset=".4149" stop-color="#23a983"/><stop offset=".4191" stop-color="#20928c"/><stop offset=".4234" stop-color="#25848e"/><stop offset=".4277" stop-color="#24868e"/><stop offset=".4319" stop-color="#2b748e"/><stop offset=".4362" stop-color="#277f8e"/><stop offset=".4404" stop-color="#29798e"/><stop offset=".4489" stop-color="#2a768e"/><stop offset=".4574" stop-color="#26818e"/><stop offset=".4617" stop-color="#26828e"/><stop offset=".4660" stop-color="#1f998a"/><stop offset=".4702" stop-color="#90d743"/><stop offset=".4745" stop-color="#cae11f"/><stop offset=".4787" stop-color="#b0dd2f"/><stop offset=".4830" stop-color="#1f9f88"/><stop offset=".4872" stop-color="#218e8d"/><stop offset=".4915" stop-color="#25838e"/><stop offset=".4957" stop-color="#25848e"/><stop offset=".5043" stop-color="#2a778e"/><stop offset=".5085" stop-color="#23898e"/><stop offset=".5128" stop-color="#287c8e"/><stop offset=".5213" stop-color="#25848e"/><stop offset=".5255" stop-color="#287c8e"/><stop offset=".5298" stop-color="#26818e"/><stop offset=".5340" stop-color="#228d8d"/><stop offset=".5383" stop-color="#297b8e"/><stop offset=".5426" stop-color="#33628d"/><stop offset=".5468" stop-color="#3a538b"/><stop offset=".5553" stop-color="#355e8d"/><stop offset=".5596" stop-color="#3e4a89"/><stop offset=".5638" stop-color="#38598c"/><stop offset=".5681" stop-color="#365c8d"/><stop offset=".5723" stop-color="#3a538b"/><stop offset=".5766" stop-color="#355e8d"/><stop offset=".5809" stop-color="#39558c"/><stop offset=".5851" stop-color="#277f8e"/><stop offset=".5894" stop-color="#1e9c89"/><stop offset=".5936" stop-color="#1fa287"/><stop offset=".5979" stop-color="#1fa187"/><stop offset=".6021" stop-color="#20938c"/><stop offset=".6106" stop-color="#365c8d"/><stop offset=".6149" stop-color="#3c508b"/><stop offset=".6191" stop-color="#3a538b"/><stop offset=".6234" stop-color="#3c4f8a"/><stop offset=".6277" stop-color="#3a548c"/><stop offset=".6362" stop-color="#3a538b"/><stop offset=".6489" stop-color="#3a538b"/><stop offset=".6532" stop-color="#414287"/><stop offset=".6574" stop-color="#3e4c8a"/><stop offset=".6617" stop-color="#3e4a89"/><stop offset=".6660" stop-color="#433d84"/><stop offset=".6702" stop-color="#423f85"/><stop offset=".6787" stop-color="#463480"/><stop offset=".6830" stop-color="#3e4989"/><stop offset=".6872" stop-color="#3f4889"/><stop offset=".6915" stop-color="#443a83"/><stop offset=".6957" stop-color="#443b84"/><stop offset=".7000" stop-color="#472c7a"/><stop offset=".7043" stop-color="#404588"/><stop offset=".7085" stop-color="#482878"/><stop offset=".7128" stop-color="#443983"/><stop offset=".7213" stop-color="#472a7a"/><stop offset=".7340" stop-color="#472d7b"/><stop offset=".7383" stop-color="#433e85"/><stop offset=".7426" stop-color="#46307e"/><stop offset=".7511" stop-color="#472a7a"/><stop offset=".7553" stop-color="#443983"/><stop offset=".7596" stop-color="#472d7b"/><stop offset=".7638" stop-color="#453781"/><stop offset=".7681" stop-color="#472c7a"/><stop offset=".7766" stop-color="#453581"/><stop offset=".7809" stop-color="#472c7a"/><stop offset=".7936" stop-color="#46327e"/><stop offset=".7979" stop-color="#482979"/><stop offset=".8106" stop-color="#453581"/><stop offset=".8149" stop-color="#482878"/><stop offset=".8191" stop-color="#453781"/><stop offset=".8234" stop-color="#482979"/><stop offset=".8277" stop-color="#46307e"/><stop offset=".8362" stop-color="#482979"/><stop offset=".8404" stop-color="#453581"/><stop offset=".8447" stop-color="#453581"/><stop offset=".8489" stop-color="#482979"/><stop offset=".8532" stop-color="#46307e"/><stop offset=".8574" stop-color="#482576"/><stop offset=".8617" stop-color="#482475"/><stop offset=".8660" stop-color="#46307e"/><stop offset=".8830" stop-color="#472c7a"/><stop offset=".8872" stop-color="#453581"/><stop offset=".9000" stop-color="#482878"/><stop offset=".9043" stop-color="#453882"/><stop offset=".9085" stop-color="#433e85"/><stop offset=".9128" stop-color="#472d7b"/><stop offset=".9213" stop-color="#453882"/><stop offset=".9298" stop-color="#472a7a"/><stop offset=".9340" stop-color="#472d7b"/><stop offset=".9383" stop-color="#453882"/><stop offset=".9468" stop-color="#46327e"/><stop offset=".9511" stop-color="#482878"/><stop offset=".9638" stop-color="#472c7a"/><stop offset=".9681" stop-color="#482576"/><stop offset=".9723" stop-color="#46337f"/><stop offset=".9766" stop-color="#453581"/><stop offset=".9809" stop-color="#472d7b"/><stop offset=".9851" stop-color="#463480"/><stop offset=".9894" stop-color="#482677"/><stop offset=".9936" stop-color="#463480"/><stop offset=".9979" stop-color="#443983"/></linearGradient>
<linearGradient id="g41" x1="0" x2="1" y1="0" y2="0"><stop offset=".0021" stop-color="#472e7c"/><stop offset=".0064" stop-color="#482576"/><stop offset=".0106" stop-color="#46327e"/><stop offset=".0277" stop-color="#482576"/><stop offset=".0319" stop-color="#443983"/><stop offset=".0362" stop-color="#472a7a"/><stop offset=".0404" stop-color="#453581"/><stop offset=".0489" stop-color="#482576"/><stop offset=".0532" stop-color="#433e85"/><stop offset=".0574" stop-color="#482576"/><stop offset=".0617" stop-color="#46307e"/><stop offset=".0702" stop-color="#481f70"/><stop offset=".0745" stop-color="#472f7d"/><stop offset=".0787" stop-color="#482878"/><stop offset=".0830" stop-color="#443b84"/><stop offset=".0872" stop-color="#482878"/><stop offset=".0915" stop-color="#481f70"/><stop offset=".0957" stop-color="#463480"/><stop offset=".1000" stop-color="#46327e"/><stop offset=".1043" stop-color="#482677"/><stop offset=".1085" stop-color="#453581"/><stop offset=".1170" stop-color="#46327e"/><stop offset=".1213" stop-color="#443983"/><stop offset=".1255" stop-color="#46307e"/><stop offset=".1298" stop-color="#463480"/><stop offset=".1340" stop-color="#472c7a"/><stop offset=".1468" stop-color="#443a83"/><stop offset=".1511" stop-color="#472a7a"/><stop offset=".1553" stop-color="#453882"/><stop offset=".1596" stop-color="#472a7a"/><stop offset=".1638" stop-color="#424186"/><stop offset=".1681" stop-color="#472d7b"/><stop offset=".1723" stop-color="#453882"/><stop offset=".1766" stop-color="#482979"/><stop offset=".1809" stop-color="#46307e"/><stop offset=".1851" stop-color="#472e7c"/><stop offset=".1894" stop-color="#453781"/><stop offset=".1936" stop-color="#46327e"/><stop offset=".2021" stop-color="#433e85"/><stop offset=".2106" stop-color="#453882"/><stop offset=".2149" stop-color="#3f4788"/><stop offset=".2191" stop-color="#433d84"/><stop offset=".2234" stop-color="#433d84"/><stop offset=".2277" stop-color="#39558c"/><stop offset=".2319" stop-color="#3e4a89"/><stop offset=".2362" stop-color="#3a538b"/><stop offset=".2404" stop-color="#3d4e8a"/><stop offset=".2489" stop-color="#39558c"/><stop offset=".2532" stop-color="#3e4a89"/><stop offset=".2574" stop-color="#3b518b"/><stop offset=".2660" stop-color="#414487"/><stop offset=".2702" stop-color="#414487"/><stop offset=".2745" stop-color="#39568c"/><stop offset=".2787" stop-color="#3b518b"/><stop offset=".2830" stop-color="#38598c"/><stop offset=".2915" stop-color="#355e8d"/><stop offset=".2957" stop-color="#375b8d"/><stop offset=".3000" stop-color="#306a8e"/><stop offset=".3085" stop-color="#355f8d"/><stop offset=".3170" stop-color="#297b8e"/><stop offset=".3213" stop-color="#2b748e"/><stop offset=".3255" stop-color="#2a768e"/><stop offset=".3298" stop-color="#26828e"/><stop offset=".3340" stop-color="#2c718e"/><stop offset=".3383" stop-color="#306a8e"/><stop offset=".3426" stop-color="#2d708e"/><stop offset=".3468" stop-color="#33638d"/><stop offset=".3511" stop-color="#33638d"/><stop offset=".3638" stop-color="#27808e"/><stop offset=".3723" stop-color="#287d8e"/><stop offset=".3809" stop-color="#24878e"/><stop offset=".3894" stop-color="#2a788e"/><stop offset=".3936" stop-color="#228b8d"/><stop offset=".3979" stop-color="#23888e"/><stop offset=".4021" stop-color="#1f9a8a"/><stop offset=".4064" stop-color="#1f968b"/><stop offset=".4106" stop-color="#1e9d89"/><stop offset=".4234" stop-color="#2b758e"/><stop offset=".4404" stop-color="#287d8e"/><stop offset=".4447" stop-color="#24878e"/><stop offset=".4489" stop-color="#277f8e"/><stop offset=".4574" stop-color="#287d8e"/><stop offset=".4660" stop-color="#228c8d"/><stop offset=".4702" stop-color="#6ccd5a"/><stop offset=".4745" stop-color="#c5e021"/><stop offset=".4787" stop-color="#addc30"/><stop offset=".4830" stop-color="#6ccd5a"/><stop offset=".4872" stop-color="#24868e"/><stop offset=".4915" stop-color="#287c8e"/><stop offset=".5000" stop-color="#2d718e"/><stop offset=".5043" stop-color="#287d8e"/><stop offset=".5085" stop-color="#33638d"/><stop offset=".5128" stop-color="#297b8e"/><stop offset=".5298" stop-color="#26828e"/><stop offset=".5340" stop-color="#2c738e"/><stop offset=".5383" stop-color="#25858e"/><stop offset=".5426" stop-color="#29798e"/><stop offset=".5468" stop-color="#365d8d"/><stop offset=".5638" stop-color="#39568c"/><stop offset=".5681" stop-color="#365d8d"/><stop offset=".5766" stop-color="#39558c"/><stop offset=".5851" stop-color="#355e8d"/><stop offset=".5894" stop-color="#38588c"/><stop offset=".5936" stop-color="#2e6d8e"/><stop offset=".5979" stop-color="#21908d"/><stop offset=".6106" stop-color="#1f9a8a"/><stop offset=".6191" stop-color="#3e4c8a"/><stop offset=".6234" stop-color="#3a548c"/><stop offset=".6277" stop-color="#3e4c8a"/><stop offset=".6319" stop-color="#3c4f8a"/><stop offset=".6362" stop-color="#423f85"/><stop offset=".6404" stop-color="#3d4d8a"/><stop offset=".6489" stop-color="#423f85"/><stop offset=".6574" stop-color="#404588"/><stop offset=".6617" stop-color="#3d4e8a"/><stop offset=".6660" stop-color="#3d4d8a"/><stop offset=".6745" stop-color="#433e85"/><stop offset=".6830" stop-color="#424186"/><stop offset=".6872" stop-color="#463480"/><stop offset=".7085" stop-color="#414287"/><stop offset=".7128" stop-color="#46327e"/><stop offset=".7170" stop-color="#443b84"/><stop offset=".7255" stop-color="#46307e"/><stop offset=".7298" stop-color="#443a83"/><stop offset=".7340" stop-color="#472d7b"/><stop offset=".7383" stop-color="#453882"/><stop offset=".7511" stop-color="#463480"/><stop offset=".7553" stop-color="#453882"/><stop offset=".7596" stop-color="#46337f"/><stop offset=".7638" stop-color="#482374"/><stop offset=".7681" stop-color="#443a83"/><stop offset=".7809" stop-color="#481f70"/><stop offset=".7851" stop-color="#463480"/><stop offset=".7894" stop-color="#472e7c"/><stop offset=".7979" stop-color="#423f85"/><stop offset=".8064" stop-color="#482576"/><stop offset=".8106" stop-color="#482374"/><stop offset=".8149" stop-color="#472e7c"/><stop offset=".8191" stop-color="#482475"/><stop offset=".8234" stop-color="#482374"/><stop offset=".8277" stop-color="#453581"/><stop offset=".8362" stop-color="#472e7c"/><stop offset=".8404" stop-color="#453882"/><stop offset=".8574" stop-color="#482979"/><stop offset=".8617" stop-color="#453781"/><stop offset=".8660" stop-color="#482677"/><stop offset=".8745" stop-color="#453581"/><stop offset=".8787" stop-color="#472a7a"/><stop offset=".8830" stop-color="#482677"/><stop offset=".8872" stop-color="#414287"/><stop offset=".8915" stop-color="#482071"/><stop offset=".9000" stop-color="#472a7a"/><stop offset=".9085" stop-color="#482576"/><stop offset=".9213" stop-color="#443983"/><stop offset=".9298" stop-color="#481f70"/><stop offset=".9426" stop-color="#453781"/><stop offset=".9468" stop-color="#482878"/><stop offset=".9553" stop-color="#482475"/><stop offset=".9596" stop-color="#472c7a"/><stop offset=".9638" stop-color="#482374"/><stop offset=".9723" stop-color="#46307e"/><stop offset=".9851" stop-color="#482677"/><stop offset=".9894" stop-color="#472d7b"/><stop offset=".9936" stop-color="#482979"/><stop offset=".9979" stop-color="#472e7c"/></linearGradient>
<linearGradient id="g42" x1="0" x2="1" y1="0" y2="0"><stop offset=".0021" stop-color="#472e7c"/><stop offset=".0064" stop-color="#472e7c"/><stop offset=".0106" stop-color="#482475"/><stop offset=".0149" stop-color="#46327e"/><stop offset=".0319" stop-color="#46337f"/><stop offset=".0362" stop-color="#472d7b"/><stop offset=".0404" stop-color="#453581"/><stop offset=".0489" stop-color="#46307e"/><stop offset=".0574" stop-color="#463480"/><stop offset=".0660" stop-color="#472d7b"/><stop offset=".0702" stop-color="#46307e"/><stop offset=".0745" stop-color="#423f85"/><stop offset=".0787" stop-color="#472f7d"/><stop offset=".0830" stop-color="#472f7d"/><stop offset=".0915" stop-color="#433d84"/><stop offset=".0957" stop-color="#423f85"/><stop offset=".1000" stop-color="#472d7b"/><stop offset=".1085" stop-color="#472f7d"/><stop offset=".1128" stop-color="#453882"/><stop offset=".1213" stop-color="#463480"/><stop offset=".1255" stop-color="#443983"/><stop offset=".1298" stop-color="#472e7c"/><stop offset=".1340" stop-color="#472f7d"/><stop offset=".1383" stop-color="#423f85"/><stop offset=".1426" stop-color="#472e7c"/><stop offset=".1468" stop-color="#443b84"/><stop offset=".1553" stop-color="#453882"/><stop offset=".1596" stop-color="#433e85"/><stop offset=".1638" stop-color="#46337f"/><stop offset=".1681" stop-color="#472f7d"/><stop offset=".1723" stop-color="#443983"/><stop offset=".1766" stop-color="#46327e"/><stop offset=".1809" stop-color="#404688"/><stop offset=".1851" stop-color="#453581"/><stop offset=".1936" stop-color="#453781"/><stop offset=".2106" stop-color="#3f4889"/><stop offset=".2149" stop-color="#404588"/><stop offset=".2191" stop-color="#3c4f8a"/><stop offset=".2277" stop-color="#404588"/><stop offset=".2319" stop-color="#38598c"/><stop offset=".2404" stop-color="#3e4989"/><stop offset=".2447" stop-color="#38598c"/><stop offset=".2489" stop-color="#3a548c"/><stop offset=".2532" stop-color="#30698e"/><stop offset=".2617" stop-color="#39568c"/><stop offset=".2660" stop-color="#34608d"/><stop offset=".2787" stop-color="#39558c"/><stop offset=".2830" stop-color="#38588c"/><stop offset=".2872" stop-color="#31668e"/><stop offset=".3043" stop-color="#31688e"/><stop offset=".3085" stop-color="#2b748e"/><stop offset=".3128" stop-color="#2d708e"/><stop offset=".3170" stop-color="#2a768e"/><stop offset=".3213" stop-color="#2c738e"/><stop offset=".3255" stop-color="#297b8e"/><stop offset=".3298" stop-color="#297a8e"/><stop offset=".3340" stop-color="#2d718e"/><stop offset=".3426" stop-color="#2c718e"/><stop offset=".3511" stop-color="#25848e"/><stop offset=".3553" stop-color="#277e8e"/><stop offset=".3638" stop-color="#238a8d"/><stop offset=".3681" stop-color="#277e8e"/><stop offset=".3723" stop-color="#228b8d"/><stop offset=".3766" stop-color="#25848e"/><stop offset=".3979" stop-color="#25848e"/><stop offset=".4021" stop-color="#297b8e"/><stop offset=".4106" stop-color="#21908d"/><stop offset=".4191" stop-color="#21918c"/><stop offset=".4277" stop-color="#20a386"/><stop offset=".4319" stop-color="#21a685"/><stop offset=".4404" stop-color="#1f968b"/><stop offset=".4447" stop-color="#23888e"/><stop offset=".4489" stop-color="#24878e"/><stop offset=".4532" stop-color="#20928c"/><stop offset=".4574" stop-color="#27808e"/><stop offset=".4617" stop-color="#228d8d"/><stop offset=".4660" stop-color="#24868e"/><stop offset=".4702" stop-color="#1f948c"/><stop offset=".4745" stop-color="#1f958b"/><stop offset=".4787" stop-color="#22a884"/><stop offset=".4830" stop-color="#b5de2b"/><stop offset=".4872" stop-color="#c8e020"/><stop offset=".4915" stop-color="#c2df23"/><stop offset=".4957" stop-color="#25ac82"/><stop offset=".5000" stop-color="#228d8d"/><stop offset=".5043" stop-color="#20938c"/><stop offset=".5085" stop-color="#25848e"/><stop offset=".5128" stop-color="#1f958b"/><stop offset=".5213" stop-color="#20938c"/><stop offset=".5298" stop-color="#1fa088"/><stop offset=".5383" stop-color="#228c8d"/><stop offset=".5426" stop-color="#228c8d"/><stop offset=".5468" stop-color="#25838e"/><stop offset=".5511" stop-color="#32648e"/><stop offset=".5553" stop-color="#2f6b8e"/><stop offset=".5681" stop-color="#2e6e8e"/><stop offset=".5766" stop-color="#34608d"/><stop offset=".5809" stop-color="#30698e"/><stop offset=".5894" stop-color="#355e8d"/><stop offset=".5936" stop-color="#31688e"/><stop offset=".5979" stop-color="#32658e"/><stop offset=".6021" stop-color="#375b8d"/><stop offset=".6064" stop-color="#33628d"/><stop offset=".6106" stop-color="#365d8d"/><stop offset=".6234" stop-color="#33628d"/><stop offset=".6277" stop-color="#26828e"/><stop offset=".6362" stop-color="#1fa088"/><stop offset=".6404" stop-color="#1e9b8a"/><stop offset=".6447" stop-color="#218f8d"/><stop offset=".6489" stop-color="#375b8d"/><stop offset=".6574" stop-color="#3a538b"/><stop offset=".6617" stop-color="#3f4788"/><stop offset=".6660" stop-color="#39558c"/><stop offset=".6702" stop-color="#3a548c"/><stop offset=".6745" stop-color="#3e4989"/><stop offset=".6830" stop-color="#414487"/><stop offset=".6872" stop-color="#3d4d8a"/><stop offset=".6915" stop-color="#414487"/><stop offset=".6957" stop-color="#3e4989"/><stop offset=".7000" stop-color="#433d84"/><stop offset=".7043" stop-color="#443983"/><stop offset=".7085" stop-color="#414487"/><stop offset=".7213" stop-color="#46327e"/><stop offset=".7255" stop-color="#46337f"/><stop offset=".7298" stop-color="#3e4989"/><stop offset=".7340" stop-color="#463480"/><stop offset=".7511" stop-color="#46337f"/><stop offset=".7553" stop-color="#472e7c"/><stop offset=".7596" stop-color="#433e85"/><stop offset=".7638" stop-color="#443983"/><stop offset=".7681" stop-color="#433d84"/><stop offset=".7766" stop-color="#472a7a"/><stop offset=".7809" stop-color="#472f7d"/><stop offset=".7851" stop-color="#472a7a"/><stop offset=".7894" stop-color="#453882"/><stop offset=".7936" stop-color="#463480"/><stop offset=".7979" stop-color="#443983"/><stop offset=".8106" stop-color="#482677"/><stop offset=".8191" stop-color="#463480"/><stop offset=".8362" stop-color="#453882"/><stop offset=".8404" stop-color="#482979"/><stop offset=".8447" stop-color="#472f7d"/><stop offset=".8489" stop-color="#472c7a"/><stop offset=".8532" stop-color="#463480"/><stop offset=".8574" stop-color="#472f7d"/><stop offset=".8617" stop-color="#443b84"/><stop offset=".8660" stop-color="#423f85"/><stop offset=".8702" stop-color="#453781"/><stop offset=".8745" stop-color="#443b84"/><stop offset=".8787" stop-color="#46307e"/><stop offset=".8872" stop-color="#453882"/><stop offset=".9000" stop-color="#482979"/><stop offset=".9043" stop-color="#453781"/><stop offset=".9085" stop-color="#46327e"/><stop offset=".9170" stop-color="#443b84"/><stop offset=".9255" stop-color="#46337f"/><stop offset=".9383" stop-color="#453781"/><stop offset=".9426" stop-color="#472f7d"/><stop offset=".9638" stop-color="#453581"/><stop offset=".9723" stop-color="#46327e"/><stop offset=".9766" stop-color="#443a83"/><stop offset=".9809" stop-color="#472d7b"/><stop offset=".9936" stop-color="#423f85"/><stop offset=".9979" stop-color="#46327e"/></linearGradient>
<linearGradient id="g43" x1="0" x2="1" y1="0" y2="0"><stop offset=".0021" stop-color="#472e7c"/><stop offset=".0106" stop-color="#472a7a"/><stop offset=".0149" stop-color="#453781"/><stop offset=".0191" stop-color="#482979"/><stop offset=".0234" stop-color="#482878"/><stop offset=".0319" stop-color="#46337f"/><stop offset=".0362" stop-color="#482979"/><stop offset=".0404" stop-color="#472a7a"/><stop offset=".0447" stop-color="#443a83"/><stop offset=".0489" stop-color="#472a7a"/><stop offset=".0532" stop-color="#453882"/><stop offset=".0574" stop-color="#481f70"/><stop offset=".0617" stop-color="#46307e"/><stop offset=".0660" stop-color="#482576"/><stop offset=".0702" stop-color="#453581"/><stop offset=".0830" stop-color="#482878"/><stop offset=".0872" stop-color="#46327e"/><stop offset=".0957" stop-color="#443b84"/><stop offset=".1000" stop-color="#46307e"/><stop offset=".1043" stop-color="#46327e"/><stop offset=".1085" stop-color="#433e85"/><stop offset=".1128" stop-color="#472d7b"/><stop offset=".1170" stop-color="#482878"/><stop offset=".1213" stop-color="#453882"/><stop offset=".1255" stop-color="#472f7d"/><stop offset=".1426" stop-color="#463480"/><stop offset=".1596" stop-color="#463480"/><stop offset=".1681" stop-color="#472a7a"/><stop offset=".1809" stop-color="#453781"/><stop offset=".1851" stop-color="#472f7d"/><stop offset=".1894" stop-color="#453882"/><stop offset=".1936" stop-color="#463480"/><stop offset=".1979" stop-color="#453882"/><stop offset=".2064" stop-color="#46307e"/><stop offset=".2234" stop-color="#3c508b"/><stop offset=".2277" stop-color="#404588"/><stop offset=".2319" stop-color="#3c4f8a"/><stop offset=".2447" stop-color="#3a548c"/><stop offset=".2489" stop-color="#3b518b"/><stop offset=".2574" stop-color="#38598c"/><stop offset=".2617" stop-color="#3c508b"/><stop offset=".2660" stop-color="#3c508b"/><stop offset=".2702" stop-color="#375a8c"/><stop offset=".2787" stop-color="#3b518b"/><stop offset=".2830" stop-color="#3a538b"/><stop offset=".2872" stop-color="#34608d"/><stop offset=".2915" stop-color="#38598c"/><stop offset=".2957" stop-color="#355e8d"/><stop offset=".3000" stop-color="#365c8d"/><stop offset=".3043" stop-color="#33628d"/><stop offset=".3085" stop-color="#34618d"/><stop offset=".3213" stop-color="#2d708e"/><stop offset=".3255" stop-color="#287c8e"/><stop offset=".3340" stop-color="#26818e"/><stop offset=".3383" stop-color="#287d8e"/><stop offset=".3426" stop-color="#25838e"/><stop offset=".3468" stop-color="#26818e"/><stop offset=".3511" stop-color="#2d718e"/><stop offset=".3553" stop-color="#287c8e"/><stop offset=".3681" stop-color="#2a768e"/><stop offset=".3723" stop-color="#27808e"/><stop offset=".3766" stop-color="#2e6f8e"/><stop offset=".3809" stop-color="#26828e"/><stop offset=".3851" stop-color="#2e6e8e"/><stop offset=".3894" stop-color="#2c728e"/><stop offset=".3979" stop-color="#26828e"/><stop offset=".4149" stop-color="#22a884"/><stop offset=".4191" stop-color="#21a585"/><stop offset=".4277" stop-color="#20928c"/><stop offset=".4319" stop-color="#20938c"/><stop offset=".4362" stop-color="#25858e"/><stop offset=".4404" stop-color="#238a8d"/><stop offset=".4447" stop-color="#24868e"/><stop offset=".4489" stop-color="#218e8d"/><stop offset=".4532" stop-color="#25858e"/><stop offset=".4574" stop-color="#20928c"/><stop offset=".4617" stop-color="#2a768e"/><stop offset=".4660" stop-color="#26818e"/><stop offset=".4702" stop-color="#26818e"/><stop offset=".4745" stop-color="#1f968b"/><stop offset=".4787" stop-color="#bade28"/><stop offset=".4830" stop-color="#d2e21b"/><stop offset=".4872" stop-color="#b0dd2f"/><stop offset=".4915" stop-color="#32b67a"/><stop offset=".4957" stop-color="#218e8d"/><stop offset=".5000" stop-color="#218f8d"/><stop offset=".5043" stop-color="#23888e"/><stop offset=".5085" stop-color="#1f958b"/><stop offset=".5128" stop-color="#26828e"/><stop offset=".5255" stop-color="#287c8e"/><stop offset=".5298" stop-color="#24878e"/><stop offset=".5340" stop-color="#26828e"/><stop offset=".5383" stop-color="#23898e"/><stop offset=".5468" stop-color="#25848e"/><stop offset=".5511" stop-color="#31688e"/><stop offset=".5553" stop-color="#38598c"/><stop offset=".5596" stop-color="#365c8d"/><stop offset=".5638" stop-color="#3a538b"/><stop offset=".5681" stop-color="#32648e"/><stop offset=".5723" stop-color="#30698e"/><stop offset=".5766" stop-color="#3d4d8a"/><stop offset=".5851" stop-color="#3c508b"/><stop offset=".5936" stop-color="#32648e"/><stop offset=".5979" stop-color="#32658e"/><stop offset=".6021" stop-color="#38598c"/><stop offset=".6191" stop-color="#375a8c"/><stop offset=".6234" stop-color="#33638d"/><stop offset=".6277" stop-color="#21908d"/><stop offset=".6319" stop-color="#1fa188"/><stop offset=".6362" stop-color="#21a685"/><stop offset=".6404" stop-color="#1fa187"/><stop offset=".6447" stop-color="#1f968b"/><stop offset=".6489" stop-color="#34608d"/><stop offset=".6617" stop-color="#414487"/><stop offset=".6660" stop-color="#423f85"/><stop offset=".6702" stop-color="#3f4788"/><stop offset=".6787" stop-color="#443983"/><stop offset=".6830" stop-color="#424186"/><stop offset=".6872" stop-color="#453781"/><stop offset=".6915" stop-color="#404688"/><stop offset=".7043" stop-color="#482979"/><stop offset=".7085" stop-color="#433e85"/><stop offset=".7128" stop-color="#414287"/><stop offset=".7170" stop-color="#443b84"/><stop offset=".7213" stop-color="#472c7a"/><stop offset=".7255" stop-color="#424086"/><stop offset=".7298" stop-color="#46327e"/><stop offset=".7426" stop-color="#443b84"/><stop offset=".7468" stop-color="#46307e"/><stop offset=".7511" stop-color="#423f85"/><stop offset=".7553" stop-color="#46327e"/><stop offset=".7596" stop-color="#453581"/><stop offset=".7681" stop-color="#482979"/><stop offset=".7809" stop-color="#443983"/><stop offset=".7894" stop-color="#482878"/><stop offset=".7979" stop-color="#46327e"/><stop offset=".8064" stop-color="#472d7b"/><stop offset=".8149" stop-color="#453882"/><stop offset=".8191" stop-color="#482677"/><stop offset=".8277" stop-color="#482576"/><stop offset=".8362" stop-color="#453581"/><stop offset=".8404" stop-color="#482374"/><stop offset=".8447" stop-color="#472c7a"/><stop offset=".8489" stop-color="#482576"/><stop offset=".8532" stop-color="#453581"/><stop offset=".8574" stop-color="#482576"/><stop offset=".8617" stop-color="#472c7a"/><stop offset=".8660" stop-color="#482576"/><stop offset=".8702" stop-color="#443983"/><stop offset=".8745" stop-color="#482878"/><stop offset=".8830" stop-color="#482475"/><stop offset=".8872" stop-color="#453781"/><stop offset=".9000" stop-color="#472a7a"/><stop offset=".9085" stop-color="#453781"/><stop offset=".9128" stop-color="#472d7b"/><stop offset=".9213" stop-color="#46327e"/><stop offset=".9255" stop-color="#482173"/><stop offset=".9468" stop-color="#482475"/><stop offset=".9511" stop-color="#453781"/><stop offset=".9553" stop-color="#482878"/><stop offset=".9596" stop-color="#472a7a"/><stop offset=".9638" stop-color="#463480"/><stop offset=".9681" stop-color="#482576"/><stop offset=".9766" stop-color="#472a7a"/><stop offset=".9809" stop-color="#443983"/><stop offset=".9851" stop-color="#46327e"/><stop offset=".9894" stop-color="#46337f"/><stop offset=".9936" stop-color="#482979"/><stop offset=".9979" stop-color="#453581"/></linearGradient>
<linearGradient id="g44" x1="0" x2="1" y1="0" y2="0"><stop offset=".0021" stop-color="#472a7a"/><stop offset=".0064" stop-color="#472d7b"/><stop offset=".0106" stop-color="#481f70"/><stop offset=".0149" stop-color="#443a83"/><stop offset=".0191" stop-color="#472e7c"/><stop offset=".0234" stop-color="#453781"/><stop offset=".0277" stop-color="#472e7c"/><stop offset=".0404" stop-color="#453882"/><stop offset=".0489" stop-color="#472f7d"/><stop offset=".0532" stop-color="#482374"/><stop offset=".0617" stop-color="#46307e"/><stop offset=".0660" stop-color="#472f7d"/><stop offset=".0702" stop-color="#453581"/><stop offset=".0787" stop-color="#482878"/><stop offset=".0872" stop-color="#46337f"/><stop offset=".0915" stop-color="#472f7d"/><stop offset=".0957" stop-color="#482374"/><stop offset=".1000" stop-color="#46307e"/><stop offset=".1043" stop-color="#46337f"/><stop offset=".1085" stop-color="#482878"/><stop offset=".1128" stop-color="#472f7d"/><stop offset=".1170" stop-color="#481d6f"/><stop offset=".1213" stop-color="#472c7a"/><stop offset=".1255" stop-color="#482173"/><stop offset=".1298" stop-color="#472e7c"/><stop offset=".1340" stop-color="#472a7a"/><stop offset=".1383" stop-color="#463480"/><stop offset=".1468" stop-color="#453882"/><stop offset=".1511" stop-color="#482374"/><stop offset=".1596" stop-color="#453581"/><stop offset=".1638" stop-color="#46307e"/><stop offset=".1723" stop-color="#443a83"/><stop offset=".1766" stop-color="#46327e"/><stop offset=".1809" stop-color="#443b84"/><stop offset=".2021" stop-color="#39558c"/><stop offset=".2106" stop-color="#3a548c"/><stop offset=".2191" stop-color="#404688"/><stop offset=".2234" stop-color="#3e4a89"/><stop offset=".2277" stop-color="#453882"/><stop offset=".2319" stop-color="#404688"/><stop offset=".2447" stop-color="#3c508b"/><stop offset=".2489" stop-color="#3d4e8a"/><stop offset=".2532" stop-color="#38598c"/><stop offset=".2574" stop-color="#3e4c8a"/><stop offset=".2617" stop-color="#39568c"/><stop offset=".2702" stop-color="#3c4f8a"/><stop offset=".2745" stop-color="#355e8d"/><stop offset=".2787" stop-color="#38598c"/><stop offset=".2830" stop-color="#375b8d"/><stop offset=".2872" stop-color="#2f6b8e"/><stop offset=".2915" stop-color="#2e6e8e"/><stop offset=".2957" stop-color="#32648e"/><stop offset=".3043" stop-color="#2e6e8e"/><stop offset=".3128" stop-color="#31678e"/><stop offset=".3170" stop-color="#2c728e"/><stop offset=".3213" stop-color="#306a8e"/><stop offset=".3340" stop-color="#2d708e"/><stop offset=".3383" stop-color="#287d8e"/><stop offset=".3426" stop-color="#2c738e"/><stop offset=".3468" stop-color="#2c738e"/><stop offset=".3511" stop-color="#2e6e8e"/><stop offset=".3553" stop-color="#287d8e"/><stop offset=".3596" stop-color="#2e6e8e"/><stop offset=".3681" stop-color="#287d8e"/><stop offset=".3723" stop-color="#297b8e"/><stop offset=".3766" stop-color="#228d8d"/><stop offset=".3809" stop-color="#228d8d"/><stop offset=".3894" stop-color="#20a386"/><stop offset=".3979" stop-color="#23a983"/><stop offset=".4021" stop-color="#1fa287"/><stop offset=".4106" stop-color="#297a8e"/><stop offset=".4149" stop-color="#2a778e"/><stop offset=".4191" stop-color="#26818e"/><stop offset=".4234" stop-color="#2a778e"/><stop offset=".4319" stop-color="#2a778e"/><stop offset=".4404" stop-color="#23888e"/><stop offset=".4532" stop-color="#27808e"/><stop offset=".4574" stop-color="#20928c"/><stop offset=".4617" stop-color="#1e9c89"/><stop offset=".4660" stop-color="#c2df23"/><stop offset=".4745" stop-color="#cde11d"/><stop offset=".4787" stop-color="#1fa287"/><stop offset=".4830" stop-color="#228d8d"/><stop offset=".4872" stop-color="#1e9b8a"/><stop offset=".4915" stop-color="#24878e"/><stop offset=".4957" stop-color="#24868e"/><stop offset=".5000" stop-color="#228c8d"/><stop offset=".5085" stop-color="#26828e"/><stop offset=".5213" stop-color="#238a8d"/><stop offset=".5255" stop-color="#277e8e"/><stop offset=".5298" stop-color="#238a8d"/><stop offset=".5383" stop-color="#26818e"/><stop offset=".5426" stop-color="#25848e"/><stop offset=".5511" stop-color="#2b748e"/><stop offset=".5553" stop-color="#33638d"/><stop offset=".5596" stop-color="#375b8d"/><stop offset=".5638" stop-color="#375b8d"/><stop offset=".5681" stop-color="#32648e"/><stop offset=".5723" stop-color="#3d4d8a"/><stop offset=".5766" stop-color="#33638d"/><stop offset=".5809" stop-color="#39558c"/><stop offset=".5851" stop-color="#3a548c"/><stop offset=".5894" stop-color="#33628d"/><stop offset=".5936" stop-color="#39558c"/><stop offset=".5979" stop-color="#355f8d"/><stop offset=".6021" stop-color="#3b518b"/><stop offset=".6064" stop-color="#39558c"/><stop offset=".6106" stop-color="#34618d"/><stop offset=".6149" stop-color="#24878e"/><stop offset=".6191" stop-color="#218f8d"/><stop offset=".6234" stop-color="#238a8d"/><stop offset=".6277" stop-color="#228b8d"/><stop offset=".6319" stop-color="#25858e"/><stop offset=".6362" stop-color="#31678e"/><stop offset=".6404" stop-color="#3a548c"/><stop offset=".6447" stop-color="#3c4f8a"/><stop offset=".6489" stop-color="#38588c"/><stop offset=".6532" stop-color="#3b528b"/><stop offset=".6574" stop-color="#38598c"/><stop offset=".6617" stop-color="#3f4889"/><stop offset=".6702" stop-color="#3e4989"/><stop offset=".6745" stop-color="#424186"/><stop offset=".6787" stop-color="#414487"/><stop offset=".6872" stop-color="#453781"/><stop offset=".6915" stop-color="#414287"/><stop offset=".6957" stop-color="#472f7d"/><stop offset=".7000" stop-color="#453882"/><stop offset=".7085" stop-color="#472f7d"/><stop offset=".7128" stop-color="#433d84"/><stop offset=".7213" stop-color="#404588"/><stop offset=".7255" stop-color="#46327e"/><stop offset=".7340" stop-color="#443983"/><stop offset=".7383" stop-color="#46327e"/><stop offset=".7426" stop-color="#443b84"/><stop offset=".7468" stop-color="#46327e"/><stop offset=".7511" stop-color="#46307e"/><stop offset=".7553" stop-color="#3f4889"/><stop offset=".7596" stop-color="#472a7a"/><stop offset=".7723" stop-color="#46307e"/><stop offset=".7766" stop-color="#433d84"/><stop offset=".7809" stop-color="#472d7b"/><stop offset=".7851" stop-color="#443a83"/><stop offset=".7936" stop-color="#46337f"/><stop offset=".7979" stop-color="#453781"/><stop offset=".8021" stop-color="#472d7b"/><stop offset=".8106" stop-color="#453781"/><stop offset=".8191" stop-color="#463480"/><stop offset=".8234" stop-color="#453882"/><stop offset=".8319" stop-color="#482979"/><stop offset=".8362" stop-color="#46337f"/><stop offset=".8404" stop-color="#482576"/><stop offset=".8447" stop-color="#46337f"/><stop offset=".8532" stop-color="#472c7a"/><stop offset=".8574" stop-color="#46337f"/><stop offset=".8702" stop-color="#46307e"/><stop offset=".8787" stop-color="#46337f"/><stop offset=".8830" stop-color="#482878"/><stop offset=".8915" stop-color="#453781"/><stop offset=".9000" stop-color="#472a7a"/><stop offset=".9043" stop-color="#472f7d"/><stop offset=".9085" stop-color="#482677"/><stop offset=".9128" stop-color="#46307e"/><stop offset=".9213" stop-color="#482979"/><stop offset=".9255" stop-color="#424086"/><stop offset=".9298" stop-color="#46337f"/><stop offset=".9340" stop-color="#453882"/><stop offset=".9383" stop-color="#482979"/><stop offset=".9468" stop-color="#472e7c"/><stop offset=".9511" stop-color="#482979"/><stop offset=".9553" stop-color="#453882"/><stop offset=".9596" stop-color="#482071"/><stop offset=".9681" stop-color="#443983"/><stop offset=".9766" stop-color="#46337f"/><stop offset=".9809" stop-color="#482677"/><stop offset=".9851" stop-color="#482979"/><stop offset=".9894" stop-color="#463480"/><stop offset=".9936" stop-color="#482677"/><stop offset=".9979" stop-color="#433e85"/></linearGradient>
<linearGradient id="g45" x1="0" x2="1" y1="0" y2="0"><stop offset=".0021" stop-color="#482979"/><stop offset=".0064" stop-color="#433e85"/><stop offset=".0149" stop-color="#472a7a"/><stop offset=".0191" stop-color="#443983"/><stop offset=".0234" stop-color="#453781"/><stop offset=".0277" stop-color="#482173"/><stop offset=".0362" stop-color="#443b84"/><stop offset=".0404" stop-color="#443983"/><stop offset=".0447" stop-color="#472e7c"/><stop offset=".0574" stop-color="#443983"/><stop offset=".0617" stop-color="#472d7b"/><stop offset=".0660" stop-color="#482979"/><stop offset=".0745" stop-color="#453581"/><stop offset=".0787" stop-color="#482475"/><stop offset=".0830" stop-color="#453781"/><stop offset=".0915" stop-color="#46327e"/><stop offset=".0957" stop-color="#424086"/><stop offset=".1000" stop-color="#472f7d"/><stop offset=".1128" stop-color="#443983"/><stop offset=".1255" stop-color="#46307e"/><stop offset=".1298" stop-color="#482677"/><stop offset=".1340" stop-color="#46337f"/><stop offset=".1426" stop-color="#472a7a"/><stop offset=".1468" stop-color="#453581"/><stop offset=".1553" stop-color="#453781"/><stop offset=".1596" stop-color="#472a7a"/><stop offset=".1638" stop-color="#453781"/><stop offset=".1766" stop-color="#472f7d"/><stop offset=".1809" stop-color="#414287"/><stop offset=".1851" stop-color="#46327e"/><stop offset=".1894" stop-color="#433e85"/><stop offset=".1979" stop-color="#414287"/><stop offset=".2021" stop-color="#433d84"/><stop offset=".2064" stop-color="#38588c"/><stop offset=".2106" stop-color="#3c508b"/><stop offset=".2149" stop-color="#39568c"/><stop offset=".2234" stop-color="#3a538b"/><stop offset=".2319" stop-color="#3d4d8a"/><stop offset=".2362" stop-color="#365c8d"/><stop offset=".2447" stop-color="#38598c"/><stop offset=".2532" stop-color="#355e8d"/><stop offset=".2574" stop-color="#39558c"/><stop offset=".2660" stop-color="#38588c"/><stop offset=".2745" stop-color="#33628d"/><stop offset=".2787" stop-color="#34618d"/><stop offset=".2830" stop-color="#2e6d8e"/><stop offset=".2915" stop-color="#2f6c8e"/><stop offset=".2957" stop-color="#2a768e"/><stop offset=".3043" stop-color="#26828e"/><stop offset=".3128" stop-color="#2c728e"/><stop offset=".3170" stop-color="#31668e"/><stop offset=".3213" stop-color="#2e6e8e"/><stop offset=".3255" stop-color="#2e6e8e"/><stop offset=".3298" stop-color="#31688e"/><stop offset=".3340" stop-color="#2c718e"/><stop offset=".3383" stop-color="#2f6c8e"/><stop offset=".3511" stop-color="#2c738e"/><stop offset=".3553" stop-color="#306a8e"/><stop offset=".3596" stop-color="#25848e"/><stop offset=".3681" stop-color="#297b8e"/><stop offset=".3851" stop-color="#23898e"/><stop offset=".3936" stop-color="#1e9b8a"/><stop offset=".4021" stop-color="#1fa187"/><stop offset=".4149" stop-color="#24878e"/><stop offset=".4191" stop-color="#25858e"/><stop offset=".4234" stop-color="#297a8e"/><stop offset=".4319" stop-color="#2a778e"/><stop offset=".4362" stop-color="#24878e"/><stop offset=".4404" stop-color="#277f8e"/><stop offset=".4489" stop-color="#23888e"/><stop offset=".4532" stop-color="#26818e"/><stop offset=".4617" stop-color="#218f8d"/><stop offset=".4660" stop-color="#25ac82"/><stop offset=".4702" stop-color="#addc30"/><stop offset=".4745" stop-color="#d2e21b"/><stop offset=".4787" stop-color="#98d83e"/><stop offset=".4830" stop-color="#1fa187"/><stop offset=".4872" stop-color="#218f8d"/><stop offset=".4957" stop-color="#23888e"/><stop offset=".5000" stop-color="#25838e"/><stop offset=".5043" stop-color="#218e8d"/><stop offset=".5085" stop-color="#25858e"/><stop offset=".5213" stop-color="#277e8e"/><stop offset=".5255" stop-color="#25858e"/><stop offset=".5298" stop-color="#277f8e"/><stop offset=".5340" stop-color="#25838e"/><stop offset=".5383" stop-color="#1f978b"/><stop offset=".5426" stop-color="#23898e"/><stop offset=".5468" stop-color="#20928c"/><stop offset=".5511" stop-color="#21908d"/><stop offset=".5596" stop-color="#33638d"/><stop offset=".5681" stop-color="#355f8d"/><stop offset=".5723" stop-color="#32648e"/><stop offset=".5766" stop-color="#355f8d"/><stop offset=".5851" stop-color="#31688e"/><stop offset=".5936" stop-color="#3b518b"/><stop offset=".5979" stop-color="#3b518b"/><stop offset=".6021" stop-color="#365d8d"/><stop offset=".6106" stop-color="#38588c"/><stop offset=".6149" stop-color="#34618d"/><stop offset=".6191" stop-color="#365d8d"/><stop offset=".6234" stop-color="#3b518b"/><stop offset=".6277" stop-color="#365d8d"/><stop offset=".6319" stop-color="#25858e"/><stop offset=".6362" stop-color="#1fa088"/><stop offset=".6404" stop-color="#1f9a8a"/><stop offset=".6447" stop-color="#1fa088"/><stop offset=".6489" stop-color="#20928c"/><stop offset=".6574" stop-color="#3d4d8a"/><stop offset=".6617" stop-color="#3b528b"/><stop offset=".6660" stop-color="#424186"/><stop offset=".6702" stop-color="#3c508b"/><stop offset=".6745" stop-color="#443b84"/><stop offset=".6830" stop-color="#3f4889"/><stop offset=".6872" stop-color="#443b84"/><stop offset=".7000" stop-color="#414487"/><stop offset=".7043" stop-color="#443983"/><stop offset=".7128" stop-color="#443b84"/><stop offset=".7170" stop-color="#3e4a89"/><stop offset=".7213" stop-color="#453781"/><stop offset=".7255" stop-color="#453882"/><stop offset=".7298" stop-color="#424086"/><stop offset=".7383" stop-color="#46307e"/><stop offset=".7426" stop-color="#463480"/><stop offset=".7468" stop-color="#472a7a"/><stop offset=".7511" stop-color="#472a7a"/><stop offset=".7596" stop-color="#453781"/><stop offset=".7638" stop-color="#472e7c"/><stop offset=".7723" stop-color="#443a83"/><stop offset=".7766" stop-color="#482979"/><stop offset=".7809" stop-color="#443b84"/><stop offset=".7851" stop-color="#443a83"/><stop offset=".7936" stop-color="#482576"/><stop offset=".7979" stop-color="#46337f"/><stop offset=".8021" stop-color="#472d7b"/><stop offset=".8064" stop-color="#453581"/><stop offset=".8106" stop-color="#472f7d"/><stop offset=".8149" stop-color="#463480"/><stop offset=".8191" stop-color="#472d7b"/><stop offset=".8277" stop-color="#443b84"/><stop offset=".8319" stop-color="#472d7b"/><stop offset=".8447" stop-color="#443983"/><stop offset=".8532" stop-color="#481d6f"/><stop offset=".8617" stop-color="#46337f"/><stop offset=".8745" stop-color="#443983"/><stop offset=".8787" stop-color="#482878"/><stop offset=".8830" stop-color="#482173"/><stop offset=".8872" stop-color="#453581"/><stop offset=".8915" stop-color="#433e85"/><stop offset=".8957" stop-color="#46307e"/><stop offset=".9000" stop-color="#453581"/><stop offset=".9043" stop-color="#472e7c"/><stop offset=".9085" stop-color="#453581"/><stop offset=".9170" stop-color="#46307e"/><stop offset=".9213" stop-color="#453781"/><stop offset=".9298" stop-color="#46337f"/><stop offset=".9340" stop-color="#482475"/><stop offset=".9383" stop-color="#472d7b"/><stop offset=".9553" stop-color="#46337f"/><stop offset=".9596" stop-color="#472a7a"/><stop offset=".9638" stop-color="#46337f"/><stop offset=".9766" stop-color="#472e7c"/><stop offset=".9809" stop-color="#453781"/><stop offset=".9851" stop-color="#463480"/><stop offset=".9894" stop-color="#443b84"/><stop offset=".9979" stop-color="#481c6e"/></linearGradient>
<linearGradient id="g46" x1="0" x2="1" y1="0" y2="0"><stop offset=".0021" stop-color="#472c7a"/><stop offset=".0234" stop-color="#472f7d"/><stop offset=".0277" stop-color="#433e85"/><stop offset=".0362" stop-color="#443b84"/><stop offset=".0404" stop-color="#472e7c"/><stop offset=".0489" stop-color="#453581"/><stop offset=".0532" stop-color="#481c6e"/><stop offset=".0617" stop-color="#46327e"/><stop offset=".0660" stop-color="#46327e"/><stop offset=".0702" stop-color="#433d84"/><stop offset=".0745" stop-color="#472f7d"/><stop offset=".0830" stop-color="#453882"/><stop offset=".0872" stop-color="#46337f"/><stop offset=".0915" stop-color="#3f4889"/><stop offset=".1000" stop-color="#453581"/><stop offset=".1340" stop-color="#453781"/><stop offset=".1426" stop-color="#472a7a"/><stop offset=".1468" stop-color="#46307e"/><stop offset=".1511" stop-color="#433e85"/><stop offset=".1553" stop-color="#46307e"/><stop offset=".1596" stop-color="#453781"/><stop offset=".1638" stop-color="#472a7a"/><stop offset=".1681" stop-color="#472e7c"/><stop offset=".1723" stop-color="#443b84"/><stop offset=".1766" stop-color="#443b84"/><stop offset=".1809" stop-color="#3e4c8a"/><stop offset=".1894" stop-color="#414287"/><stop offset=".1979" stop-color="#39568c"/><stop offset=".2064" stop-color="#3a538b"/><stop offset=".2149" stop-color="#355f8d"/><stop offset=".2191" stop-color="#3a538b"/><stop offset=".2319" stop-color="#365c8d"/><stop offset=".2362" stop-color="#38588c"/><stop offset=".2447" stop-color="#31668e"/><stop offset=".2489" stop-color="#375b8d"/><stop offset=".2532" stop-color="#31668e"/><stop offset=".2660" stop-color="#31668e"/><stop offset=".2787" stop-color="#2e6d8e"/><stop offset=".2830" stop-color="#29798e"/><stop offset=".2915" stop-color="#2a788e"/><stop offset=".3000" stop-color="#26818e"/><stop offset=".3085" stop-color="#287c8e"/><stop offset=".3128" stop-color="#287c8e"/><stop offset=".3170" stop-color="#2b748e"/><stop offset=".3340" stop-color="#297a8e"/><stop offset=".3426" stop-color="#228c8d"/><stop offset=".3511" stop-color="#297b8e"/><stop offset=".3553" stop-color="#277e8e"/><stop offset=".3596" stop-color="#23888e"/><stop offset=".3638" stop-color="#25848e"/><stop offset=".3681" stop-color="#2c738e"/><stop offset=".3723" stop-color="#26818e"/><stop offset=".3851" stop-color="#20938c"/><stop offset=".3894" stop-color="#1f948c"/><stop offset=".3936" stop-color="#20a386"/><stop offset=".3979" stop-color="#24aa83"/><stop offset=".4064" stop-color="#1fa187"/><stop offset=".4234" stop-color="#24868e"/><stop offset=".4277" stop-color="#26828e"/><stop offset=".4319" stop-color="#24878e"/><stop offset=".4362" stop-color="#26828e"/><stop offset=".4404" stop-color="#218e8d"/><stop offset=".4447" stop-color="#26828e"/><stop offset=".4489" stop-color="#26828e"/><stop offset=".4532" stop-color="#228c8d"/><stop offset=".4574" stop-color="#27808e"/><stop offset=".4617" stop-color="#1f9f88"/><stop offset=".4660" stop-color="#7cd250"/><stop offset=".4702" stop-color="#b5de2b"/><stop offset=".4745" stop-color="#b5de2b"/><stop offset=".4787" stop-color="#60ca60"/><stop offset=".4830" stop-color="#1f948c"/><stop offset=".4872" stop-color="#1e9c89"/><stop offset=".4915" stop-color="#1f968b"/><stop offset=".4957" stop-color="#23888e"/><stop offset=".5000" stop-color="#21908d"/><stop offset=".5043" stop-color="#21908d"/><stop offset=".5085" stop-color="#24878e"/><stop offset=".5128" stop-color="#21908d"/><stop offset=".5170" stop-color="#21918c"/><stop offset=".5213" stop-color="#23888e"/><stop offset=".5255" stop-color="#23888e"/><stop offset=".5298" stop-color="#20928c"/><stop offset=".5340" stop-color="#20928c"/><stop offset=".5383" stop-color="#238a8d"/><stop offset=".5426" stop-color="#20938c"/><stop offset=".5511" stop-color="#228b8d"/><stop offset=".5553" stop-color="#1f958b"/><stop offset=".5596" stop-color="#2f6c8e"/><stop offset=".5638" stop-color="#375b8d"/><stop offset=".5723" stop-color="#33628d"/><stop offset=".5766" stop-color="#38598c"/><stop offset=".5809" stop-color="#355e8d"/><stop offset=".5851" stop-color="#3b528b"/><stop offset=".5894" stop-color="#32648e"/><stop offset=".5936" stop-color="#2e6e8e"/><stop offset=".5979" stop-color="#365d8d"/><stop offset=".6021" stop-color="#375b8d"/><stop offset=".6064" stop-color="#33628d"/><stop offset=".6149" stop-color="#34608d"/><stop offset=".6191" stop-color="#39568c"/><stop offset=".6277" stop-color="#3b518b"/><stop offset=".6404" stop-color="#365c8d"/><stop offset=".6447" stop-color="#228b8d"/><stop offset=".6574" stop-color="#1e9d89"/><stop offset=".6617" stop-color="#26818e"/><stop offset=".6660" stop-color="#38598c"/><stop offset=".6702" stop-color="#3e4c8a"/><stop offset=".6787" stop-color="#414287"/><stop offset=".6830" stop-color="#3e4989"/><stop offset=".6957" stop-color="#404688"/><stop offset=".7000" stop-color="#443983"/><stop offset=".7043" stop-color="#453781"/><stop offset=".7085" stop-color="#424086"/><stop offset=".7128" stop-color="#433d84"/><stop offset=".7170" stop-color="#414287"/><stop offset=".7255" stop-color="#424086"/><stop offset=".7298" stop-color="#463480"/><stop offset=".7340" stop-color="#414287"/><stop offset=".7383" stop-color="#46327e"/><stop offset=".7468" stop-color="#433e85"/><stop offset=".7511" stop-color="#472d7b"/><stop offset=".7553" stop-color="#443b84"/><stop offset=".7723" stop-color="#443983"/><stop offset=".7766" stop-color="#472c7a"/><stop offset=".7894" stop-color="#463480"/><stop offset=".7936" stop-color="#482576"/><stop offset=".7979" stop-color="#46327e"/><stop offset=".8021" stop-color="#482677"/><stop offset=".8064" stop-color="#463480"/><stop offset=".8106" stop-color="#443983"/><stop offset=".8149" stop-color="#482878"/><stop offset=".8191" stop-color="#472d7b"/><stop offset=".8234" stop-color="#482173"/><stop offset=".8277" stop-color="#443983"/><stop offset=".8362" stop-color="#453581"/><stop offset=".8447" stop-color="#46327e"/><stop offset=".8532" stop-color="#443a83"/><stop offset=".8574" stop-color="#482979"/><stop offset=".8617" stop-color="#472d7b"/><stop offset=".8660" stop-color="#482979"/><stop offset=".8702" stop-color="#453882"/><stop offset=".8787" stop-color="#472f7d"/><stop offset=".8872" stop-color="#433d84"/><stop offset=".8915" stop-color="#46327e"/><stop offset=".8957" stop-color="#443b84"/><stop offset=".9000" stop-color="#433d84"/><stop offset=".9043" stop-color="#472d7b"/><stop offset=".9128" stop-color="#472d7b"/><stop offset=".9170" stop-color="#463480"/><stop offset=".9255" stop-color="#472c7a"/><stop offset=".9298" stop-color="#46327e"/><stop offset=".9340" stop-color="#46307e"/><stop offset=".9383" stop-color="#443983"/><stop offset=".9426" stop-color="#482878"/><stop offset=".9468" stop-color="#46307e"/><stop offset=".9511" stop-color="#482979"/><stop offset=".9723" stop-color="#443a83"/><stop offset=".9766" stop-color="#443a83"/><stop offset=".9851" stop-color="#482878"/><stop offset=".9894" stop-color="#453781"/><stop offset=".9936" stop-color="#482979"/><stop offset=".9979" stop-color="#443a83"/></linearGradient>
<linearGradient id="g47" x1="0" x2="1" y1="0" y2="0"><stop offset=".0021" stop-color="#482475"/><stop offset=".0064" stop-color="#472e7c"/><stop offset=".0106" stop-color="#472d7b"/><stop offset=".0149" stop-color="#482071"/><stop offset=".0191" stop-color="#453781"/><stop offset=".0319" stop-color="#46327e"/><stop offset=".0362" stop-color="#482173"/><stop offset=".0447" stop-color="#443983"/><stop offset=".0532" stop-color="#482878"/><stop offset=".0574" stop-color="#46337f"/><stop offset=".0702" stop-color="#472e7c"/><stop offset=".0745" stop-color="#463480"/><stop offset=".0787" stop-color="#472d7b"/><stop offset=".0830" stop-color="#46337f"/><stop offset=".0872" stop-color="#472a7a"/><stop offset=".0957" stop-color="#472f7d"/><stop offset=".1000" stop-color="#482677"/><stop offset=".1085" stop-color="#472d7b"/><stop offset=".1128" stop-color="#482576"/><stop offset=".1255" stop-color="#443983"/><stop offset=".1298" stop-color="#482374"/><stop offset=".1383" stop-color="#433d84"/><stop offset=".1426" stop-color="#472d7b"/><stop offset=".1468" stop-color="#453781"/><stop offset=".1511" stop-color="#46307e"/><stop offset=".1723" stop-color="#3e4c8a"/><stop offset=".1766" stop-color="#38598c"/><stop offset=".1809" stop-color="#3c4f8a"/><stop offset=".1851" stop-color="#365c8d"/><stop offset=".1894" stop-color="#3c4f8a"/><stop offset=".1936" stop-color="#3b518b"/><stop offset=".1979" stop-color="#3e4c8a"/><stop offset=".2021" stop-color="#3c4f8a"/><stop offset=".2064" stop-color="#3e4a89"/><stop offset=".2106" stop-color="#38588c"/><stop offset=".2191" stop-color="#3a538b"/><stop offset=".2234" stop-color="#3e4a89"/><stop offset=".2277" stop-color="#365d8d"/><stop offset=".2447" stop-color="#375b8d"/><stop offset=".2574" stop-color="#2e6d8e"/><stop offset=".2702" stop-color="#306a8e"/><stop offset=".2745" stop-color="#29798e"/><stop offset=".2787" stop-color="#2b748e"/><stop offset=".2872" stop-color="#297a8e"/><stop offset=".3043" stop-color="#2c718e"/><stop offset=".3085" stop-color="#277e8e"/><stop offset=".3128" stop-color="#297a8e"/><stop offset=".3170" stop-color="#25838e"/><stop offset=".3213" stop-color="#287d8e"/><stop offset=".3255" stop-color="#26828e"/><stop offset=".3298" stop-color="#27808e"/><stop offset=".3340" stop-color="#2a778e"/><stop offset=".3383" stop-color="#29798e"/><stop offset=".3426" stop-color="#2d718e"/><stop offset=".3468" stop-color="#297a8e"/><stop offset=".3596" stop-color="#277e8e"/><stop offset=".3681" stop-color="#2eb37c"/><stop offset=".3723" stop-color="#25ab82"/><stop offset=".3766" stop-color="#2ab07f"/><stop offset=".3809" stop-color="#1f9f88"/><stop offset=".3894" stop-color="#25848e"/><stop offset=".3936" stop-color="#24868e"/><stop offset=".3979" stop-color="#2d708e"/><stop offset=".4021" stop-color="#24868e"/><stop offset=".4064" stop-color="#27808e"/><stop offset=".4106" stop-color="#25838e"/><stop offset=".4149" stop-color="#2a788e"/><stop offset=".4191" stop-color="#26828e"/><stop offset=".4234" stop-color="#287c8e"/><stop offset=".4277" stop-color="#228b8d"/><stop offset=".4319" stop-color="#228b8d"/><stop offset=".4362" stop-color="#2c718e"/><stop offset=".4404" stop-color="#2f6b8e"/><stop offset=".4489" stop-color="#2b748e"/><stop offset=".4532" stop-color="#25848e"/><stop offset=".4574" stop-color="#5cc863"/><stop offset=".4617" stop-color="#c2df23"/><stop offset=".4660" stop-color="#eae51a"/><stop offset=".4702" stop-color="#70cf57"/><stop offset=".4745" stop-color="#228b8d"/><stop offset=".4787" stop-color="#26828e"/><stop offset=".4830" stop-color="#25858e"/><stop offset=".4872" stop-color="#2a778e"/><stop offset=".4915" stop-color="#26828e"/><stop offset=".4957" stop-color="#29798e"/><stop offset=".5043" stop-color="#277e8e"/><stop offset=".5128" stop-color="#228d8d"/><stop offset=".5255" stop-color="#277e8e"/><stop offset=".5298" stop-color="#228b8d"/><stop offset=".5553" stop-color="#25848e"/><stop offset=".5596" stop-color="#287d8e"/><stop offset=".5638" stop-color="#30698e"/><stop offset=".5681" stop-color="#31678e"/><stop offset=".5723" stop-color="#2d718e"/><stop offset=".5766" stop-color="#34608d"/><stop offset=".5851" stop-color="#31688e"/><stop offset=".5894" stop-color="#365d8d"/><stop offset=".5936" stop-color="#32648e"/><stop offset=".6021" stop-color="#3d4e8a"/><stop offset=".6064" stop-color="#38588c"/><stop offset=".6149" stop-color="#39568c"/><stop offset=".6234" stop-color="#375b8d"/><stop offset=".6277" stop-color="#33628d"/><stop offset=".6319" stop-color="#2a778e"/><stop offset=".6362" stop-color="#1f968b"/><stop offset=".6404" stop-color="#21a585"/><stop offset=".6447" stop-color="#1fa188"/><stop offset=".6489" stop-color="#21918c"/><stop offset=".6532" stop-color="#2e6e8e"/><stop offset=".6574" stop-color="#3a548c"/><stop offset=".6617" stop-color="#3f4889"/><stop offset=".6702" stop-color="#3e4989"/><stop offset=".6830" stop-color="#463480"/><stop offset=".6872" stop-color="#453581"/><stop offset=".6915" stop-color="#424086"/><stop offset=".7000" stop-color="#453882"/><stop offset=".7043" stop-color="#3f4788"/><stop offset=".7170" stop-color="#46337f"/><stop offset=".7298" stop-color="#433d84"/><stop offset=".7340" stop-color="#453581"/><stop offset=".7383" stop-color="#424086"/><stop offset=".7426" stop-color="#472e7c"/><stop offset=".7511" stop-color="#453882"/><stop offset=".7638" stop-color="#472f7d"/><stop offset=".7723" stop-color="#443a83"/><stop offset=".7766" stop-color="#3f4788"/><stop offset=".7809" stop-color="#46307e"/><stop offset=".7851" stop-color="#482979"/><stop offset=".7894" stop-color="#453581"/><stop offset=".7936" stop-color="#46327e"/><stop offset=".7979" stop-color="#482576"/><stop offset=".8021" stop-color="#482677"/><stop offset=".8064" stop-color="#46327e"/><stop offset=".8149" stop-color="#472c7a"/><stop offset=".8191" stop-color="#46337f"/><stop offset=".8234" stop-color="#472e7c"/><stop offset=".8277" stop-color="#46307e"/><stop offset=".8319" stop-color="#472c7a"/><stop offset=".8447" stop-color="#453581"/><stop offset=".8489" stop-color="#472f7d"/><stop offset=".8574" stop-color="#453781"/><stop offset=".8617" stop-color="#472c7a"/><stop offset=".8660" stop-color="#46307e"/><stop offset=".8702" stop-color="#482878"/><stop offset=".8830" stop-color="#443a83"/><stop offset=".8915" stop-color="#472c7a"/><stop offset=".9000" stop-color="#472c7a"/><stop offset=".9043" stop-color="#443a83"/><stop offset=".9085" stop-color="#472e7c"/><stop offset=".9213" stop-color="#46327e"/><stop offset=".9255" stop-color="#472d7b"/><stop offset=".9298" stop-color="#443983"/><stop offset=".9383" stop-color="#482576"/><stop offset=".9511" stop-color="#46307e"/><stop offset=".9553" stop-color="#482878"/><stop offset=".9596" stop-color="#46327e"/><stop offset=".9723" stop-color="#482979"/><stop offset=".9766" stop-color="#481f70"/><stop offset=".9894" stop-color="#472d7b"/><stop offset=".9979" stop-color="#472e7c"/></linearGradient>
<linearGradient id="g48" x1="0" x2="1" y1="0" y2="0"><stop offset=".0021" stop-color="#443a83"/><stop offset=".0149" stop-color="#463480"/><stop offset=".0191" stop-color="#424086"/><stop offset=".0234" stop-color="#453581"/><stop offset=".0277" stop-color="#433e85"/><stop offset=".0319" stop-color="#472e7c"/><stop offset=".0362" stop-color="#453882"/><stop offset=".0404" stop-color="#453781"/><stop offset=".0532" stop-color="#482677"/><stop offset=".0617" stop-color="#472d7b"/><stop offset=".0660" stop-color="#443983"/><stop offset=".0702" stop-color="#46337f"/><stop offset=".0830" stop-color="#443a83"/><stop offset=".0915" stop-color="#46327e"/><stop offset=".1085" stop-color="#453581"/><stop offset=".1128" stop-color="#424086"/><stop offset=".1213" stop-color="#443b84"/><stop offset=".1255" stop-color="#404588"/><stop offset=".1340" stop-color="#453581"/><stop offset=".1383" stop-color="#443b84"/><stop offset=".1426" stop-color="#46327e"/><stop offset=".1596" stop-color="#404588"/><stop offset=".1638" stop-color="#414287"/><stop offset=".1681" stop-color="#3b528b"/><stop offset=".1723" stop-color="#3b518b"/><stop offset=".1766" stop-color="#375b8d"/><stop offset=".1809" stop-color="#365d8d"/><stop offset=".1851" stop-color="#38598c"/><stop offset=".1936" stop-color="#355e8d"/><stop offset=".1979" stop-color="#3e4989"/><stop offset=".2021" stop-color="#375b8d"/><stop offset=".2106" stop-color="#32658e"/><stop offset=".2149" stop-color="#355e8d"/><stop offset=".2234" stop-color="#31678e"/><stop offset=".2319" stop-color="#32658e"/><stop offset=".2362" stop-color="#355e8d"/><stop offset=".2404" stop-color="#2f6c8e"/><stop offset=".2447" stop-color="#2d718e"/><stop offset=".2489" stop-color="#32658e"/><stop offset=".2532" stop-color="#2f6b8e"/><stop offset=".2617" stop-color="#287c8e"/><stop offset=".2702" stop-color="#2a788e"/><stop offset=".2745" stop-color="#27808e"/><stop offset=".2787" stop-color="#29798e"/><stop offset=".2830" stop-color="#228b8d"/><stop offset=".2872" stop-color="#26828e"/><stop offset=".3000" stop-color="#27808e"/><stop offset=".3043" stop-color="#24868e"/><stop offset=".3085" stop-color="#297a8e"/><stop offset=".3170" stop-color="#238a8d"/><stop offset=".3255" stop-color="#2d718e"/><stop offset=".3298" stop-color="#277e8e"/><stop offset=".3468" stop-color="#24878e"/><stop offset=".3511" stop-color="#218e8d"/><stop offset=".3553" stop-color="#26828e"/><stop offset=".3638" stop-color="#26828e"/><stop offset=".3681" stop-color="#1f998a"/><stop offset=".3723" stop-color="#21a585"/><stop offset=".3809" stop-color="#29af7f"/><stop offset=".3851" stop-color="#3bbb75"/><stop offset=".3894" stop-color="#1f9a8a"/><stop offset=".3936" stop-color="#20a386"/><stop offset=".3979" stop-color="#228b8d"/><stop offset=".4021" stop-color="#20928c"/><stop offset=".4064" stop-color="#218e8d"/><stop offset=".4149" stop-color="#1f988b"/><stop offset=".4191" stop-color="#21908d"/><stop offset=".4234" stop-color="#1e9c89"/><stop offset=".4277" stop-color="#20938c"/><stop offset=".4319" stop-color="#1e9b8a"/><stop offset=".4362" stop-color="#228b8d"/><stop offset=".4404" stop-color="#1f968b"/><stop offset=".4489" stop-color="#228c8d"/><stop offset=".4532" stop-color="#1e9c89"/><stop offset=".4574" stop-color="#3dbc74"/><stop offset=".4617" stop-color="#d2e21b"/><stop offset=".4660" stop-color="#d5e21a"/><stop offset=".4702" stop-color="#a0da39"/><stop offset=".4745" stop-color="#1fa088"/><stop offset=".4787" stop-color="#20928c"/><stop offset=".4830" stop-color="#1e9d89"/><stop offset=".4872" stop-color="#21908d"/><stop offset=".4915" stop-color="#21918c"/><stop offset=".4957" stop-color="#1f988b"/><stop offset=".5043" stop-color="#1f968b"/><stop offset=".5128" stop-color="#228d8d"/><stop offset=".5255" stop-color="#20928c"/><stop offset=".5383" stop-color="#1f998a"/><stop offset=".5426" stop-color="#1fa188"/><stop offset=".5511" stop-color="#20928c"/><stop offset=".5553" stop-color="#1f9e89"/><stop offset=".5596" stop-color="#1f9a8a"/><stop offset=".5638" stop-color="#29798e"/><stop offset=".5681" stop-color="#2e6f8e"/><stop offset=".5809" stop-color="#2d708e"/><stop offset=".5851" stop-color="#30698e"/><stop offset=".5936" stop-color="#2e6f8e"/><stop offset=".5979" stop-color="#32648e"/><stop offset=".6021" stop-color="#2f6c8e"/><stop offset=".6106" stop-color="#34608d"/><stop offset=".6149" stop-color="#33628d"/><stop offset=".6191" stop-color="#365c8d"/><stop offset=".6234" stop-color="#34618d"/><stop offset=".6277" stop-color="#38588c"/><stop offset=".6319" stop-color="#31668e"/><stop offset=".6404" stop-color="#375a8c"/><stop offset=".6447" stop-color="#31688e"/><stop offset=".6489" stop-color="#228c8d"/><stop offset=".6532" stop-color="#1f9e89"/><stop offset=".6617" stop-color="#20a486"/><stop offset=".6660" stop-color="#23898e"/><stop offset=".6702" stop-color="#31668e"/><stop offset=".6745" stop-color="#39558c"/><stop offset=".6787" stop-color="#3c4f8a"/><stop offset=".6830" stop-color="#433d84"/><stop offset=".6872" stop-color="#46337f"/><stop offset=".6915" stop-color="#3c508b"/><stop offset=".7000" stop-color="#404588"/><stop offset=".7043" stop-color="#463480"/><stop offset=".7085" stop-color="#3d4d8a"/><stop offset=".7128" stop-color="#453781"/><stop offset=".7170" stop-color="#404588"/><stop offset=".7255" stop-color="#463480"/><stop offset=".7298" stop-color="#404588"/><stop offset=".7553" stop-color="#463480"/><stop offset=".7596" stop-color="#404588"/><stop offset=".7638" stop-color="#46337f"/><stop offset=".7723" stop-color="#443b84"/><stop offset=".7766" stop-color="#443a83"/><stop offset=".7809" stop-color="#46307e"/><stop offset=".7851" stop-color="#443b84"/><stop offset=".7894" stop-color="#472f7d"/><stop offset=".7936" stop-color="#443983"/><stop offset=".7979" stop-color="#46327e"/><stop offset=".8021" stop-color="#463480"/><stop offset=".8064" stop-color="#472f7d"/><stop offset=".8106" stop-color="#433d84"/><stop offset=".8149" stop-color="#472f7d"/><stop offset=".8277" stop-color="#453882"/><stop offset=".8319" stop-color="#472e7c"/><stop offset=".8362" stop-color="#463480"/><stop offset=".8489" stop-color="#472d7b"/><stop offset=".8532" stop-color="#433e85"/><stop offset=".8617" stop-color="#424086"/><stop offset=".8660" stop-color="#472e7c"/><stop offset=".8745" stop-color="#453581"/><stop offset=".8830" stop-color="#472e7c"/><stop offset=".8872" stop-color="#423f85"/><stop offset=".8915" stop-color="#404588"/><stop offset=".9000" stop-color="#453882"/><stop offset=".9085" stop-color="#46327e"/><stop offset=".9128" stop-color="#453581"/><stop offset=".9213" stop-color="#46327e"/><stop offset=".9255" stop-color="#453882"/><stop offset=".9340" stop-color="#472f7d"/><stop offset=".9383" stop-color="#443983"/><stop offset=".9511" stop-color="#472d7b"/><stop offset=".9553" stop-color="#453882"/><stop offset=".9596" stop-color="#46307e"/><stop offset=".9681" stop-color="#443b84"/><stop offset=".9723" stop-color="#472a7a"/><stop offset=".9809" stop-color="#46307e"/><stop offset=".9851" stop-color="#414287"/><stop offset=".9936" stop-color="#472e7c"/><stop offset=".9979" stop-color="#453781"/></linearGradient>
<linearGradient id="g49" x1="0" x2="1" y1="0" y2="0"><stop offset=".0021" stop-color="#443983"/><stop offset=".0106" stop-color="#472e7c"/><stop offset=".0149" stop-color="#472c7a"/><stop offset=".0191" stop-color="#463480"/><stop offset=".0234" stop-color="#481a6c"/><stop offset=".0277" stop-color="#453581"/><stop offset=".0362" stop-color="#46307e"/><stop offset=".0404" stop-color="#482979"/><stop offset=".0447" stop-color="#472d7b"/><stop offset=".0489" stop-color="#482979"/><stop offset=".0574" stop-color="#443983"/><stop offset=".0617" stop-color="#472e7c"/><stop offset=".0660" stop-color="#46327e"/><stop offset=".0787" stop-color="#482979"/><stop offset=".0830" stop-color="#453882"/><stop offset=".0872" stop-color="#482979"/><stop offset=".0915" stop-color="#482979"/><stop offset=".0957" stop-color="#46337f"/><stop offset=".1000" stop-color="#482979"/><stop offset=".1043" stop-color="#443a83"/><stop offset=".1085" stop-color="#482979"/><stop offset=".1128" stop-color="#443983"/><stop offset=".1213" stop-color="#443983"/><stop offset=".1255" stop-color="#472c7a"/><stop offset=".1298" stop-color="#414287"/><stop offset=".1340" stop-color="#443983"/><stop offset=".1426" stop-color="#3d4d8a"/><stop offset=".1468" stop-color="#3f4889"/><stop offset=".1511" stop-color="#38598c"/><stop offset=".1553" stop-color="#3d4e8a"/><stop offset=".1638" stop-color="#38598c"/><stop offset=".1809" stop-color="#375a8c"/><stop offset=".1851" stop-color="#3a538b"/><stop offset=".1894" stop-color="#34618d"/><stop offset=".1936" stop-color="#39568c"/><stop offset=".1979" stop-color="#34608d"/><stop offset=".2021" stop-color="#355f8d"/><stop offset=".2064" stop-color="#32658e"/><stop offset=".2106" stop-color="#32648e"/><stop offset=".2149" stop-color="#2f6c8e"/><stop offset=".2191" stop-color="#39568c"/><stop offset=".2319" stop-color="#33628d"/><stop offset=".2404" stop-color="#34608d"/><stop offset=".2574" stop-color="#355f8d"/><stop offset=".2660" stop-color="#306a8e"/><stop offset=".2787" stop-color="#2f6c8e"/><stop offset=".2830" stop-color="#2a778e"/><stop offset=".2915" stop-color="#2c728e"/><stop offset=".2957" stop-color="#29798e"/><stop offset=".3000" stop-color="#31688e"/><stop offset=".3043" stop-color="#2a778e"/><stop offset=".3128" stop-color="#2a788e"/><stop offset=".3170" stop-color="#2e6e8e"/><stop offset=".3213" stop-color="#297a8e"/><stop offset=".3255" stop-color="#2d708e"/><stop offset=".3298" stop-color="#297b8e"/><stop offset=".3340" stop-color="#2d708e"/><stop offset=".3383" stop-color="#2c728e"/><stop offset=".3468" stop-color="#30698e"/><stop offset=".3511" stop-color="#29798e"/><stop offset=".3553" stop-color="#30698e"/><stop offset=".3596" stop-color="#2f6b8e"/><stop offset=".3638" stop-color="#26828e"/><stop offset=".3681" stop-color="#23898e"/><stop offset=".3723" stop-color="#27808e"/><stop offset=".3766" stop-color="#228b8d"/><stop offset=".3809" stop-color="#218e8d"/><stop offset=".3936" stop-color="#26ad81"/><stop offset=".4021" stop-color="#20928c"/><stop offset=".4106" stop-color="#306a8e"/><stop offset=".4234" stop-color="#33628d"/><stop offset=".4319" stop-color="#355f8d"/><stop offset=".4362" stop-color="#24868e"/><stop offset=".4404" stop-color="#2a778e"/><stop offset=".4447" stop-color="#277f8e"/><stop offset=".4489" stop-color="#287d8e"/><stop offset=".4532" stop-color="#25848e"/><stop offset=".4574" stop-color="#27808e"/><stop offset=".4617" stop-color="#1f9e89"/><stop offset=".4660" stop-color="#b0dd2f"/><stop offset=".4745" stop-color="#cde11d"/><stop offset=".4787" stop-color="#3dbc74"/><stop offset=".4830" stop-color="#21918c"/><stop offset=".4915" stop-color="#218f8d"/><stop offset=".4957" stop-color="#25848e"/><stop offset=".5000" stop-color="#20928c"/><stop offset=".5043" stop-color="#23888e"/><stop offset=".5085" stop-color="#25848e"/><stop offset=".5170" stop-color="#228d8d"/><stop offset=".5213" stop-color="#1f988b"/><stop offset=".5298" stop-color="#20928c"/><stop offset=".5340" stop-color="#1f988b"/><stop offset=".5383" stop-color="#25838e"/><stop offset=".5426" stop-color="#228d8d"/><stop offset=".5511" stop-color="#25848e"/><stop offset=".5553" stop-color="#228c8d"/><stop offset=".5596" stop-color="#24878e"/><stop offset=".5638" stop-color="#228d8d"/><stop offset=".5681" stop-color="#2e6d8e"/><stop offset=".5809" stop-color="#31678e"/><stop offset=".5851" stop-color="#355e8d"/><stop offset=".5894" stop-color="#33638d"/><stop offset=".5936" stop-color="#39558c"/><stop offset=".6021" stop-color="#355e8d"/><stop offset=".6106" stop-color="#39568c"/><stop offset=".6149" stop-color="#38598c"/><stop offset=".6191" stop-color="#3c508b"/><stop offset=".6234" stop-color="#31678e"/><stop offset=".6319" stop-color="#3c4f8a"/><stop offset=".6362" stop-color="#38598c"/><stop offset=".6447" stop-color="#3b528b"/><stop offset=".6489" stop-color="#365d8d"/><stop offset=".6532" stop-color="#3e4c8a"/><stop offset=".6574" stop-color="#38598c"/><stop offset=".6617" stop-color="#3c4f8a"/><stop offset=".6660" stop-color="#3b528b"/><stop offset=".6702" stop-color="#25858e"/><stop offset=".6745" stop-color="#1f988b"/><stop offset=".6787" stop-color="#20938c"/><stop offset=".6830" stop-color="#1e9b8a"/><stop offset=".6872" stop-color="#287c8e"/><stop offset=".6915" stop-color="#3b528b"/><stop offset=".6957" stop-color="#453781"/><stop offset=".7043" stop-color="#433e85"/><stop offset=".7085" stop-color="#463480"/><stop offset=".7128" stop-color="#443a83"/><stop offset=".7170" stop-color="#463480"/><stop offset=".7255" stop-color="#433e85"/><stop offset=".7383" stop-color="#424086"/><stop offset=".7468" stop-color="#46337f"/><stop offset=".7511" stop-color="#433e85"/><stop offset=".7553" stop-color="#472f7d"/><stop offset=".7596" stop-color="#443a83"/><stop offset=".7638" stop-color="#472d7b"/><stop offset=".7681" stop-color="#472a7a"/><stop offset=".7723" stop-color="#481f70"/><stop offset=".7766" stop-color="#482878"/><stop offset=".7809" stop-color="#482374"/><stop offset=".7894" stop-color="#46337f"/><stop offset=".7936" stop-color="#472a7a"/><stop offset=".8064" stop-color="#453581"/><stop offset=".8277" stop-color="#46327e"/><stop offset=".8362" stop-color="#482878"/><stop offset=".8404" stop-color="#46327e"/><stop offset=".8447" stop-color="#482878"/><stop offset=".8489" stop-color="#414287"/><stop offset=".8532" stop-color="#46327e"/><stop offset=".8660" stop-color="#472f7d"/><stop offset=".8702" stop-color="#463480"/><stop offset=".8787" stop-color="#472a7a"/><stop offset=".8830" stop-color="#472f7d"/><stop offset=".8872" stop-color="#472a7a"/><stop offset=".8915" stop-color="#443b84"/><stop offset=".8957" stop-color="#472c7a"/><stop offset=".9000" stop-color="#482576"/><stop offset=".9128" stop-color="#463480"/><stop offset=".9170" stop-color="#482979"/><stop offset=".9213" stop-color="#46307e"/><stop offset=".9255" stop-color="#482677"/><stop offset=".9298" stop-color="#482878"/><stop offset=".9340" stop-color="#433e85"/><stop offset=".9426" stop-color="#482475"/><stop offset=".9511" stop-color="#453581"/><stop offset=".9553" stop-color="#463480"/><stop offset=".9596" stop-color="#443b84"/><stop offset=".9638" stop-color="#472e7c"/><stop offset=".9681" stop-color="#453581"/><stop offset=".9723" stop-color="#472f7d"/><stop offset=".9766" stop-color="#46327e"/><stop offset=".9809" stop-color="#472a7a"/><stop offset=".9851" stop-color="#472c7a"/><stop offset=".9894" stop-color="#453882"/><stop offset=".9936" stop-color="#453882"/><stop offset=".9979" stop-color="#482979"/></linearGradient><linearGradient id="cbg" x1="0" x2="0" y1="0" y2="1"><stop offset="0.000" stop-color="#fde725"/><stop offset="0.062" stop-color="#d8e219"/><stop offset="0.125" stop-color="#addc30"/><stop offset="0.188" stop-color="#84d44b"/><stop offset="0.250" stop-color="#5ec962"/><stop offset="0.312" stop-color="#3fbc73"/><stop offset="0.375" stop-color="#28ae80"/><stop offset="0.438" stop-color="#1fa088"/><stop offset="0.500" stop-color="#21918c"/><stop offset="0.562" stop-color="#26828e"/><stop offset="0.625" stop-color="#2c728e"/><stop offset="0.688" stop-color="#33638d"/><stop offset="0.750" stop-color="#3b528b"/><stop offset="0.812" stop-color="#424086"/><stop offset="0.875" stop-color="#472d7b"/><stop offset="0.938" stop-color="#48186a"/><stop offset="1.000" stop-color="#440154"/></linearGradient></defs>
<text x="80.70" y="5.40" font-size="13.00" text-anchor="middle">-<tspan font-family="NanumGothic">1</tspan></text>
<text x="138.70" y="5.40" font-size="13.00" text-anchor="middle">0</text>
<text x="197.00" y="5.40" font-size="13.00" text-anchor="middle"><tspan font-family="NanumGothic">1</tspan></text>
<text x="284.30" y="5.60" font-size="13.00" text-anchor="middle">-<tspan font-family="NanumGothic">1</tspan>00</text>
<text x="346.10" y="5.60" font-size="13.00" text-anchor="middle">0</text>
<text x="408.75" y="5.60" font-size="13.00" text-anchor="middle"><tspan font-family="NanumGothic">1</tspan>00</text>
<text x="89.30" y="19.10" font-size="13.00" text-anchor="start" textLength="99.30" lengthAdjust="spacingAndGlyphs">Frequency (MHz)</text>
<text x="298.50" y="19.10" font-size="13.00" text-anchor="start" textLength="96.50" lengthAdjust="spacingAndGlyphs">Frequency (kHz)</text>
<text x="14.70" y="18.90" font-size="20.00" text-anchor="start" textLength="11.50" lengthAdjust="spacingAndGlyphs" font-weight="bold" stroke="#000" stroke-width="0.3">c</text>
<rect x="46.60" y="162.704" width="352.90" height="3.546" fill="url(#g0)"/>
<rect x="46.60" y="159.958" width="352.90" height="3.546" fill="url(#g1)"/>
<rect x="46.60" y="157.212" width="352.90" height="3.546" fill="url(#g2)"/>
<rect x="46.60" y="154.466" width="352.90" height="3.546" fill="url(#g3)"/>
<rect x="46.60" y="151.720" width="352.90" height="3.546" fill="url(#g4)"/>
<rect x="46.60" y="148.974" width="352.90" height="3.546" fill="url(#g5)"/>
<rect x="46.60" y="146.228" width="352.90" height="3.546" fill="url(#g6)"/>
<rect x="46.60" y="143.482" width="352.90" height="3.546" fill="url(#g7)"/>
<rect x="46.60" y="140.736" width="352.90" height="3.546" fill="url(#g8)"/>
<rect x="46.60" y="137.990" width="352.90" height="3.546" fill="url(#g9)"/>
<rect x="46.60" y="135.244" width="352.90" height="3.546" fill="url(#g10)"/>
<rect x="46.60" y="132.498" width="352.90" height="3.546" fill="url(#g11)"/>
<rect x="46.60" y="129.752" width="352.90" height="3.546" fill="url(#g12)"/>
<rect x="46.60" y="127.006" width="352.90" height="3.546" fill="url(#g13)"/>
<rect x="46.60" y="124.260" width="352.90" height="3.546" fill="url(#g14)"/>
<rect x="46.60" y="121.514" width="352.90" height="3.546" fill="url(#g15)"/>
<rect x="46.60" y="118.768" width="352.90" height="3.546" fill="url(#g16)"/>
<rect x="46.60" y="116.022" width="352.90" height="3.546" fill="url(#g17)"/>
<rect x="46.60" y="113.276" width="352.90" height="3.546" fill="url(#g18)"/>
<rect x="46.60" y="110.530" width="352.90" height="3.546" fill="url(#g19)"/>
<rect x="46.60" y="107.784" width="352.90" height="3.546" fill="url(#g20)"/>
<rect x="46.60" y="105.038" width="352.90" height="3.546" fill="url(#g21)"/>
<rect x="46.60" y="102.292" width="352.90" height="3.546" fill="url(#g22)"/>
<rect x="46.60" y="99.546" width="352.90" height="3.546" fill="url(#g23)"/>
<rect x="46.60" y="96.800" width="352.90" height="3.546" fill="url(#g24)"/>
<rect x="46.60" y="94.054" width="352.90" height="3.546" fill="url(#g25)"/>
<rect x="46.60" y="91.308" width="352.90" height="3.546" fill="url(#g26)"/>
<rect x="46.60" y="88.562" width="352.90" height="3.546" fill="url(#g27)"/>
<rect x="46.60" y="85.816" width="352.90" height="3.546" fill="url(#g28)"/>
<rect x="46.60" y="83.070" width="352.90" height="3.546" fill="url(#g29)"/>
<rect x="46.60" y="80.324" width="352.90" height="3.546" fill="url(#g30)"/>
<rect x="46.60" y="77.578" width="352.90" height="3.546" fill="url(#g31)"/>
<rect x="46.60" y="74.832" width="352.90" height="3.546" fill="url(#g32)"/>
<rect x="46.60" y="72.086" width="352.90" height="3.546" fill="url(#g33)"/>
<rect x="46.60" y="69.340" width="352.90" height="3.546" fill="url(#g34)"/>
<rect x="46.60" y="66.594" width="352.90" height="3.546" fill="url(#g35)"/>
<rect x="46.60" y="63.848" width="352.90" height="3.546" fill="url(#g36)"/>
<rect x="46.60" y="61.102" width="352.90" height="3.546" fill="url(#g37)"/>
<rect x="46.60" y="58.356" width="352.90" height="3.546" fill="url(#g38)"/>
<rect x="46.60" y="55.610" width="352.90" height="3.546" fill="url(#g39)"/>
<rect x="46.60" y="52.864" width="352.90" height="3.546" fill="url(#g40)"/>
<rect x="46.60" y="50.118" width="352.90" height="3.546" fill="url(#g41)"/>
<rect x="46.60" y="47.372" width="352.90" height="3.546" fill="url(#g42)"/>
<rect x="46.60" y="44.626" width="352.90" height="3.546" fill="url(#g43)"/>
<rect x="46.60" y="41.880" width="352.90" height="3.546" fill="url(#g44)"/>
<rect x="46.60" y="39.134" width="352.90" height="3.546" fill="url(#g45)"/>
<rect x="46.60" y="36.388" width="352.90" height="3.546" fill="url(#g46)"/>
<rect x="46.60" y="33.642" width="352.90" height="3.546" fill="url(#g47)"/>
<rect x="46.60" y="30.896" width="352.90" height="3.546" fill="url(#g48)"/>
<rect x="46.60" y="28.950" width="352.90" height="2.746" fill="url(#g49)"/>
<clipPath id="hclip"><rect x="46.60" y="28.95" width="352.90" height="137.30"/></clipPath>
<g clip-path="url(#hclip)">
<line x1="246.80" y1="28.95" x2="197.29" y2="166.25" stroke="#5ec962" stroke-width="1.1" stroke-opacity="0.6"/>
<line x1="189.11" y1="78.00" x2="173.25" y2="122.00" stroke="#1e9c89" stroke-width="0.8" stroke-opacity="0.45"/>
<line x1="274.00" y1="70.00" x2="259.57" y2="110.00" stroke="#21918c" stroke-width="0.8" stroke-opacity="0.4"/>
</g>
<line x1="46.60" y1="100.25" x2="399.50" y2="100.25" stroke="#ff7f0e" stroke-width="1.5" stroke-dasharray="3.2 4.24" stroke-dashoffset="1.14"/>
<path d="M71.90 166.25v-7.4 M71.90 28.95v7.4 M122.30 166.25v-7.4 M122.30 28.95v7.4 M172.70 166.25v-7.4 M172.70 28.95v7.4 M223.10 166.25v-7.4 M223.10 28.95v7.4 M273.50 166.25v-7.4 M273.50 28.95v7.4 M323.90 166.25v-7.4 M323.90 28.95v7.4 M374.30 166.25v-7.4 M374.30 28.95v7.4 M46.60 138.79h7.2 M399.50 138.79h-7.2 M46.60 111.33h7.2 M399.50 111.33h-7.2 M46.60 83.87h7.2 M399.50 83.87h-7.2 M46.60 56.41h7.2 M399.50 56.41h-7.2" stroke="#000" stroke-width="1.2" fill="none"/>
<rect x="46.60" y="28.95" width="352.90" height="137.30" fill="none" stroke="#000" stroke-width="1.4"/>
<text x="40.00" y="170.85" font-size="13.00" text-anchor="end">0</text>
<text x="40.00" y="143.39" font-size="13.00" text-anchor="end"><tspan font-family="NanumGothic">1</tspan>0</text>
<text x="40.00" y="115.93" font-size="13.00" text-anchor="end">20</text>
<text x="40.00" y="88.47" font-size="13.00" text-anchor="end">30</text>
<text x="40.00" y="61.01" font-size="13.00" text-anchor="end">40</text>
<text x="40.00" y="33.55" font-size="13.00" text-anchor="end">50</text>
<text x="71.60" y="178.30" font-size="13.00" text-anchor="middle">-60</text>
<text x="122.00" y="178.30" font-size="13.00" text-anchor="middle">-40</text>
<text x="172.40" y="178.30" font-size="13.00" text-anchor="middle">-20</text>
<text x="223.10" y="178.30" font-size="13.00" text-anchor="middle">0</text>
<text x="273.50" y="178.30" font-size="13.00" text-anchor="middle">20</text>
<text x="323.90" y="178.30" font-size="13.00" text-anchor="middle">40</text>
<text x="374.30" y="178.30" font-size="13.00" text-anchor="middle">60</text>
<text x="152.90" y="191.70" font-size="13.00" text-anchor="start" textLength="140.60" lengthAdjust="spacingAndGlyphs">Relative frequency (kHz)</text>
<text x="0.00" y="0.00" font-size="13.00" text-anchor="middle" textLength="110.80" lengthAdjust="spacingAndGlyphs" transform="translate(9.7 97.5) rotate(-90)">Acquisition number</text>
<path d="M411.60 29.00H417.90V159.80L414.75 166.50L411.60 159.80Z" fill="url(#cbg)"/>
<path d="M411.60 159.80L417.90 159.80L414.75 166.50" fill="#440154"/>
<path d="M411.60 29.00H417.90V159.80L414.75 166.50L411.60 159.80Z" fill="none" stroke="#000" stroke-width="1.1" stroke-linejoin="miter"/>
<path d="M417.90 32.60H414.90" stroke="#000" stroke-width="1.1"/>
<path d="M417.90 91.00H414.90" stroke="#000" stroke-width="1.1"/>
<path d="M417.90 149.40H414.90" stroke="#000" stroke-width="1.1"/>
<text x="0.00" y="0.00" font-size="13.00" text-anchor="middle" textLength="124.30" lengthAdjust="spacingAndGlyphs" transform="translate(436.1 97.5) rotate(-90)">RF power (40 dB/div)</text>
<text x="14.90" y="195.20" font-size="20.00" text-anchor="start" textLength="13.10" lengthAdjust="spacingAndGlyphs" font-weight="bold" stroke="#000" stroke-width="0.3">d</text>
<defs><clipPath id="dclip"><rect x="46.60" y="202.10" width="392.50" height="60"/></clipPath></defs>
<path d="M102.55 261.26V202.10 M158.60 261.26V202.10 M214.65 261.26V202.10 M270.70 261.26V202.10 M326.75 261.26V202.10 M382.80 261.26V202.10 M46.33 206.90H439.10 M46.33 236.70H439.10" stroke="#b0b0b0" stroke-width="0.9" stroke-dasharray="3.8 4.56" fill="none"/>
<g clip-path="url(#dclip)">
<path d="M46.80 206.40 L48.60 207.00 L49.60 209.50 L50.40 224.50 L51.00 225.80 L51.70 214.00 L52.20 214.94 L52.70 219.55 L53.20 219.14 L53.70 217.82 L54.20 215.84 L54.70 221.09 L55.20 221.37 L55.70 218.62 L56.20 223.50 L56.70 216.61 L57.20 215.44 L57.70 217.90 L58.20 219.92 L58.70 216.08 L59.20 222.23 L59.70 217.34 L60.20 217.47 L60.70 216.46 L61.20 224.92 L61.70 222.30 L62.20 223.84 L62.70 221.35 L63.20 217.05 L63.70 219.08 L64.20 220.63 L64.70 217.85 L65.20 225.48 L65.70 219.97 L66.20 218.54 L66.70 224.56 L67.20 218.65 L67.70 226.10 L68.20 230.00 L68.70 222.56 L69.20 220.85 L69.70 222.25 L70.20 219.97 L70.70 219.24 L71.20 226.63 L71.70 220.77 L72.20 226.04 L72.70 220.88 L73.20 228.50 L73.70 227.81 L74.20 226.44 L74.70 226.70 L75.20 224.95 L75.70 226.65 L76.20 221.34 L76.70 224.37 L77.20 236.00 L77.70 222.32 L78.20 229.53 L78.70 229.27 L79.20 224.48 L79.70 224.23 L80.20 225.15 L80.70 233.50 L81.20 231.24 L81.70 225.00 L82.20 222.58 L82.70 223.06 L83.20 228.71 L83.70 231.95 L84.20 226.74 L84.70 226.84 L85.20 239.20 L85.70 229.73 L86.20 224.88 L86.70 228.48 L87.20 228.06 L87.70 228.84 L88.20 225.01 L88.70 225.04 L89.20 226.55 L89.70 232.63 L90.20 226.75 L90.70 229.24 L91.20 236.50 L91.70 225.25 L92.20 225.14 L92.70 232.00 L93.20 231.70 L93.70 227.76 L94.20 230.90 L94.70 230.93 L95.20 233.52 L95.70 234.33 L96.20 228.61 L96.70 234.96 L97.20 234.77 L97.70 243.30 L98.20 234.12 L98.70 230.03 L99.20 229.08 L99.70 228.11 L100.20 234.56 L100.70 227.72 L101.20 227.26 L101.70 240.00 L102.20 233.92 L102.70 230.97 L103.20 234.90 L103.70 227.78 L104.20 229.33 L104.70 229.71 L105.20 230.87 L105.70 229.19 L106.20 228.85 L106.70 230.55 L107.20 234.83 L107.70 235.37 L108.20 233.45 L108.70 231.76 L109.20 230.72 L109.70 234.85 L110.20 232.35 L111.00 233.68 L111.80 230.72 L112.60 231.54 L113.40 234.80 L114.20 234.72 L115.00 235.34 L115.80 234.09 L116.60 233.52 L117.40 234.38 L118.20 235.81 L119.00 233.76 L119.80 234.86 L120.60 234.16 L121.40 236.31 L122.20 234.01 L123.00 236.41 L123.80 237.78 L124.60 234.83 L125.40 236.75 L126.20 237.17 L127.00 238.20 L127.80 237.43 L128.60 236.66 L129.40 237.34 L130.20 239.49 L131.00 239.51 L131.80 237.41 L132.60 237.60 L133.40 237.86 L134.20 238.02 L135.00 239.20 L135.80 238.74 L136.60 240.95 L137.40 240.55 L138.20 239.51 L139.00 240.73 L139.80 240.45 L140.60 241.13 L141.40 240.75 L142.20 240.91 L143.00 241.20 L143.80 241.88 L144.60 243.01 L145.40 242.82 L146.20 242.02 L147.00 243.73 L147.80 244.43 L148.60 244.38 L149.40 244.66 L150.20 243.24 L151.00 244.31 L151.80 243.80 L152.60 245.54 L153.40 244.49 L154.20 245.90 L155.00 245.15 L155.80 246.36 L156.60 245.79 L157.40 245.63 L158.30 246.46 L158.60 233.80 L158.90 246.96 L159.00 246.59 L159.80 248.17 L160.60 247.13 L161.40 247.81 L162.20 248.19 L163.00 249.39 L163.80 247.97 L164.60 249.14 L165.40 249.19 L166.20 249.89 L167.00 250.63 L167.80 249.47 L168.60 250.44 L169.40 250.29 L170.20 250.57 L171.00 249.98 L171.80 251.53 L172.60 252.13 L173.40 251.09 L174.20 251.27 L175.00 252.88 L175.80 251.44 L176.60 251.64 L177.40 251.88 L178.20 253.43 L179.00 253.53 L179.80 253.10 L180.60 253.65 L181.40 252.86 L182.20 254.13 L183.00 253.92 L183.80 254.28 L184.60 254.23 L185.40 254.46" stroke="#1f77b4" stroke-width="1.8" fill="none" stroke-linejoin="round"/>
<path d="M60.6 253 L61.6 250.7 L62.6 253 " stroke="#2ca02c" stroke-width="1.2" fill="none"/>
<path d="M69.2 253 L69.7 251.9 L70.2 253 M82.1 253 L82.6 251.9 L83.1 253" stroke="#2ca02c" stroke-width="1.0" stroke-opacity="0.45" fill="none"/>
</g>
<path d="M63.37 202.10v3.8 M73.24 202.10v3.8 M80.25 202.10v3.8 M85.68 202.10v3.8 M90.12 202.10v3.8 M93.87 202.10v3.8 M97.12 202.10v3.8 M99.99 202.10v3.8 M102.55 202.10v7 M119.42 202.10v3.8 M129.29 202.10v3.8 M136.30 202.10v3.8 M141.73 202.10v3.8 M146.17 202.10v3.8 M149.92 202.10v3.8 M153.17 202.10v3.8 M156.04 202.10v3.8 M158.60 202.10v7 M175.47 202.10v3.8 M185.34 202.10v3.8 M192.35 202.10v3.8 M197.78 202.10v3.8 M202.22 202.10v3.8 M205.97 202.10v3.8 M209.22 202.10v3.8 M212.09 202.10v3.8 M214.65 202.10v7 M231.52 202.10v3.8 M241.39 202.10v3.8 M248.40 202.10v3.8 M253.83 202.10v3.8 M258.27 202.10v3.8 M262.02 202.10v3.8 M265.27 202.10v3.8 M268.14 202.10v3.8 M270.70 202.10v7 M287.57 202.10v3.8 M297.44 202.10v3.8 M304.45 202.10v3.8 M309.88 202.10v3.8 M314.32 202.10v3.8 M318.07 202.10v3.8 M321.32 202.10v3.8 M324.19 202.10v3.8 M326.75 202.10v7 M343.62 202.10v3.8 M353.49 202.10v3.8 M360.50 202.10v3.8 M365.93 202.10v3.8 M370.37 202.10v3.8 M374.12 202.10v3.8 M377.37 202.10v3.8 M380.24 202.10v3.8 M382.80 202.10v7 M399.67 202.10v3.8 M409.54 202.10v3.8 M416.55 202.10v3.8 M421.98 202.10v3.8 M426.42 202.10v3.8 M430.17 202.10v3.8 M433.42 202.10v3.8 M436.29 202.10v3.8 M46.60 206.90h7 M439.10 206.90h-7 M46.60 236.70h7 M439.10 236.70h-7" stroke="#000" stroke-width="1.0" fill="none"/>
<path d="M46.60 260V202.10H439.10V260" stroke="#000" stroke-width="1.3" fill="none"/>
<text x="40.00" y="212.60" font-size="13.00" text-anchor="end">50</text>
<text x="40.00" y="241.40" font-size="13.00" text-anchor="end">0</text>
<text x="0.00" y="0.00" font-size="13.00" text-anchor="end" transform="translate(10.3 203.6) rotate(-90) scale(1.04 1)">Phase noise (dBc/Hz)</text>
<rect x="337.4" y="205.6" width="97.9" height="27.6" rx="2" ry="2" fill="#fff" fill-opacity="0.9" stroke="#d0d0d0" stroke-width="0.9"/>
<path d="M338.8 211.4H351.5" stroke="#1f77b4" stroke-width="1.6"/>
<path d="M338.8 224.6H351.5" stroke="#2ca02c" stroke-width="1.6"/>
<text x="356.40" y="215.30" font-size="11.00" text-anchor="start" textLength="63.0" lengthAdjust="spacingAndGlyphs">Free running</text>
<text x="356.40" y="228.20" font-size="11.00" text-anchor="start" textLength="77.0" lengthAdjust="spacingAndGlyphs">Injection locked</text>
</svg>
</body></html>
